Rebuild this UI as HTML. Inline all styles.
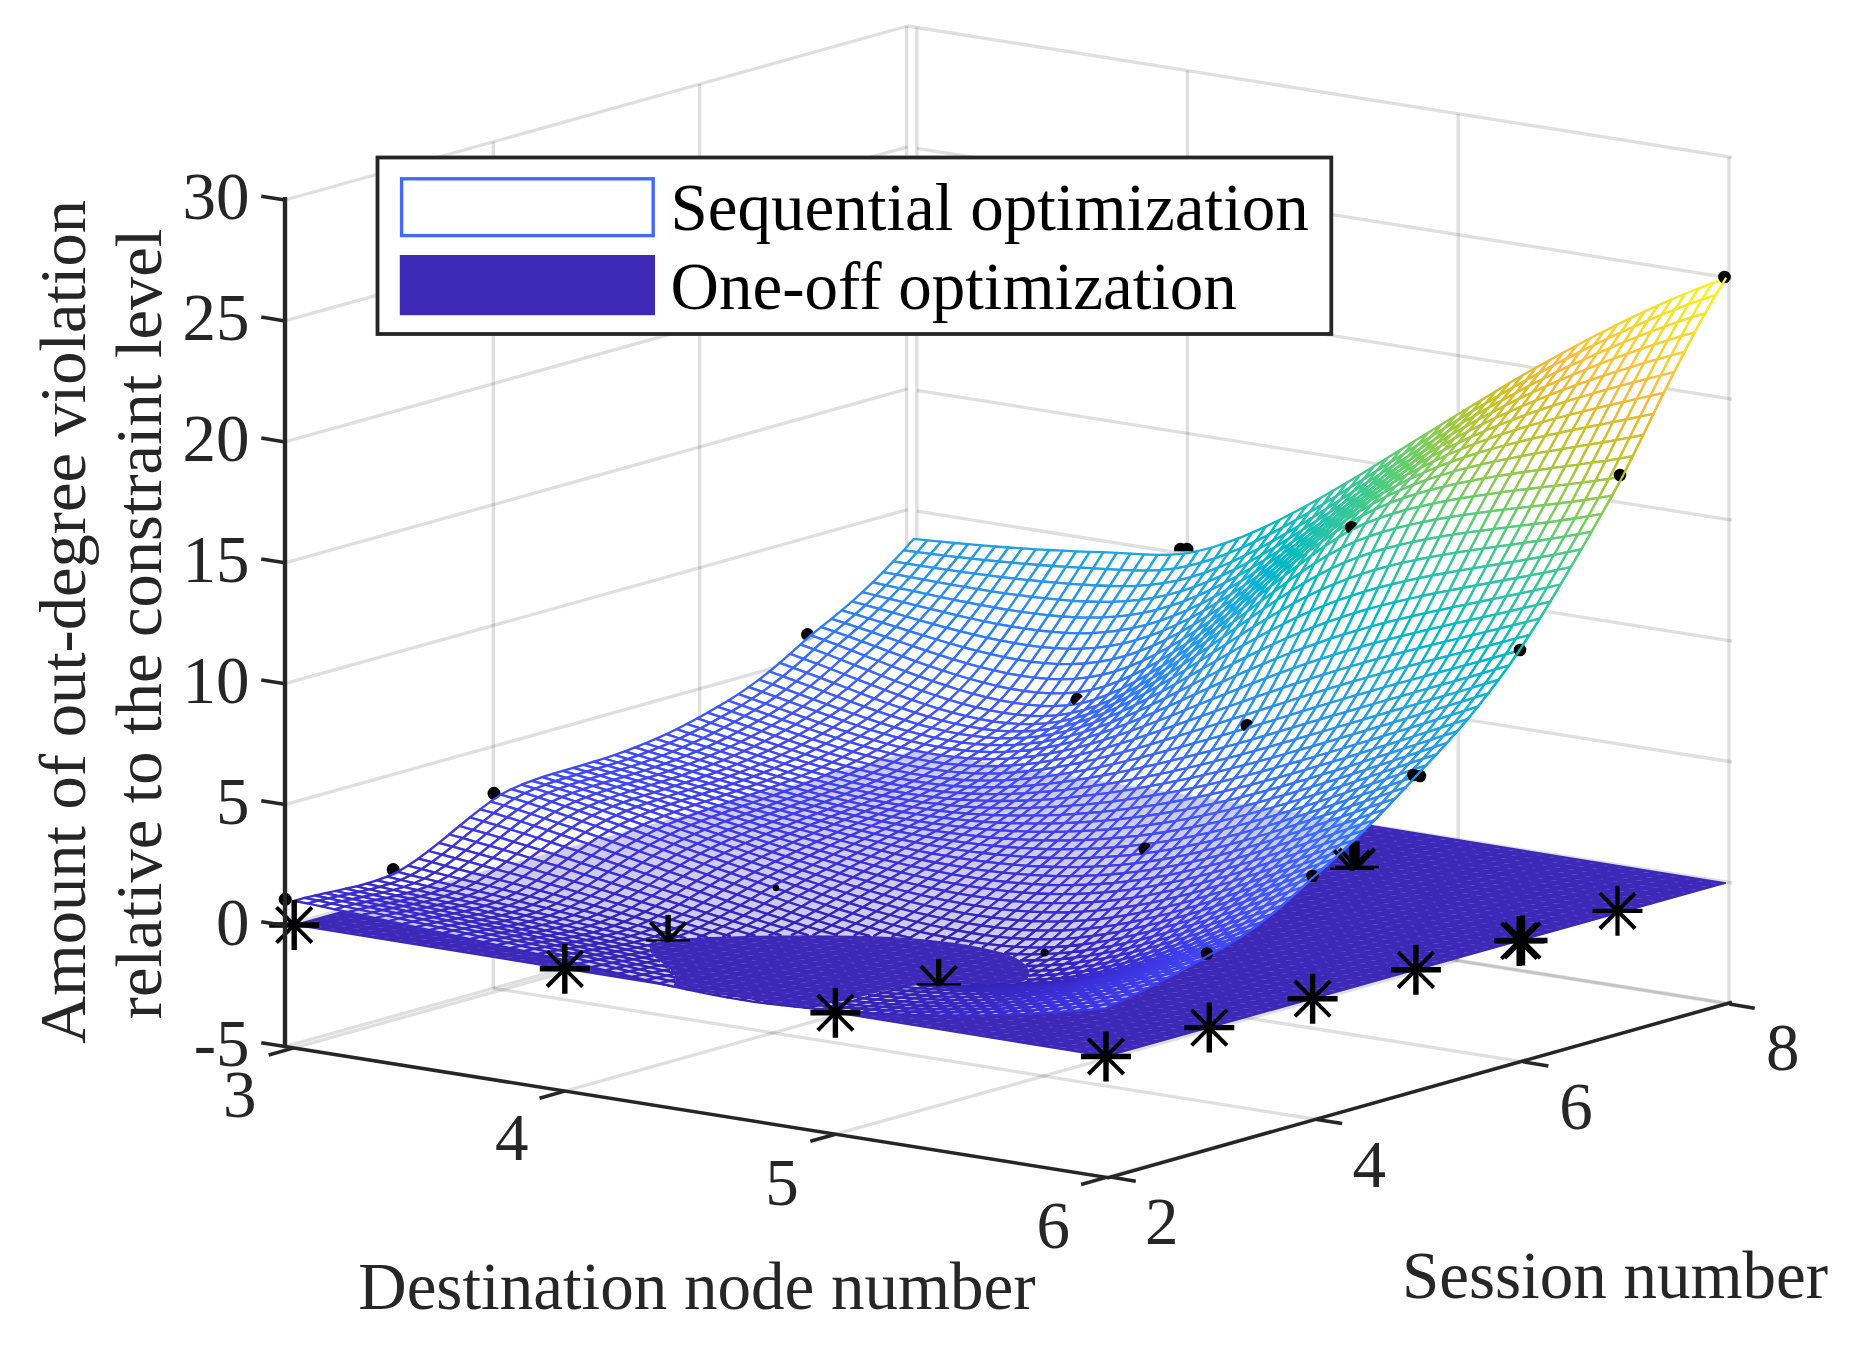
<!DOCTYPE html>
<html lang="en"><head><meta charset="utf-8"><title>Out-degree violation</title>
<style>html,body{margin:0;padding:0;background:#fff}svg{display:block}text{font-family:"Liberation Serif","Times New Roman",serif;font-size:67px;fill:#262626}</style></head><body>
<svg width="1861" height="1353" viewBox="0 0 1861 1353">
<rect width="1861" height="1353" fill="#fff"/>
<g stroke="#262626" stroke-opacity=".15" stroke-width="3.3" fill="none">
<path d="M493.3,988.3V141.8"/>
<path d="M699.6,930.6V84.1"/>
<path d="M906.6,872.8V26.3"/>
<path d="M285,1046.5L907.6,872.5"/>
<path d="M285,925.6L907.6,751.6"/>
<path d="M285,804.6L907.6,630.6"/>
<path d="M285,683.7L907.6,509.7"/>
<path d="M285,562.8L907.6,388.8"/>
<path d="M285,441.9L907.6,267.9"/>
<path d="M285,320.9L907.6,146.9"/>
<path d="M285,200L907.6,26"/>
<path d="M916.9,874V27.5"/>
<path d="M1187.4,917.1V70.6"/>
<path d="M1458.2,960.2V113.7"/>
<path d="M1729,1003.4V156.9"/>
<path d="M916.9,874L1732,1003.9"/>
<path d="M916.9,753.1L1732,883"/>
<path d="M916.9,632.1L1732,762"/>
<path d="M916.9,511.2L1732,641.1"/>
<path d="M916.9,390.3L1732,520.2"/>
<path d="M916.9,269.3L1732,399.2"/>
<path d="M916.9,148.4L1732,278.3"/>
<path d="M916.9,27.5L1732,157.4"/>
<path d="M907.6,26L916.9,27.5"/>
<path d="M293.9,1047.9l622.6,-174"/>
<path d="M564.7,1091.1l622.6,-174"/>
<path d="M835.5,1134.2l622.6,-174"/>
<path d="M1106.3,1177.4l622.6,-174"/>
<path d="M493.3,988.3l823.4,131.2"/>
<path d="M699.6,930.6l823.4,131.2"/>
<path d="M905.9,873l823.4,131.2"/>
</g>
<g fill="#000">
<circle cx="285.2" cy="899.3" r="6.5"/>
<circle cx="393.2" cy="869.6" r="6.5"/>
<circle cx="494" cy="793.3" r="6.5"/>
<circle cx="807.5" cy="634.5" r="6.5"/>
</g>
<g fill="#fff" fill-opacity=".75" stroke-width="2.3" stroke-linejoin="round">
<path d="M909.9,937.9l13.5,3.1l10.4,-6.2l-13.6,-3z" stroke="#3523b6"/>
<path d="M923.4,941l13.6,2.8l10.3,-6.3l-13.5,-2.7z" stroke="#3523b5"/>
<path d="M937,943.8l13.5,2.6l10.3,-6.4l-13.5,-2.5z" stroke="#3523b4"/>
<path d="M950.5,946.4l13.5,2.3l10.4,-6.5l-13.6,-2.2z" stroke="#3523b4"/>
<path d="M964,948.7l13.6,1.9l10.3,-6.5l-13.5,-1.9z" stroke="#3523b4"/>
<path d="M977.5,950.6l13.5,1.6l10.3,-6.6l-13.5,-1.5z" stroke="#3523b5"/>
<path d="M991.1,952.2l13.5,1.3l10.3,-6.7l-13.5,-1.2z" stroke="#3523b6"/>
<path d="M1004.6,953.5l13.5,0.7l10.4,-6.8l-13.6,-0.6z" stroke="#3524b7"/>
<path d="M859,933.1l13.5,3.7l10.3,-5.7l-13.5,-3.7z" stroke="#3524b6"/>
<path d="M872.5,936.8l13.5,3.5l10.4,-5.7l-13.6,-3.5z" stroke="#3523b5"/>
<path d="M886,940.3l13.6,3.3l10.3,-5.7l-13.5,-3.3z" stroke="#3523b3"/>
<path d="M899.6,943.6l13.5,3.1l10.3,-5.7l-13.5,-3.1z" stroke="#3422b2"/>
<path d="M913.1,946.7l13.5,2.8l10.4,-5.7l-13.6,-2.8z" stroke="#3422b1"/>
<path d="M926.6,949.5l13.6,2.6l10.3,-5.7l-13.5,-2.6z" stroke="#3422b0"/>
<path d="M940.2,952.1l13.5,2.3l10.3,-5.7l-13.5,-2.3z" stroke="#3422b0"/>
<path d="M953.7,954.4l13.5,2l10.4,-5.8l-13.6,-1.9z" stroke="#3422b0"/>
<path d="M967.2,956.4l13.5,1.6l10.4,-5.8l-13.5,-1.6z" stroke="#3422b1"/>
<path d="M980.7,958l13.6,1.3l10.3,-5.8l-13.5,-1.3z" stroke="#3422b2"/>
<path d="M994.3,959.3l13.5,0.8l10.3,-5.9l-13.5,-0.7z" stroke="#3522b3"/>
<path d="M1007.8,960.1l13.5,0.4l10.4,-6l-13.6,-0.3z" stroke="#3523b5"/>
<path d="M835.1,934.7l13.6,3.8l10.3,-5.4l-13.6,-3.8z" stroke="#3523b5"/>
<path d="M848.7,938.5l13.5,3.6l10.3,-5.3l-13.5,-3.7z" stroke="#3523b3"/>
<path d="M862.2,942.1l13.5,3.4l10.3,-5.2l-13.5,-3.5z" stroke="#3422b1"/>
<path d="M875.7,945.5l13.5,3.3l10.4,-5.2l-13.6,-3.3z" stroke="#3422b0"/>
<path d="M889.2,948.8l13.6,3l10.3,-5.1l-13.5,-3.1z" stroke="#3421af"/>
<path d="M902.8,951.8l13.5,2.8l10.3,-5.1l-13.5,-2.8z" stroke="#3421ae"/>
<path d="M916.3,954.6l13.5,2.5l10.4,-5l-13.6,-2.6z" stroke="#3421ad"/>
<path d="M929.8,957.1l13.6,2.3l10.3,-5l-13.5,-2.3z" stroke="#3421ad"/>
<path d="M943.4,959.4l13.5,2l10.3,-5l-13.5,-2z" stroke="#3421ad"/>
<path d="M956.9,961.4l13.5,1.7l10.3,-5.1l-13.5,-1.6z" stroke="#3421ae"/>
<path d="M970.4,963.1l13.6,1.3l10.3,-5.1l-13.6,-1.3z" stroke="#3421ae"/>
<path d="M984,964.4l13.5,0.9l10.3,-5.2l-13.5,-0.8z" stroke="#3422b0"/>
<path d="M997.5,965.3l13.5,0.6l10.3,-5.4l-13.5,-0.4z" stroke="#3422b2"/>
<path d="M1011,965.9l13.5,0.2l10.4,-5.6l-13.6,0z" stroke="#3523b4"/>
<path d="M1024.5,966.1l13.6,-0.3l10.3,-5.9l-13.5,0.6z" stroke="#3524b7"/>
<path d="M797.7,932.2l13.6,3.9l10.3,-5.3l-13.5,-4z" stroke="#3523b6"/>
<path d="M811.3,936.1l13.5,3.8l10.3,-5.2l-13.5,-3.9z" stroke="#3523b4"/>
<path d="M824.8,939.9l13.5,3.6l10.4,-5l-13.6,-3.8z" stroke="#3522b2"/>
<path d="M838.3,943.5l13.5,3.5l10.4,-4.9l-13.5,-3.6z" stroke="#3422b0"/>
<path d="M851.9,947l13.6,3.3l10.3,-4.8l-13.5,-3.4z" stroke="#3421af"/>
<path d="M865.4,950.3l13.5,3.1l10.3,-4.6l-13.5,-3.3z" stroke="#3421ad"/>
<path d="M878.9,953.4l13.5,2.9l10.4,-4.5l-13.6,-3z" stroke="#3321ac"/>
<path d="M892.4,956.3l13.6,2.8l10.3,-4.5l-13.5,-2.8z" stroke="#3320ac"/>
<path d="M906,959.1l13.5,2.4l10.3,-4.4l-13.5,-2.5z" stroke="#3320ab"/>
<path d="M919.5,961.5l13.5,2.3l10.4,-4.4l-13.6,-2.3z" stroke="#3320ab"/>
<path d="M933,963.8l13.6,1.9l10.3,-4.3l-13.5,-2z" stroke="#3320ab"/>
<path d="M946.6,965.7l13.5,1.7l10.3,-4.3l-13.5,-1.7z" stroke="#3320ab"/>
<path d="M960.1,967.4l13.5,1.5l10.4,-4.5l-13.6,-1.3z" stroke="#3321ac"/>
<path d="M973.6,968.9l13.6,1l10.3,-4.6l-13.5,-0.9z" stroke="#3421ad"/>
<path d="M987.2,969.9l13.5,0.8l10.3,-4.8l-13.5,-0.6z" stroke="#3421af"/>
<path d="M1000.7,970.7l13.5,0.4l10.3,-5l-13.5,-0.2z" stroke="#3422b1"/>
<path d="M1014.2,971.1l13.5,0l10.4,-5.3l-13.6,0.3z" stroke="#3523b4"/>
<path d="M1027.7,971.1l13.6,-0.4l10.3,-5.6l-13.5,0.7z" stroke="#3524b7"/>
<path d="M773.9,933.3l13.5,3.9l10.3,-5l-13.5,-4z" stroke="#3523b5"/>
<path d="M787.4,937.2l13.5,3.7l10.4,-4.8l-13.6,-3.9z" stroke="#3523b3"/>
<path d="M800.9,940.9l13.6,3.7l10.3,-4.7l-13.5,-3.8z" stroke="#3422b1"/>
<path d="M814.5,944.6l13.5,3.5l10.3,-4.6l-13.5,-3.6z" stroke="#3422b0"/>
<path d="M828,948.1l13.5,3.3l10.3,-4.4l-13.5,-3.5z" stroke="#3421ae"/>
<path d="M841.5,951.4l13.5,3.2l10.4,-4.3l-13.6,-3.3z" stroke="#3321ad"/>
<path d="M855,954.6l13.6,3l10.3,-4.2l-13.5,-3.1z" stroke="#3320ac"/>
<path d="M868.6,957.6l13.5,2.8l10.3,-4.1l-13.5,-2.9z" stroke="#3320ab"/>
<path d="M882.1,960.4l13.5,2.5l10.4,-3.8l-13.6,-2.8z" stroke="#3320aa"/>
<path d="M895.6,962.9l13.6,2.4l10.3,-3.8l-13.5,-2.4z" stroke="#3320a9"/>
<path d="M909.2,965.3l13.5,2.2l10.3,-3.7l-13.5,-2.3z" stroke="#3320a9"/>
<path d="M922.7,967.5l13.5,1.9l10.4,-3.7l-13.6,-1.9z" stroke="#3320a9"/>
<path d="M936.2,969.4l13.6,1.8l10.3,-3.8l-13.5,-1.7z" stroke="#3320aa"/>
<path d="M949.8,971.2l13.5,1.4l10.3,-3.7l-13.5,-1.5z" stroke="#3320ab"/>
<path d="M963.3,972.6l13.5,1.2l10.4,-3.9l-13.6,-1z" stroke="#3320ac"/>
<path d="M976.8,973.8l13.6,1l10.3,-4.1l-13.5,-0.8z" stroke="#3421ad"/>
<path d="M990.4,974.8l13.5,0.6l10.3,-4.3l-13.5,-0.4z" stroke="#3421af"/>
<path d="M1003.9,975.4l13.5,0.3l10.3,-4.6l-13.5,0z" stroke="#3422b1"/>
<path d="M1017.4,975.7l13.5,-0.1l10.4,-4.9l-13.6,0.4z" stroke="#3523b4"/>
<path d="M750,934.3l13.5,3.8l10.4,-4.8l-13.6,-3.9z" stroke="#3523b5"/>
<path d="M763.5,938.1l13.6,3.7l10.3,-4.6l-13.5,-3.9z" stroke="#3523b3"/>
<path d="M777.1,941.8l13.5,3.6l10.3,-4.5l-13.5,-3.7z" stroke="#3422b1"/>
<path d="M790.6,945.4l13.5,3.5l10.4,-4.3l-13.6,-3.7z" stroke="#3421af"/>
<path d="M804.1,948.9l13.6,3.3l10.3,-4.1l-13.5,-3.5z" stroke="#3421ae"/>
<path d="M817.7,952.2l13.5,3.2l10.3,-4l-13.5,-3.3z" stroke="#3321ac"/>
<path d="M831.2,955.4l13.5,3l10.3,-3.8l-13.5,-3.2z" stroke="#3320ab"/>
<path d="M844.7,958.4l13.5,2.8l10.4,-3.6l-13.6,-3z" stroke="#3320aa"/>
<path d="M858.2,961.2l13.6,2.6l10.3,-3.4l-13.5,-2.8z" stroke="#3320a9"/>
<path d="M871.8,963.8l13.5,2.4l10.3,-3.3l-13.5,-2.5z" stroke="#3320a9"/>
<path d="M885.3,966.2l13.5,2.3l10.4,-3.2l-13.6,-2.4z" stroke="#3320a9"/>
<path d="M898.8,968.5l13.6,2.1l10.3,-3.1l-13.5,-2.2z" stroke="#3320a9"/>
<path d="M912.4,970.6l13.5,1.9l10.3,-3.1l-13.5,-1.9z" stroke="#3320a9"/>
<path d="M925.9,972.5l13.5,1.7l10.4,-3l-13.6,-1.8z" stroke="#3320a9"/>
<path d="M939.4,974.2l13.6,1.5l10.3,-3.1l-13.5,-1.4z" stroke="#3320aa"/>
<path d="M953,975.7l13.5,1.3l10.3,-3.2l-13.5,-1.2z" stroke="#3320ab"/>
<path d="M966.5,977l13.5,1l10.4,-3.2l-13.6,-1z" stroke="#3321ac"/>
<path d="M980,978l13.6,0.9l10.3,-3.5l-13.5,-0.6z" stroke="#3421ae"/>
<path d="M993.6,978.9l13.5,0.6l10.3,-3.8l-13.5,-0.3z" stroke="#3422b0"/>
<path d="M1007.1,979.5l13.5,0.3l10.3,-4.2l-13.5,0.1z" stroke="#3522b2"/>
<path d="M1020.6,979.8l13.5,-0.1l10.4,-4.5l-13.6,0.4z" stroke="#3523b5"/>
<path d="M726.1,935.2l13.6,3.6l10.3,-4.5l-13.5,-3.8z" stroke="#3523b5"/>
<path d="M739.7,938.8l13.5,3.6l10.3,-4.3l-13.5,-3.8z" stroke="#3522b3"/>
<path d="M753.2,942.4l13.5,3.6l10.4,-4.2l-13.6,-3.7z" stroke="#3422b1"/>
<path d="M766.7,946l13.6,3.4l10.3,-4l-13.5,-3.6z" stroke="#3421af"/>
<path d="M780.3,949.4l13.5,3.2l10.3,-3.7l-13.5,-3.5z" stroke="#3421ae"/>
<path d="M793.8,952.6l13.5,3.2l10.4,-3.6l-13.6,-3.3z" stroke="#3321ac"/>
<path d="M807.3,955.8l13.6,3l10.3,-3.4l-13.5,-3.2z" stroke="#3320ab"/>
<path d="M820.9,958.8l13.5,2.8l10.3,-3.2l-13.5,-3z" stroke="#3320aa"/>
<path d="M834.4,961.6l13.5,2.7l10.3,-3.1l-13.5,-2.8z" stroke="#3320aa"/>
<path d="M847.9,964.3l13.5,2.4l10.4,-2.9l-13.6,-2.6z" stroke="#3320a9"/>
<path d="M861.4,966.7l13.6,2.3l10.3,-2.8l-13.5,-2.4z" stroke="#3320a9"/>
<path d="M875,969l13.5,2.1l10.3,-2.6l-13.5,-2.3z" stroke="#3320a9"/>
<path d="M888.5,971.1l13.5,1.9l10.4,-2.4l-13.6,-2.1z" stroke="#3320a9"/>
<path d="M902,973l13.6,1.8l10.3,-2.3l-13.5,-1.9z" stroke="#3320a9"/>
<path d="M915.6,974.8l13.5,1.6l10.3,-2.2l-13.5,-1.7z" stroke="#3320aa"/>
<path d="M929.1,976.4l13.5,1.5l10.4,-2.2l-13.6,-1.5z" stroke="#3320aa"/>
<path d="M942.6,977.9l13.6,1.3l10.3,-2.2l-13.5,-1.3z" stroke="#3320ab"/>
<path d="M956.2,979.2l13.5,1.2l10.3,-2.4l-13.5,-1z" stroke="#3321ad"/>
<path d="M969.7,980.4l13.5,1l10.4,-2.5l-13.6,-0.9z" stroke="#3421ae"/>
<path d="M983.2,981.4l13.6,0.8l10.3,-2.7l-13.5,-0.6z" stroke="#3422b0"/>
<path d="M996.8,982.2l13.5,0.6l10.3,-3l-13.5,-0.3z" stroke="#3422b2"/>
<path d="M1010.3,982.8l13.5,0.2l10.3,-3.3l-13.5,0.1z" stroke="#3523b4"/>
<path d="M702.3,935.8l13.5,3.6l10.3,-4.2l-13.5,-3.8z" stroke="#3523b5"/>
<path d="M715.8,939.4l13.6,3.5l10.3,-4.1l-13.6,-3.6z" stroke="#3522b3"/>
<path d="M729.4,942.9l13.5,3.4l10.3,-3.9l-13.5,-3.6z" stroke="#3422b1"/>
<path d="M742.9,946.3l13.5,3.3l10.3,-3.6l-13.5,-3.6z" stroke="#3422b0"/>
<path d="M756.4,949.6l13.5,3.3l10.4,-3.5l-13.6,-3.4z" stroke="#3421ae"/>
<path d="M769.9,952.9l13.6,3l10.3,-3.3l-13.5,-3.2z" stroke="#3421ad"/>
<path d="M783.5,955.9l13.5,3l10.3,-3.1l-13.5,-3.2z" stroke="#3320ac"/>
<path d="M797,958.9l13.5,2.8l10.4,-2.9l-13.6,-3z" stroke="#3320ab"/>
<path d="M810.5,961.7l13.6,2.7l10.3,-2.8l-13.5,-2.8z" stroke="#3320aa"/>
<path d="M824.1,964.4l13.5,2.4l10.3,-2.5l-13.5,-2.7z" stroke="#3320a9"/>
<path d="M837.6,966.8l13.5,2.3l10.3,-2.4l-13.5,-2.4z" stroke="#3320a9"/>
<path d="M851.1,969.1l13.5,2.1l10.4,-2.2l-13.6,-2.3z" stroke="#3320a9"/>
<path d="M864.7,971.2l13.6,1.9l10.3,-2l-13.5,-2.1z" stroke="#3320a9"/>
<path d="M878.2,973.1l13.5,1.8l10.3,-1.9l-13.5,-1.9z" stroke="#3320a9"/>
<path d="M891.7,974.9l13.5,1.6l10.4,-1.7l-13.6,-1.8z" stroke="#3320aa"/>
<path d="M905.2,976.5l13.6,1.5l10.3,-1.6l-13.5,-1.6z" stroke="#3320ab"/>
<path d="M918.8,978l13.5,1.4l10.3,-1.5l-13.5,-1.5z" stroke="#3320ac"/>
<path d="M932.3,979.4l13.5,1.3l10.4,-1.5l-13.6,-1.3z" stroke="#3321ad"/>
<path d="M945.8,980.7l13.6,1.2l10.3,-1.5l-13.5,-1.2z" stroke="#3421ae"/>
<path d="M959.4,981.9l13.5,1l10.3,-1.5l-13.5,-1z" stroke="#3421af"/>
<path d="M972.9,982.9l13.5,0.9l10.4,-1.6l-13.6,-0.8z" stroke="#3422b1"/>
<path d="M986.4,983.8l13.6,0.7l10.3,-1.7l-13.5,-0.6z" stroke="#3522b2"/>
<path d="M1000,984.5l13.5,0.4l10.3,-1.9l-13.5,-0.2z" stroke="#3523b5"/>
<path d="M678.4,936.3l13.6,3.5l10.3,-4l-13.5,-3.6z" stroke="#3523b5"/>
<path d="M692,939.8l13.5,3.4l10.3,-3.8l-13.5,-3.6z" stroke="#3523b3"/>
<path d="M705.5,943.2l13.5,3.3l10.4,-3.6l-13.6,-3.5z" stroke="#3422b2"/>
<path d="M719,946.5l13.6,3.3l10.3,-3.5l-13.5,-3.4z" stroke="#3422b0"/>
<path d="M732.6,949.8l13.5,3.1l10.3,-3.3l-13.5,-3.3z" stroke="#3421af"/>
<path d="M746.1,952.9l13.5,3l10.3,-3l-13.5,-3.3z" stroke="#3421ae"/>
<path d="M759.6,955.9l13.5,2.9l10.4,-2.9l-13.6,-3z" stroke="#3321ad"/>
<path d="M773.1,958.8l13.6,2.8l10.3,-2.7l-13.5,-3z" stroke="#3320ac"/>
<path d="M786.7,961.6l13.5,2.6l10.3,-2.5l-13.5,-2.8z" stroke="#3320ab"/>
<path d="M800.2,964.2l13.5,2.5l10.4,-2.3l-13.6,-2.7z" stroke="#3320aa"/>
<path d="M813.7,966.7l13.6,2.3l10.3,-2.2l-13.5,-2.4z" stroke="#3320aa"/>
<path d="M827.3,969l13.5,2.2l10.3,-2.1l-13.5,-2.3z" stroke="#3320aa"/>
<path d="M840.8,971.2l13.5,1.9l10.3,-1.9l-13.5,-2.1z" stroke="#3320aa"/>
<path d="M854.3,973.1l13.5,1.8l10.4,-1.8l-13.6,-1.9z" stroke="#3320aa"/>
<path d="M867.9,974.9l13.6,1.6l10.3,-1.6l-13.5,-1.8z" stroke="#3320ab"/>
<path d="M881.4,976.5l13.5,1.5l10.3,-1.5l-13.5,-1.6z" stroke="#3320ab"/>
<path d="M894.9,978l13.5,1.3l10.4,-1.3l-13.6,-1.5z" stroke="#3321ac"/>
<path d="M908.4,979.3l13.6,1.2l10.3,-1.1l-13.5,-1.4z" stroke="#3421ad"/>
<path d="M922,980.5l13.5,1.2l10.3,-1l-13.5,-1.3z" stroke="#3421af"/>
<path d="M935.5,981.7l13.5,1.1l10.4,-0.9l-13.6,-1.2z" stroke="#3422b0"/>
<path d="M949,982.8l13.6,1.1l10.3,-1l-13.5,-1z" stroke="#3422b1"/>
<path d="M962.6,983.9l13.5,0.9l10.3,-1l-13.5,-0.9z" stroke="#3522b3"/>
<path d="M976.1,984.8l13.5,0.8l10.4,-1.1l-13.6,-0.7z" stroke="#3523b4"/>
<path d="M668.1,939.9l13.5,3.4l10.4,-3.5l-13.6,-3.5z" stroke="#3523b4"/>
<path d="M681.6,943.3l13.6,3.2l10.3,-3.3l-13.5,-3.4z" stroke="#3522b2"/>
<path d="M695.2,946.5l13.5,3.2l10.3,-3.2l-13.5,-3.3z" stroke="#3422b1"/>
<path d="M708.7,949.7l13.5,3.1l10.4,-3l-13.6,-3.3z" stroke="#3422b0"/>
<path d="M722.2,952.8l13.6,3l10.3,-2.9l-13.5,-3.1z" stroke="#3421af"/>
<path d="M735.8,955.8l13.5,2.9l10.3,-2.8l-13.5,-3z" stroke="#3421ae"/>
<path d="M749.3,958.7l13.5,2.7l10.3,-2.6l-13.5,-2.9z" stroke="#3321ad"/>
<path d="M762.8,961.4l13.5,2.7l10.4,-2.5l-13.6,-2.8z" stroke="#3320ac"/>
<path d="M776.3,964.1l13.6,2.5l10.3,-2.4l-13.5,-2.6z" stroke="#3320ab"/>
<path d="M789.9,966.6l13.5,2.3l10.3,-2.2l-13.5,-2.5z" stroke="#3320ab"/>
<path d="M803.4,968.9l13.5,2.2l10.4,-2.1l-13.6,-2.3z" stroke="#3320ab"/>
<path d="M816.9,971.1l13.6,2l10.3,-1.9l-13.5,-2.2z" stroke="#3320ab"/>
<path d="M830.5,973.1l13.5,1.9l10.3,-1.9l-13.5,-1.9z" stroke="#3320ab"/>
<path d="M844,975l13.5,1.6l10.3,-1.7l-13.5,-1.8z" stroke="#3320ac"/>
<path d="M857.5,976.6l13.5,1.6l10.4,-1.7l-13.6,-1.6z" stroke="#3321ac"/>
<path d="M871,978.2l13.6,1.3l10.3,-1.5l-13.5,-1.5z" stroke="#3421ad"/>
<path d="M884.6,979.5l13.5,1.2l10.3,-1.4l-13.5,-1.3z" stroke="#3421ae"/>
<path d="M898.1,980.7l13.5,1.1l10.4,-1.3l-13.6,-1.2z" stroke="#3421af"/>
<path d="M911.6,981.8l13.6,1l10.3,-1.1l-13.5,-1.2z" stroke="#3422b1"/>
<path d="M925.2,982.8l13.5,1l10.3,-1l-13.5,-1.1z" stroke="#3522b2"/>
<path d="M938.7,983.8l13.5,1.1l10.4,-1l-13.6,-1.1z" stroke="#3523b4"/>
<path d="M952.2,984.9l13.6,1l10.3,-1.1l-13.5,-0.9z" stroke="#3523b5"/>
<path d="M644.2,939.6l13.6,3.3l10.3,-3l-13.5,-3.4z" stroke="#3523b5"/>
<path d="M657.8,942.9l13.5,3.3l10.3,-2.9l-13.5,-3.4z" stroke="#3523b3"/>
<path d="M671.3,946.2l13.5,3.2l10.4,-2.9l-13.6,-3.2z" stroke="#3422b2"/>
<path d="M684.8,949.4l13.6,3l10.3,-2.7l-13.5,-3.2z" stroke="#3422b1"/>
<path d="M698.4,952.4l13.5,3l10.3,-2.6l-13.5,-3.1z" stroke="#3422b0"/>
<path d="M711.9,955.4l13.5,2.9l10.4,-2.5l-13.6,-3z" stroke="#3421af"/>
<path d="M725.4,958.3l13.6,2.8l10.3,-2.4l-13.5,-2.9z" stroke="#3421ae"/>
<path d="M739,961.1l13.5,2.7l10.3,-2.4l-13.5,-2.7z" stroke="#3421ad"/>
<path d="M752.5,963.8l13.5,2.6l10.3,-2.3l-13.5,-2.7z" stroke="#3321ad"/>
<path d="M766,966.4l13.5,2.4l10.4,-2.2l-13.6,-2.5z" stroke="#3321ac"/>
<path d="M779.5,968.8l13.6,2.2l10.3,-2.1l-13.5,-2.3z" stroke="#3320ac"/>
<path d="M793.1,971l13.5,2.2l10.3,-2.1l-13.5,-2.2z" stroke="#3320ac"/>
<path d="M806.6,973.2l13.5,1.9l10.4,-2l-13.6,-2z" stroke="#3320ac"/>
<path d="M820.1,975.1l13.6,1.8l10.3,-1.9l-13.5,-1.9z" stroke="#3321ac"/>
<path d="M833.7,976.9l13.5,1.7l10.3,-2l-13.5,-1.6z" stroke="#3421ad"/>
<path d="M847.2,978.6l13.5,1.5l10.3,-1.9l-13.5,-1.6z" stroke="#3421ae"/>
<path d="M860.7,980.1l13.5,1.3l10.4,-1.9l-13.6,-1.3z" stroke="#3421af"/>
<path d="M874.2,981.4l13.6,1.2l10.3,-1.9l-13.5,-1.2z" stroke="#3422b0"/>
<path d="M887.8,982.6l13.5,1.1l10.3,-1.9l-13.5,-1.1z" stroke="#3422b1"/>
<path d="M901.3,983.7l13.5,1.1l10.4,-2l-13.6,-1z" stroke="#3522b2"/>
<path d="M914.8,984.8l13.6,1l10.3,-2l-13.5,-1z" stroke="#3523b4"/>
<path d="M633.9,942.3l13.5,3.2l10.4,-2.6l-13.6,-3.3z" stroke="#3523b5"/>
<path d="M647.4,945.5l13.6,3.2l10.3,-2.5l-13.5,-3.3z" stroke="#3523b3"/>
<path d="M661,948.7l13.5,3.1l10.3,-2.4l-13.5,-3.2z" stroke="#3522b2"/>
<path d="M674.5,951.8l13.5,3l10.4,-2.4l-13.6,-3z" stroke="#3422b1"/>
<path d="M688,954.8l13.6,3l10.3,-2.4l-13.5,-3z" stroke="#3422b0"/>
<path d="M701.6,957.8l13.5,2.8l10.3,-2.3l-13.5,-2.9z" stroke="#3421af"/>
<path d="M715.1,960.6l13.5,2.8l10.4,-2.3l-13.6,-2.8z" stroke="#3421ae"/>
<path d="M728.6,963.4l13.6,2.6l10.3,-2.2l-13.5,-2.7z" stroke="#3421ae"/>
<path d="M742.1,966l13.5,2.5l10.3,-2.1l-13.5,-2.6z" stroke="#3421ad"/>
<path d="M755.7,968.5l13.5,2.4l10.3,-2.1l-13.5,-2.4z" stroke="#3421ad"/>
<path d="M769.2,970.9l13.5,2.3l10.4,-2.2l-13.6,-2.2z" stroke="#3321ad"/>
<path d="M782.7,973.2l13.6,2.1l10.3,-2.1l-13.5,-2.2z" stroke="#3321ad"/>
<path d="M796.3,975.3l13.5,2l10.3,-2.2l-13.5,-1.9z" stroke="#3421ad"/>
<path d="M809.8,977.3l13.5,1.8l10.4,-2.2l-13.6,-1.8z" stroke="#3421ad"/>
<path d="M823.3,979.1l13.6,1.7l10.3,-2.2l-13.5,-1.7z" stroke="#3421ae"/>
<path d="M836.9,980.8l13.5,1.5l10.3,-2.2l-13.5,-1.5z" stroke="#3421af"/>
<path d="M850.4,982.3l13.5,1.4l10.3,-2.3l-13.5,-1.3z" stroke="#3422b0"/>
<path d="M863.9,983.7l13.5,1.3l10.4,-2.4l-13.6,-1.2z" stroke="#3422b1"/>
<path d="M877.4,985l13.6,1.1l10.3,-2.4l-13.5,-1.1z" stroke="#3422b2"/>
<path d="M891,986.1l13.5,1.1l10.3,-2.4l-13.5,-1.1z" stroke="#3523b3"/>
<path d="M904.5,987.2l13.5,1.1l10.4,-2.5l-13.6,-1z" stroke="#3523b5"/>
<path d="M637.1,947.7l13.5,3.2l10.4,-2.2l-13.6,-3.2z" stroke="#3523b4"/>
<path d="M650.6,950.9l13.6,3.1l10.3,-2.2l-13.5,-3.1z" stroke="#3522b3"/>
<path d="M664.2,954l13.5,3l10.3,-2.2l-13.5,-3z" stroke="#3422b2"/>
<path d="M677.7,957l13.5,2.9l10.4,-2.1l-13.6,-3z" stroke="#3422b1"/>
<path d="M691.2,959.9l13.6,2.8l10.3,-2.1l-13.5,-2.8z" stroke="#3422b0"/>
<path d="M704.8,962.7l13.5,2.8l10.3,-2.1l-13.5,-2.8z" stroke="#3421af"/>
<path d="M718.3,965.5l13.5,2.6l10.4,-2.1l-13.6,-2.6z" stroke="#3421af"/>
<path d="M731.8,968.1l13.6,2.6l10.3,-2.2l-13.5,-2.5z" stroke="#3421ae"/>
<path d="M745.4,970.7l13.5,2.4l10.3,-2.2l-13.5,-2.4z" stroke="#3421ae"/>
<path d="M758.9,973.1l13.5,2.3l10.3,-2.2l-13.5,-2.3z" stroke="#3421ae"/>
<path d="M772.4,975.4l13.5,2.1l10.4,-2.2l-13.6,-2.1z" stroke="#3421ae"/>
<path d="M785.9,977.5l13.6,2l10.3,-2.2l-13.5,-2z" stroke="#3421ae"/>
<path d="M799.5,979.5l13.5,1.9l10.3,-2.3l-13.5,-1.8z" stroke="#3421ae"/>
<path d="M813,981.4l13.5,1.7l10.4,-2.3l-13.6,-1.7z" stroke="#3421af"/>
<path d="M826.5,983.1l13.6,1.6l10.3,-2.4l-13.5,-1.5z" stroke="#3421af"/>
<path d="M840.1,984.7l13.5,1.5l10.3,-2.5l-13.5,-1.4z" stroke="#3422b0"/>
<path d="M853.6,986.2l13.5,1.4l10.3,-2.6l-13.5,-1.3z" stroke="#3422b1"/>
<path d="M867.1,987.6l13.6,1.2l10.3,-2.7l-13.6,-1.1z" stroke="#3522b2"/>
<path d="M880.7,988.8l13.5,1.2l10.3,-2.8l-13.5,-1.1z" stroke="#3523b4"/>
<path d="M626.8,949.7l13.5,3.1l10.3,-1.9l-13.5,-3.2z" stroke="#3523b5"/>
<path d="M640.3,952.8l13.5,3.1l10.4,-1.9l-13.6,-3.1z" stroke="#3523b4"/>
<path d="M653.8,955.9l13.6,3l10.3,-1.9l-13.5,-3z" stroke="#3522b3"/>
<path d="M667.4,958.9l13.5,3l10.3,-2l-13.5,-2.9z" stroke="#3422b2"/>
<path d="M680.9,961.9l13.5,2.8l10.4,-2l-13.6,-2.8z" stroke="#3422b1"/>
<path d="M694.4,964.7l13.6,2.8l10.3,-2l-13.5,-2.8z" stroke="#3422b0"/>
<path d="M708,967.5l13.5,2.7l10.3,-2.1l-13.5,-2.6z" stroke="#3422b0"/>
<path d="M721.5,970.2l13.5,2.6l10.4,-2.1l-13.6,-2.6z" stroke="#3421af"/>
<path d="M735,972.8l13.6,2.5l10.3,-2.2l-13.5,-2.4z" stroke="#3421af"/>
<path d="M748.6,975.3l13.5,2.3l10.3,-2.2l-13.5,-2.3z" stroke="#3421af"/>
<path d="M762.1,977.6l13.5,2.2l10.3,-2.3l-13.5,-2.1z" stroke="#3421ae"/>
<path d="M775.6,979.8l13.5,2.1l10.4,-2.4l-13.6,-2z" stroke="#3421af"/>
<path d="M789.1,981.9l13.6,1.9l10.3,-2.4l-13.5,-1.9z" stroke="#3421af"/>
<path d="M802.7,983.8l13.5,1.8l10.3,-2.5l-13.5,-1.7z" stroke="#3421af"/>
<path d="M816.2,985.6l13.5,1.7l10.4,-2.6l-13.6,-1.6z" stroke="#3422b0"/>
<path d="M829.7,987.3l13.6,1.5l10.3,-2.6l-13.5,-1.5z" stroke="#3422b1"/>
<path d="M843.3,988.8l13.5,1.5l10.3,-2.7l-13.5,-1.4z" stroke="#3422b2"/>
<path d="M856.8,990.3l13.5,1.3l10.4,-2.8l-13.6,-1.2z" stroke="#3522b3"/>
<path d="M870.3,991.6l13.6,1.2l10.3,-2.8l-13.5,-1.2z" stroke="#3523b4"/>
<path d="M630,954.6l13.5,3.1l10.3,-1.8l-13.5,-3.1z" stroke="#3523b5"/>
<path d="M643.5,957.7l13.5,3.1l10.4,-1.9l-13.6,-3z" stroke="#3523b4"/>
<path d="M657,960.8l13.6,3l10.3,-1.9l-13.5,-3z" stroke="#3523b3"/>
<path d="M670.6,963.8l13.5,2.9l10.3,-2l-13.5,-2.8z" stroke="#3522b2"/>
<path d="M684.1,966.7l13.5,2.8l10.4,-2l-13.6,-2.8z" stroke="#3422b1"/>
<path d="M697.6,969.5l13.6,2.8l10.3,-2.1l-13.5,-2.7z" stroke="#3422b1"/>
<path d="M711.2,972.3l13.5,2.6l10.3,-2.1l-13.5,-2.6z" stroke="#3422b0"/>
<path d="M724.7,974.9l13.5,2.6l10.4,-2.2l-13.6,-2.5z" stroke="#3422b0"/>
<path d="M738.2,977.5l13.6,2.4l10.3,-2.3l-13.5,-2.3z" stroke="#3421af"/>
<path d="M751.8,979.9l13.5,2.3l10.3,-2.4l-13.5,-2.2z" stroke="#3421af"/>
<path d="M765.3,982.2l13.5,2.1l10.3,-2.4l-13.5,-2.1z" stroke="#3421af"/>
<path d="M778.8,984.3l13.5,2l10.4,-2.5l-13.6,-1.9z" stroke="#3421af"/>
<path d="M792.3,986.3l13.6,1.9l10.3,-2.6l-13.5,-1.8z" stroke="#3422b0"/>
<path d="M805.9,988.2l13.5,1.8l10.3,-2.7l-13.5,-1.7z" stroke="#3422b0"/>
<path d="M819.4,990l13.5,1.6l10.4,-2.8l-13.6,-1.5z" stroke="#3422b1"/>
<path d="M832.9,991.6l13.6,1.4l10.3,-2.7l-13.5,-1.5z" stroke="#3422b2"/>
<path d="M846.5,993l13.5,1.4l10.3,-2.8l-13.5,-1.3z" stroke="#3522b3"/>
<path d="M860,994.4l13.5,1.2l10.4,-2.8l-13.6,-1.2z" stroke="#3523b4"/>
<path d="M646.7,962.5l13.5,3.1l10.4,-1.8l-13.6,-3z" stroke="#3523b4"/>
<path d="M660.2,965.6l13.6,3l10.3,-1.9l-13.5,-2.9z" stroke="#3523b3"/>
<path d="M673.8,968.6l13.5,2.9l10.3,-2l-13.5,-2.8z" stroke="#3522b3"/>
<path d="M687.3,971.5l13.5,2.9l10.4,-2.1l-13.6,-2.8z" stroke="#3422b2"/>
<path d="M700.8,974.4l13.6,2.7l10.3,-2.2l-13.5,-2.6z" stroke="#3422b1"/>
<path d="M714.4,977.1l13.5,2.6l10.3,-2.2l-13.5,-2.6z" stroke="#3422b1"/>
<path d="M727.9,979.7l13.5,2.5l10.4,-2.3l-13.6,-2.4z" stroke="#3422b0"/>
<path d="M741.4,982.2l13.6,2.4l10.3,-2.4l-13.5,-2.3z" stroke="#3422b0"/>
<path d="M755,984.6l13.5,2.3l10.3,-2.6l-13.5,-2.1z" stroke="#3422b0"/>
<path d="M768.5,986.9l13.5,2l10.3,-2.6l-13.5,-2z" stroke="#3422b0"/>
<path d="M782,988.9l13.5,2l10.4,-2.7l-13.6,-1.9z" stroke="#3422b0"/>
<path d="M795.5,990.9l13.6,1.8l10.3,-2.7l-13.5,-1.8z" stroke="#3422b1"/>
<path d="M809.1,992.7l13.5,1.6l10.3,-2.7l-13.5,-1.6z" stroke="#3422b1"/>
<path d="M822.6,994.3l13.5,1.5l10.4,-2.8l-13.6,-1.4z" stroke="#3422b2"/>
<path d="M836.1,995.8l13.6,1.4l10.3,-2.8l-13.5,-1.4z" stroke="#3522b3"/>
<path d="M849.7,997.2l13.5,1.3l10.3,-2.9l-13.5,-1.2z" stroke="#3523b4"/>
<path d="M649.9,967.4l13.5,3.1l10.4,-1.9l-13.6,-3z" stroke="#3523b5"/>
<path d="M663.4,970.5l13.6,3l10.3,-2l-13.5,-2.9z" stroke="#3523b4"/>
<path d="M677,973.5l13.5,3l10.3,-2.1l-13.5,-2.9z" stroke="#3522b3"/>
<path d="M690.5,976.5l13.5,2.8l10.4,-2.2l-13.6,-2.7z" stroke="#3422b2"/>
<path d="M704,979.3l13.6,2.8l10.3,-2.4l-13.5,-2.6z" stroke="#3422b1"/>
<path d="M717.6,982.1l13.5,2.6l10.3,-2.5l-13.5,-2.5z" stroke="#3422b1"/>
<path d="M731.1,984.7l13.5,2.4l10.4,-2.5l-13.6,-2.4z" stroke="#3422b0"/>
<path d="M744.6,987.1l13.5,2.4l10.4,-2.6l-13.5,-2.3z" stroke="#3422b0"/>
<path d="M758.1,989.5l13.6,2.1l10.3,-2.7l-13.5,-2z" stroke="#3422b0"/>
<path d="M771.7,991.6l13.5,2l10.3,-2.7l-13.5,-2z" stroke="#3422b0"/>
<path d="M785.2,993.6l13.5,1.8l10.4,-2.7l-13.6,-1.8z" stroke="#3422b1"/>
<path d="M798.7,995.4l13.6,1.7l10.3,-2.8l-13.5,-1.6z" stroke="#3422b1"/>
<path d="M812.3,997.1l13.5,1.5l10.3,-2.8l-13.5,-1.5z" stroke="#3522b2"/>
<path d="M825.8,998.6l13.5,1.4l10.4,-2.8l-13.6,-1.4z" stroke="#3522b3"/>
<path d="M839.3,1000l13.6,1.2l10.3,-2.7l-13.5,-1.3z" stroke="#3523b4"/>
<path d="M653.1,972.5l13.5,3.1l10.4,-2.1l-13.6,-3z" stroke="#3523b5"/>
<path d="M666.6,975.6l13.6,3.1l10.3,-2.2l-13.5,-3z" stroke="#3523b4"/>
<path d="M680.2,978.7l13.5,2.9l10.3,-2.3l-13.5,-2.8z" stroke="#3522b3"/>
<path d="M693.7,981.6l13.5,2.9l10.4,-2.4l-13.6,-2.8z" stroke="#3522b2"/>
<path d="M707.2,984.5l13.6,2.7l10.3,-2.5l-13.5,-2.6z" stroke="#3422b1"/>
<path d="M720.8,987.2l13.5,2.5l10.3,-2.6l-13.5,-2.4z" stroke="#3422b1"/>
<path d="M734.3,989.7l13.5,2.4l10.3,-2.6l-13.5,-2.4z" stroke="#3422b1"/>
<path d="M747.8,992.1l13.6,2.2l10.3,-2.7l-13.6,-2.1z" stroke="#3422b1"/>
<path d="M761.4,994.3l13.5,2l10.3,-2.7l-13.5,-2z" stroke="#3422b1"/>
<path d="M774.9,996.3l13.5,1.9l10.3,-2.8l-13.5,-1.8z" stroke="#3422b1"/>
<path d="M788.4,998.2l13.5,1.6l10.4,-2.7l-13.6,-1.7z" stroke="#3422b2"/>
<path d="M801.9,999.8l13.6,1.5l10.3,-2.7l-13.5,-1.5z" stroke="#3522b2"/>
<path d="M815.5,1001.3l13.5,1.4l10.3,-2.7l-13.5,-1.4z" stroke="#3523b3"/>
<path d="M829,1002.7l13.5,1.2l10.4,-2.7l-13.6,-1.2z" stroke="#3523b4"/>
<path d="M656.3,977.8l13.5,3.1l10.4,-2.2l-13.6,-3.1z" stroke="#3523b5"/>
<path d="M669.8,980.9l13.6,3.1l10.3,-2.4l-13.5,-2.9z" stroke="#3523b4"/>
<path d="M683.4,984l13.5,2.9l10.3,-2.4l-13.5,-2.9z" stroke="#3522b3"/>
<path d="M696.9,986.9l13.5,2.8l10.4,-2.5l-13.6,-2.7z" stroke="#3422b2"/>
<path d="M710.4,989.7l13.6,2.6l10.3,-2.6l-13.5,-2.5z" stroke="#3422b1"/>
<path d="M724,992.3l13.5,2.5l10.3,-2.7l-13.5,-2.4z" stroke="#3422b1"/>
<path d="M737.5,994.8l13.5,2.3l10.4,-2.8l-13.6,-2.2z" stroke="#3422b1"/>
<path d="M751,997.1l13.6,2l10.3,-2.8l-13.5,-2z" stroke="#3422b1"/>
<path d="M764.6,999.1l13.5,1.8l10.3,-2.7l-13.5,-1.9z" stroke="#3422b1"/>
<path d="M778.1,1000.9l13.5,1.6l10.3,-2.7l-13.5,-1.6z" stroke="#3422b2"/>
<path d="M791.6,1002.5l13.5,1.5l10.4,-2.7l-13.6,-1.5z" stroke="#3522b2"/>
<path d="M805.1,1004l13.6,1.3l10.3,-2.6l-13.5,-1.4z" stroke="#3523b3"/>
<path d="M818.7,1005.3l13.5,1.3l10.3,-2.7l-13.5,-1.2z" stroke="#3523b5"/>
<path d="M659.5,983.3l13.5,3.1l10.4,-2.4l-13.6,-3.1z" stroke="#3523b4"/>
<path d="M673,986.4l13.6,2.9l10.3,-2.4l-13.5,-2.9z" stroke="#3523b3"/>
<path d="M686.6,989.3l13.5,2.9l10.3,-2.5l-13.5,-2.8z" stroke="#3522b2"/>
<path d="M700.1,992.2l13.5,2.7l10.4,-2.6l-13.6,-2.6z" stroke="#3422b2"/>
<path d="M713.6,994.9l13.6,2.5l10.3,-2.6l-13.5,-2.5z" stroke="#3422b1"/>
<path d="M727.2,997.4l13.5,2.3l10.3,-2.6l-13.5,-2.3z" stroke="#3422b1"/>
<path d="M740.7,999.7l13.5,2.1l10.4,-2.7l-13.6,-2z" stroke="#3422b1"/>
<path d="M754.2,1001.8l13.6,1.7l10.3,-2.6l-13.5,-1.8z" stroke="#3422b1"/>
<path d="M767.8,1003.5l13.5,1.7l10.3,-2.7l-13.5,-1.6z" stroke="#3422b2"/>
<path d="M781.3,1005.2l13.5,1.4l10.3,-2.6l-13.5,-1.5z" stroke="#3522b3"/>
<path d="M794.8,1006.6l13.5,1.3l10.4,-2.6l-13.6,-1.3z" stroke="#3523b4"/>
</g>
<defs><pattern id="pd" width="1" height="1" patternUnits="userSpaceOnUse" patternTransform="matrix(13.530 2.192 10.330 -2.890 294.2 925.0)"><rect width="1" height="1" fill="#3e28b8"/><rect x=".35" y=".4" width=".3" height=".2" fill="#5a4ac8"/></pattern></defs>
<path d="M294.2,925L1106,1056.5L1725.8,883.1L914,751.6Z" fill="url(#pd)" stroke="#3e28b8" stroke-width="1.5"/>
<g fill="#fff" fill-opacity=".75" stroke-width="2.3" stroke-linejoin="round">
<path d="M903.7,550.3l13.5,1.9l10.3,-11.9l-13.5,-1.5z" stroke="#249de6"/>
<path d="M917.2,552.2l13.5,1.7l10.4,-12.2l-13.6,-1.4z" stroke="#249de6"/>
<path d="M930.7,553.9l13.6,1.7l10.3,-12.6l-13.5,-1.3z" stroke="#249ee6"/>
<path d="M944.3,555.6l13.5,1.6l10.3,-13l-13.5,-1.2z" stroke="#249ee6"/>
<path d="M957.8,557.2l13.5,1.5l10.3,-13.3l-13.5,-1.2z" stroke="#249ee6"/>
<path d="M971.3,558.7l13.5,1.4l10.4,-13.6l-13.6,-1.1z" stroke="#249fe5"/>
<path d="M984.8,560.1l13.6,1.4l10.3,-14l-13.5,-1z" stroke="#239fe5"/>
<path d="M998.4,561.5l13.5,1.2l10.3,-14.3l-13.5,-0.9z" stroke="#23a0e5"/>
<path d="M1011.9,562.7l13.5,1.2l10.4,-14.6l-13.6,-0.9z" stroke="#23a0e5"/>
<path d="M1025.4,563.9l13.6,1.1l10.3,-15l-13.5,-0.7z" stroke="#22a1e4"/>
<path d="M1039,565l13.5,1l10.3,-15.3l-13.5,-0.7z" stroke="#22a2e4"/>
<path d="M1052.5,566l13.5,0.9l10.4,-15.6l-13.6,-0.6z" stroke="#22a2e4"/>
<path d="M1066,566.9l13.6,0.8l10.3,-15.9l-13.5,-0.5z" stroke="#21a3e3"/>
<path d="M1079.6,567.7l13.5,0.7l10.3,-16.2l-13.5,-0.4z" stroke="#20a4e3"/>
<path d="M1093.1,568.4l13.5,0.7l10.3,-16.3l-13.5,-0.6z" stroke="#20a5e3"/>
<path d="M1106.6,569.1l13.6,0.8l10.3,-16.3l-13.6,-0.8z" stroke="#1fa5e2"/>
<path d="M1120.2,569.9l13.5,0.5l10.3,-16l-13.5,-0.8z" stroke="#1fa6e2"/>
<path d="M1133.7,570.4l13.5,0.2l10.3,-15.7l-13.5,-0.5z" stroke="#1ea7e1"/>
<path d="M1147.2,570.6l13.5,-0.5l10.4,-15.4l-13.6,0.2z" stroke="#1ea8e0"/>
<path d="M1160.7,570.1l13.6,-1.5l10.3,-15l-13.5,1.1z" stroke="#1ca9e0"/>
<path d="M1174.3,568.6l13.5,-2.4l10.3,-15.2l-13.5,2.6z" stroke="#1babde"/>
<path d="M1187.8,566.2l13.5,-3.5l10.4,-15.2l-13.6,3.5z" stroke="#19addc"/>
<path d="M1201.3,562.7l13.6,-4.3l10.3,-15.3l-13.5,4.4z" stroke="#15afd8"/>
<path d="M1214.9,558.4l13.5,-5.1l10.3,-15.1l-13.5,4.9z" stroke="#0fb2d5"/>
<path d="M1228.4,553.3l13.5,-5.6l10.3,-15.1l-13.5,5.6z" stroke="#07b5d0"/>
<path d="M1241.9,547.7l13.5,-6.3l10.4,-14.9l-13.6,6.1z" stroke="#02b7cb"/>
<path d="M1255.5,541.4l13.6,-6.7l10.3,-14.7l-13.5,6.5z" stroke="#02bac5"/>
<path d="M1269,534.7l13.5,-7.1l10.3,-14.5l-13.5,6.9z" stroke="#08bcbf"/>
<path d="M1282.5,527.6l13.5,-7.5l10.4,-14.3l-13.6,7.3z" stroke="#14beb8"/>
<path d="M1296,520.1l13.6,-7.8l10.3,-14l-13.5,7.5z" stroke="#20c1b1"/>
<path d="M1309.6,512.3l13.5,-8l10.3,-13.8l-13.5,7.8z" stroke="#29c3aa"/>
<path d="M1323.1,504.3l13.5,-8.3l10.4,-13.5l-13.6,8z" stroke="#30c5a2"/>
<path d="M1336.6,496l13.6,-8.4l10.3,-13.2l-13.5,8.1z" stroke="#36c799"/>
<path d="M1350.2,487.6l13.5,-8.4l10.3,-13l-13.5,8.2z" stroke="#3eca8f"/>
<path d="M1363.7,479.2l13.5,-8.6l10.4,-12.8l-13.6,8.4z" stroke="#49cb85"/>
<path d="M1377.2,470.6l13.6,-8.5l10.3,-12.6l-13.5,8.3z" stroke="#57cc7a"/>
<path d="M1390.8,462.1l13.5,-8.6l10.3,-12.4l-13.5,8.4z" stroke="#65cd6e"/>
<path d="M1404.3,453.5l13.5,-8.5l10.3,-12.3l-13.5,8.4z" stroke="#75cc61"/>
<path d="M1417.8,445l13.5,-8.5l10.4,-12.2l-13.6,8.4z" stroke="#85cb56"/>
<path d="M1431.3,436.5l13.6,-8.4l10.3,-12.1l-13.5,8.3z" stroke="#95ca49"/>
<path d="M1444.9,428.1l13.5,-8.3l10.3,-12.1l-13.5,8.3z" stroke="#a4c83e"/>
<path d="M1458.4,419.8l13.5,-8.3l10.4,-12.1l-13.6,8.3z" stroke="#b2c534"/>
<path d="M1471.9,411.5l13.6,-8l10.3,-12.3l-13.5,8.2z" stroke="#c0c32d"/>
<path d="M1485.5,403.5l13.5,-8l10.3,-12.4l-13.5,8.1z" stroke="#cdc028"/>
<path d="M1499,395.5l13.5,-7.7l10.3,-12.6l-13.5,7.9z" stroke="#d9be28"/>
<path d="M1512.5,387.8l13.6,-7.6l10.3,-12.7l-13.6,7.7z" stroke="#e3bb2c"/>
<path d="M1526.1,380.2l13.5,-7.4l10.3,-12.9l-13.5,7.6z" stroke="#edba33"/>
<path d="M1539.6,372.8l13.5,-7.2l10.3,-13.2l-13.5,7.5z" stroke="#f5ba3b"/>
<path d="M1553.1,365.6l13.5,-7l10.4,-13.4l-13.6,7.2z" stroke="#fcbc3d"/>
<path d="M1566.6,358.6l13.6,-6.8l10.3,-13.7l-13.5,7.1z" stroke="#fec13a"/>
<path d="M1580.2,351.8l13.5,-6.6l10.3,-14l-13.5,6.9z" stroke="#fec736"/>
<path d="M1593.7,345.2l13.5,-6.5l10.4,-14.3l-13.6,6.8z" stroke="#fdcc32"/>
<path d="M1607.2,338.7l13.6,-6.2l10.3,-14.6l-13.5,6.5z" stroke="#fbd22f"/>
<path d="M1620.8,332.5l13.5,-6l10.3,-15l-13.5,6.4z" stroke="#f9d72c"/>
<path d="M1634.3,326.5l13.5,-5.9l10.4,-15.2l-13.6,6.1z" stroke="#f7dd2a"/>
<path d="M1647.8,320.6l13.6,-5.6l10.3,-15.6l-13.5,6z" stroke="#f5e227"/>
<path d="M1661.4,315l13.5,-5.4l10.3,-15.9l-13.5,5.7z" stroke="#f5e725"/>
<path d="M1674.9,309.6l13.5,-5.2l10.3,-16.1l-13.5,5.4z" stroke="#f5ec22"/>
<path d="M1688.4,304.4l13.5,-4.8l10.4,-16.4l-13.6,5.1z" stroke="#f6f01f"/>
<path d="M1701.9,299.6l13.6,-4.4l10.3,-16.8l-13.5,4.8z" stroke="#f7f51b"/>
<path d="M893.3,561.4l13.6,2.2l10.3,-11.4l-13.5,-1.9z" stroke="#2699e9"/>
<path d="M906.9,563.6l13.5,2.2l10.3,-11.9l-13.5,-1.7z" stroke="#2699e9"/>
<path d="M920.4,565.8l13.5,2.1l10.4,-12.3l-13.6,-1.7z" stroke="#2699e9"/>
<path d="M933.9,567.9l13.6,1.9l10.3,-12.6l-13.5,-1.6z" stroke="#2699e9"/>
<path d="M947.5,569.8l13.5,2l10.3,-13.1l-13.5,-1.5z" stroke="#269ae9"/>
<path d="M961,571.8l13.5,1.8l10.3,-13.5l-13.5,-1.4z" stroke="#269ae9"/>
<path d="M974.5,573.6l13.6,1.8l10.3,-13.9l-13.6,-1.4z" stroke="#269ae8"/>
<path d="M988.1,575.4l13.5,1.7l10.3,-14.4l-13.5,-1.2z" stroke="#269ae8"/>
<path d="M1001.6,577.1l13.5,1.6l10.3,-14.8l-13.5,-1.2z" stroke="#259be8"/>
<path d="M1015.1,578.7l13.5,1.4l10.4,-15.1l-13.6,-1.1z" stroke="#259be8"/>
<path d="M1028.6,580.1l13.6,1.4l10.3,-15.5l-13.5,-1z" stroke="#259ce7"/>
<path d="M1042.2,581.5l13.5,1.2l10.3,-15.8l-13.5,-0.9z" stroke="#259ce7"/>
<path d="M1055.7,582.7l13.5,1.1l10.4,-16.1l-13.6,-0.8z" stroke="#259de7"/>
<path d="M1069.2,583.8l13.6,0.9l10.3,-16.3l-13.5,-0.7z" stroke="#249de6"/>
<path d="M1082.8,584.7l13.5,0.8l10.3,-16.4l-13.5,-0.7z" stroke="#249ee6"/>
<path d="M1096.3,585.5l13.5,0.5l10.4,-16.1l-13.6,-0.8z" stroke="#249fe5"/>
<path d="M1109.8,586l13.6,0.2l10.3,-15.8l-13.5,-0.5z" stroke="#23a0e5"/>
<path d="M1123.4,586.2l13.5,-0.3l10.3,-15.3l-13.5,-0.2z" stroke="#23a1e5"/>
<path d="M1136.9,585.9l13.5,-1l10.3,-14.8l-13.5,0.5z" stroke="#22a2e4"/>
<path d="M1150.4,584.9l13.5,-1.7l10.4,-14.6l-13.6,1.5z" stroke="#21a3e3"/>
<path d="M1163.9,583.2l13.6,-2.6l10.3,-14.4l-13.5,2.4z" stroke="#1fa5e2"/>
<path d="M1177.5,580.6l13.5,-3.5l10.3,-14.4l-13.5,3.5z" stroke="#1da8e0"/>
<path d="M1191,577.1l13.5,-4.3l10.4,-14.4l-13.6,4.3z" stroke="#1babde"/>
<path d="M1204.5,572.8l13.6,-5.1l10.3,-14.4l-13.5,5.1z" stroke="#18aedb"/>
<path d="M1218.1,567.7l13.5,-5.7l10.3,-14.3l-13.5,5.6z" stroke="#13b0d7"/>
<path d="M1231.6,562l13.5,-6.4l10.3,-14.2l-13.5,6.3z" stroke="#0bb3d2"/>
<path d="M1245.1,555.6l13.5,-6.9l10.4,-14l-13.6,6.7z" stroke="#04b6cd"/>
<path d="M1258.7,548.7l13.6,-7.3l10.3,-13.8l-13.5,7.1z" stroke="#01b9c7"/>
<path d="M1272.2,541.4l13.5,-7.7l10.3,-13.6l-13.5,7.5z" stroke="#06bcc0"/>
<path d="M1285.7,533.7l13.5,-8l10.4,-13.4l-13.6,7.8z" stroke="#12beb9"/>
<path d="M1299.2,525.7l13.6,-8.3l10.3,-13.1l-13.5,8z" stroke="#1fc0b2"/>
<path d="M1312.8,517.4l13.5,-8.5l10.3,-12.9l-13.5,8.3z" stroke="#29c3aa"/>
<path d="M1326.3,508.9l13.5,-8.6l10.4,-12.7l-13.6,8.4z" stroke="#30c5a2"/>
<path d="M1339.8,500.3l13.6,-8.8l10.3,-12.3l-13.5,8.4z" stroke="#36c899"/>
<path d="M1353.4,491.5l13.5,-8.7l10.3,-12.2l-13.5,8.6z" stroke="#3eca8f"/>
<path d="M1366.9,482.8l13.5,-8.8l10.4,-11.9l-13.6,8.5z" stroke="#4bcb84"/>
<path d="M1380.4,474l13.6,-8.7l10.3,-11.8l-13.5,8.6z" stroke="#59cc78"/>
<path d="M1394,465.3l13.5,-8.6l10.3,-11.7l-13.5,8.5z" stroke="#67cd6c"/>
<path d="M1407.5,456.7l13.5,-8.6l10.3,-11.6l-13.5,8.5z" stroke="#77cc60"/>
<path d="M1421,448.1l13.5,-8.4l10.4,-11.6l-13.6,8.4z" stroke="#87cb54"/>
<path d="M1434.5,439.7l13.6,-8.3l10.3,-11.6l-13.5,8.3z" stroke="#97ca48"/>
<path d="M1448.1,431.4l13.5,-8.1l10.3,-11.8l-13.5,8.3z" stroke="#a6c83d"/>
<path d="M1461.6,423.3l13.5,-7.9l10.4,-11.9l-13.6,8z" stroke="#b4c533"/>
<path d="M1475.1,415.4l13.6,-7.7l10.3,-12.2l-13.5,8z" stroke="#c2c32c"/>
<path d="M1488.7,407.7l13.5,-7.5l10.3,-12.4l-13.5,7.7z" stroke="#cec028"/>
<path d="M1502.2,400.2l13.5,-7.3l10.4,-12.7l-13.6,7.6z" stroke="#d9be28"/>
<path d="M1515.7,392.9l13.5,-7.1l10.4,-13l-13.5,7.4z" stroke="#e3bc2c"/>
<path d="M1529.2,385.8l13.6,-6.8l10.3,-13.4l-13.5,7.2z" stroke="#ecba33"/>
<path d="M1542.8,379l13.5,-6.7l10.3,-13.7l-13.5,7z" stroke="#f4ba3a"/>
<path d="M1556.3,372.3l13.5,-6.4l10.4,-14.1l-13.6,6.8z" stroke="#fbbc3d"/>
<path d="M1569.8,365.9l13.6,-6.2l10.3,-14.5l-13.5,6.6z" stroke="#fec03b"/>
<path d="M1583.4,359.7l13.5,-6l10.3,-15l-13.5,6.5z" stroke="#fec537"/>
<path d="M1596.9,353.7l13.5,-5.8l10.4,-15.4l-13.6,6.2z" stroke="#feca33"/>
<path d="M1610.4,347.9l13.6,-5.7l10.3,-15.7l-13.5,6z" stroke="#fccf30"/>
<path d="M1624,342.2l13.5,-5.4l10.3,-16.2l-13.5,5.9z" stroke="#fad42e"/>
<path d="M1637.5,336.8l13.5,-5.2l10.4,-16.6l-13.6,5.6z" stroke="#f8d92b"/>
<path d="M1651,331.6l13.6,-5l10.3,-17l-13.5,5.4z" stroke="#f6de29"/>
<path d="M1664.5,326.6l13.5,-4.7l10.3,-17.5l-13.5,5.2z" stroke="#f5e327"/>
<path d="M1678.1,321.9l13.5,-4.5l10.3,-17.8l-13.5,4.8z" stroke="#f5e825"/>
<path d="M1691.6,317.4l13.5,-4.1l10.4,-18.1l-13.6,4.4z" stroke="#f5ec22"/>
<path d="M883,572.1l13.5,2.6l10.4,-11.1l-13.6,-2.2z" stroke="#2995ec"/>
<path d="M896.5,574.7l13.6,2.5l10.3,-11.4l-13.5,-2.2z" stroke="#2995ec"/>
<path d="M910.1,577.2l13.5,2.5l10.3,-11.8l-13.5,-2.1z" stroke="#2995ec"/>
<path d="M923.6,579.7l13.5,2.5l10.4,-12.4l-13.6,-1.9z" stroke="#2995ec"/>
<path d="M937.1,582.2l13.6,2.4l10.3,-12.8l-13.5,-2z" stroke="#2995ec"/>
<path d="M950.7,584.6l13.5,2.3l10.3,-13.3l-13.5,-1.8z" stroke="#2995ec"/>
<path d="M964.2,586.9l13.5,2.2l10.4,-13.7l-13.6,-1.8z" stroke="#2995ec"/>
<path d="M977.7,589.1l13.5,2.2l10.4,-14.2l-13.5,-1.7z" stroke="#2995ec"/>
<path d="M991.2,591.3l13.6,2l10.3,-14.6l-13.5,-1.6z" stroke="#2895ec"/>
<path d="M1004.8,593.3l13.5,1.8l10.3,-15l-13.5,-1.4z" stroke="#2895ec"/>
<path d="M1018.3,595.1l13.5,1.8l10.4,-15.4l-13.6,-1.4z" stroke="#2896ec"/>
<path d="M1031.8,596.9l13.6,1.5l10.3,-15.7l-13.5,-1.2z" stroke="#2896eb"/>
<path d="M1045.4,598.4l13.5,1.3l10.3,-15.9l-13.5,-1.1z" stroke="#2796eb"/>
<path d="M1058.9,599.7l13.5,1.1l10.4,-16.1l-13.6,-0.9z" stroke="#2797eb"/>
<path d="M1072.4,600.8l13.6,0.7l10.3,-16l-13.5,-0.8z" stroke="#2798ea"/>
<path d="M1086,601.5l13.5,0.4l10.3,-15.9l-13.5,-0.5z" stroke="#2698ea"/>
<path d="M1099.5,601.9l13.5,-0.1l10.4,-15.6l-13.6,-0.2z" stroke="#2699e9"/>
<path d="M1113,601.8l13.6,-0.6l10.3,-15.3l-13.5,0.3z" stroke="#269be8"/>
<path d="M1126.5,601.2l13.5,-1.3l10.3,-15l-13.5,1z" stroke="#259ce7"/>
<path d="M1140.1,599.9l13.5,-2l10.3,-14.7l-13.5,1.7z" stroke="#249ee6"/>
<path d="M1153.6,597.9l13.5,-2.9l10.4,-14.4l-13.6,2.6z" stroke="#23a0e5"/>
<path d="M1167.1,595l13.6,-3.6l10.3,-14.3l-13.5,3.5z" stroke="#21a3e4"/>
<path d="M1180.7,591.4l13.5,-4.4l10.3,-14.2l-13.5,4.3z" stroke="#1fa5e2"/>
<path d="M1194.2,587l13.5,-5.2l10.4,-14.1l-13.6,5.1z" stroke="#1da9e0"/>
<path d="M1207.7,581.8l13.6,-5.9l10.3,-13.9l-13.5,5.7z" stroke="#1aacdd"/>
<path d="M1221.3,575.9l13.5,-6.5l10.3,-13.8l-13.5,6.4z" stroke="#15afd9"/>
<path d="M1234.8,569.4l13.5,-7l10.3,-13.7l-13.5,6.9z" stroke="#0db3d4"/>
<path d="M1248.3,562.4l13.6,-7.6l10.3,-13.4l-13.6,7.3z" stroke="#05b6ce"/>
<path d="M1261.9,554.8l13.5,-7.9l10.3,-13.2l-13.5,7.7z" stroke="#01b9c7"/>
<path d="M1275.4,546.9l13.5,-8.3l10.3,-12.9l-13.5,8z" stroke="#06bcc0"/>
<path d="M1288.9,538.6l13.5,-8.6l10.4,-12.6l-13.6,8.3z" stroke="#12beb9"/>
<path d="M1302.4,530l13.6,-8.7l10.3,-12.4l-13.5,8.5z" stroke="#20c1b1"/>
<path d="M1316,521.3l13.5,-8.9l10.3,-12.1l-13.5,8.6z" stroke="#2ac3a9"/>
<path d="M1329.5,512.4l13.5,-9l10.4,-11.9l-13.6,8.8z" stroke="#31c6a0"/>
<path d="M1343,503.4l13.6,-9l10.3,-11.6l-13.5,8.7z" stroke="#37c897"/>
<path d="M1356.6,494.4l13.5,-8.9l10.3,-11.5l-13.5,8.8z" stroke="#40ca8d"/>
<path d="M1370.1,485.5l13.5,-8.9l10.4,-11.3l-13.6,8.7z" stroke="#4dcc82"/>
<path d="M1383.6,476.6l13.6,-8.8l10.3,-11.1l-13.5,8.6z" stroke="#5ccc76"/>
<path d="M1397.2,467.8l13.5,-8.5l10.3,-11.2l-13.5,8.6z" stroke="#6bcd69"/>
<path d="M1410.7,459.3l13.5,-8.4l10.3,-11.2l-13.5,8.4z" stroke="#7acc5d"/>
<path d="M1424.2,450.9l13.5,-8.2l10.4,-11.3l-13.6,8.3z" stroke="#8acb51"/>
<path d="M1437.7,442.7l13.6,-8l10.3,-11.4l-13.5,8.1z" stroke="#99c946"/>
<path d="M1451.3,434.7l13.5,-7.6l10.3,-11.7l-13.5,7.9z" stroke="#a8c73b"/>
<path d="M1464.8,427.1l13.5,-7.5l10.4,-11.9l-13.6,7.7z" stroke="#b6c533"/>
<path d="M1478.3,419.6l13.6,-7.2l10.3,-12.2l-13.5,7.5z" stroke="#c2c22c"/>
<path d="M1491.9,412.4l13.5,-6.9l10.3,-12.6l-13.5,7.3z" stroke="#cec028"/>
<path d="M1505.4,405.5l13.5,-6.6l10.3,-13.1l-13.5,7.1z" stroke="#d9be28"/>
<path d="M1518.9,398.9l13.5,-6.4l10.4,-13.5l-13.6,6.8z" stroke="#e2bc2b"/>
<path d="M1532.5,392.5l13.6,-6.2l10.3,-14l-13.5,6.7z" stroke="#ebba31"/>
<path d="M1546,386.3l13.5,-5.9l10.3,-14.5l-13.5,6.4z" stroke="#f2ba38"/>
<path d="M1559.5,380.4l13.5,-5.7l10.4,-15l-13.6,6.2z" stroke="#f9bb3d"/>
<path d="M1573,374.7l13.6,-5.5l10.3,-15.5l-13.5,6z" stroke="#febe3c"/>
<path d="M1586.6,369.2l13.5,-5.3l10.3,-16l-13.5,5.8z" stroke="#fec239"/>
<path d="M1600.1,363.9l13.5,-5.2l10.4,-16.5l-13.6,5.7z" stroke="#fec735"/>
<path d="M1613.6,358.7l13.6,-4.9l10.3,-17l-13.5,5.4z" stroke="#fdcc32"/>
<path d="M1627.2,353.8l13.5,-4.7l10.3,-17.5l-13.5,5.2z" stroke="#fcd030"/>
<path d="M1640.7,349.1l13.5,-4.5l10.4,-18l-13.6,5z" stroke="#fad52e"/>
<path d="M1654.2,344.6l13.6,-4.3l10.3,-18.4l-13.5,4.7z" stroke="#f8d92b"/>
<path d="M1667.8,340.3l13.5,-4.1l10.3,-18.8l-13.5,4.5z" stroke="#f6de29"/>
<path d="M1681.3,336.2l13.5,-3.9l10.3,-19l-13.5,4.1z" stroke="#f5e228"/>
<path d="M872.7,582.4l13.5,2.9l10.3,-10.6l-13.5,-2.6z" stroke="#2b91ef"/>
<path d="M886.2,585.3l13.5,3l10.4,-11.1l-13.6,-2.5z" stroke="#2b90ef"/>
<path d="M899.7,588.3l13.6,2.9l10.3,-11.5l-13.5,-2.5z" stroke="#2c90f0"/>
<path d="M913.3,591.2l13.5,2.9l10.3,-11.9l-13.5,-2.5z" stroke="#2c90f0"/>
<path d="M926.8,594.1l13.5,2.9l10.4,-12.4l-13.6,-2.4z" stroke="#2c90f0"/>
<path d="M940.3,597l13.6,2.8l10.3,-12.9l-13.5,-2.3z" stroke="#2c8ff0"/>
<path d="M953.9,599.8l13.5,2.7l10.3,-13.4l-13.5,-2.2z" stroke="#2c8ff0"/>
<path d="M967.4,602.5l13.5,2.6l10.3,-13.8l-13.5,-2.2z" stroke="#2c8ff0"/>
<path d="M980.9,605.1l13.5,2.4l10.4,-14.2l-13.6,-2z" stroke="#2c8ff1"/>
<path d="M994.5,607.5l13.6,2.3l10.3,-14.7l-13.5,-1.8z" stroke="#2c8ff1"/>
<path d="M1008,609.8l13.5,2.1l10.3,-15l-13.5,-1.8z" stroke="#2c8ff0"/>
<path d="M1021.5,611.9l13.5,1.8l10.4,-15.3l-13.6,-1.5z" stroke="#2c8ff0"/>
<path d="M1035,613.7l13.6,1.6l10.3,-15.6l-13.5,-1.3z" stroke="#2c90f0"/>
<path d="M1048.6,615.3l13.5,1.2l10.3,-15.7l-13.5,-1.1z" stroke="#2b90f0"/>
<path d="M1062.1,616.5l13.5,0.8l10.4,-15.8l-13.6,-0.7z" stroke="#2b91ef"/>
<path d="M1075.6,617.3l13.6,0.3l10.3,-15.7l-13.5,-0.4z" stroke="#2b92ee"/>
<path d="M1089.2,617.6l13.5,-0.2l10.3,-15.6l-13.5,0.1z" stroke="#2a93ee"/>
<path d="M1102.7,617.4l13.5,-0.8l10.4,-15.4l-13.6,0.6z" stroke="#2994ed"/>
<path d="M1116.2,616.6l13.6,-1.5l10.3,-15.2l-13.5,1.3z" stroke="#2896eb"/>
<path d="M1129.8,615.1l13.5,-2.3l10.3,-14.9l-13.5,2z" stroke="#2798ea"/>
<path d="M1143.3,612.8l13.5,-3l10.3,-14.8l-13.5,2.9z" stroke="#269ae8"/>
<path d="M1156.8,609.8l13.5,-3.9l10.4,-14.5l-13.6,3.6z" stroke="#259de7"/>
<path d="M1170.3,605.9l13.6,-4.6l10.3,-14.3l-13.5,4.4z" stroke="#23a0e5"/>
<path d="M1183.9,601.3l13.5,-5.4l10.3,-14.1l-13.5,5.2z" stroke="#21a3e3"/>
<path d="M1197.4,595.9l13.5,-6.1l10.4,-13.9l-13.6,5.9z" stroke="#1ea7e1"/>
<path d="M1210.9,589.8l13.6,-6.7l10.3,-13.7l-13.5,6.5z" stroke="#1babde"/>
<path d="M1224.5,583.1l13.5,-7.3l10.3,-13.4l-13.5,7z" stroke="#16afda"/>
<path d="M1238,575.8l13.5,-7.8l10.4,-13.2l-13.6,7.6z" stroke="#0eb2d4"/>
<path d="M1251.5,568l13.6,-8.3l10.3,-12.8l-13.5,7.9z" stroke="#05b6ce"/>
<path d="M1265.1,559.7l13.5,-8.5l10.3,-12.6l-13.5,8.3z" stroke="#01b9c7"/>
<path d="M1278.6,551.2l13.5,-8.9l10.3,-12.3l-13.5,8.6z" stroke="#07bcc0"/>
<path d="M1292.1,542.3l13.5,-9.1l10.4,-11.9l-13.6,8.7z" stroke="#14beb8"/>
<path d="M1305.6,533.2l13.6,-9.1l10.3,-11.7l-13.5,8.9z" stroke="#22c1b0"/>
<path d="M1319.2,524.1l13.5,-9.3l10.3,-11.4l-13.5,9z" stroke="#2bc3a8"/>
<path d="M1332.7,514.8l13.5,-9.2l10.4,-11.2l-13.6,9z" stroke="#32c69e"/>
<path d="M1346.2,505.6l13.6,-9.1l10.3,-11l-13.5,8.9z" stroke="#39c995"/>
<path d="M1359.8,496.5l13.5,-9.1l10.3,-10.8l-13.5,8.9z" stroke="#44ca8a"/>
<path d="M1373.3,487.4l13.5,-8.8l10.4,-10.8l-13.6,8.8z" stroke="#51cc7f"/>
<path d="M1386.8,478.6l13.6,-8.6l10.3,-10.7l-13.5,8.5z" stroke="#5fcd73"/>
<path d="M1400.4,470l13.5,-8.3l10.3,-10.8l-13.5,8.4z" stroke="#6ecd66"/>
<path d="M1413.9,461.7l13.5,-8l10.3,-11l-13.5,8.2z" stroke="#7ecc5b"/>
<path d="M1427.4,453.7l13.5,-7.8l10.4,-11.2l-13.6,8z" stroke="#8dcb4f"/>
<path d="M1440.9,445.9l13.6,-7.4l10.3,-11.4l-13.5,7.6z" stroke="#9cc944"/>
<path d="M1454.5,438.5l13.5,-7.1l10.3,-11.8l-13.5,7.5z" stroke="#a9c73a"/>
<path d="M1468,431.4l13.5,-6.7l10.4,-12.3l-13.6,7.2z" stroke="#b6c532"/>
<path d="M1481.5,424.7l13.6,-6.5l10.3,-12.7l-13.5,6.9z" stroke="#c2c22c"/>
<path d="M1495.1,418.2l13.5,-6.1l10.3,-13.2l-13.5,6.6z" stroke="#cdc028"/>
<path d="M1508.6,412.1l13.5,-5.9l10.3,-13.7l-13.5,6.4z" stroke="#d7be28"/>
<path d="M1522.1,406.2l13.5,-5.6l10.4,-14.3l-13.6,6.2z" stroke="#e0bc2a"/>
<path d="M1535.7,400.6l13.6,-5.4l10.3,-14.8l-13.5,5.9z" stroke="#e8bb2f"/>
<path d="M1549.2,395.2l13.5,-5.1l10.3,-15.4l-13.5,5.7z" stroke="#efba35"/>
<path d="M1562.7,390.1l13.5,-4.9l10.4,-16l-13.6,5.5z" stroke="#f6ba3b"/>
<path d="M1576.2,385.2l13.6,-4.8l10.3,-16.5l-13.5,5.3z" stroke="#fbbc3d"/>
<path d="M1589.8,380.4l13.5,-4.5l10.3,-17.2l-13.5,5.2z" stroke="#febf3c"/>
<path d="M1603.3,375.9l13.5,-4.4l10.4,-17.7l-13.6,4.9z" stroke="#fec338"/>
<path d="M1616.8,371.5l13.6,-4.2l10.3,-18.2l-13.5,4.7z" stroke="#fec735"/>
<path d="M1630.4,367.3l13.5,-4.1l10.3,-18.6l-13.5,4.5z" stroke="#fdcb33"/>
<path d="M1643.9,363.2l13.5,-3.9l10.4,-19l-13.6,4.3z" stroke="#fccf30"/>
<path d="M1657.4,359.3l13.6,-3.8l10.3,-19.3l-13.5,4.1z" stroke="#fbd32e"/>
<path d="M1671,355.5l13.5,-3.6l10.3,-19.6l-13.5,3.9z" stroke="#f9d72c"/>
<path d="M862.3,592.2l13.5,3.3l10.3,-10.2l-13.5,-2.9z" stroke="#2d8df2"/>
<path d="M875.9,595.5l13.5,3.4l10.3,-10.6l-13.5,-3z" stroke="#2d8cf3"/>
<path d="M889.4,598.9l13.5,3.3l10.4,-11l-13.6,-2.9z" stroke="#2d8cf3"/>
<path d="M902.9,602.2l13.6,3.4l10.3,-11.5l-13.5,-2.9z" stroke="#2d8bf4"/>
<path d="M916.5,605.6l13.5,3.3l10.3,-11.9l-13.5,-2.9z" stroke="#2d8bf4"/>
<path d="M930,608.9l13.5,3.3l10.4,-12.4l-13.6,-2.8z" stroke="#2d8af4"/>
<path d="M943.5,612.2l13.6,3.2l10.3,-12.9l-13.5,-2.7z" stroke="#2d89f5"/>
<path d="M957.1,615.4l13.5,3.1l10.3,-13.4l-13.5,-2.6z" stroke="#2d89f5"/>
<path d="M970.6,618.5l13.5,2.9l10.3,-13.9l-13.5,-2.4z" stroke="#2d89f5"/>
<path d="M984.1,621.4l13.5,2.7l10.4,-14.3l-13.6,-2.3z" stroke="#2d88f5"/>
<path d="M997.6,624.1l13.6,2.4l10.3,-14.6l-13.5,-2.1z" stroke="#2d88f5"/>
<path d="M1011.2,626.5l13.5,2.2l10.3,-15l-13.5,-1.8z" stroke="#2d88f5"/>
<path d="M1024.7,628.7l13.5,1.8l10.4,-15.2l-13.6,-1.6z" stroke="#2d88f5"/>
<path d="M1038.2,630.5l13.6,1.4l10.3,-15.4l-13.5,-1.2z" stroke="#2d89f5"/>
<path d="M1051.8,631.9l13.5,1l10.3,-15.6l-13.5,-0.8z" stroke="#2d8af4"/>
<path d="M1065.3,632.9l13.5,0.4l10.4,-15.7l-13.6,-0.3z" stroke="#2d8bf4"/>
<path d="M1078.8,633.3l13.6,-0.2l10.3,-15.7l-13.5,0.2z" stroke="#2d8cf3"/>
<path d="M1092.4,633.1l13.5,-1l10.3,-15.5l-13.5,0.8z" stroke="#2d8ef2"/>
<path d="M1105.9,632.1l13.5,-1.6l10.4,-15.4l-13.6,1.5z" stroke="#2c8ff0"/>
<path d="M1119.4,630.5l13.5,-2.4l10.4,-15.3l-13.5,2.3z" stroke="#2b92ef"/>
<path d="M1132.9,628.1l13.6,-3.3l10.3,-15l-13.5,3z" stroke="#2994ed"/>
<path d="M1146.5,624.8l13.5,-4l10.3,-14.9l-13.5,3.9z" stroke="#2797eb"/>
<path d="M1160,620.8l13.5,-4.9l10.4,-14.6l-13.6,4.6z" stroke="#269ae8"/>
<path d="M1173.5,615.9l13.6,-5.7l10.3,-14.3l-13.5,5.4z" stroke="#249ee6"/>
<path d="M1187.1,610.2l13.5,-6.3l10.3,-14.1l-13.5,6.1z" stroke="#22a2e4"/>
<path d="M1200.6,603.9l13.5,-7l10.4,-13.8l-13.6,6.7z" stroke="#1fa6e2"/>
<path d="M1214.1,596.9l13.6,-7.7l10.3,-13.4l-13.5,7.3z" stroke="#1baadf"/>
<path d="M1227.7,589.2l13.5,-8.1l10.3,-13.1l-13.5,7.8z" stroke="#17aeda"/>
<path d="M1241.2,581.1l13.5,-8.6l10.4,-12.8l-13.6,8.3z" stroke="#0fb2d4"/>
<path d="M1254.7,572.5l13.5,-8.9l10.4,-12.4l-13.5,8.5z" stroke="#05b6ce"/>
<path d="M1268.2,563.6l13.6,-9.2l10.3,-12.1l-13.5,8.9z" stroke="#01b9c6"/>
<path d="M1281.8,554.4l13.5,-9.4l10.3,-11.8l-13.5,9.1z" stroke="#08bcbf"/>
<path d="M1295.3,545l13.5,-9.5l10.4,-11.4l-13.6,9.1z" stroke="#17bfb6"/>
<path d="M1308.8,535.5l13.6,-9.5l10.3,-11.2l-13.5,9.3z" stroke="#24c2ae"/>
<path d="M1322.4,526l13.5,-9.5l10.3,-10.9l-13.5,9.2z" stroke="#2dc4a5"/>
<path d="M1335.9,516.5l13.5,-9.4l10.4,-10.6l-13.6,9.1z" stroke="#34c79c"/>
<path d="M1349.4,507.1l13.6,-9.1l10.3,-10.6l-13.5,9.1z" stroke="#3cc992"/>
<path d="M1363,498l13.5,-8.9l10.3,-10.5l-13.5,8.8z" stroke="#47cb87"/>
<path d="M1376.5,489.1l13.5,-8.6l10.4,-10.5l-13.6,8.6z" stroke="#55cc7b"/>
<path d="M1390,480.5l13.6,-8.3l10.3,-10.5l-13.5,8.3z" stroke="#63cd6f"/>
<path d="M1403.6,472.2l13.5,-7.8l10.3,-10.7l-13.5,8z" stroke="#72cd63"/>
<path d="M1417.1,464.4l13.5,-7.5l10.3,-11l-13.5,7.8z" stroke="#81cc58"/>
<path d="M1430.6,456.9l13.5,-7l10.4,-11.4l-13.6,7.4z" stroke="#90ca4d"/>
<path d="M1444.1,449.9l13.6,-6.7l10.3,-11.8l-13.5,7.1z" stroke="#9dc943"/>
<path d="M1457.7,443.2l13.5,-6.3l10.3,-12.2l-13.5,6.7z" stroke="#aac73a"/>
<path d="M1471.2,436.9l13.5,-5.9l10.4,-12.8l-13.6,6.5z" stroke="#b5c533"/>
<path d="M1484.7,431l13.6,-5.6l10.3,-13.3l-13.5,6.1z" stroke="#c0c32d"/>
<path d="M1498.3,425.4l13.5,-5.2l10.3,-14l-13.5,5.9z" stroke="#cac129"/>
<path d="M1511.8,420.2l13.5,-5l10.3,-14.6l-13.5,5.6z" stroke="#d3bf27"/>
<path d="M1525.3,415.2l13.5,-4.8l10.4,-15.2l-13.6,5.4z" stroke="#dcbd29"/>
<path d="M1538.8,410.4l13.6,-4.5l10.3,-15.8l-13.5,5.1z" stroke="#e3bc2c"/>
<path d="M1552.4,405.9l13.5,-4.3l10.3,-16.4l-13.5,4.9z" stroke="#eaba31"/>
<path d="M1565.9,401.6l13.5,-4.1l10.4,-17.1l-13.6,4.8z" stroke="#f0ba36"/>
<path d="M1579.4,397.5l13.6,-4l10.3,-17.6l-13.5,4.5z" stroke="#f6ba3b"/>
<path d="M1593,393.5l13.5,-3.8l10.3,-18.2l-13.5,4.4z" stroke="#fabc3d"/>
<path d="M1606.5,389.7l13.5,-3.7l10.4,-18.7l-13.6,4.2z" stroke="#febe3c"/>
<path d="M1620,386l13.6,-3.6l10.3,-19.2l-13.5,4.1z" stroke="#fec13a"/>
<path d="M1633.6,382.4l13.5,-3.5l10.3,-19.6l-13.5,3.9z" stroke="#fec537"/>
<path d="M1647.1,378.9l13.5,-3.4l10.4,-20l-13.6,3.8z" stroke="#fec934"/>
<path d="M1660.6,375.5l13.6,-3.4l10.3,-20.2l-13.5,3.6z" stroke="#fdcc32"/>
<path d="M852,601.5l13.6,3.7l10.3,-9.7l-13.5,-3.3z" stroke="#2d88f5"/>
<path d="M865.5,605.2l13.5,3.7l10.3,-10l-13.5,-3.4z" stroke="#2d88f6"/>
<path d="M879.1,608.9l13.5,3.8l10.3,-10.5l-13.5,-3.3z" stroke="#2d87f6"/>
<path d="M892.6,612.7l13.5,3.8l10.4,-10.9l-13.6,-3.4z" stroke="#2d86f7"/>
<path d="M906.1,616.5l13.6,3.8l10.3,-11.4l-13.5,-3.3z" stroke="#2d85f7"/>
<path d="M919.7,620.3l13.5,3.8l10.3,-11.9l-13.5,-3.3z" stroke="#2d84f8"/>
<path d="M933.2,624.1l13.5,3.7l10.4,-12.4l-13.6,-3.2z" stroke="#2d83f8"/>
<path d="M946.7,627.8l13.6,3.5l10.3,-12.8l-13.5,-3.1z" stroke="#2e82f8"/>
<path d="M960.3,631.3l13.5,3.4l10.3,-13.3l-13.5,-2.9z" stroke="#2e81f9"/>
<path d="M973.8,634.7l13.5,3.1l10.3,-13.7l-13.5,-2.7z" stroke="#2e81f9"/>
<path d="M987.3,637.8l13.5,2.9l10.4,-14.2l-13.6,-2.4z" stroke="#2e80f9"/>
<path d="M1000.9,640.7l13.6,2.5l10.3,-14.5l-13.5,-2.2z" stroke="#2e80f9"/>
<path d="M1014.4,643.2l13.5,2.2l10.3,-14.9l-13.5,-1.8z" stroke="#2e80f9"/>
<path d="M1027.9,645.4l13.5,1.7l10.4,-15.2l-13.6,-1.4z" stroke="#2e80f9"/>
<path d="M1041.4,647.1l13.6,1.1l10.3,-15.3l-13.5,-1z" stroke="#2e81f9"/>
<path d="M1055,648.2l13.5,0.6l10.3,-15.5l-13.5,-0.4z" stroke="#2e82f9"/>
<path d="M1068.5,648.8l13.5,-0.1l10.4,-15.6l-13.6,0.2z" stroke="#2d83f8"/>
<path d="M1082,648.7l13.6,-0.9l10.3,-15.7l-13.5,1z" stroke="#2d85f7"/>
<path d="M1095.6,647.8l13.5,-1.7l10.3,-15.6l-13.5,1.6z" stroke="#2d88f6"/>
<path d="M1109.1,646.1l13.5,-2.5l10.3,-15.5l-13.5,2.4z" stroke="#2d8bf4"/>
<path d="M1122.6,643.6l13.6,-3.4l10.3,-15.4l-13.6,3.3z" stroke="#2c8ef2"/>
<path d="M1136.2,640.2l13.5,-4.3l10.3,-15.1l-13.5,4z" stroke="#2b91ef"/>
<path d="M1149.7,635.9l13.5,-5.1l10.3,-14.9l-13.5,4.9z" stroke="#2994ed"/>
<path d="M1163.2,630.8l13.5,-6l10.4,-14.6l-13.6,5.7z" stroke="#2798ea"/>
<path d="M1176.7,624.8l13.6,-6.6l10.3,-14.3l-13.5,6.3z" stroke="#259ce7"/>
<path d="M1190.3,618.2l13.5,-7.4l10.3,-13.9l-13.5,7z" stroke="#23a1e5"/>
<path d="M1203.8,610.8l13.5,-8l10.4,-13.6l-13.6,7.7z" stroke="#1fa5e2"/>
<path d="M1217.3,602.8l13.6,-8.5l10.3,-13.2l-13.5,8.1z" stroke="#1caadf"/>
<path d="M1230.9,594.3l13.5,-8.9l10.3,-12.9l-13.5,8.6z" stroke="#16aeda"/>
<path d="M1244.4,585.4l13.5,-9.3l10.3,-12.5l-13.5,8.9z" stroke="#0db3d4"/>
<path d="M1257.9,576.1l13.5,-9.6l10.4,-12.1l-13.6,9.2z" stroke="#04b6cc"/>
<path d="M1271.5,566.5l13.6,-9.8l10.3,-11.7l-13.5,9.4z" stroke="#02bac5"/>
<path d="M1285,556.7l13.5,-9.8l10.3,-11.4l-13.5,9.5z" stroke="#0bbdbd"/>
<path d="M1298.5,546.9l13.5,-9.8l10.4,-11.1l-13.6,9.5z" stroke="#1bc0b4"/>
<path d="M1312,537.1l13.6,-9.8l10.3,-10.8l-13.5,9.5z" stroke="#27c2ab"/>
<path d="M1325.6,527.3l13.5,-9.6l10.3,-10.6l-13.5,9.4z" stroke="#2fc5a2"/>
<path d="M1339.1,517.7l13.5,-9.3l10.4,-10.4l-13.6,9.1z" stroke="#36c899"/>
<path d="M1352.6,508.4l13.6,-9l10.3,-10.3l-13.5,8.9z" stroke="#3fca8e"/>
<path d="M1366.2,499.4l13.5,-8.6l10.3,-10.3l-13.5,8.6z" stroke="#4bcb83"/>
<path d="M1379.7,490.8l13.5,-8.2l10.4,-10.4l-13.6,8.3z" stroke="#59cc78"/>
<path d="M1393.2,482.6l13.6,-7.6l10.3,-10.6l-13.5,7.8z" stroke="#67cd6c"/>
<path d="M1406.8,475l13.5,-7.1l10.3,-11l-13.5,7.5z" stroke="#75cc61"/>
<path d="M1420.3,467.9l13.5,-6.7l10.3,-11.3l-13.5,7z" stroke="#83cc57"/>
<path d="M1433.8,461.2l13.5,-6.2l10.4,-11.8l-13.6,6.7z" stroke="#90ca4d"/>
<path d="M1447.3,455l13.6,-5.7l10.3,-12.4l-13.5,6.3z" stroke="#9dc943"/>
<path d="M1460.9,449.3l13.5,-5.3l10.3,-13l-13.5,5.9z" stroke="#a8c73b"/>
<path d="M1474.4,444l13.5,-4.9l10.4,-13.7l-13.6,5.6z" stroke="#b3c534"/>
<path d="M1487.9,439.1l13.6,-4.7l10.3,-14.2l-13.5,5.2z" stroke="#bcc42f"/>
<path d="M1501.5,434.4l13.5,-4.3l10.3,-14.9l-13.5,5z" stroke="#c5c22a"/>
<path d="M1515,430.1l13.5,-4.1l10.3,-15.6l-13.5,4.8z" stroke="#cec028"/>
<path d="M1528.5,426l13.6,-3.8l10.3,-16.3l-13.6,4.5z" stroke="#d5be28"/>
<path d="M1542.1,422.2l13.5,-3.7l10.3,-16.9l-13.5,4.3z" stroke="#dcbd29"/>
<path d="M1555.6,418.5l13.5,-3.5l10.3,-17.5l-13.5,4.1z" stroke="#e3bc2c"/>
<path d="M1569.1,415l13.5,-3.3l10.4,-18.2l-13.6,4z" stroke="#e9bb2f"/>
<path d="M1582.6,411.7l13.6,-3.3l10.3,-18.7l-13.5,3.8z" stroke="#eeba34"/>
<path d="M1596.2,408.4l13.5,-3.2l10.3,-19.2l-13.5,3.7z" stroke="#f3ba39"/>
<path d="M1609.7,405.2l13.5,-3.1l10.4,-19.7l-13.6,3.6z" stroke="#f8ba3d"/>
<path d="M1623.2,402.1l13.6,-3.1l10.3,-20.1l-13.5,3.5z" stroke="#fbbc3d"/>
<path d="M1636.8,399l13.5,-3.1l10.3,-20.4l-13.5,3.4z" stroke="#febe3c"/>
<path d="M1650.3,395.9l13.5,-3.1l10.4,-20.7l-13.6,3.4z" stroke="#fec139"/>
<path d="M841.7,610.4l13.5,4l10.4,-9.2l-13.6,-3.7z" stroke="#2d84f8"/>
<path d="M855.2,614.4l13.6,4.1l10.3,-9.6l-13.5,-3.7z" stroke="#2d83f8"/>
<path d="M868.8,618.5l13.5,4.2l10.3,-10l-13.5,-3.8z" stroke="#2e82f9"/>
<path d="M882.3,622.7l13.5,4.2l10.3,-10.4l-13.5,-3.8z" stroke="#2e80f9"/>
<path d="M895.8,626.9l13.5,4.3l10.4,-10.9l-13.6,-3.8z" stroke="#2e7ffa"/>
<path d="M909.3,631.2l13.6,4.2l10.3,-11.3l-13.5,-3.8z" stroke="#2e7efa"/>
<path d="M922.9,635.4l13.5,4.1l10.3,-11.7l-13.5,-3.7z" stroke="#2f7dfb"/>
<path d="M936.4,639.5l13.5,4l10.4,-12.2l-13.6,-3.5z" stroke="#2f7cfb"/>
<path d="M949.9,643.5l13.6,3.8l10.3,-12.6l-13.5,-3.4z" stroke="#307afb"/>
<path d="M963.5,647.3l13.5,3.6l10.3,-13.1l-13.5,-3.1z" stroke="#307afc"/>
<path d="M977,650.9l13.5,3.3l10.3,-13.5l-13.5,-2.9z" stroke="#3079fc"/>
<path d="M990.5,654.2l13.5,3l10.4,-14l-13.6,-2.5z" stroke="#3178fc"/>
<path d="M1004.1,657.2l13.6,2.5l10.3,-14.3l-13.5,-2.2z" stroke="#3178fc"/>
<path d="M1017.6,659.7l13.5,2.1l10.3,-14.7l-13.5,-1.7z" stroke="#3178fc"/>
<path d="M1031.1,661.8l13.5,1.4l10.4,-15l-13.6,-1.1z" stroke="#3179fc"/>
<path d="M1044.6,663.2l13.6,0.9l10.3,-15.3l-13.5,-0.6z" stroke="#3079fc"/>
<path d="M1058.2,664.1l13.5,0.1l10.3,-15.5l-13.5,0.1z" stroke="#307bfb"/>
<path d="M1071.7,664.2l13.5,-0.7l10.4,-15.7l-13.6,0.9z" stroke="#2f7dfb"/>
<path d="M1085.2,663.5l13.6,-1.7l10.3,-15.7l-13.5,1.7z" stroke="#2e7ffa"/>
<path d="M1098.8,661.8l13.5,-2.5l10.3,-15.7l-13.5,2.5z" stroke="#2e82f9"/>
<path d="M1112.3,659.3l13.5,-3.5l10.4,-15.6l-13.6,3.4z" stroke="#2d85f7"/>
<path d="M1125.8,655.8l13.6,-4.5l10.3,-15.4l-13.5,4.3z" stroke="#2d8af4"/>
<path d="M1139.3,651.3l13.5,-5.4l10.3,-15.1l-13.5,5.1z" stroke="#2c8ef2"/>
<path d="M1152.9,645.9l13.5,-6.3l10.3,-14.8l-13.5,6z" stroke="#2b92ee"/>
<path d="M1166.4,639.6l13.5,-7l10.4,-14.4l-13.6,6.6z" stroke="#2797eb"/>
<path d="M1179.9,632.6l13.6,-7.8l10.3,-14l-13.5,7.4z" stroke="#259be8"/>
<path d="M1193.5,624.8l13.5,-8.3l10.3,-13.7l-13.5,8z" stroke="#23a0e5"/>
<path d="M1207,616.5l13.5,-8.9l10.4,-13.3l-13.6,8.5z" stroke="#20a5e2"/>
<path d="M1220.5,607.6l13.6,-9.3l10.3,-12.9l-13.5,8.9z" stroke="#1baadf"/>
<path d="M1234.1,598.3l13.5,-9.6l10.3,-12.6l-13.5,9.3z" stroke="#16afd9"/>
<path d="M1247.6,588.7l13.5,-10l10.3,-12.2l-13.5,9.6z" stroke="#0bb3d2"/>
<path d="M1261.1,578.7l13.5,-10.1l10.4,-11.9l-13.6,9.8z" stroke="#02b7cb"/>
<path d="M1274.6,568.6l13.6,-10.2l10.3,-11.5l-13.5,9.8z" stroke="#03bbc3"/>
<path d="M1288.2,558.4l13.5,-10.1l10.3,-11.2l-13.5,9.8z" stroke="#10beba"/>
<path d="M1301.7,548.3l13.5,-10.1l10.4,-10.9l-13.6,9.8z" stroke="#1fc1b1"/>
<path d="M1315.2,538.2l13.6,-9.8l10.3,-10.7l-13.5,9.6z" stroke="#2ac3a8"/>
<path d="M1328.8,528.4l13.5,-9.6l10.3,-10.4l-13.5,9.3z" stroke="#32c69f"/>
<path d="M1342.3,518.8l13.5,-9.1l10.4,-10.3l-13.6,9z" stroke="#39c895"/>
<path d="M1355.8,509.7l13.6,-8.6l10.3,-10.3l-13.5,8.6z" stroke="#43ca8b"/>
<path d="M1369.4,501.1l13.5,-8l10.3,-10.5l-13.5,8.2z" stroke="#4fcc80"/>
<path d="M1382.9,493.1l13.5,-7.4l10.4,-10.7l-13.6,7.6z" stroke="#5dcc75"/>
<path d="M1396.4,485.7l13.6,-6.8l10.3,-11l-13.5,7.1z" stroke="#69cd6a"/>
<path d="M1410,478.9l13.5,-6.1l10.3,-11.6l-13.5,6.7z" stroke="#76cc60"/>
<path d="M1423.5,472.8l13.5,-5.6l10.3,-12.2l-13.5,6.2z" stroke="#83cc57"/>
<path d="M1437,467.2l13.5,-5.1l10.4,-12.8l-13.6,5.7z" stroke="#8fcb4e"/>
<path d="M1450.5,462.1l13.6,-4.7l10.3,-13.4l-13.5,5.3z" stroke="#9ac945"/>
<path d="M1464.1,457.4l13.5,-4.3l10.3,-14l-13.5,4.9z" stroke="#a4c83e"/>
<path d="M1477.6,453.1l13.5,-3.9l10.4,-14.8l-13.6,4.7z" stroke="#adc638"/>
<path d="M1491.1,449.2l13.6,-3.7l10.3,-15.4l-13.5,4.3z" stroke="#b6c532"/>
<path d="M1504.7,445.5l13.5,-3.4l10.3,-16.1l-13.5,4.1z" stroke="#bec32e"/>
<path d="M1518.2,442.1l13.5,-3.2l10.4,-16.7l-13.6,3.8z" stroke="#c5c22a"/>
<path d="M1531.7,438.9l13.5,-3l10.4,-17.4l-13.5,3.7z" stroke="#ccc028"/>
<path d="M1545.2,435.9l13.6,-2.9l10.3,-18l-13.5,3.5z" stroke="#d3bf27"/>
<path d="M1558.8,433l13.5,-2.8l10.3,-18.5l-13.5,3.3z" stroke="#d9be28"/>
<path d="M1572.3,430.2l13.5,-2.7l10.4,-19.1l-13.6,3.3z" stroke="#debc2a"/>
<path d="M1585.8,427.5l13.6,-2.7l10.3,-19.6l-13.5,3.2z" stroke="#e4bb2c"/>
<path d="M1599.4,424.8l13.5,-2.6l10.3,-20.1l-13.5,3.1z" stroke="#e9bb30"/>
<path d="M1612.9,422.2l13.5,-2.7l10.4,-20.5l-13.6,3.1z" stroke="#eeba34"/>
<path d="M1626.4,419.5l13.6,-2.8l10.3,-20.8l-13.5,3.1z" stroke="#f2ba38"/>
<path d="M1640,416.7l13.5,-2.9l10.3,-21l-13.5,3.1z" stroke="#f7ba3c"/>
<path d="M831.4,618.9l13.5,4.2l10.3,-8.7l-13.5,-4z" stroke="#2e80f9"/>
<path d="M844.9,623.1l13.5,4.5l10.4,-9.1l-13.6,-4.1z" stroke="#2e7ffa"/>
<path d="M858.4,627.6l13.6,4.6l10.3,-9.5l-13.5,-4.2z" stroke="#2f7dfb"/>
<path d="M871.9,632.2l13.5,4.6l10.3,-9.9l-13.5,-4.2z" stroke="#2f7cfb"/>
<path d="M885.5,636.8l13.5,4.7l10.3,-10.3l-13.5,-4.3z" stroke="#307afc"/>
<path d="M899,641.5l13.5,4.6l10.4,-10.7l-13.6,-4.2z" stroke="#3178fc"/>
<path d="M912.5,646.1l13.6,4.6l10.3,-11.2l-13.5,-4.1z" stroke="#3277fd"/>
<path d="M926.1,650.7l13.5,4.4l10.3,-11.6l-13.5,-4z" stroke="#3375fd"/>
<path d="M939.6,655.1l13.5,4.3l10.4,-12.1l-13.6,-3.8z" stroke="#3474fe"/>
<path d="M953.1,659.4l13.6,4l10.3,-12.5l-13.5,-3.6z" stroke="#3573fe"/>
<path d="M966.7,663.4l13.5,3.7l10.3,-12.9l-13.5,-3.3z" stroke="#3671fe"/>
<path d="M980.2,667.1l13.5,3.3l10.3,-13.2l-13.5,-3z" stroke="#3671fe"/>
<path d="M993.7,670.4l13.5,2.9l10.4,-13.6l-13.6,-2.5z" stroke="#3770fe"/>
<path d="M1007.2,673.3l13.6,2.5l10.3,-14l-13.5,-2.1z" stroke="#3770fe"/>
<path d="M1020.8,675.8l13.5,1.8l10.3,-14.4l-13.5,-1.4z" stroke="#3770fe"/>
<path d="M1034.3,677.6l13.5,1.2l10.4,-14.7l-13.6,-0.9z" stroke="#3671fe"/>
<path d="M1047.8,678.8l13.6,0.5l10.3,-15.1l-13.5,-0.1z" stroke="#3672fe"/>
<path d="M1061.4,679.3l13.5,-0.5l10.3,-15.3l-13.5,0.7z" stroke="#3474fe"/>
<path d="M1074.9,678.8l13.5,-1.4l10.4,-15.6l-13.6,1.7z" stroke="#3276fd"/>
<path d="M1088.4,677.4l13.6,-2.5l10.3,-15.6l-13.5,2.5z" stroke="#3079fc"/>
<path d="M1102,674.9l13.5,-3.6l10.3,-15.5l-13.5,3.5z" stroke="#2f7dfb"/>
<path d="M1115.5,671.3l13.5,-4.7l10.4,-15.3l-13.6,4.5z" stroke="#2e81f9"/>
<path d="M1129,666.6l13.6,-5.7l10.3,-15l-13.5,5.4z" stroke="#2d86f7"/>
<path d="M1142.6,660.9l13.5,-6.6l10.3,-14.7l-13.5,6.3z" stroke="#2d8cf3"/>
<path d="M1156.1,654.3l13.5,-7.3l10.3,-14.4l-13.5,7z" stroke="#2b90ef"/>
<path d="M1169.6,647l13.5,-8.1l10.4,-14.1l-13.6,7.8z" stroke="#2896ec"/>
<path d="M1183.1,638.9l13.6,-8.7l10.3,-13.7l-13.5,8.3z" stroke="#259be8"/>
<path d="M1196.7,630.2l13.5,-9.2l10.3,-13.4l-13.5,8.9z" stroke="#23a0e5"/>
<path d="M1210.2,621l13.5,-9.6l10.4,-13.1l-13.6,9.3z" stroke="#1fa5e2"/>
<path d="M1223.7,611.4l13.6,-9.9l10.3,-12.8l-13.5,9.6z" stroke="#1babde"/>
<path d="M1237.3,601.5l13.5,-10.2l10.3,-12.6l-13.5,10z" stroke="#14b0d8"/>
<path d="M1250.8,591.3l13.5,-10.4l10.3,-12.3l-13.5,10.1z" stroke="#09b4d1"/>
<path d="M1264.3,580.9l13.5,-10.5l10.4,-12l-13.6,10.2z" stroke="#01b8c9"/>
<path d="M1277.8,570.4l13.6,-10.5l10.3,-11.6l-13.5,10.1z" stroke="#06bcc0"/>
<path d="M1291.4,559.9l13.5,-10.3l10.3,-11.4l-13.5,10.1z" stroke="#15bfb7"/>
<path d="M1304.9,549.6l13.5,-10.1l10.4,-11.1l-13.6,9.8z" stroke="#24c1af"/>
<path d="M1318.4,539.5l13.6,-9.8l10.3,-10.9l-13.5,9.6z" stroke="#2dc4a5"/>
<path d="M1332,529.7l13.5,-9.3l10.3,-10.7l-13.5,9.1z" stroke="#34c79c"/>
<path d="M1345.5,520.4l13.5,-8.6l10.4,-10.7l-13.6,8.6z" stroke="#3bc992"/>
<path d="M1359,511.8l13.6,-7.9l10.3,-10.8l-13.5,8z" stroke="#46cb88"/>
<path d="M1372.6,503.9l13.5,-7.1l10.3,-11.1l-13.5,7.4z" stroke="#52cc7e"/>
<path d="M1386.1,496.8l13.5,-6.3l10.4,-11.6l-13.6,6.8z" stroke="#5ecd74"/>
<path d="M1399.6,490.5l13.6,-5.6l10.3,-12.1l-13.5,6.1z" stroke="#6acd6a"/>
<path d="M1413.2,484.9l13.5,-5l10.3,-12.7l-13.5,5.6z" stroke="#75cc61"/>
<path d="M1426.7,479.9l13.5,-4.4l10.3,-13.4l-13.5,5.1z" stroke="#80cc59"/>
<path d="M1440.2,475.5l13.5,-4l10.4,-14.1l-13.6,4.7z" stroke="#8acb51"/>
<path d="M1453.7,471.5l13.6,-3.6l10.3,-14.8l-13.5,4.3z" stroke="#94ca4a"/>
<path d="M1467.3,467.9l13.5,-3.3l10.3,-15.4l-13.5,3.9z" stroke="#9cc943"/>
<path d="M1480.8,464.6l13.5,-3l10.4,-16.1l-13.6,3.7z" stroke="#a4c83e"/>
<path d="M1494.3,461.6l13.6,-2.8l10.3,-16.7l-13.5,3.4z" stroke="#acc738"/>
<path d="M1507.9,458.8l13.5,-2.6l10.3,-17.3l-13.5,3.2z" stroke="#b3c534"/>
<path d="M1521.4,456.2l13.5,-2.5l10.3,-17.8l-13.5,3z" stroke="#bac430"/>
<path d="M1534.9,453.7l13.6,-2.3l10.3,-18.4l-13.6,2.9z" stroke="#c0c32d"/>
<path d="M1548.5,451.4l13.5,-2.3l10.3,-18.9l-13.5,2.8z" stroke="#c6c22a"/>
<path d="M1562,449.1l13.5,-2.2l10.3,-19.4l-13.5,2.7z" stroke="#ccc028"/>
<path d="M1575.5,446.9l13.5,-2.2l10.4,-19.9l-13.6,2.7z" stroke="#d2bf27"/>
<path d="M1589,444.7l13.6,-2.2l10.3,-20.3l-13.5,2.6z" stroke="#d7be28"/>
<path d="M1602.6,442.5l13.5,-2.4l10.3,-20.6l-13.5,2.7z" stroke="#dcbd29"/>
<path d="M1616.1,440.1l13.5,-2.4l10.4,-21l-13.6,2.8z" stroke="#e1bc2b"/>
<path d="M1629.6,437.7l13.6,-2.7l10.3,-21.2l-13.5,2.9z" stroke="#e6bb2d"/>
<path d="M821,627.1l13.6,4.5l10.3,-8.5l-13.5,-4.2z" stroke="#2f7cfb"/>
<path d="M834.6,631.6l13.5,4.8l10.3,-8.8l-13.5,-4.5z" stroke="#307afb"/>
<path d="M848.1,636.4l13.5,4.9l10.4,-9.1l-13.6,-4.6z" stroke="#3079fc"/>
<path d="M861.6,641.3l13.6,5.1l10.3,-9.6l-13.5,-4.6z" stroke="#3277fd"/>
<path d="M875.2,646.4l13.5,5l10.3,-9.9l-13.5,-4.7z" stroke="#3375fd"/>
<path d="M888.7,651.4l13.5,5l10.3,-10.3l-13.5,-4.6z" stroke="#3573fe"/>
<path d="M902.2,656.4l13.5,4.9l10.4,-10.6l-13.6,-4.6z" stroke="#3671fe"/>
<path d="M915.7,661.3l13.6,4.8l10.3,-11l-13.5,-4.4z" stroke="#376ffe"/>
<path d="M929.3,666.1l13.5,4.6l10.3,-11.3l-13.5,-4.3z" stroke="#396efe"/>
<path d="M942.8,670.7l13.5,4.3l10.4,-11.6l-13.6,-4z" stroke="#3a6cff"/>
<path d="M956.3,675l13.6,4l10.3,-11.9l-13.5,-3.7z" stroke="#3b6bff"/>
<path d="M969.9,679l13.5,3.7l10.3,-12.3l-13.5,-3.3z" stroke="#3b6aff"/>
<path d="M983.4,682.7l13.5,3.3l10.3,-12.7l-13.5,-2.9z" stroke="#3c69ff"/>
<path d="M996.9,686l13.5,2.8l10.4,-13l-13.6,-2.5z" stroke="#3c68fe"/>
<path d="M1010.5,688.8l13.6,2.2l10.3,-13.4l-13.5,-1.8z" stroke="#3c68fe"/>
<path d="M1024,691l13.5,1.6l10.3,-13.8l-13.5,-1.2z" stroke="#3c69ff"/>
<path d="M1037.5,692.6l13.5,0.8l10.4,-14.1l-13.6,-0.5z" stroke="#3c69ff"/>
<path d="M1051,693.4l13.6,0l10.3,-14.6l-13.5,0.5z" stroke="#3b6bff"/>
<path d="M1064.6,693.4l13.5,-1.1l10.3,-14.9l-13.5,1.4z" stroke="#396dff"/>
<path d="M1078.1,692.3l13.5,-2.3l10.4,-15.1l-13.6,2.5z" stroke="#3770fe"/>
<path d="M1091.6,690l13.6,-3.7l10.3,-15l-13.5,3.6z" stroke="#3474fe"/>
<path d="M1105.2,686.3l13.5,-4.9l10.3,-14.8l-13.5,4.7z" stroke="#3178fc"/>
<path d="M1118.7,681.4l13.5,-6l10.4,-14.5l-13.6,5.7z" stroke="#2e7efa"/>
<path d="M1132.2,675.4l13.6,-6.9l10.3,-14.2l-13.5,6.6z" stroke="#2d84f8"/>
<path d="M1145.8,668.5l13.5,-7.6l10.3,-13.9l-13.5,7.3z" stroke="#2d8af4"/>
<path d="M1159.3,660.9l13.5,-8.3l10.3,-13.7l-13.5,8.1z" stroke="#2c90f0"/>
<path d="M1172.8,652.6l13.5,-8.8l10.4,-13.6l-13.6,8.7z" stroke="#2895ec"/>
<path d="M1186.3,643.8l13.6,-9.4l10.3,-13.4l-13.5,9.2z" stroke="#259be8"/>
<path d="M1199.9,634.4l13.5,-9.7l10.3,-13.3l-13.5,9.6z" stroke="#23a1e5"/>
<path d="M1213.4,624.7l13.5,-10.1l10.4,-13.1l-13.6,9.9z" stroke="#1fa6e1"/>
<path d="M1226.9,614.6l13.6,-10.4l10.3,-12.9l-13.5,10.2z" stroke="#1aacdd"/>
<path d="M1240.5,604.2l13.5,-10.5l10.3,-12.8l-13.5,10.4z" stroke="#12b1d7"/>
<path d="M1254,593.7l13.5,-10.6l10.3,-12.7l-13.5,10.5z" stroke="#06b5cf"/>
<path d="M1267.5,583.1l13.6,-10.6l10.3,-12.6l-13.6,10.5z" stroke="#01b9c7"/>
<path d="M1281.1,572.5l13.5,-10.5l10.3,-12.4l-13.5,10.3z" stroke="#09bcbe"/>
<path d="M1294.6,562l13.5,-10.3l10.3,-12.2l-13.5,10.1z" stroke="#1abfb5"/>
<path d="M1308.1,551.7l13.5,-10l10.4,-12l-13.6,9.8z" stroke="#27c2ac"/>
<path d="M1321.6,541.7l13.6,-9.5l10.3,-11.8l-13.5,9.3z" stroke="#2fc5a3"/>
<path d="M1335.2,532.2l13.5,-8.8l10.3,-11.6l-13.5,8.6z" stroke="#35c79a"/>
<path d="M1348.7,523.4l13.5,-7.8l10.4,-11.7l-13.6,7.9z" stroke="#3dc990"/>
<path d="M1362.2,515.6l13.6,-6.7l10.3,-12.1l-13.5,7.1z" stroke="#47cb87"/>
<path d="M1375.8,508.9l13.5,-5.7l10.3,-12.7l-13.5,6.3z" stroke="#52cc7e"/>
<path d="M1389.3,503.2l13.5,-4.9l10.4,-13.4l-13.6,5.6z" stroke="#5dcc75"/>
<path d="M1402.8,498.3l13.6,-4.4l10.3,-14l-13.5,5z" stroke="#66cd6d"/>
<path d="M1416.3,493.9l13.5,-3.8l10.3,-14.6l-13.5,4.4z" stroke="#70cd65"/>
<path d="M1429.9,490.1l13.5,-3.3l10.3,-15.3l-13.5,4z" stroke="#79cc5e"/>
<path d="M1443.4,486.8l13.5,-3.1l10.4,-15.8l-13.6,3.6z" stroke="#82cc58"/>
<path d="M1456.9,483.7l13.6,-2.7l10.3,-16.4l-13.5,3.3z" stroke="#8acb52"/>
<path d="M1470.5,481l13.5,-2.6l10.3,-16.8l-13.5,3z" stroke="#91ca4c"/>
<path d="M1484,478.4l13.5,-2.3l10.4,-17.3l-13.6,2.8z" stroke="#98c947"/>
<path d="M1497.5,476.1l13.6,-2.1l10.3,-17.8l-13.5,2.6z" stroke="#9fc941"/>
<path d="M1511.1,474l13.5,-2l10.3,-18.3l-13.5,2.5z" stroke="#a5c83d"/>
<path d="M1524.6,472l13.5,-1.9l10.4,-18.7l-13.6,2.3z" stroke="#acc739"/>
<path d="M1538.1,470.1l13.5,-1.9l10.4,-19.1l-13.5,2.3z" stroke="#b2c635"/>
<path d="M1551.7,468.2l13.6,-1.8l10.3,-19.5l-13.5,2.2z" stroke="#b7c532"/>
<path d="M1565.2,466.4l13.5,-1.8l10.3,-19.9l-13.5,2.2z" stroke="#bdc32e"/>
<path d="M1578.7,464.6l13.5,-1.9l10.4,-20.2l-13.6,2.2z" stroke="#c2c22c"/>
<path d="M1592.2,462.7l13.6,-1.9l10.3,-20.7l-13.5,2.4z" stroke="#c8c129"/>
<path d="M1605.8,460.8l13.5,-2.2l10.3,-20.9l-13.5,2.4z" stroke="#cdc028"/>
<path d="M1619.3,458.6l13.5,-2.5l10.4,-21.1l-13.6,2.7z" stroke="#d3bf27"/>
<path d="M810.7,635.4l13.5,4.8l10.4,-8.6l-13.6,-4.5z" stroke="#3178fc"/>
<path d="M824.2,640.2l13.6,5l10.3,-8.8l-13.5,-4.8z" stroke="#3276fd"/>
<path d="M837.8,645.2l13.5,5.2l10.3,-9.1l-13.5,-4.9z" stroke="#3474fd"/>
<path d="M851.3,650.4l13.5,5.3l10.4,-9.3l-13.6,-5.1z" stroke="#3572fe"/>
<path d="M864.8,655.7l13.6,5.3l10.3,-9.6l-13.5,-5z" stroke="#3770fe"/>
<path d="M878.4,661l13.5,5.2l10.3,-9.8l-13.5,-5z" stroke="#396efe"/>
<path d="M891.9,666.2l13.5,5.2l10.3,-10.1l-13.5,-4.9z" stroke="#3a6cff"/>
<path d="M905.4,671.4l13.5,5l10.4,-10.3l-13.6,-4.8z" stroke="#3b6aff"/>
<path d="M918.9,676.4l13.6,4.8l10.3,-10.5l-13.5,-4.6z" stroke="#3c68fe"/>
<path d="M932.5,681.2l13.5,4.5l10.3,-10.7l-13.5,-4.3z" stroke="#3d66fe"/>
<path d="M946,685.7l13.5,4.3l10.4,-11l-13.6,-4z" stroke="#3e65fe"/>
<path d="M959.5,690l13.6,3.9l10.3,-11.2l-13.5,-3.7z" stroke="#3e64fe"/>
<path d="M973.1,693.9l13.5,3.4l10.3,-11.3l-13.5,-3.3z" stroke="#3f63fe"/>
<path d="M986.6,697.3l13.5,3.1l10.3,-11.6l-13.5,-2.8z" stroke="#3f62fe"/>
<path d="M1000.1,700.4l13.5,2.4l10.4,-11.8l-13.6,-2.2z" stroke="#3f62fe"/>
<path d="M1013.6,702.8l13.6,1.9l10.3,-12.1l-13.5,-1.6z" stroke="#3f62fe"/>
<path d="M1027.2,704.7l13.5,1.1l10.3,-12.4l-13.5,-0.8z" stroke="#3f62fe"/>
<path d="M1040.7,705.8l13.5,0.3l10.4,-12.7l-13.6,0z" stroke="#3e64fe"/>
<path d="M1054.2,706.1l13.6,-0.7l10.3,-13.1l-13.5,1.1z" stroke="#3e65fe"/>
<path d="M1067.8,705.4l13.5,-2l10.3,-13.4l-13.5,2.3z" stroke="#3c68fe"/>
<path d="M1081.3,703.4l13.5,-3.8l10.4,-13.3l-13.6,3.7z" stroke="#3a6bff"/>
<path d="M1094.8,699.6l13.6,-5l10.3,-13.2l-13.5,4.9z" stroke="#3770fe"/>
<path d="M1108.4,694.6l13.5,-6.1l10.3,-13.1l-13.5,6z" stroke="#3276fd"/>
<path d="M1121.9,688.5l13.5,-6.9l10.4,-13.1l-13.6,6.9z" stroke="#2f7cfb"/>
<path d="M1135.4,681.6l13.6,-7.6l10.3,-13.1l-13.5,7.6z" stroke="#2e83f8"/>
<path d="M1149,674l13.5,-8.3l10.3,-13.1l-13.5,8.3z" stroke="#2d8af5"/>
<path d="M1162.5,665.7l13.5,-8.8l10.3,-13.1l-13.5,8.8z" stroke="#2c90f0"/>
<path d="M1176,656.9l13.5,-9.3l10.4,-13.2l-13.6,9.4z" stroke="#2896ec"/>
<path d="M1189.5,647.6l13.6,-9.6l10.3,-13.3l-13.5,9.7z" stroke="#259be7"/>
<path d="M1203.1,638l13.5,-10l10.3,-13.4l-13.5,10.1z" stroke="#22a1e4"/>
<path d="M1216.6,628l13.5,-10.2l10.4,-13.6l-13.6,10.4z" stroke="#1ea7e1"/>
<path d="M1230.1,617.8l13.6,-10.5l10.3,-13.6l-13.5,10.5z" stroke="#19addc"/>
<path d="M1243.7,607.3l13.5,-10.5l10.3,-13.7l-13.5,10.6z" stroke="#10b2d5"/>
<path d="M1257.2,596.8l13.5,-10.5l10.4,-13.8l-13.6,10.6z" stroke="#05b6cd"/>
<path d="M1270.7,586.3l13.5,-10.4l10.4,-13.9l-13.5,10.5z" stroke="#02bac5"/>
<path d="M1284.2,575.9l13.6,-10.2l10.3,-14l-13.5,10.3z" stroke="#0bbdbc"/>
<path d="M1297.8,565.7l13.5,-10l10.3,-14l-13.5,10z" stroke="#1cc0b3"/>
<path d="M1311.3,555.7l13.5,-9.5l10.4,-14l-13.6,9.5z" stroke="#28c3ab"/>
<path d="M1324.8,546.2l13.6,-8.8l10.3,-14l-13.5,8.8z" stroke="#30c5a2"/>
<path d="M1338.4,537.4l13.5,-7.8l10.3,-14l-13.5,7.8z" stroke="#36c799"/>
<path d="M1351.9,529.6l13.5,-6.2l10.4,-14.5l-13.6,6.7z" stroke="#3dc991"/>
<path d="M1365.4,523.4l13.6,-5.2l10.3,-15l-13.5,5.7z" stroke="#45cb89"/>
<path d="M1379,518.2l13.5,-4.4l10.3,-15.5l-13.5,4.9z" stroke="#4ecc81"/>
<path d="M1392.5,513.8l13.5,-3.9l10.4,-16l-13.6,4.4z" stroke="#56cc7a"/>
<path d="M1406,509.9l13.6,-3.3l10.3,-16.5l-13.5,3.8z" stroke="#5ecd74"/>
<path d="M1419.5,506.6l13.5,-3l10.3,-16.8l-13.5,3.3z" stroke="#66cd6d"/>
<path d="M1433.1,503.6l13.5,-2.7l10.3,-17.2l-13.5,3.1z" stroke="#6dcd67"/>
<path d="M1446.6,500.9l13.5,-2.4l10.4,-17.5l-13.6,2.7z" stroke="#75cc61"/>
<path d="M1460.1,498.5l13.6,-2.2l10.3,-17.9l-13.5,2.6z" stroke="#7ccc5c"/>
<path d="M1473.7,496.3l13.5,-2l10.3,-18.2l-13.5,2.3z" stroke="#83cc57"/>
<path d="M1487.2,494.3l13.5,-1.9l10.4,-18.4l-13.6,2.1z" stroke="#89cb52"/>
<path d="M1500.7,492.4l13.6,-1.7l10.3,-18.7l-13.5,2z" stroke="#8fcb4e"/>
<path d="M1514.3,490.7l13.5,-1.7l10.3,-18.9l-13.5,1.9z" stroke="#95ca49"/>
<path d="M1527.8,489l13.5,-1.6l10.3,-19.2l-13.5,1.9z" stroke="#9bc945"/>
<path d="M1541.3,487.4l13.6,-1.5l10.3,-19.5l-13.6,1.8z" stroke="#a0c841"/>
<path d="M1554.9,485.9l13.5,-1.6l10.3,-19.7l-13.5,1.8z" stroke="#a6c83d"/>
<path d="M1568.4,484.3l13.5,-1.7l10.3,-19.9l-13.5,1.9z" stroke="#acc739"/>
<path d="M1581.9,482.6l13.5,-1.7l10.4,-20.1l-13.6,1.9z" stroke="#b1c635"/>
<path d="M1595.4,480.9l13.6,-2l10.3,-20.3l-13.5,2.2z" stroke="#b7c532"/>
<path d="M1609,478.9l13.5,-2.3l10.3,-20.5l-13.5,2.5z" stroke="#bcc42f"/>
<path d="M800.4,644.6l13.5,4.8l10.3,-9.2l-13.5,-4.8z" stroke="#3474fd"/>
<path d="M813.9,649.4l13.5,5.1l10.4,-9.3l-13.6,-5z" stroke="#3672fe"/>
<path d="M827.4,654.5l13.6,5.2l10.3,-9.3l-13.5,-5.2z" stroke="#3770fe"/>
<path d="M841,659.7l13.5,5.4l10.3,-9.4l-13.5,-5.3z" stroke="#396dff"/>
<path d="M854.5,665.1l13.5,5.3l10.4,-9.4l-13.6,-5.3z" stroke="#3a6bff"/>
<path d="M868,670.4l13.6,5.4l10.3,-9.6l-13.5,-5.2z" stroke="#3c69ff"/>
<path d="M881.5,675.8l13.5,5.2l10.3,-9.6l-13.5,-5.2z" stroke="#3d67fe"/>
<path d="M895.1,681l13.5,5l10.3,-9.6l-13.5,-5z" stroke="#3e65fe"/>
<path d="M908.6,686l13.5,4.9l10.4,-9.7l-13.6,-4.8z" stroke="#3f63fe"/>
<path d="M922.1,690.9l13.6,4.6l10.3,-9.8l-13.5,-4.5z" stroke="#3f61fd"/>
<path d="M935.7,695.5l13.5,4.4l10.3,-9.9l-13.5,-4.3z" stroke="#4060fd"/>
<path d="M949.2,699.9l13.5,3.9l10.4,-9.9l-13.6,-3.9z" stroke="#405ffd"/>
<path d="M962.7,703.8l13.6,3.6l10.3,-10.1l-13.5,-3.4z" stroke="#405efd"/>
<path d="M976.3,707.4l13.5,3l10.3,-10l-13.5,-3.1z" stroke="#405dfd"/>
<path d="M989.8,710.4l13.5,2.5l10.3,-10.1l-13.5,-2.4z" stroke="#405cfd"/>
<path d="M1003.3,712.9l13.5,1.8l10.4,-10l-13.6,-1.9z" stroke="#405cfd"/>
<path d="M1016.8,714.7l13.6,1.1l10.3,-10l-13.5,-1.1z" stroke="#405dfd"/>
<path d="M1030.4,715.8l13.5,0.3l10.3,-10l-13.5,-0.3z" stroke="#405efd"/>
<path d="M1043.9,716.1l13.5,-0.8l10.4,-9.9l-13.6,0.7z" stroke="#4060fd"/>
<path d="M1057.4,715.3l13.6,-2.1l10.3,-9.8l-13.5,2z" stroke="#3f62fe"/>
<path d="M1071,713.2l13.5,-3.3l10.3,-10.3l-13.5,3.8z" stroke="#3e65fe"/>
<path d="M1084.5,709.9l13.5,-4.6l10.4,-10.7l-13.6,5z" stroke="#3b6aff"/>
<path d="M1098,705.3l13.6,-5.7l10.3,-11.1l-13.5,6.1z" stroke="#376ffe"/>
<path d="M1111.6,699.6l13.5,-6.5l10.3,-11.5l-13.5,6.9z" stroke="#3375fd"/>
<path d="M1125.1,693.1l13.5,-7.2l10.4,-11.9l-13.6,7.6z" stroke="#2f7cfb"/>
<path d="M1138.6,685.9l13.6,-7.9l10.3,-12.3l-13.5,8.3z" stroke="#2d83f8"/>
<path d="M1152.2,678l13.5,-8.5l10.3,-12.6l-13.5,8.8z" stroke="#2d8af4"/>
<path d="M1165.7,669.5l13.5,-8.9l10.3,-13l-13.5,9.3z" stroke="#2b90ef"/>
<path d="M1179.2,660.6l13.5,-9.3l10.4,-13.3l-13.6,9.6z" stroke="#2796eb"/>
<path d="M1192.7,651.3l13.6,-9.6l10.3,-13.7l-13.5,10z" stroke="#259ce7"/>
<path d="M1206.3,641.7l13.5,-9.8l10.3,-14.1l-13.5,10.2z" stroke="#22a2e4"/>
<path d="M1219.8,631.9l13.5,-10l10.4,-14.6l-13.6,10.5z" stroke="#1da8e0"/>
<path d="M1233.3,621.9l13.6,-10.1l10.3,-15l-13.5,10.5z" stroke="#18addb"/>
<path d="M1246.9,611.8l13.5,-10.1l10.3,-15.4l-13.5,10.5z" stroke="#0fb2d5"/>
<path d="M1260.4,601.7l13.5,-10l10.3,-15.8l-13.5,10.4z" stroke="#04b6cd"/>
<path d="M1273.9,591.7l13.5,-9.8l10.4,-16.2l-13.6,10.2z" stroke="#02bac5"/>
<path d="M1287.5,581.9l13.6,-9.5l10.3,-16.7l-13.5,10z" stroke="#0bbdbc"/>
<path d="M1301,572.4l13.5,-8.9l10.3,-17.3l-13.5,9.5z" stroke="#1bc0b4"/>
<path d="M1314.5,563.5l13.5,-8.2l10.4,-17.9l-13.6,8.8z" stroke="#27c2ac"/>
<path d="M1328,555.3l13.6,-7.3l10.3,-18.4l-13.5,7.8z" stroke="#2ec5a4"/>
<path d="M1341.6,548l13.5,-6.2l10.3,-18.4l-13.5,6.2z" stroke="#33c79d"/>
<path d="M1355.1,541.8l13.5,-5.2l10.4,-18.4l-13.6,5.2z" stroke="#38c896"/>
<path d="M1368.6,536.6l13.6,-4.5l10.3,-18.3l-13.5,4.4z" stroke="#3eca8f"/>
<path d="M1382.2,532.1l13.5,-3.8l10.3,-18.4l-13.5,3.9z" stroke="#45cb89"/>
<path d="M1395.7,528.3l13.5,-3.3l10.4,-18.4l-13.6,3.3z" stroke="#4bcb83"/>
<path d="M1409.2,525l13.6,-2.9l10.3,-18.5l-13.5,3z" stroke="#52cc7e"/>
<path d="M1422.8,522.1l13.5,-2.6l10.3,-18.6l-13.5,2.7z" stroke="#59cc78"/>
<path d="M1436.3,519.5l13.5,-2.3l10.3,-18.7l-13.5,2.4z" stroke="#5fcd73"/>
<path d="M1449.8,517.2l13.5,-2.1l10.4,-18.8l-13.6,2.2z" stroke="#65cd6e"/>
<path d="M1463.3,515.1l13.6,-1.9l10.3,-18.9l-13.5,2z" stroke="#6bcd69"/>
<path d="M1476.9,513.2l13.5,-1.8l10.3,-19l-13.5,1.9z" stroke="#71cd64"/>
<path d="M1490.4,511.4l13.5,-1.7l10.4,-19l-13.6,1.7z" stroke="#77cc60"/>
<path d="M1503.9,509.7l13.6,-1.6l10.3,-19.1l-13.5,1.7z" stroke="#7dcc5b"/>
<path d="M1517.5,508.1l13.5,-1.5l10.3,-19.2l-13.5,1.6z" stroke="#83cc57"/>
<path d="M1531,506.6l13.5,-1.5l10.4,-19.2l-13.6,1.5z" stroke="#88cb53"/>
<path d="M1544.5,505.1l13.6,-1.6l10.3,-19.2l-13.5,1.6z" stroke="#8ecb4f"/>
<path d="M1558.1,503.5l13.5,-1.7l10.3,-19.2l-13.5,1.7z" stroke="#94ca4a"/>
<path d="M1571.6,501.8l13.5,-1.8l10.3,-19.1l-13.5,1.7z" stroke="#99c946"/>
<path d="M1585.1,500l13.5,-2.1l10.4,-19l-13.6,2z" stroke="#9fc941"/>
<path d="M1598.6,497.9l13.6,-2.3l10.3,-19l-13.5,2.3z" stroke="#a5c83d"/>
<path d="M790,653.9l13.6,4.9l10.3,-9.4l-13.5,-4.8z" stroke="#376ffe"/>
<path d="M803.6,658.8l13.5,5l10.3,-9.3l-13.5,-5.1z" stroke="#396dff"/>
<path d="M817.1,663.8l13.5,5.2l10.4,-9.3l-13.6,-5.2z" stroke="#3b6bff"/>
<path d="M830.6,669l13.6,5.3l10.3,-9.2l-13.5,-5.4z" stroke="#3c69ff"/>
<path d="M844.2,674.3l13.5,5.3l10.3,-9.2l-13.5,-5.3z" stroke="#3d67fe"/>
<path d="M857.7,679.6l13.5,5.3l10.4,-9.1l-13.6,-5.4z" stroke="#3e65fe"/>
<path d="M871.2,684.9l13.6,5.1l10.3,-9l-13.5,-5.2z" stroke="#3f62fe"/>
<path d="M884.8,690l13.5,5.1l10.3,-9.1l-13.5,-5z" stroke="#3f61fd"/>
<path d="M898.3,695.1l13.5,4.8l10.3,-9l-13.5,-4.9z" stroke="#405ffd"/>
<path d="M911.8,699.9l13.5,4.6l10.4,-9l-13.6,-4.6z" stroke="#405dfd"/>
<path d="M925.3,704.5l13.6,4.3l10.3,-8.9l-13.5,-4.4z" stroke="#405cfc"/>
<path d="M938.9,708.8l13.5,3.9l10.3,-8.9l-13.5,-3.9z" stroke="#415afc"/>
<path d="M952.4,712.7l13.5,3.4l10.4,-8.7l-13.6,-3.6z" stroke="#4159fc"/>
<path d="M965.9,716.1l13.6,3l10.3,-8.7l-13.5,-3z" stroke="#4159fb"/>
<path d="M979.5,719.1l13.5,2.4l10.3,-8.6l-13.5,-2.5z" stroke="#4158fb"/>
<path d="M993,721.5l13.5,1.7l10.3,-8.5l-13.5,-1.8z" stroke="#4158fb"/>
<path d="M1006.5,723.2l13.5,0.9l10.4,-8.3l-13.6,-1.1z" stroke="#4159fb"/>
<path d="M1020.1,724.1l13.6,0.1l10.3,-8.1l-13.5,-0.3z" stroke="#415afc"/>
<path d="M1033.6,724.2l13.5,-0.9l10.3,-8l-13.5,0.8z" stroke="#405cfc"/>
<path d="M1047.1,723.3l13.5,-1.9l10.4,-8.2l-13.6,2.1z" stroke="#405efd"/>
<path d="M1060.6,721.4l13.6,-3l10.3,-8.5l-13.5,3.3z" stroke="#3f61fd"/>
<path d="M1074.2,718.4l13.5,-4.1l10.3,-9l-13.5,4.6z" stroke="#3e65fe"/>
<path d="M1087.7,714.3l13.5,-5l10.4,-9.7l-13.6,5.7z" stroke="#3b6aff"/>
<path d="M1101.2,709.3l13.6,-5.9l10.3,-10.3l-13.5,6.5z" stroke="#3770fe"/>
<path d="M1114.8,703.4l13.5,-6.6l10.3,-10.9l-13.5,7.2z" stroke="#3276fd"/>
<path d="M1128.3,696.8l13.5,-7.3l10.4,-11.5l-13.6,7.9z" stroke="#2f7dfb"/>
<path d="M1141.8,689.5l13.6,-7.8l10.3,-12.2l-13.5,8.5z" stroke="#2d84f8"/>
<path d="M1155.3,681.7l13.5,-8.3l10.3,-12.8l-13.5,8.9z" stroke="#2d8bf4"/>
<path d="M1168.9,673.4l13.5,-8.7l10.3,-13.4l-13.5,9.3z" stroke="#2b91ef"/>
<path d="M1182.4,664.7l13.5,-9l10.4,-14l-13.6,9.6z" stroke="#2797eb"/>
<path d="M1195.9,655.7l13.6,-9.2l10.3,-14.6l-13.5,9.8z" stroke="#259de7"/>
<path d="M1209.5,646.5l13.5,-9.4l10.3,-15.2l-13.5,10z" stroke="#22a2e4"/>
<path d="M1223,637.1l13.5,-9.4l10.4,-15.9l-13.6,10.1z" stroke="#1da8e0"/>
<path d="M1236.5,627.7l13.6,-9.5l10.3,-16.5l-13.5,10.1z" stroke="#19addb"/>
<path d="M1250.1,618.2l13.5,-9.3l10.3,-17.2l-13.5,10z" stroke="#10b2d5"/>
<path d="M1263.6,608.9l13.5,-9l10.3,-18l-13.5,9.8z" stroke="#05b6ce"/>
<path d="M1277.1,599.9l13.5,-8.7l10.4,-18.8l-13.6,9.5z" stroke="#01b9c6"/>
<path d="M1290.7,591.2l13.6,-8.2l10.3,-19.5l-13.5,8.9z" stroke="#08bcbf"/>
<path d="M1304.2,583l13.5,-7.6l10.3,-20.1l-13.5,8.2z" stroke="#15bfb7"/>
<path d="M1317.7,575.4l13.5,-6.9l10.4,-20.5l-13.6,7.3z" stroke="#21c1b0"/>
<path d="M1331.2,568.5l13.6,-6.1l10.3,-20.6l-13.5,6.2z" stroke="#29c3aa"/>
<path d="M1344.8,562.4l13.5,-5.2l10.3,-20.6l-13.5,5.2z" stroke="#2ec5a4"/>
<path d="M1358.3,557.2l13.5,-4.6l10.4,-20.5l-13.6,4.5z" stroke="#32c69e"/>
<path d="M1371.8,552.6l13.6,-4l10.3,-20.3l-13.5,3.8z" stroke="#36c898"/>
<path d="M1385.4,548.6l13.5,-3.5l10.3,-20.1l-13.5,3.3z" stroke="#3ac993"/>
<path d="M1398.9,545.1l13.5,-3.1l10.4,-19.9l-13.6,2.9z" stroke="#3fca8e"/>
<path d="M1412.4,542l13.5,-2.7l10.4,-19.8l-13.5,2.6z" stroke="#44cb89"/>
<path d="M1425.9,539.3l13.6,-2.4l10.3,-19.7l-13.5,2.3z" stroke="#4acb85"/>
<path d="M1439.5,536.9l13.5,-2.2l10.3,-19.6l-13.5,2.1z" stroke="#50cc80"/>
<path d="M1453,534.7l13.5,-2l10.4,-19.5l-13.6,1.9z" stroke="#55cc7b"/>
<path d="M1466.5,532.7l13.6,-1.9l10.3,-19.4l-13.5,1.8z" stroke="#5bcc77"/>
<path d="M1480.1,530.8l13.5,-1.7l10.3,-19.4l-13.5,1.7z" stroke="#60cd72"/>
<path d="M1493.6,529.1l13.5,-1.7l10.4,-19.3l-13.6,1.6z" stroke="#65cd6e"/>
<path d="M1507.1,527.4l13.6,-1.7l10.3,-19.1l-13.5,1.5z" stroke="#6acd6a"/>
<path d="M1520.7,525.7l13.5,-1.7l10.3,-18.9l-13.5,1.5z" stroke="#70cd65"/>
<path d="M1534.2,524l13.5,-1.7l10.4,-18.8l-13.6,1.6z" stroke="#76cc61"/>
<path d="M1547.7,522.3l13.5,-1.8l10.4,-18.7l-13.5,1.7z" stroke="#7ccc5c"/>
<path d="M1561.2,520.5l13.6,-2l10.3,-18.5l-13.5,1.8z" stroke="#82cc58"/>
<path d="M1574.8,518.5l13.5,-2.2l10.3,-18.4l-13.5,2.1z" stroke="#88cb53"/>
<path d="M1588.3,516.3l13.5,-2.5l10.4,-18.2l-13.6,2.3z" stroke="#8fcb4e"/>
<path d="M779.7,662.9l13.5,4.9l10.4,-9l-13.6,-4.9z" stroke="#3b6bff"/>
<path d="M793.2,667.8l13.6,5l10.3,-9l-13.5,-5z" stroke="#3c69ff"/>
<path d="M806.8,672.8l13.5,5.1l10.3,-8.9l-13.5,-5.2z" stroke="#3d67fe"/>
<path d="M820.3,677.9l13.5,5.2l10.4,-8.8l-13.6,-5.3z" stroke="#3e65fe"/>
<path d="M833.8,683.1l13.6,5.2l10.3,-8.7l-13.5,-5.3z" stroke="#3f63fe"/>
<path d="M847.4,688.3l13.5,5.2l10.3,-8.6l-13.5,-5.3z" stroke="#3f61fd"/>
<path d="M860.9,693.5l13.5,5.1l10.4,-8.6l-13.6,-5.1z" stroke="#405ffd"/>
<path d="M874.4,698.6l13.6,4.9l10.3,-8.4l-13.5,-5.1z" stroke="#405dfd"/>
<path d="M887.9,703.5l13.5,4.7l10.3,-8.3l-13.5,-4.8z" stroke="#415bfc"/>
<path d="M901.5,708.2l13.5,4.5l10.3,-8.2l-13.5,-4.6z" stroke="#4159fc"/>
<path d="M915,712.7l13.5,4.1l10.4,-8l-13.6,-4.3z" stroke="#4158fb"/>
<path d="M928.5,716.8l13.6,3.8l10.3,-7.9l-13.5,-3.9z" stroke="#4157fb"/>
<path d="M942.1,720.6l13.5,3.3l10.3,-7.8l-13.5,-3.4z" stroke="#4156fa"/>
<path d="M955.6,723.9l13.5,2.8l10.4,-7.6l-13.6,-3z" stroke="#4155fa"/>
<path d="M969.1,726.7l13.6,2.3l10.3,-7.5l-13.5,-2.4z" stroke="#4155fa"/>
<path d="M982.7,729l13.5,1.6l10.3,-7.4l-13.5,-1.7z" stroke="#4155fa"/>
<path d="M996.2,730.6l13.5,0.8l10.3,-7.3l-13.5,-0.9z" stroke="#4156fa"/>
<path d="M1009.7,731.4l13.5,0.1l10.4,-7.3l-13.6,-0.1z" stroke="#4157fb"/>
<path d="M1023.2,731.5l13.6,-0.9l10.3,-7.3l-13.5,0.9z" stroke="#4158fb"/>
<path d="M1036.8,730.6l13.5,-1.7l10.3,-7.5l-13.5,1.9z" stroke="#415bfc"/>
<path d="M1050.3,728.9l13.5,-2.6l10.4,-7.9l-13.6,3z" stroke="#405efd"/>
<path d="M1063.8,726.3l13.6,-3.6l10.3,-8.4l-13.5,4.1z" stroke="#3f61fd"/>
<path d="M1077.4,722.7l13.5,-4.4l10.3,-9l-13.5,5z" stroke="#3d66fe"/>
<path d="M1090.9,718.3l13.5,-5.2l10.4,-9.7l-13.6,5.9z" stroke="#3b6bff"/>
<path d="M1104.4,713.1l13.6,-5.9l10.3,-10.4l-13.5,6.6z" stroke="#3671fe"/>
<path d="M1118,707.2l13.5,-6.5l10.3,-11.2l-13.5,7.3z" stroke="#3277fd"/>
<path d="M1131.5,700.7l13.5,-7.1l10.4,-11.9l-13.6,7.8z" stroke="#2e7efa"/>
<path d="M1145,693.6l13.6,-7.5l10.3,-12.7l-13.5,8.3z" stroke="#2d85f7"/>
<path d="M1158.6,686.1l13.5,-8l10.3,-13.4l-13.5,8.7z" stroke="#2d8cf3"/>
<path d="M1172.1,678.1l13.5,-8.2l10.3,-14.2l-13.5,9z" stroke="#2b91ef"/>
<path d="M1185.6,669.9l13.5,-8.5l10.4,-14.9l-13.6,9.2z" stroke="#2797eb"/>
<path d="M1199.1,661.4l13.6,-8.6l10.3,-15.7l-13.5,9.4z" stroke="#259ce7"/>
<path d="M1212.7,652.8l13.5,-8.6l10.3,-16.5l-13.5,9.4z" stroke="#22a2e4"/>
<path d="M1226.2,644.2l13.5,-8.6l10.4,-17.4l-13.6,9.5z" stroke="#1ea7e1"/>
<path d="M1239.7,635.6l13.6,-8.5l10.3,-18.2l-13.5,9.3z" stroke="#1aacdd"/>
<path d="M1253.3,627.1l13.5,-8.3l10.3,-18.9l-13.5,9z" stroke="#13b0d7"/>
<path d="M1266.8,618.8l13.5,-7.9l10.3,-19.7l-13.5,8.7z" stroke="#09b4d1"/>
<path d="M1280.3,610.9l13.6,-7.6l10.3,-20.3l-13.6,8.2z" stroke="#01b8ca"/>
<path d="M1293.9,603.3l13.5,-7l10.3,-20.9l-13.5,7.6z" stroke="#02bac4"/>
<path d="M1307.4,596.3l13.5,-6.5l10.3,-21.3l-13.5,6.9z" stroke="#0abdbd"/>
<path d="M1320.9,589.8l13.5,-5.8l10.4,-21.6l-13.6,6.1z" stroke="#16bfb7"/>
<path d="M1334.4,584l13.6,-5.3l10.3,-21.5l-13.5,5.2z" stroke="#1fc0b1"/>
<path d="M1348,578.7l13.5,-4.7l10.3,-21.4l-13.5,4.6z" stroke="#26c2ac"/>
<path d="M1361.5,574l13.5,-4.1l10.4,-21.3l-13.6,4z" stroke="#2cc4a7"/>
<path d="M1375,569.9l13.6,-3.7l10.3,-21.1l-13.5,3.5z" stroke="#2fc5a3"/>
<path d="M1388.6,566.2l13.5,-3.3l10.3,-20.9l-13.5,3.1z" stroke="#32c69e"/>
<path d="M1402.1,562.9l13.5,-2.9l10.3,-20.7l-13.5,2.7z" stroke="#35c79a"/>
<path d="M1415.6,560l13.6,-2.6l10.3,-20.5l-13.6,2.4z" stroke="#39c895"/>
<path d="M1429.2,557.4l13.5,-2.5l10.3,-20.2l-13.5,2.2z" stroke="#3cc991"/>
<path d="M1442.7,554.9l13.5,-2.2l10.3,-20l-13.5,2z" stroke="#40ca8d"/>
<path d="M1456.2,552.7l13.5,-2.1l10.4,-19.8l-13.6,1.9z" stroke="#45cb89"/>
<path d="M1469.7,550.6l13.6,-1.9l10.3,-19.6l-13.5,1.7z" stroke="#4acb84"/>
<path d="M1483.3,548.7l13.5,-2l10.3,-19.3l-13.5,1.7z" stroke="#4fcc80"/>
<path d="M1496.8,546.7l13.5,-1.8l10.4,-19.2l-13.6,1.7z" stroke="#54cc7c"/>
<path d="M1510.3,544.9l13.6,-2l10.3,-18.9l-13.5,1.7z" stroke="#5acc78"/>
<path d="M1523.9,542.9l13.5,-1.9l10.3,-18.7l-13.5,1.7z" stroke="#5fcd73"/>
<path d="M1537.4,541l13.5,-2.1l10.3,-18.4l-13.5,1.8z" stroke="#64cd6f"/>
<path d="M1550.9,538.9l13.5,-2.2l10.4,-18.2l-13.6,2z" stroke="#6acd6a"/>
<path d="M1564.5,536.7l13.6,-2.4l10.3,-18l-13.5,2.2z" stroke="#71cd65"/>
<path d="M1578,534.3l13.5,-2.6l10.3,-17.9l-13.5,2.5z" stroke="#78cc5f"/>
<path d="M769.4,671.5l13.5,4.9l10.3,-8.6l-13.5,-4.9z" stroke="#3d67fe"/>
<path d="M782.9,676.4l13.5,5l10.4,-8.6l-13.6,-5z" stroke="#3e65fe"/>
<path d="M796.4,681.4l13.6,5l10.3,-8.5l-13.5,-5.1z" stroke="#3f63fe"/>
<path d="M810,686.4l13.5,5.1l10.3,-8.4l-13.5,-5.2z" stroke="#3f61fd"/>
<path d="M823.5,691.5l13.5,5.1l10.4,-8.3l-13.6,-5.2z" stroke="#405ffd"/>
<path d="M837,696.6l13.6,5l10.3,-8.1l-13.5,-5.2z" stroke="#405dfd"/>
<path d="M850.6,701.6l13.5,5l10.3,-8l-13.5,-5.1z" stroke="#415bfc"/>
<path d="M864.1,706.6l13.5,4.7l10.4,-7.8l-13.6,-4.9z" stroke="#4159fc"/>
<path d="M877.6,711.3l13.6,4.6l10.3,-7.7l-13.5,-4.7z" stroke="#4158fb"/>
<path d="M891.2,715.9l13.5,4.3l10.3,-7.5l-13.5,-4.5z" stroke="#4156fa"/>
<path d="M904.7,720.2l13.5,4.1l10.3,-7.5l-13.5,-4.1z" stroke="#4155fa"/>
<path d="M918.2,724.3l13.5,3.6l10.4,-7.3l-13.6,-3.8z" stroke="#4154f9"/>
<path d="M931.7,727.9l13.6,3.2l10.3,-7.2l-13.5,-3.3z" stroke="#4153f9"/>
<path d="M945.3,731.1l13.5,2.7l10.3,-7.1l-13.5,-2.8z" stroke="#4152f9"/>
<path d="M958.8,733.8l13.5,2.1l10.4,-6.9l-13.6,-2.3z" stroke="#4152f9"/>
<path d="M972.3,735.9l13.6,1.5l10.3,-6.8l-13.5,-1.6z" stroke="#4152f9"/>
<path d="M985.9,737.4l13.5,0.9l10.3,-6.9l-13.5,-0.8z" stroke="#4153f9"/>
<path d="M999.4,738.3l13.5,0.1l10.3,-6.9l-13.5,-0.1z" stroke="#4154fa"/>
<path d="M1012.9,738.4l13.5,-0.7l10.4,-7.1l-13.6,0.9z" stroke="#4156fa"/>
<path d="M1026.5,737.7l13.6,-1.4l10.3,-7.4l-13.5,1.7z" stroke="#4158fb"/>
<path d="M1040,736.3l13.5,-2.3l10.3,-7.7l-13.5,2.6z" stroke="#415bfc"/>
<path d="M1053.5,734l13.5,-3l10.4,-8.3l-13.6,3.6z" stroke="#405efd"/>
<path d="M1067,731l13.6,-3.9l10.3,-8.8l-13.5,4.4z" stroke="#3f62fe"/>
<path d="M1080.6,727.1l13.5,-4.5l10.3,-9.5l-13.5,5.2z" stroke="#3d66fe"/>
<path d="M1094.1,722.6l13.5,-5.2l10.4,-10.2l-13.6,5.9z" stroke="#3a6cff"/>
<path d="M1107.6,717.4l13.6,-5.7l10.3,-11l-13.5,6.5z" stroke="#3671fe"/>
<path d="M1121.2,711.7l13.5,-6.3l10.3,-11.8l-13.5,7.1z" stroke="#3178fc"/>
<path d="M1134.7,705.4l13.5,-6.8l10.4,-12.5l-13.6,7.5z" stroke="#2e7efa"/>
<path d="M1148.2,698.6l13.6,-7.1l10.3,-13.4l-13.5,8z" stroke="#2d85f7"/>
<path d="M1161.8,691.5l13.5,-7.3l10.3,-14.3l-13.5,8.2z" stroke="#2d8bf3"/>
<path d="M1175.3,684.2l13.5,-7.7l10.3,-15.1l-13.5,8.5z" stroke="#2b91ef"/>
<path d="M1188.8,676.5l13.5,-7.7l10.4,-16l-13.6,8.6z" stroke="#2796eb"/>
<path d="M1202.3,668.8l13.6,-7.8l10.3,-16.8l-13.5,8.6z" stroke="#259be7"/>
<path d="M1215.9,661l13.5,-7.8l10.3,-17.6l-13.5,8.6z" stroke="#23a0e5"/>
<path d="M1229.4,653.2l13.5,-7.7l10.4,-18.4l-13.6,8.5z" stroke="#1fa5e2"/>
<path d="M1242.9,645.5l13.6,-7.5l10.3,-19.2l-13.5,8.3z" stroke="#1caadf"/>
<path d="M1256.5,638l13.5,-7.2l10.3,-19.9l-13.5,7.9z" stroke="#17aeda"/>
<path d="M1270,630.8l13.5,-6.9l10.4,-20.6l-13.6,7.6z" stroke="#10b2d5"/>
<path d="M1283.5,623.9l13.6,-6.5l10.3,-21.1l-13.5,7z" stroke="#07b5cf"/>
<path d="M1297.1,617.4l13.5,-6.1l10.3,-21.5l-13.5,6.5z" stroke="#01b8ca"/>
<path d="M1310.6,611.3l13.5,-5.6l10.3,-21.7l-13.5,5.8z" stroke="#02bac4"/>
<path d="M1324.1,605.7l13.5,-5.2l10.4,-21.8l-13.6,5.3z" stroke="#08bcbf"/>
<path d="M1337.6,600.5l13.6,-4.7l10.3,-21.8l-13.5,4.7z" stroke="#10beba"/>
<path d="M1351.2,595.8l13.5,-4.2l10.3,-21.7l-13.5,4.1z" stroke="#19bfb5"/>
<path d="M1364.7,591.6l13.5,-3.9l10.4,-21.5l-13.6,3.7z" stroke="#20c1b1"/>
<path d="M1378.2,587.7l13.6,-3.4l10.3,-21.4l-13.5,3.3z" stroke="#26c2ac"/>
<path d="M1391.8,584.3l13.5,-3.2l10.3,-21.1l-13.5,2.9z" stroke="#2bc3a8"/>
<path d="M1405.3,581.1l13.5,-2.9l10.4,-20.8l-13.6,2.6z" stroke="#2ec4a4"/>
<path d="M1418.8,578.2l13.6,-2.7l10.3,-20.6l-13.5,2.5z" stroke="#31c6a0"/>
<path d="M1432.4,575.5l13.5,-2.5l10.3,-20.3l-13.5,2.2z" stroke="#33c79d"/>
<path d="M1445.9,573l13.5,-2.4l10.3,-20l-13.5,2.1z" stroke="#36c899"/>
<path d="M1459.4,570.6l13.5,-2.2l10.4,-19.7l-13.6,1.9z" stroke="#39c895"/>
<path d="M1472.9,568.4l13.6,-2.2l10.3,-19.5l-13.5,2z" stroke="#3dc991"/>
<path d="M1486.5,566.2l13.5,-2.2l10.3,-19.1l-13.5,1.8z" stroke="#40ca8d"/>
<path d="M1500,564l13.5,-2.2l10.4,-18.9l-13.6,2z" stroke="#45cb89"/>
<path d="M1513.5,561.8l13.6,-2.3l10.3,-18.5l-13.5,1.9z" stroke="#4acb84"/>
<path d="M1527.1,559.5l13.5,-2.3l10.3,-18.3l-13.5,2.1z" stroke="#50cc80"/>
<path d="M1540.6,557.2l13.5,-2.4l10.3,-18.1l-13.5,2.2z" stroke="#56cc7b"/>
<path d="M1554.1,554.8l13.5,-2.6l10.4,-17.9l-13.6,2.4z" stroke="#5ccc76"/>
<path d="M1567.7,552.2l13.6,-2.7l10.3,-17.8l-13.5,2.6z" stroke="#62cd71"/>
<path d="M759,679.6l13.6,4.8l10.3,-8l-13.5,-4.9z" stroke="#3f63fe"/>
<path d="M772.6,684.4l13.5,4.9l10.3,-7.9l-13.5,-5z" stroke="#3f61fd"/>
<path d="M786.1,689.3l13.5,5l10.4,-7.9l-13.6,-5z" stroke="#405ffd"/>
<path d="M799.6,694.3l13.6,5l10.3,-7.8l-13.5,-5.1z" stroke="#405dfd"/>
<path d="M813.2,699.3l13.5,5l10.3,-7.7l-13.5,-5.1z" stroke="#405bfc"/>
<path d="M826.7,704.3l13.5,4.9l10.4,-7.6l-13.6,-5z" stroke="#415afc"/>
<path d="M840.2,709.2l13.6,4.8l10.3,-7.4l-13.5,-5z" stroke="#4158fb"/>
<path d="M853.8,714l13.5,4.6l10.3,-7.3l-13.5,-4.7z" stroke="#4156fb"/>
<path d="M867.3,718.6l13.5,4.5l10.4,-7.2l-13.6,-4.6z" stroke="#4155fa"/>
<path d="M880.8,723.1l13.6,4.2l10.3,-7.1l-13.5,-4.3z" stroke="#4153f9"/>
<path d="M894.3,727.3l13.5,3.9l10.3,-6.9l-13.5,-4.1z" stroke="#4152f9"/>
<path d="M907.9,731.2l13.5,3.5l10.3,-6.8l-13.5,-3.6z" stroke="#4151f8"/>
<path d="M921.4,734.7l13.5,3.1l10.4,-6.7l-13.6,-3.2z" stroke="#4150f8"/>
<path d="M934.9,737.8l13.6,2.6l10.3,-6.6l-13.5,-2.7z" stroke="#4150f8"/>
<path d="M948.5,740.4l13.5,2.2l10.3,-6.7l-13.5,-2.1z" stroke="#4150f7"/>
<path d="M962,742.6l13.5,1.5l10.4,-6.7l-13.6,-1.5z" stroke="#4150f8"/>
<path d="M975.5,744.1l13.6,0.9l10.3,-6.7l-13.5,-0.9z" stroke="#4151f8"/>
<path d="M989.1,745l13.5,0.2l10.3,-6.8l-13.5,-0.1z" stroke="#4152f8"/>
<path d="M1002.6,745.2l13.5,-0.4l10.3,-7.1l-13.5,0.7z" stroke="#4153f9"/>
<path d="M1016.1,744.8l13.5,-1.2l10.4,-7.3l-13.6,1.4z" stroke="#4155fa"/>
<path d="M1029.6,743.6l13.6,-1.8l10.3,-7.8l-13.5,2.3z" stroke="#4158fb"/>
<path d="M1043.2,741.8l13.5,-2.6l10.3,-8.2l-13.5,3z" stroke="#415bfc"/>
<path d="M1056.7,739.2l13.5,-3.2l10.4,-8.9l-13.6,3.9z" stroke="#405efd"/>
<path d="M1070.2,736l13.6,-3.9l10.3,-9.5l-13.5,4.5z" stroke="#3f62fe"/>
<path d="M1083.8,732.1l13.5,-4.5l10.3,-10.2l-13.5,5.2z" stroke="#3d67fe"/>
<path d="M1097.3,727.6l13.5,-5l10.4,-10.9l-13.6,5.7z" stroke="#3a6cff"/>
<path d="M1110.8,722.6l13.6,-5.5l10.3,-11.7l-13.5,6.3z" stroke="#3671fe"/>
<path d="M1124.4,717.1l13.5,-5.9l10.3,-12.6l-13.5,6.8z" stroke="#3178fc"/>
<path d="M1137.9,711.2l13.5,-6.3l10.4,-13.4l-13.6,7.1z" stroke="#2e7efa"/>
<path d="M1151.4,704.9l13.6,-6.5l10.3,-14.2l-13.5,7.3z" stroke="#2d84f8"/>
<path d="M1165,698.4l13.5,-6.8l10.3,-15.1l-13.5,7.7z" stroke="#2d8af4"/>
<path d="M1178.5,691.6l13.5,-6.9l10.3,-15.9l-13.5,7.7z" stroke="#2c90f0"/>
<path d="M1192,684.7l13.5,-6.9l10.4,-16.8l-13.6,7.8z" stroke="#2995ec"/>
<path d="M1205.5,677.8l13.6,-7l10.3,-17.6l-13.5,7.8z" stroke="#2699e9"/>
<path d="M1219.1,670.8l13.5,-6.9l10.3,-18.4l-13.5,7.7z" stroke="#249ee6"/>
<path d="M1232.6,663.9l13.5,-6.8l10.4,-19.1l-13.6,7.5z" stroke="#21a3e4"/>
<path d="M1246.1,657.1l13.6,-6.5l10.3,-19.8l-13.5,7.2z" stroke="#1ea7e1"/>
<path d="M1259.7,650.6l13.5,-6.4l10.3,-20.3l-13.5,6.9z" stroke="#1babde"/>
<path d="M1273.2,644.2l13.5,-6l10.4,-20.8l-13.6,6.5z" stroke="#16afda"/>
<path d="M1286.7,638.2l13.5,-5.7l10.4,-21.2l-13.5,6.1z" stroke="#10b2d5"/>
<path d="M1300.2,632.5l13.6,-5.4l10.3,-21.4l-13.5,5.6z" stroke="#08b4d0"/>
<path d="M1313.8,627.1l13.5,-5l10.3,-21.6l-13.5,5.2z" stroke="#03b7cc"/>
<path d="M1327.3,622.1l13.5,-4.6l10.4,-21.7l-13.6,4.7z" stroke="#01b9c7"/>
<path d="M1340.8,617.5l13.6,-4.3l10.3,-21.6l-13.5,4.2z" stroke="#03bbc2"/>
<path d="M1354.4,613.2l13.5,-4l10.3,-21.5l-13.5,3.9z" stroke="#09bcbe"/>
<path d="M1367.9,609.2l13.5,-3.7l10.4,-21.2l-13.6,3.4z" stroke="#10beba"/>
<path d="M1381.4,605.5l13.6,-3.4l10.3,-21l-13.5,3.2z" stroke="#18bfb6"/>
<path d="M1395,602.1l13.5,-3.1l10.3,-20.8l-13.5,2.9z" stroke="#1ec0b2"/>
<path d="M1408.5,599l13.5,-3l10.4,-20.5l-13.6,2.7z" stroke="#24c1ae"/>
<path d="M1422,596l13.6,-2.8l10.3,-20.2l-13.5,2.5z" stroke="#28c3aa"/>
<path d="M1435.5,593.2l13.5,-2.6l10.3,-20l-13.5,2.4z" stroke="#2cc4a7"/>
<path d="M1449.1,590.6l13.5,-2.6l10.3,-19.6l-13.5,2.2z" stroke="#2fc5a3"/>
<path d="M1462.6,588l13.5,-2.5l10.4,-19.3l-13.6,2.2z" stroke="#31c6a0"/>
<path d="M1476.1,585.5l13.6,-2.5l10.3,-19l-13.5,2.2z" stroke="#34c79c"/>
<path d="M1489.7,583l13.5,-2.5l10.3,-18.7l-13.5,2.2z" stroke="#37c898"/>
<path d="M1503.2,580.5l13.5,-2.5l10.4,-18.5l-13.6,2.3z" stroke="#3ac994"/>
<path d="M1516.7,578l13.6,-2.6l10.3,-18.2l-13.5,2.3z" stroke="#3eca8f"/>
<path d="M1530.3,575.4l13.5,-2.6l10.3,-18l-13.5,2.4z" stroke="#43ca8b"/>
<path d="M1543.8,572.8l13.5,-2.8l10.3,-17.8l-13.5,2.6z" stroke="#48cb86"/>
<path d="M1557.3,570l13.5,-2.9l10.4,-17.6l-13.6,2.7z" stroke="#4ecc81"/>
<path d="M748.7,687.1l13.5,4.8l10.4,-7.5l-13.6,-4.8z" stroke="#4060fd"/>
<path d="M762.2,691.9l13.6,4.9l10.3,-7.5l-13.5,-4.9z" stroke="#405efd"/>
<path d="M775.8,696.8l13.5,4.9l10.3,-7.4l-13.5,-5z" stroke="#405cfc"/>
<path d="M789.3,701.7l13.5,4.9l10.4,-7.3l-13.6,-5z" stroke="#415afc"/>
<path d="M802.8,706.6l13.6,4.8l10.3,-7.1l-13.5,-5z" stroke="#4158fb"/>
<path d="M816.4,711.4l13.5,4.8l10.3,-7l-13.5,-4.9z" stroke="#4157fb"/>
<path d="M829.9,716.2l13.5,4.7l10.4,-6.9l-13.6,-4.8z" stroke="#4155fa"/>
<path d="M843.4,720.9l13.6,4.6l10.3,-6.9l-13.5,-4.6z" stroke="#4154f9"/>
<path d="M857,725.5l13.5,4.3l10.3,-6.7l-13.5,-4.5z" stroke="#4152f9"/>
<path d="M870.5,729.8l13.5,4.1l10.4,-6.6l-13.6,-4.2z" stroke="#4151f8"/>
<path d="M884,733.9l13.6,3.8l10.3,-6.5l-13.5,-3.9z" stroke="#4150f7"/>
<path d="M897.5,737.7l13.5,3.5l10.3,-6.5l-13.5,-3.5z" stroke="#414ff7"/>
<path d="M911.1,741.2l13.5,3.1l10.3,-6.5l-13.5,-3.1z" stroke="#414ef6"/>
<path d="M924.6,744.3l13.5,2.6l10.4,-6.5l-13.6,-2.6z" stroke="#414ef6"/>
<path d="M938.1,746.9l13.6,2.1l10.3,-6.4l-13.5,-2.2z" stroke="#414ef6"/>
<path d="M951.7,749l13.5,1.6l10.3,-6.5l-13.5,-1.5z" stroke="#414ef6"/>
<path d="M965.2,750.6l13.5,1.1l10.4,-6.7l-13.6,-0.9z" stroke="#414ef7"/>
<path d="M978.7,751.7l13.6,0.4l10.3,-6.9l-13.5,-0.2z" stroke="#414ff7"/>
<path d="M992.3,752.1l13.5,-0.2l10.3,-7.1l-13.5,0.4z" stroke="#4151f8"/>
<path d="M1005.8,751.9l13.5,-0.8l10.3,-7.5l-13.5,1.2z" stroke="#4152f9"/>
<path d="M1019.3,751.1l13.5,-1.5l10.4,-7.8l-13.6,1.8z" stroke="#4155fa"/>
<path d="M1032.8,749.6l13.6,-2.1l10.3,-8.3l-13.5,2.6z" stroke="#4157fb"/>
<path d="M1046.4,747.5l13.5,-2.7l10.3,-8.8l-13.5,3.2z" stroke="#415afc"/>
<path d="M1059.9,744.8l13.5,-3.2l10.4,-9.5l-13.6,3.9z" stroke="#405efd"/>
<path d="M1073.4,741.6l13.6,-3.9l10.3,-10.1l-13.5,4.5z" stroke="#3f62fe"/>
<path d="M1087,737.7l13.5,-4.3l10.3,-10.8l-13.5,5z" stroke="#3d66fe"/>
<path d="M1100.5,733.4l13.5,-4.7l10.4,-11.6l-13.6,5.5z" stroke="#3a6bff"/>
<path d="M1114,728.7l13.6,-5.1l10.3,-12.4l-13.5,5.9z" stroke="#3671fe"/>
<path d="M1127.6,723.6l13.5,-5.5l10.3,-13.2l-13.5,6.3z" stroke="#3277fd"/>
<path d="M1141.1,718.1l13.5,-5.7l10.4,-14l-13.6,6.5z" stroke="#2f7cfb"/>
<path d="M1154.6,712.4l13.6,-5.9l10.3,-14.9l-13.5,6.8z" stroke="#2e82f8"/>
<path d="M1168.2,706.5l13.5,-6.1l10.3,-15.7l-13.5,6.9z" stroke="#2d88f5"/>
<path d="M1181.7,700.4l13.5,-6.2l10.3,-16.4l-13.5,6.9z" stroke="#2c8ef2"/>
<path d="M1195.2,694.2l13.5,-6.1l10.4,-17.3l-13.6,7z" stroke="#2a92ee"/>
<path d="M1208.7,688.1l13.6,-6.2l10.3,-18l-13.5,6.9z" stroke="#2797eb"/>
<path d="M1222.3,681.9l13.5,-6.1l10.3,-18.7l-13.5,6.8z" stroke="#259be8"/>
<path d="M1235.8,675.8l13.5,-5.9l10.4,-19.3l-13.6,6.5z" stroke="#249fe5"/>
<path d="M1249.3,669.9l13.6,-5.8l10.3,-19.9l-13.5,6.4z" stroke="#21a3e3"/>
<path d="M1262.9,664.1l13.5,-5.6l10.3,-20.3l-13.5,6z" stroke="#1ea7e1"/>
<path d="M1276.4,658.5l13.5,-5.3l10.3,-20.7l-13.5,5.7z" stroke="#1babde"/>
<path d="M1289.9,653.2l13.6,-5.1l10.3,-21l-13.6,5.4z" stroke="#18aedb"/>
<path d="M1303.5,648.1l13.5,-4.8l10.3,-21.2l-13.5,5z" stroke="#13b1d7"/>
<path d="M1317,643.3l13.5,-4.6l10.3,-21.2l-13.5,4.6z" stroke="#0cb3d3"/>
<path d="M1330.5,638.7l13.5,-4.3l10.4,-21.2l-13.6,4.3z" stroke="#06b5cf"/>
<path d="M1344,634.4l13.6,-4.1l10.3,-21.1l-13.5,4z" stroke="#02b7cb"/>
<path d="M1357.6,630.3l13.5,-3.8l10.3,-21l-13.5,3.7z" stroke="#01b9c7"/>
<path d="M1371.1,626.5l13.5,-3.6l10.4,-20.8l-13.6,3.4z" stroke="#03bbc3"/>
<path d="M1384.6,622.9l13.6,-3.4l10.3,-20.5l-13.5,3.1z" stroke="#08bcbf"/>
<path d="M1398.2,619.5l13.5,-3.2l10.3,-20.3l-13.5,3z" stroke="#0ebebb"/>
<path d="M1411.7,616.3l13.5,-3.1l10.4,-20l-13.6,2.8z" stroke="#15bfb7"/>
<path d="M1425.2,613.2l13.6,-2.9l10.3,-19.7l-13.5,2.6z" stroke="#1cc0b4"/>
<path d="M1438.8,610.3l13.5,-2.9l10.3,-19.4l-13.5,2.6z" stroke="#22c1b0"/>
<path d="M1452.3,607.4l13.5,-2.8l10.3,-19.1l-13.5,2.5z" stroke="#26c2ac"/>
<path d="M1465.8,604.6l13.5,-2.7l10.4,-18.9l-13.6,2.5z" stroke="#2ac3a9"/>
<path d="M1479.3,601.9l13.6,-2.8l10.3,-18.6l-13.5,2.5z" stroke="#2dc4a5"/>
<path d="M1492.9,599.1l13.5,-2.8l10.3,-18.3l-13.5,2.5z" stroke="#30c5a1"/>
<path d="M1506.4,596.3l13.5,-2.8l10.4,-18.1l-13.6,2.6z" stroke="#33c69d"/>
<path d="M1519.9,593.5l13.6,-2.9l10.3,-17.8l-13.5,2.6z" stroke="#36c899"/>
<path d="M1533.5,590.6l13.5,-3l10.3,-17.6l-13.5,2.8z" stroke="#39c994"/>
<path d="M1547,587.6l13.5,-3.1l10.3,-17.4l-13.5,2.9z" stroke="#3eca90"/>
<path d="M738.4,694.1l13.5,4.8l10.3,-7l-13.5,-4.8z" stroke="#405dfd"/>
<path d="M751.9,698.9l13.5,4.8l10.4,-6.9l-13.6,-4.9z" stroke="#415bfc"/>
<path d="M765.5,703.7l13.6,4.8l10.3,-6.8l-13.5,-4.9z" stroke="#4159fc"/>
<path d="M779,708.5l13.5,4.8l10.3,-6.7l-13.5,-4.9z" stroke="#4158fb"/>
<path d="M792.5,713.3l13.5,4.8l10.4,-6.7l-13.6,-4.8z" stroke="#4156fa"/>
<path d="M806,718.1l13.6,4.7l10.3,-6.6l-13.5,-4.8z" stroke="#4154fa"/>
<path d="M819.6,722.8l13.5,4.7l10.3,-6.6l-13.5,-4.7z" stroke="#4153f9"/>
<path d="M833.1,727.5l13.5,4.4l10.4,-6.4l-13.6,-4.6z" stroke="#4151f8"/>
<path d="M846.6,731.9l13.6,4.3l10.3,-6.4l-13.5,-4.3z" stroke="#4150f7"/>
<path d="M860.2,736.2l13.5,4l10.3,-6.3l-13.5,-4.1z" stroke="#414ff7"/>
<path d="M873.7,740.2l13.5,3.8l10.4,-6.3l-13.6,-3.8z" stroke="#414ef6"/>
<path d="M887.2,744l13.6,3.4l10.3,-6.2l-13.5,-3.5z" stroke="#414df6"/>
<path d="M900.8,747.4l13.5,3.1l10.3,-6.2l-13.5,-3.1z" stroke="#414cf5"/>
<path d="M914.3,750.5l13.5,2.6l10.3,-6.2l-13.5,-2.6z" stroke="#414cf5"/>
<path d="M927.8,753.1l13.5,2.3l10.4,-6.4l-13.6,-2.1z" stroke="#414cf5"/>
<path d="M941.3,755.4l13.6,1.7l10.3,-6.5l-13.5,-1.6z" stroke="#414cf5"/>
<path d="M954.9,757.1l13.5,1.2l10.3,-6.6l-13.5,-1.1z" stroke="#414cf5"/>
<path d="M968.4,758.3l13.5,0.7l10.4,-6.9l-13.6,-0.4z" stroke="#414df6"/>
<path d="M981.9,759l13.6,0.1l10.3,-7.2l-13.5,0.2z" stroke="#414ef6"/>
<path d="M995.5,759.1l13.5,-0.5l10.3,-7.5l-13.5,0.8z" stroke="#4150f7"/>
<path d="M1009,758.6l13.5,-1l10.3,-8l-13.5,1.5z" stroke="#4152f8"/>
<path d="M1022.5,757.6l13.5,-1.7l10.4,-8.4l-13.6,2.1z" stroke="#4154f9"/>
<path d="M1036,755.9l13.6,-2.2l10.3,-8.9l-13.5,2.7z" stroke="#4157fb"/>
<path d="M1049.6,753.7l13.5,-2.7l10.3,-9.4l-13.5,3.2z" stroke="#415afc"/>
<path d="M1063.1,751l13.5,-3.2l10.4,-10.1l-13.6,3.9z" stroke="#405dfd"/>
<path d="M1076.6,747.8l13.6,-3.6l10.3,-10.8l-13.5,4.3z" stroke="#3f61fd"/>
<path d="M1090.2,744.2l13.5,-4.1l10.3,-11.4l-13.5,4.7z" stroke="#3d66fe"/>
<path d="M1103.7,740.1l13.5,-4.4l10.4,-12.1l-13.6,5.1z" stroke="#3b6aff"/>
<path d="M1117.2,735.7l13.6,-4.7l10.3,-12.9l-13.5,5.5z" stroke="#376ffe"/>
<path d="M1130.8,731l13.5,-4.9l10.3,-13.7l-13.5,5.7z" stroke="#3375fd"/>
<path d="M1144.3,726.1l13.5,-5.1l10.4,-14.5l-13.6,5.9z" stroke="#307afb"/>
<path d="M1157.8,721l13.6,-5.3l10.3,-15.3l-13.5,6.1z" stroke="#2e80f9"/>
<path d="M1171.3,715.7l13.5,-5.4l10.3,-16.1l-13.5,6.2z" stroke="#2d85f7"/>
<path d="M1184.9,710.3l13.5,-5.5l10.3,-16.7l-13.5,6.1z" stroke="#2d8bf4"/>
<path d="M1198.4,704.8l13.5,-5.4l10.4,-17.5l-13.6,6.2z" stroke="#2c8ff0"/>
<path d="M1211.9,699.4l13.6,-5.4l10.3,-18.2l-13.5,6.1z" stroke="#2a93ed"/>
<path d="M1225.5,694l13.5,-5.4l10.3,-18.7l-13.5,5.9z" stroke="#2797ea"/>
<path d="M1239,688.6l13.5,-5.3l10.4,-19.2l-13.6,5.8z" stroke="#259be8"/>
<path d="M1252.5,683.3l13.6,-5.1l10.3,-19.7l-13.5,5.6z" stroke="#249fe5"/>
<path d="M1266.1,678.2l13.5,-5l10.3,-20l-13.5,5.3z" stroke="#21a3e4"/>
<path d="M1279.6,673.2l13.5,-4.8l10.4,-20.3l-13.6,5.1z" stroke="#1fa6e2"/>
<path d="M1293.1,668.4l13.5,-4.7l10.4,-20.4l-13.5,4.8z" stroke="#1ca9df"/>
<path d="M1306.7,663.7l13.6,-4.5l10.3,-20.5l-13.5,4.6z" stroke="#19acdc"/>
<path d="M1320.2,659.2l13.5,-4.3l10.3,-20.5l-13.5,4.3z" stroke="#16afd9"/>
<path d="M1333.7,654.9l13.5,-4.1l10.4,-20.5l-13.6,4.1z" stroke="#11b1d6"/>
<path d="M1347.2,650.8l13.6,-3.9l10.3,-20.4l-13.5,3.8z" stroke="#0bb3d2"/>
<path d="M1360.8,646.9l13.5,-3.7l10.3,-20.3l-13.5,3.6z" stroke="#06b5ce"/>
<path d="M1374.3,643.2l13.5,-3.6l10.4,-20.1l-13.6,3.4z" stroke="#02b7cb"/>
<path d="M1387.8,639.6l13.6,-3.5l10.3,-19.8l-13.5,3.2z" stroke="#01b9c7"/>
<path d="M1401.4,636.1l13.5,-3.3l10.3,-19.6l-13.5,3.1z" stroke="#02bac3"/>
<path d="M1414.9,632.8l13.5,-3.2l10.4,-19.3l-13.6,2.9z" stroke="#07bcc0"/>
<path d="M1428.4,629.6l13.6,-3.1l10.3,-19.1l-13.5,2.9z" stroke="#0cbdbc"/>
<path d="M1442,626.5l13.5,-3.1l10.3,-18.8l-13.5,2.8z" stroke="#14beb8"/>
<path d="M1455.5,623.4l13.5,-3l10.3,-18.5l-13.5,2.7z" stroke="#1ac0b4"/>
<path d="M1469,620.4l13.5,-3l10.4,-18.3l-13.6,2.8z" stroke="#20c1b1"/>
<path d="M1482.5,617.4l13.6,-3l10.3,-18.1l-13.5,2.8z" stroke="#25c2ad"/>
<path d="M1496.1,614.4l13.5,-3.1l10.3,-17.8l-13.5,2.8z" stroke="#2ac3a9"/>
<path d="M1509.6,611.3l13.5,-3.1l10.4,-17.6l-13.6,2.9z" stroke="#2dc4a5"/>
<path d="M1523.1,608.2l13.6,-3.2l10.3,-17.4l-13.5,3z" stroke="#30c5a1"/>
<path d="M1536.7,605l13.5,-3.3l10.3,-17.2l-13.5,3.1z" stroke="#33c79d"/>
<path d="M728.1,700.7l13.5,4.7l10.3,-6.5l-13.5,-4.8z" stroke="#415afc"/>
<path d="M741.6,705.4l13.5,4.7l10.3,-6.4l-13.5,-4.8z" stroke="#4158fb"/>
<path d="M755.1,710.1l13.5,4.8l10.4,-6.4l-13.6,-4.8z" stroke="#4157fb"/>
<path d="M768.6,714.9l13.6,4.7l10.3,-6.3l-13.5,-4.8z" stroke="#4155fa"/>
<path d="M782.2,719.6l13.5,4.8l10.3,-6.3l-13.5,-4.8z" stroke="#4154f9"/>
<path d="M795.7,724.4l13.5,4.6l10.4,-6.2l-13.6,-4.7z" stroke="#4152f9"/>
<path d="M809.2,729l13.6,4.6l10.3,-6.1l-13.5,-4.7z" stroke="#4151f8"/>
<path d="M822.8,733.6l13.5,4.4l10.3,-6.1l-13.5,-4.4z" stroke="#414ff7"/>
<path d="M836.3,738l13.5,4.2l10.4,-6l-13.6,-4.3z" stroke="#414ef6"/>
<path d="M849.8,742.2l13.6,4l10.3,-6l-13.5,-4z" stroke="#414df6"/>
<path d="M863.4,746.2l13.5,3.7l10.3,-5.9l-13.5,-3.8z" stroke="#414cf5"/>
<path d="M876.9,749.9l13.5,3.5l10.4,-6l-13.6,-3.4z" stroke="#414bf4"/>
<path d="M890.4,753.4l13.6,3.1l10.3,-6l-13.5,-3.1z" stroke="#414af4"/>
<path d="M904,756.5l13.5,2.7l10.3,-6.1l-13.5,-2.6z" stroke="#414af4"/>
<path d="M917.5,759.2l13.5,2.4l10.3,-6.2l-13.5,-2.3z" stroke="#414af4"/>
<path d="M931,761.6l13.5,1.9l10.4,-6.4l-13.6,-1.7z" stroke="#414af4"/>
<path d="M944.5,763.5l13.6,1.4l10.3,-6.6l-13.5,-1.2z" stroke="#414af4"/>
<path d="M958.1,764.9l13.5,1l10.3,-6.9l-13.5,-0.7z" stroke="#414bf4"/>
<path d="M971.6,765.9l13.5,0.4l10.4,-7.2l-13.6,-0.1z" stroke="#414cf5"/>
<path d="M985.1,766.3l13.6,-0.1l10.3,-7.6l-13.5,0.5z" stroke="#414df6"/>
<path d="M998.7,766.2l13.5,-0.7l10.3,-7.9l-13.5,1z" stroke="#414ff7"/>
<path d="M1012.2,765.5l13.5,-1.2l10.3,-8.4l-13.5,1.7z" stroke="#4151f8"/>
<path d="M1025.7,764.3l13.5,-1.7l10.4,-8.9l-13.6,2.2z" stroke="#4153f9"/>
<path d="M1039.2,762.6l13.6,-2.2l10.3,-9.4l-13.5,2.7z" stroke="#4156fa"/>
<path d="M1052.8,760.4l13.5,-2.6l10.3,-10l-13.5,3.2z" stroke="#4159fb"/>
<path d="M1066.3,757.8l13.5,-3.1l10.4,-10.5l-13.6,3.6z" stroke="#405cfc"/>
<path d="M1079.8,754.7l13.6,-3.4l10.3,-11.2l-13.5,4.1z" stroke="#3f60fd"/>
<path d="M1093.4,751.3l13.5,-3.7l10.3,-11.9l-13.5,4.4z" stroke="#3e64fe"/>
<path d="M1106.9,747.6l13.5,-4l10.4,-12.6l-13.6,4.7z" stroke="#3c69ff"/>
<path d="M1120.4,743.6l13.6,-4.2l10.3,-13.3l-13.5,4.9z" stroke="#396dff"/>
<path d="M1134,739.4l13.5,-4.5l10.3,-13.9l-13.5,5.1z" stroke="#3572fe"/>
<path d="M1147.5,734.9l13.5,-4.5l10.4,-14.7l-13.6,5.3z" stroke="#3178fc"/>
<path d="M1161,730.4l13.6,-4.7l10.3,-15.4l-13.5,5.4z" stroke="#2f7dfb"/>
<path d="M1174.6,725.7l13.5,-4.8l10.3,-16.1l-13.5,5.5z" stroke="#2e82f9"/>
<path d="M1188.1,720.9l13.5,-4.8l10.3,-16.7l-13.5,5.4z" stroke="#2d87f6"/>
<path d="M1201.6,716.1l13.5,-4.8l10.4,-17.3l-13.6,5.4z" stroke="#2d8cf3"/>
<path d="M1215.1,711.3l13.6,-4.8l10.3,-17.9l-13.5,5.4z" stroke="#2c90f0"/>
<path d="M1228.7,706.5l13.5,-4.7l10.3,-18.5l-13.5,5.3z" stroke="#2a93ed"/>
<path d="M1242.2,701.8l13.5,-4.7l10.4,-18.9l-13.6,5.1z" stroke="#2797eb"/>
<path d="M1255.7,697.1l13.6,-4.7l10.3,-19.2l-13.5,5z" stroke="#269be8"/>
<path d="M1269.3,692.4l13.5,-4.6l10.3,-19.4l-13.5,4.8z" stroke="#249ee6"/>
<path d="M1282.8,687.8l13.5,-4.5l10.3,-19.6l-13.5,4.7z" stroke="#22a1e4"/>
<path d="M1296.3,683.3l13.6,-4.4l10.3,-19.7l-13.6,4.5z" stroke="#20a4e3"/>
<path d="M1309.9,678.9l13.5,-4.2l10.3,-19.8l-13.5,4.3z" stroke="#1ea7e1"/>
<path d="M1323.4,674.7l13.5,-4.2l10.3,-19.7l-13.5,4.1z" stroke="#1baade"/>
<path d="M1336.9,670.5l13.5,-4l10.4,-19.6l-13.6,3.9z" stroke="#19addc"/>
<path d="M1350.4,666.5l13.6,-3.8l10.3,-19.5l-13.5,3.7z" stroke="#15afd8"/>
<path d="M1364,662.7l13.5,-3.8l10.3,-19.3l-13.5,3.6z" stroke="#10b2d5"/>
<path d="M1377.5,658.9l13.5,-3.6l10.4,-19.2l-13.6,3.5z" stroke="#0ab4d2"/>
<path d="M1391,655.3l13.6,-3.5l10.3,-19l-13.5,3.3z" stroke="#05b6ce"/>
<path d="M1404.6,651.8l13.5,-3.4l10.3,-18.8l-13.5,3.2z" stroke="#02b7cb"/>
<path d="M1418.1,648.4l13.5,-3.4l10.4,-18.5l-13.6,3.1z" stroke="#01b9c7"/>
<path d="M1431.6,645l13.6,-3.3l10.3,-18.3l-13.5,3.1z" stroke="#02bac3"/>
<path d="M1445.2,641.7l13.5,-3.2l10.3,-18.1l-13.5,3z" stroke="#07bcc0"/>
<path d="M1458.7,638.5l13.5,-3.3l10.3,-17.8l-13.5,3z" stroke="#0cbdbc"/>
<path d="M1472.2,635.2l13.5,-3.2l10.4,-17.6l-13.6,3z" stroke="#14beb8"/>
<path d="M1485.7,632l13.6,-3.3l10.3,-17.4l-13.5,3.1z" stroke="#1bc0b4"/>
<path d="M1499.3,628.7l13.5,-3.3l10.3,-17.2l-13.5,3.1z" stroke="#21c1b0"/>
<path d="M1512.8,625.4l13.5,-3.4l10.4,-17l-13.6,3.2z" stroke="#26c2ac"/>
<path d="M1526.3,622l13.6,-3.5l10.3,-16.8l-13.5,3.3z" stroke="#2bc3a8"/>
<path d="M717.7,706.8l13.6,4.6l10.3,-6l-13.5,-4.7z" stroke="#4158fb"/>
<path d="M731.3,711.4l13.5,4.7l10.3,-6l-13.5,-4.7z" stroke="#4156fb"/>
<path d="M744.8,716.1l13.5,4.8l10.3,-6l-13.5,-4.8z" stroke="#4155fa"/>
<path d="M758.3,720.9l13.6,4.7l10.3,-6l-13.6,-4.7z" stroke="#4153f9"/>
<path d="M771.9,725.6l13.5,4.6l10.3,-5.8l-13.5,-4.8z" stroke="#4152f8"/>
<path d="M785.4,730.2l13.5,4.6l10.3,-5.8l-13.5,-4.6z" stroke="#4150f8"/>
<path d="M798.9,734.8l13.5,4.5l10.4,-5.7l-13.6,-4.6z" stroke="#414ff7"/>
<path d="M812.4,739.3l13.6,4.4l10.3,-5.7l-13.5,-4.4z" stroke="#414df6"/>
<path d="M826,743.7l13.5,4.2l10.3,-5.7l-13.5,-4.2z" stroke="#414cf5"/>
<path d="M839.5,747.9l13.5,3.9l10.4,-5.6l-13.6,-4z" stroke="#414bf4"/>
<path d="M853,751.8l13.6,3.8l10.3,-5.7l-13.5,-3.7z" stroke="#414af4"/>
<path d="M866.6,755.6l13.5,3.5l10.3,-5.7l-13.5,-3.5z" stroke="#4149f3"/>
<path d="M880.1,759.1l13.5,3.1l10.4,-5.7l-13.6,-3.1z" stroke="#4148f3"/>
<path d="M893.6,762.2l13.6,2.9l10.3,-5.9l-13.5,-2.7z" stroke="#4148f2"/>
<path d="M907.2,765.1l13.5,2.5l10.3,-6l-13.5,-2.4z" stroke="#4148f2"/>
<path d="M920.7,767.6l13.5,2.1l10.3,-6.2l-13.5,-1.9z" stroke="#4148f2"/>
<path d="M934.2,769.7l13.5,1.7l10.4,-6.5l-13.6,-1.4z" stroke="#4148f2"/>
<path d="M947.7,771.4l13.6,1.2l10.3,-6.7l-13.5,-1z" stroke="#4148f3"/>
<path d="M961.3,772.6l13.5,0.8l10.3,-7.1l-13.5,-0.4z" stroke="#4149f3"/>
<path d="M974.8,773.4l13.5,0.2l10.4,-7.4l-13.6,0.1z" stroke="#414af4"/>
<path d="M988.3,773.6l13.6,-0.3l10.3,-7.8l-13.5,0.7z" stroke="#414cf5"/>
<path d="M1001.9,773.3l13.5,-0.8l10.3,-8.2l-13.5,1.2z" stroke="#414ef6"/>
<path d="M1015.4,772.5l13.5,-1.3l10.3,-8.6l-13.5,1.7z" stroke="#4150f7"/>
<path d="M1028.9,771.2l13.5,-1.7l10.4,-9.1l-13.6,2.2z" stroke="#4152f9"/>
<path d="M1042.5,769.5l13.6,-2.1l10.3,-9.6l-13.5,2.6z" stroke="#4155fa"/>
<path d="M1056,767.4l13.5,-2.5l10.3,-10.2l-13.5,3.1z" stroke="#4158fb"/>
<path d="M1069.5,764.9l13.5,-2.8l10.4,-10.8l-13.6,3.4z" stroke="#415bfc"/>
<path d="M1083,762.1l13.6,-3.1l10.3,-11.4l-13.5,3.7z" stroke="#405ffd"/>
<path d="M1096.6,759l13.5,-3.3l10.3,-12.1l-13.5,4z" stroke="#3f62fe"/>
<path d="M1110.1,755.7l13.5,-3.6l10.4,-12.7l-13.6,4.2z" stroke="#3d66fe"/>
<path d="M1123.6,752.1l13.6,-3.8l10.3,-13.4l-13.5,4.5z" stroke="#3b6bff"/>
<path d="M1137.2,748.3l13.5,-3.9l10.3,-14l-13.5,4.5z" stroke="#376ffe"/>
<path d="M1150.7,744.4l13.5,-4l10.4,-14.7l-13.6,4.7z" stroke="#3474fd"/>
<path d="M1164.2,740.4l13.6,-4.2l10.3,-15.3l-13.5,4.8z" stroke="#3079fc"/>
<path d="M1177.8,736.2l13.5,-4.2l10.3,-15.9l-13.5,4.8z" stroke="#2e7efa"/>
<path d="M1191.3,732l13.5,-4.2l10.3,-16.5l-13.5,4.8z" stroke="#2e82f8"/>
<path d="M1204.8,727.8l13.5,-4.3l10.4,-17l-13.6,4.8z" stroke="#2d87f6"/>
<path d="M1218.3,723.5l13.6,-4.3l10.3,-17.4l-13.5,4.7z" stroke="#2d8bf3"/>
<path d="M1231.9,719.2l13.5,-4.2l10.3,-17.9l-13.5,4.7z" stroke="#2c8ff0"/>
<path d="M1245.4,715l13.5,-4.4l10.4,-18.2l-13.6,4.7z" stroke="#2a93ee"/>
<path d="M1258.9,710.6l13.6,-4.3l10.3,-18.5l-13.5,4.6z" stroke="#2896eb"/>
<path d="M1272.5,706.3l13.5,-4.3l10.3,-18.7l-13.5,4.5z" stroke="#2699e9"/>
<path d="M1286,702l13.5,-4.3l10.4,-18.8l-13.6,4.4z" stroke="#259de7"/>
<path d="M1299.5,697.7l13.5,-4.2l10.4,-18.8l-13.5,4.2z" stroke="#23a0e5"/>
<path d="M1313,693.5l13.6,-4.2l10.3,-18.8l-13.5,4.2z" stroke="#21a3e3"/>
<path d="M1326.6,689.3l13.5,-4l10.3,-18.8l-13.5,4z" stroke="#1fa6e2"/>
<path d="M1340.1,685.3l13.5,-4l10.4,-18.6l-13.6,3.8z" stroke="#1da9e0"/>
<path d="M1353.6,681.3l13.6,-3.8l10.3,-18.6l-13.5,3.8z" stroke="#1aabdd"/>
<path d="M1367.2,677.5l13.5,-3.8l10.3,-18.4l-13.5,3.6z" stroke="#18aedb"/>
<path d="M1380.7,673.7l13.5,-3.6l10.4,-18.3l-13.6,3.5z" stroke="#14b0d8"/>
<path d="M1394.2,670.1l13.6,-3.7l10.3,-18l-13.5,3.4z" stroke="#0fb2d4"/>
<path d="M1407.8,666.4l13.5,-3.5l10.3,-17.9l-13.5,3.4z" stroke="#09b4d1"/>
<path d="M1421.3,662.9l13.5,-3.5l10.4,-17.7l-13.6,3.3z" stroke="#05b6cd"/>
<path d="M1434.8,659.4l13.6,-3.5l10.3,-17.4l-13.5,3.2z" stroke="#01b8ca"/>
<path d="M1448.4,655.9l13.5,-3.4l10.3,-17.3l-13.5,3.3z" stroke="#01b9c6"/>
<path d="M1461.9,652.5l13.5,-3.5l10.3,-17l-13.5,3.2z" stroke="#03bbc2"/>
<path d="M1475.4,649l13.5,-3.4l10.4,-16.9l-13.6,3.3z" stroke="#08bcbe"/>
<path d="M1488.9,645.6l13.6,-3.5l10.3,-16.7l-13.5,3.3z" stroke="#0fbeba"/>
<path d="M1502.5,642.1l13.5,-3.6l10.3,-16.5l-13.5,3.4z" stroke="#17bfb6"/>
<path d="M1516,638.5l13.5,-3.6l10.4,-16.4l-13.6,3.5z" stroke="#1ec0b2"/>
<path d="M707.4,712.7l13.5,4.5l10.4,-5.8l-13.6,-4.6z" stroke="#4156fa"/>
<path d="M720.9,717.2l13.6,4.7l10.3,-5.8l-13.5,-4.7z" stroke="#4154fa"/>
<path d="M734.5,721.9l13.5,4.7l10.3,-5.7l-13.5,-4.8z" stroke="#4153f9"/>
<path d="M748,726.6l13.5,4.6l10.4,-5.6l-13.6,-4.7z" stroke="#4151f8"/>
<path d="M761.5,731.2l13.5,4.6l10.4,-5.6l-13.5,-4.6z" stroke="#4150f7"/>
<path d="M775,735.8l13.6,4.6l10.3,-5.6l-13.5,-4.6z" stroke="#414ef7"/>
<path d="M788.6,740.4l13.5,4.4l10.3,-5.5l-13.5,-4.5z" stroke="#414df6"/>
<path d="M802.1,744.8l13.5,4.3l10.4,-5.4l-13.6,-4.4z" stroke="#414cf5"/>
<path d="M815.6,749.1l13.6,4.2l10.3,-5.4l-13.5,-4.2z" stroke="#414af4"/>
<path d="M829.2,753.3l13.5,3.9l10.3,-5.4l-13.5,-3.9z" stroke="#4149f3"/>
<path d="M842.7,757.2l13.5,3.8l10.4,-5.4l-13.6,-3.8z" stroke="#4148f3"/>
<path d="M856.2,761l13.6,3.5l10.3,-5.4l-13.5,-3.5z" stroke="#4147f2"/>
<path d="M869.8,764.5l13.5,3.2l10.3,-5.5l-13.5,-3.1z" stroke="#4147f2"/>
<path d="M883.3,767.7l13.5,3l10.4,-5.6l-13.6,-2.9z" stroke="#4046f1"/>
<path d="M896.8,770.7l13.6,2.6l10.3,-5.7l-13.5,-2.5z" stroke="#4046f1"/>
<path d="M910.3,773.3l13.5,2.3l10.3,-5.9l-13.5,-2.1z" stroke="#4046f1"/>
<path d="M923.9,775.6l13.5,1.9l10.3,-6.1l-13.5,-1.7z" stroke="#4046f1"/>
<path d="M937.4,777.5l13.5,1.5l10.4,-6.4l-13.6,-1.2z" stroke="#4046f1"/>
<path d="M950.9,779l13.6,1.1l10.3,-6.7l-13.5,-0.8z" stroke="#4147f2"/>
<path d="M964.5,780.1l13.5,0.6l10.3,-7.1l-13.5,-0.2z" stroke="#4148f2"/>
<path d="M978,780.7l13.5,0l10.4,-7.4l-13.6,0.3z" stroke="#4149f3"/>
<path d="M991.5,780.7l13.6,-0.4l10.3,-7.8l-13.5,0.8z" stroke="#414bf4"/>
<path d="M1005.1,780.3l13.5,-0.9l10.3,-8.2l-13.5,1.3z" stroke="#414cf5"/>
<path d="M1018.6,779.4l13.5,-1.2l10.3,-8.7l-13.5,1.7z" stroke="#414ff7"/>
<path d="M1032.1,778.2l13.5,-1.6l10.4,-9.2l-13.6,2.1z" stroke="#4151f8"/>
<path d="M1045.7,776.6l13.6,-2l10.3,-9.7l-13.5,2.5z" stroke="#4153f9"/>
<path d="M1059.2,774.6l13.5,-2.2l10.3,-10.3l-13.5,2.8z" stroke="#4156fb"/>
<path d="M1072.7,772.4l13.5,-2.5l10.4,-10.9l-13.6,3.1z" stroke="#4159fc"/>
<path d="M1086.2,769.9l13.6,-2.8l10.3,-11.4l-13.5,3.3z" stroke="#405dfd"/>
<path d="M1099.8,767.1l13.5,-3l10.3,-12l-13.5,3.6z" stroke="#3f60fd"/>
<path d="M1113.3,764.1l13.5,-3.1l10.4,-12.7l-13.6,3.8z" stroke="#3e64fe"/>
<path d="M1126.8,761l13.6,-3.3l10.3,-13.3l-13.5,3.9z" stroke="#3c68fe"/>
<path d="M1140.4,757.7l13.5,-3.5l10.3,-13.8l-13.5,4z" stroke="#3a6cff"/>
<path d="M1153.9,754.2l13.5,-3.6l10.4,-14.4l-13.6,4.2z" stroke="#3770fe"/>
<path d="M1167.4,750.6l13.6,-3.6l10.3,-15l-13.5,4.2z" stroke="#3375fd"/>
<path d="M1181,747l13.5,-3.8l10.3,-15.4l-13.5,4.2z" stroke="#3079fc"/>
<path d="M1194.5,743.2l13.5,-3.7l10.3,-16l-13.5,4.3z" stroke="#2e7efa"/>
<path d="M1208,739.5l13.5,-3.9l10.4,-16.4l-13.6,4.3z" stroke="#2e82f9"/>
<path d="M1221.5,735.6l13.6,-3.9l10.3,-16.7l-13.5,4.2z" stroke="#2d86f6"/>
<path d="M1235.1,731.7l13.5,-3.9l10.3,-17.2l-13.5,4.4z" stroke="#2d8bf4"/>
<path d="M1248.6,727.8l13.5,-4.2l10.4,-17.3l-13.6,4.3z" stroke="#2c8ef1"/>
<path d="M1262.1,723.6l13.6,-4.1l10.3,-17.5l-13.5,4.3z" stroke="#2b92ee"/>
<path d="M1275.7,719.5l13.5,-4.2l10.3,-17.6l-13.5,4.3z" stroke="#2895ec"/>
<path d="M1289.2,715.3l13.5,-4.1l10.3,-17.7l-13.5,4.2z" stroke="#2798ea"/>
<path d="M1302.7,711.2l13.5,-4.1l10.4,-17.8l-13.6,4.2z" stroke="#259be7"/>
<path d="M1316.2,707.1l13.6,-4.1l10.3,-17.7l-13.5,4z" stroke="#249ee6"/>
<path d="M1329.8,703l13.5,-4l10.3,-17.7l-13.5,4z" stroke="#22a1e4"/>
<path d="M1343.3,699l13.5,-3.9l10.4,-17.6l-13.6,3.8z" stroke="#20a4e3"/>
<path d="M1356.8,695.1l13.6,-3.8l10.3,-17.6l-13.5,3.8z" stroke="#1ea7e1"/>
<path d="M1370.4,691.3l13.5,-3.8l10.3,-17.4l-13.5,3.6z" stroke="#1caadf"/>
<path d="M1383.9,687.5l13.5,-3.8l10.4,-17.3l-13.6,3.7z" stroke="#19acdc"/>
<path d="M1397.4,683.7l13.6,-3.7l10.3,-17.1l-13.5,3.5z" stroke="#16afd9"/>
<path d="M1411,680l13.5,-3.7l10.3,-16.9l-13.5,3.5z" stroke="#12b1d6"/>
<path d="M1424.5,676.3l13.5,-3.6l10.4,-16.8l-13.6,3.5z" stroke="#0cb3d3"/>
<path d="M1438,672.7l13.6,-3.6l10.3,-16.6l-13.5,3.4z" stroke="#07b5cf"/>
<path d="M1451.6,669.1l13.5,-3.7l10.3,-16.4l-13.5,3.5z" stroke="#03b7cc"/>
<path d="M1465.1,665.4l13.5,-3.6l10.3,-16.2l-13.5,3.4z" stroke="#01b9c8"/>
<path d="M1478.6,661.8l13.5,-3.7l10.4,-16l-13.6,3.5z" stroke="#02bac4"/>
<path d="M1492.1,658.1l13.6,-3.7l10.3,-15.9l-13.5,3.6z" stroke="#06bcc0"/>
<path d="M1505.7,654.4l13.5,-3.7l10.3,-15.8l-13.5,3.6z" stroke="#0cbdbc"/>
<path d="M697.1,718.4l13.5,4.5l10.3,-5.7l-13.5,-4.5z" stroke="#4154fa"/>
<path d="M710.6,722.9l13.5,4.6l10.4,-5.6l-13.6,-4.7z" stroke="#4153f9"/>
<path d="M724.1,727.5l13.6,4.6l10.3,-5.5l-13.5,-4.7z" stroke="#4151f8"/>
<path d="M737.7,732.1l13.5,4.5l10.3,-5.4l-13.5,-4.6z" stroke="#4150f7"/>
<path d="M751.2,736.6l13.5,4.6l10.3,-5.4l-13.5,-4.6z" stroke="#414ef7"/>
<path d="M764.7,741.2l13.5,4.4l10.4,-5.2l-13.6,-4.6z" stroke="#414df6"/>
<path d="M778.2,745.6l13.6,4.4l10.3,-5.2l-13.5,-4.4z" stroke="#414cf5"/>
<path d="M791.8,750l13.5,4.3l10.3,-5.2l-13.5,-4.3z" stroke="#414af4"/>
<path d="M805.3,754.3l13.5,4.1l10.4,-5.1l-13.6,-4.2z" stroke="#4149f3"/>
<path d="M818.8,758.4l13.6,3.9l10.3,-5.1l-13.5,-3.9z" stroke="#4148f2"/>
<path d="M832.4,762.3l13.5,3.8l10.3,-5.1l-13.5,-3.8z" stroke="#4147f2"/>
<path d="M845.9,766.1l13.5,3.5l10.4,-5.1l-13.6,-3.5z" stroke="#4046f1"/>
<path d="M859.4,769.6l13.6,3.3l10.3,-5.2l-13.5,-3.2z" stroke="#4045f1"/>
<path d="M873,772.9l13.5,3l10.3,-5.2l-13.5,-3z" stroke="#4045f0"/>
<path d="M886.5,775.9l13.5,2.7l10.4,-5.3l-13.6,-2.6z" stroke="#4044f0"/>
<path d="M900,778.6l13.6,2.4l10.3,-5.4l-13.5,-2.3z" stroke="#4044f0"/>
<path d="M913.5,781l13.5,2.1l10.3,-5.6l-13.5,-1.9z" stroke="#4044f0"/>
<path d="M927.1,783.1l13.5,1.7l10.3,-5.8l-13.5,-1.5z" stroke="#4044f0"/>
<path d="M940.6,784.8l13.5,1.3l10.4,-6l-13.6,-1.1z" stroke="#4045f0"/>
<path d="M954.1,786.1l13.6,0.9l10.3,-6.3l-13.5,-0.6z" stroke="#4046f1"/>
<path d="M967.7,787l13.5,0.4l10.3,-6.7l-13.5,0z" stroke="#4047f1"/>
<path d="M981.2,787.4l13.5,0l10.4,-7.1l-13.6,0.4z" stroke="#4148f2"/>
<path d="M994.7,787.4l13.6,-0.4l10.3,-7.6l-13.5,0.9z" stroke="#414af4"/>
<path d="M1008.3,787l13.5,-0.7l10.3,-8.1l-13.5,1.2z" stroke="#414bf5"/>
<path d="M1021.8,786.3l13.5,-1.1l10.3,-8.6l-13.5,1.6z" stroke="#414df6"/>
<path d="M1035.3,785.2l13.5,-1.4l10.4,-9.2l-13.6,2z" stroke="#4150f7"/>
<path d="M1048.8,783.8l13.6,-1.7l10.3,-9.7l-13.5,2.2z" stroke="#4152f9"/>
<path d="M1062.4,782.1l13.5,-2l10.3,-10.2l-13.5,2.5z" stroke="#4155fa"/>
<path d="M1075.9,780.1l13.5,-2.2l10.4,-10.8l-13.6,2.8z" stroke="#4158fb"/>
<path d="M1089.4,777.9l13.6,-2.4l10.3,-11.4l-13.5,3z" stroke="#415bfc"/>
<path d="M1103,775.5l13.5,-2.6l10.3,-11.9l-13.5,3.1z" stroke="#405efd"/>
<path d="M1116.5,772.9l13.5,-2.8l10.4,-12.4l-13.6,3.3z" stroke="#3f61fd"/>
<path d="M1130,770.1l13.6,-2.9l10.3,-13l-13.5,3.5z" stroke="#3e65fe"/>
<path d="M1143.6,767.2l13.5,-3.1l10.3,-13.5l-13.5,3.6z" stroke="#3c69ff"/>
<path d="M1157.1,764.1l13.5,-3.2l10.4,-13.9l-13.6,3.6z" stroke="#396dff"/>
<path d="M1170.6,760.9l13.6,-3.3l10.3,-14.4l-13.5,3.8z" stroke="#3671fe"/>
<path d="M1184.2,757.6l13.5,-3.4l10.3,-14.7l-13.5,3.7z" stroke="#3375fd"/>
<path d="M1197.7,754.2l13.5,-3.4l10.3,-15.2l-13.5,3.9z" stroke="#3079fc"/>
<path d="M1211.2,750.8l13.5,-3.6l10.4,-15.5l-13.6,3.9z" stroke="#2f7dfa"/>
<path d="M1224.7,747.2l13.6,-3.7l10.3,-15.7l-13.5,3.9z" stroke="#2e82f9"/>
<path d="M1238.3,743.5l13.5,-3.9l10.3,-16l-13.5,4.2z" stroke="#2d86f7"/>
<path d="M1251.8,739.6l13.5,-3.9l10.4,-16.2l-13.6,4.1z" stroke="#2d8af4"/>
<path d="M1265.3,735.7l13.6,-4l10.3,-16.4l-13.5,4.2z" stroke="#2c8ef2"/>
<path d="M1278.9,731.7l13.5,-4l10.3,-16.5l-13.5,4.1z" stroke="#2b91ef"/>
<path d="M1292.4,727.7l13.5,-4l10.3,-16.6l-13.5,4.1z" stroke="#2994ed"/>
<path d="M1305.9,723.7l13.6,-4l10.3,-16.7l-13.6,4.1z" stroke="#2797ea"/>
<path d="M1319.5,719.7l13.5,-4l10.3,-16.7l-13.5,4z" stroke="#269be8"/>
<path d="M1333,715.7l13.5,-3.9l10.3,-16.7l-13.5,3.9z" stroke="#249ee6"/>
<path d="M1346.5,711.8l13.5,-3.9l10.4,-16.6l-13.6,3.8z" stroke="#23a0e5"/>
<path d="M1360,707.9l13.6,-3.9l10.3,-16.5l-13.5,3.8z" stroke="#21a3e3"/>
<path d="M1373.6,704l13.5,-3.9l10.3,-16.4l-13.5,3.8z" stroke="#1fa6e2"/>
<path d="M1387.1,700.1l13.5,-3.8l10.4,-16.3l-13.6,3.7z" stroke="#1da9e0"/>
<path d="M1400.6,696.3l13.6,-3.8l10.3,-16.2l-13.5,3.7z" stroke="#1aabdd"/>
<path d="M1414.2,692.5l13.5,-3.8l10.3,-16l-13.5,3.6z" stroke="#17aeda"/>
<path d="M1427.7,688.7l13.5,-3.8l10.4,-15.8l-13.6,3.6z" stroke="#13b0d7"/>
<path d="M1441.2,684.9l13.6,-3.8l10.3,-15.7l-13.5,3.7z" stroke="#0eb2d4"/>
<path d="M1454.8,681.1l13.5,-3.8l10.3,-15.5l-13.5,3.6z" stroke="#08b5d0"/>
<path d="M1468.3,677.3l13.5,-3.9l10.3,-15.3l-13.5,3.7z" stroke="#04b6cc"/>
<path d="M1481.8,673.4l13.5,-3.9l10.4,-15.1l-13.6,3.7z" stroke="#01b8c9"/>
<path d="M1495.3,669.5l13.6,-3.9l10.3,-14.9l-13.5,3.7z" stroke="#02bac5"/>
<path d="M686.7,724l13.6,4.4l10.3,-5.5l-13.5,-4.5z" stroke="#4153f9"/>
<path d="M700.3,728.4l13.5,4.5l10.3,-5.4l-13.5,-4.6z" stroke="#4151f8"/>
<path d="M713.8,732.9l13.5,4.5l10.4,-5.3l-13.6,-4.6z" stroke="#4150f7"/>
<path d="M727.3,737.4l13.6,4.4l10.3,-5.2l-13.5,-4.5z" stroke="#414ef6"/>
<path d="M740.9,741.8l13.5,4.5l10.3,-5.1l-13.5,-4.6z" stroke="#414df6"/>
<path d="M754.4,746.3l13.5,4.4l10.3,-5.1l-13.5,-4.4z" stroke="#414bf5"/>
<path d="M767.9,750.7l13.5,4.3l10.4,-5l-13.6,-4.4z" stroke="#414af4"/>
<path d="M781.5,755l13.6,4.1l10.3,-4.8l-13.5,-4.3z" stroke="#4149f3"/>
<path d="M795,759.1l13.5,4.1l10.3,-4.8l-13.5,-4.1z" stroke="#4148f2"/>
<path d="M808.5,763.2l13.5,3.9l10.4,-4.8l-13.6,-3.9z" stroke="#4047f1"/>
<path d="M822,767.1l13.6,3.8l10.3,-4.8l-13.5,-3.8z" stroke="#4046f1"/>
<path d="M835.6,770.9l13.5,3.5l10.3,-4.8l-13.5,-3.5z" stroke="#4045f0"/>
<path d="M849.1,774.4l13.5,3.3l10.4,-4.8l-13.6,-3.3z" stroke="#4044f0"/>
<path d="M862.6,777.7l13.6,3.1l10.3,-4.9l-13.5,-3z" stroke="#4043ef"/>
<path d="M876.2,780.8l13.5,2.8l10.3,-5l-13.5,-2.7z" stroke="#4043ef"/>
<path d="M889.7,783.6l13.5,2.5l10.4,-5.1l-13.6,-2.4z" stroke="#4043ee"/>
<path d="M903.2,786.1l13.6,2.3l10.3,-5.3l-13.5,-2.1z" stroke="#4043ee"/>
<path d="M916.8,788.4l13.5,1.8l10.3,-5.4l-13.5,-1.7z" stroke="#4043ee"/>
<path d="M930.3,790.2l13.5,1.6l10.3,-5.7l-13.5,-1.3z" stroke="#4043ef"/>
<path d="M943.8,791.8l13.5,1.1l10.4,-5.9l-13.6,-0.9z" stroke="#4044ef"/>
<path d="M957.3,792.9l13.6,0.8l10.3,-6.3l-13.5,-0.4z" stroke="#4045f0"/>
<path d="M970.9,793.7l13.5,0.4l10.3,-6.7l-13.5,0z" stroke="#4046f1"/>
<path d="M984.4,794.1l13.5,0.1l10.4,-7.2l-13.6,0.4z" stroke="#4147f2"/>
<path d="M997.9,794.2l13.6,-0.3l10.3,-7.6l-13.5,0.7z" stroke="#4149f3"/>
<path d="M1011.5,793.9l13.5,-0.6l10.3,-8.1l-13.5,1.1z" stroke="#414af4"/>
<path d="M1025,793.3l13.5,-0.9l10.3,-8.6l-13.5,1.4z" stroke="#414cf5"/>
<path d="M1038.5,792.4l13.6,-1.2l10.3,-9.1l-13.6,1.7z" stroke="#414ef6"/>
<path d="M1052.1,791.2l13.5,-1.4l10.3,-9.7l-13.5,2z" stroke="#4151f8"/>
<path d="M1065.6,789.8l13.5,-1.7l10.3,-10.2l-13.5,2.2z" stroke="#4153f9"/>
<path d="M1079.1,788.1l13.5,-1.9l10.4,-10.7l-13.6,2.4z" stroke="#4156fa"/>
<path d="M1092.6,786.2l13.6,-2.1l10.3,-11.2l-13.5,2.6z" stroke="#4158fb"/>
<path d="M1106.2,784.1l13.5,-2.3l10.3,-11.7l-13.5,2.8z" stroke="#405bfc"/>
<path d="M1119.7,781.8l13.5,-2.5l10.4,-12.1l-13.6,2.9z" stroke="#405ffd"/>
<path d="M1133.2,779.3l13.6,-2.6l10.3,-12.6l-13.5,3.1z" stroke="#3f62fe"/>
<path d="M1146.8,776.7l13.5,-2.7l10.3,-13.1l-13.5,3.2z" stroke="#3e65fe"/>
<path d="M1160.3,774l13.5,-2.9l10.4,-13.5l-13.6,3.3z" stroke="#3c69ff"/>
<path d="M1173.8,771.1l13.6,-3.1l10.3,-13.8l-13.5,3.4z" stroke="#396dff"/>
<path d="M1187.3,768l13.5,-3.2l10.3,-14l-13.5,3.4z" stroke="#3671fe"/>
<path d="M1200.9,764.8l13.5,-3.3l10.3,-14.3l-13.5,3.6z" stroke="#3375fd"/>
<path d="M1214.4,761.5l13.5,-3.4l10.4,-14.6l-13.6,3.7z" stroke="#3079fc"/>
<path d="M1227.9,758.1l13.6,-3.6l10.3,-14.9l-13.5,3.9z" stroke="#2f7dfb"/>
<path d="M1241.5,754.5l13.5,-3.7l10.3,-15.1l-13.5,3.9z" stroke="#2e81f9"/>
<path d="M1255,750.8l13.5,-3.7l10.4,-15.4l-13.6,4z" stroke="#2d85f7"/>
<path d="M1268.5,747.1l13.6,-3.9l10.3,-15.5l-13.5,4z" stroke="#2d8af5"/>
<path d="M1282.1,743.2l13.5,-3.9l10.3,-15.6l-13.5,4z" stroke="#2d8df2"/>
<path d="M1295.6,739.3l13.5,-3.9l10.4,-15.7l-13.6,4z" stroke="#2b91ef"/>
<path d="M1309.1,735.4l13.5,-3.9l10.4,-15.8l-13.5,4z" stroke="#2994ed"/>
<path d="M1322.7,731.5l13.6,-4l10.3,-15.7l-13.5,3.9z" stroke="#2797eb"/>
<path d="M1336.2,727.5l13.5,-3.9l10.3,-15.7l-13.5,3.9z" stroke="#269ae8"/>
<path d="M1349.7,723.6l13.5,-4l10.4,-15.6l-13.6,3.9z" stroke="#259de7"/>
<path d="M1363.2,719.6l13.6,-3.9l10.3,-15.6l-13.5,3.9z" stroke="#23a0e5"/>
<path d="M1376.8,715.7l13.5,-4l10.3,-15.4l-13.5,3.8z" stroke="#21a3e3"/>
<path d="M1390.3,711.7l13.5,-3.9l10.4,-15.3l-13.6,3.8z" stroke="#1fa6e2"/>
<path d="M1403.8,707.8l13.6,-4l10.3,-15.1l-13.5,3.8z" stroke="#1da9e0"/>
<path d="M1417.4,703.8l13.5,-3.9l10.3,-15l-13.5,3.8z" stroke="#1aabdd"/>
<path d="M1430.9,699.9l13.5,-4l10.4,-14.8l-13.6,3.8z" stroke="#18aedb"/>
<path d="M1444.4,695.9l13.5,-3.9l10.4,-14.7l-13.5,3.8z" stroke="#13b0d8"/>
<path d="M1457.9,692l13.6,-4l10.3,-14.6l-13.5,3.9z" stroke="#0eb2d4"/>
<path d="M1471.5,688l13.5,-4.1l10.3,-14.4l-13.5,3.9z" stroke="#08b4d0"/>
<path d="M1485,683.9l13.5,-4l10.4,-14.3l-13.6,3.9z" stroke="#04b6cc"/>
<path d="M676.4,729.2l13.5,4.4l10.4,-5.2l-13.6,-4.4z" stroke="#4151f8"/>
<path d="M689.9,733.6l13.6,4.4l10.3,-5.1l-13.5,-4.5z" stroke="#4150f7"/>
<path d="M703.5,738l13.5,4.4l10.3,-5l-13.5,-4.5z" stroke="#414ef6"/>
<path d="M717,742.4l13.5,4.4l10.4,-5l-13.6,-4.4z" stroke="#414df6"/>
<path d="M730.5,746.8l13.6,4.3l10.3,-4.8l-13.5,-4.5z" stroke="#414cf5"/>
<path d="M744.1,751.1l13.5,4.3l10.3,-4.7l-13.5,-4.4z" stroke="#414af4"/>
<path d="M757.6,755.4l13.5,4.3l10.3,-4.7l-13.5,-4.3z" stroke="#4149f3"/>
<path d="M771.1,759.7l13.5,4.1l10.4,-4.7l-13.6,-4.1z" stroke="#4148f2"/>
<path d="M784.6,763.8l13.6,4l10.3,-4.6l-13.5,-4.1z" stroke="#4047f1"/>
<path d="M798.2,767.8l13.5,3.9l10.3,-4.6l-13.5,-3.9z" stroke="#4046f1"/>
<path d="M811.7,771.7l13.5,3.7l10.4,-4.5l-13.6,-3.8z" stroke="#4045f0"/>
<path d="M825.2,775.4l13.6,3.6l10.3,-4.6l-13.5,-3.5z" stroke="#4044ef"/>
<path d="M838.8,779l13.5,3.3l10.3,-4.6l-13.5,-3.3z" stroke="#4043ef"/>
<path d="M852.3,782.3l13.5,3.1l10.4,-4.6l-13.6,-3.1z" stroke="#4042ee"/>
<path d="M865.8,785.4l13.6,2.9l10.3,-4.7l-13.5,-2.8z" stroke="#4042ee"/>
<path d="M879.4,788.3l13.5,2.7l10.3,-4.9l-13.5,-2.5z" stroke="#4042ed"/>
<path d="M892.9,791l13.5,2.3l10.4,-4.9l-13.6,-2.3z" stroke="#4041ed"/>
<path d="M906.4,793.3l13.6,2.1l10.3,-5.2l-13.5,-1.8z" stroke="#4041ed"/>
<path d="M920,795.4l13.5,1.7l10.3,-5.3l-13.5,-1.6z" stroke="#4042ee"/>
<path d="M933.5,797.1l13.5,1.5l10.3,-5.7l-13.5,-1.1z" stroke="#4042ee"/>
<path d="M947,798.6l13.5,1.1l10.4,-6l-13.6,-0.8z" stroke="#4043ee"/>
<path d="M960.5,799.7l13.6,0.7l10.3,-6.3l-13.5,-0.4z" stroke="#4044ef"/>
<path d="M974.1,800.4l13.5,0.5l10.3,-6.7l-13.5,-0.1z" stroke="#4045f0"/>
<path d="M987.6,800.9l13.5,0.1l10.4,-7.1l-13.6,0.3z" stroke="#4046f1"/>
<path d="M1001.1,801l13.6,-0.1l10.3,-7.6l-13.5,0.6z" stroke="#4147f2"/>
<path d="M1014.7,800.9l13.5,-0.4l10.3,-8.1l-13.5,0.9z" stroke="#4149f3"/>
<path d="M1028.2,800.5l13.5,-0.7l10.4,-8.6l-13.6,1.2z" stroke="#414bf4"/>
<path d="M1041.7,799.8l13.6,-1l10.3,-9l-13.5,1.4z" stroke="#414df6"/>
<path d="M1055.3,798.8l13.5,-1.2l10.3,-9.5l-13.5,1.7z" stroke="#414ff7"/>
<path d="M1068.8,797.6l13.5,-1.4l10.3,-10l-13.5,1.9z" stroke="#4151f8"/>
<path d="M1082.3,796.2l13.5,-1.6l10.4,-10.5l-13.6,2.1z" stroke="#4154f9"/>
<path d="M1095.8,794.6l13.6,-1.8l10.3,-11l-13.5,2.3z" stroke="#4156fb"/>
<path d="M1109.4,792.8l13.5,-2l10.3,-11.5l-13.5,2.5z" stroke="#4159fb"/>
<path d="M1122.9,790.8l13.5,-2.2l10.4,-11.9l-13.6,2.6z" stroke="#405cfc"/>
<path d="M1136.4,788.6l13.6,-2.4l10.3,-12.2l-13.5,2.7z" stroke="#405ffd"/>
<path d="M1150,786.2l13.5,-2.6l10.3,-12.5l-13.5,2.9z" stroke="#3f62fe"/>
<path d="M1163.5,783.6l13.5,-2.7l10.4,-12.9l-13.6,3.1z" stroke="#3d66fe"/>
<path d="M1177,780.9l13.6,-2.8l10.3,-13.3l-13.5,3.2z" stroke="#3c69ff"/>
<path d="M1190.6,778.1l13.5,-3.1l10.3,-13.5l-13.5,3.3z" stroke="#396dff"/>
<path d="M1204.1,775l13.5,-3.2l10.3,-13.7l-13.5,3.4z" stroke="#3671fe"/>
<path d="M1217.6,771.8l13.5,-3.3l10.4,-14l-13.6,3.6z" stroke="#3375fd"/>
<path d="M1231.1,768.5l13.6,-3.4l10.3,-14.3l-13.5,3.7z" stroke="#3079fc"/>
<path d="M1244.7,765.1l13.5,-3.6l10.3,-14.4l-13.5,3.7z" stroke="#2f7dfa"/>
<path d="M1258.2,761.5l13.5,-3.7l10.4,-14.6l-13.6,3.9z" stroke="#2e81f9"/>
<path d="M1271.7,757.8l13.6,-3.8l10.3,-14.7l-13.5,3.9z" stroke="#2d85f7"/>
<path d="M1285.3,754l13.5,-3.8l10.3,-14.8l-13.5,3.9z" stroke="#2d8af5"/>
<path d="M1298.8,750.2l13.5,-3.9l10.3,-14.8l-13.5,3.9z" stroke="#2d8df2"/>
<path d="M1312.3,746.3l13.6,-3.9l10.3,-14.9l-13.6,4z" stroke="#2b91ef"/>
<path d="M1325.9,742.4l13.5,-4l10.3,-14.8l-13.5,3.9z" stroke="#2994ed"/>
<path d="M1339.4,738.4l13.5,-4l10.3,-14.8l-13.5,4z" stroke="#2797eb"/>
<path d="M1352.9,734.4l13.5,-4l10.4,-14.7l-13.6,3.9z" stroke="#269ae9"/>
<path d="M1366.4,730.4l13.6,-4l10.3,-14.7l-13.5,4z" stroke="#259de7"/>
<path d="M1380,726.4l13.5,-4.1l10.3,-14.5l-13.5,3.9z" stroke="#23a0e5"/>
<path d="M1393.5,722.3l13.5,-4l10.4,-14.5l-13.6,4z" stroke="#21a3e3"/>
<path d="M1407,718.3l13.6,-4.1l10.3,-14.3l-13.5,3.9z" stroke="#1fa6e2"/>
<path d="M1420.6,714.2l13.5,-4.1l10.3,-14.2l-13.5,4z" stroke="#1da9e0"/>
<path d="M1434.1,710.1l13.5,-4.1l10.3,-14l-13.5,3.9z" stroke="#1aabdd"/>
<path d="M1447.6,706l13.6,-4.1l10.3,-13.9l-13.6,4z" stroke="#17aeda"/>
<path d="M1461.2,701.9l13.5,-4.2l10.3,-13.8l-13.5,4.1z" stroke="#13b0d7"/>
<path d="M1474.7,697.7l13.5,-4.2l10.3,-13.6l-13.5,4z" stroke="#0db3d3"/>
<path d="M666.1,734.2l13.5,4.3l10.3,-4.9l-13.5,-4.4z" stroke="#4150f7"/>
<path d="M679.6,738.5l13.5,4.3l10.4,-4.8l-13.6,-4.4z" stroke="#414ef7"/>
<path d="M693.1,742.8l13.6,4.3l10.3,-4.7l-13.5,-4.4z" stroke="#414df6"/>
<path d="M706.7,747.1l13.5,4.3l10.3,-4.6l-13.5,-4.4z" stroke="#414cf5"/>
<path d="M720.2,751.4l13.5,4.3l10.4,-4.6l-13.6,-4.3z" stroke="#414af4"/>
<path d="M733.7,755.7l13.6,4.3l10.3,-4.6l-13.5,-4.3z" stroke="#4149f3"/>
<path d="M747.3,760l13.5,4.1l10.3,-4.4l-13.5,-4.3z" stroke="#4148f2"/>
<path d="M760.8,764.1l13.5,4.1l10.3,-4.4l-13.5,-4.1z" stroke="#4147f2"/>
<path d="M774.3,768.2l13.5,4l10.4,-4.4l-13.6,-4z" stroke="#4046f1"/>
<path d="M787.8,772.2l13.6,3.8l10.3,-4.3l-13.5,-3.9z" stroke="#4045f0"/>
<path d="M801.4,776l13.5,3.7l10.3,-4.3l-13.5,-3.7z" stroke="#4044ef"/>
<path d="M814.9,779.7l13.5,3.6l10.4,-4.3l-13.6,-3.6z" stroke="#4043ee"/>
<path d="M828.4,783.3l13.6,3.4l10.3,-4.4l-13.5,-3.3z" stroke="#4042ee"/>
<path d="M842,786.7l13.5,3.2l10.3,-4.5l-13.5,-3.1z" stroke="#4041ed"/>
<path d="M855.5,789.9l13.5,2.9l10.4,-4.5l-13.6,-2.9z" stroke="#4041ed"/>
<path d="M869,792.8l13.6,2.8l10.3,-4.6l-13.5,-2.7z" stroke="#4041ed"/>
<path d="M882.6,795.6l13.5,2.5l10.3,-4.8l-13.5,-2.3z" stroke="#4040ec"/>
<path d="M896.1,798.1l13.5,2.2l10.4,-4.9l-13.6,-2.1z" stroke="#4040ec"/>
<path d="M909.6,800.3l13.5,2l10.4,-5.2l-13.5,-1.7z" stroke="#4040ec"/>
<path d="M923.1,802.3l13.6,1.6l10.3,-5.3l-13.5,-1.5z" stroke="#4041ed"/>
<path d="M936.7,803.9l13.5,1.5l10.3,-5.7l-13.5,-1.1z" stroke="#4041ed"/>
<path d="M950.2,805.4l13.5,1.1l10.4,-6.1l-13.6,-0.7z" stroke="#4042ee"/>
<path d="M963.7,806.5l13.6,0.8l10.3,-6.4l-13.5,-0.5z" stroke="#4043ee"/>
<path d="M977.3,807.3l13.5,0.6l10.3,-6.9l-13.5,-0.1z" stroke="#4044ef"/>
<path d="M990.8,807.9l13.5,0.2l10.4,-7.2l-13.6,0.1z" stroke="#4045f0"/>
<path d="M1004.3,808.1l13.6,0.1l10.3,-7.7l-13.5,0.4z" stroke="#4046f1"/>
<path d="M1017.9,808.2l13.5,-0.3l10.3,-8.1l-13.5,0.7z" stroke="#4148f2"/>
<path d="M1031.4,807.9l13.5,-0.5l10.4,-8.6l-13.6,1z" stroke="#4149f3"/>
<path d="M1044.9,807.4l13.5,-0.7l10.4,-9.1l-13.5,1.2z" stroke="#414bf5"/>
<path d="M1058.5,806.7l13.6,-1l10.3,-9.5l-13.5,1.4z" stroke="#414df6"/>
<path d="M1072,805.7l13.5,-1.1l10.3,-10l-13.5,1.6z" stroke="#414ff7"/>
<path d="M1085.5,804.6l13.5,-1.4l10.4,-10.4l-13.6,1.8z" stroke="#4152f8"/>
<path d="M1099,803.2l13.6,-1.6l10.3,-10.8l-13.5,2z" stroke="#4154f9"/>
<path d="M1112.6,801.6l13.5,-1.9l10.3,-11.1l-13.5,2.2z" stroke="#4156fb"/>
<path d="M1126.1,799.7l13.5,-2l10.4,-11.5l-13.6,2.4z" stroke="#4159fc"/>
<path d="M1139.6,797.7l13.6,-2.2l10.3,-11.9l-13.5,2.6z" stroke="#405cfc"/>
<path d="M1153.2,795.5l13.5,-2.4l10.3,-12.2l-13.5,2.7z" stroke="#405ffd"/>
<path d="M1166.7,793.1l13.5,-2.5l10.4,-12.5l-13.6,2.8z" stroke="#3f62fe"/>
<path d="M1180.2,790.6l13.6,-2.8l10.3,-12.8l-13.5,3.1z" stroke="#3d66fe"/>
<path d="M1193.8,787.8l13.5,-2.9l10.3,-13.1l-13.5,3.2z" stroke="#3c69ff"/>
<path d="M1207.3,784.9l13.5,-3.1l10.3,-13.3l-13.5,3.3z" stroke="#396dff"/>
<path d="M1220.8,781.8l13.5,-3.3l10.4,-13.4l-13.6,3.4z" stroke="#3671fe"/>
<path d="M1234.3,778.5l13.6,-3.4l10.3,-13.6l-13.5,3.6z" stroke="#3375fd"/>
<path d="M1247.9,775.1l13.5,-3.5l10.3,-13.8l-13.5,3.7z" stroke="#3079fc"/>
<path d="M1261.4,771.6l13.5,-3.6l10.4,-14l-13.6,3.8z" stroke="#2f7efa"/>
<path d="M1274.9,768l13.6,-3.8l10.3,-14l-13.5,3.8z" stroke="#2e82f9"/>
<path d="M1288.5,764.2l13.5,-3.8l10.3,-14.1l-13.5,3.9z" stroke="#2d86f7"/>
<path d="M1302,760.4l13.5,-3.9l10.4,-14.1l-13.6,3.9z" stroke="#2d8af4"/>
<path d="M1315.5,756.5l13.5,-4l10.4,-14.1l-13.5,4z" stroke="#2c8ef2"/>
<path d="M1329,752.5l13.6,-4l10.3,-14.1l-13.5,4z" stroke="#2b91ef"/>
<path d="M1342.6,748.5l13.5,-4.1l10.3,-14l-13.5,4z" stroke="#2994ed"/>
<path d="M1356.1,744.4l13.5,-4.1l10.4,-13.9l-13.6,4z" stroke="#2797ea"/>
<path d="M1369.6,740.3l13.6,-4.1l10.3,-13.9l-13.5,4.1z" stroke="#269ae8"/>
<path d="M1383.2,736.2l13.5,-4.2l10.3,-13.7l-13.5,4z" stroke="#249ee6"/>
<path d="M1396.7,732l13.5,-4.2l10.4,-13.6l-13.6,4.1z" stroke="#23a1e5"/>
<path d="M1410.2,727.8l13.6,-4.2l10.3,-13.5l-13.5,4.1z" stroke="#21a4e3"/>
<path d="M1423.8,723.6l13.5,-4.2l10.3,-13.4l-13.5,4.1z" stroke="#1ea7e1"/>
<path d="M1437.3,719.4l13.5,-4.2l10.4,-13.3l-13.6,4.1z" stroke="#1ca9df"/>
<path d="M1450.8,715.2l13.6,-4.3l10.3,-13.2l-13.5,4.2z" stroke="#19acdc"/>
<path d="M1464.3,710.9l13.5,-4.3l10.3,-13.1l-13.5,4.2z" stroke="#16afd9"/>
<path d="M655.8,738.9l13.5,4.2l10.3,-4.6l-13.5,-4.3z" stroke="#414ef7"/>
<path d="M669.3,743.1l13.5,4.3l10.3,-4.6l-13.5,-4.3z" stroke="#414df6"/>
<path d="M682.8,747.4l13.5,4.2l10.4,-4.5l-13.6,-4.3z" stroke="#414cf5"/>
<path d="M696.3,751.6l13.6,4.3l10.3,-4.5l-13.5,-4.3z" stroke="#414bf4"/>
<path d="M709.9,755.9l13.5,4.2l10.3,-4.4l-13.5,-4.3z" stroke="#4149f3"/>
<path d="M723.4,760.1l13.5,4.1l10.4,-4.2l-13.6,-4.3z" stroke="#4148f3"/>
<path d="M736.9,764.2l13.6,4.1l10.3,-4.2l-13.5,-4.1z" stroke="#4147f2"/>
<path d="M750.5,768.3l13.5,4.1l10.3,-4.2l-13.5,-4.1z" stroke="#4046f1"/>
<path d="M764,772.4l13.5,3.9l10.3,-4.1l-13.5,-4z" stroke="#4045f0"/>
<path d="M777.5,776.3l13.5,3.8l10.4,-4.1l-13.6,-3.8z" stroke="#4044ef"/>
<path d="M791,780.1l13.6,3.8l10.3,-4.2l-13.5,-3.7z" stroke="#4043ef"/>
<path d="M804.6,783.9l13.5,3.5l10.3,-4.1l-13.5,-3.6z" stroke="#4042ee"/>
<path d="M818.1,787.4l13.5,3.4l10.4,-4.1l-13.6,-3.4z" stroke="#4041ed"/>
<path d="M831.6,790.8l13.6,3.3l10.3,-4.2l-13.5,-3.2z" stroke="#4041ed"/>
<path d="M845.2,794.1l13.5,3l10.3,-4.3l-13.5,-2.9z" stroke="#4040ec"/>
<path d="M858.7,797.1l13.5,2.9l10.4,-4.4l-13.6,-2.8z" stroke="#3f40ec"/>
<path d="M872.2,800l13.6,2.6l10.3,-4.5l-13.5,-2.5z" stroke="#3f3fec"/>
<path d="M885.8,802.6l13.5,2.4l10.3,-4.7l-13.5,-2.2z" stroke="#3f3feb"/>
<path d="M899.3,805l13.5,2.2l10.3,-4.9l-13.5,-2z" stroke="#3f3feb"/>
<path d="M912.8,807.2l13.6,2l10.3,-5.3l-13.6,-1.6z" stroke="#3f3feb"/>
<path d="M926.3,809.2l13.5,1.6l10.3,-5.4l-13.5,-1.5z" stroke="#3f40ec"/>
<path d="M939.9,810.8l13.5,1.5l10.3,-5.8l-13.5,-1.1z" stroke="#4040ec"/>
<path d="M953.4,812.3l13.5,1.2l10.4,-6.2l-13.6,-0.8z" stroke="#4041ed"/>
<path d="M966.9,813.5l13.6,0.9l10.3,-6.5l-13.5,-0.6z" stroke="#4041ed"/>
<path d="M980.5,814.4l13.5,0.7l10.3,-7l-13.5,-0.2z" stroke="#4042ee"/>
<path d="M994,815.1l13.5,0.4l10.4,-7.3l-13.6,-0.1z" stroke="#4044ef"/>
<path d="M1007.5,815.5l13.6,0.2l10.3,-7.8l-13.5,0.3z" stroke="#4045f0"/>
<path d="M1021.1,815.7l13.5,-0.1l10.3,-8.2l-13.5,0.5z" stroke="#4046f1"/>
<path d="M1034.6,815.6l13.5,-0.3l10.3,-8.6l-13.5,0.7z" stroke="#4148f2"/>
<path d="M1048.1,815.3l13.5,-0.5l10.4,-9.1l-13.6,1z" stroke="#4149f3"/>
<path d="M1061.7,814.8l13.6,-0.8l10.3,-9.4l-13.5,1.1z" stroke="#414bf5"/>
<path d="M1075.2,814l13.5,-1l10.3,-9.8l-13.5,1.4z" stroke="#414df6"/>
<path d="M1088.7,813l13.5,-1.2l10.4,-10.2l-13.6,1.6z" stroke="#414ff7"/>
<path d="M1102.2,811.8l13.6,-1.4l10.3,-10.7l-13.5,1.9z" stroke="#4152f8"/>
<path d="M1115.8,810.4l13.5,-1.7l10.3,-11l-13.5,2z" stroke="#4154f9"/>
<path d="M1129.3,808.7l13.5,-1.8l10.4,-11.4l-13.6,2.2z" stroke="#4157fb"/>
<path d="M1142.8,806.9l13.6,-2.1l10.3,-11.7l-13.5,2.4z" stroke="#4159fc"/>
<path d="M1156.4,804.8l13.5,-2.3l10.3,-11.9l-13.5,2.5z" stroke="#405cfc"/>
<path d="M1169.9,802.5l13.5,-2.5l10.4,-12.2l-13.6,2.8z" stroke="#405ffd"/>
<path d="M1183.4,800l13.6,-2.7l10.3,-12.4l-13.5,2.9z" stroke="#3f63fe"/>
<path d="M1197,797.3l13.5,-2.9l10.3,-12.6l-13.5,3.1z" stroke="#3d66fe"/>
<path d="M1210.5,794.4l13.5,-3l10.3,-12.9l-13.5,3.3z" stroke="#3b6aff"/>
<path d="M1224,791.4l13.5,-3.3l10.4,-13l-13.6,3.4z" stroke="#396efe"/>
<path d="M1237.5,788.1l13.6,-3.3l10.3,-13.2l-13.5,3.5z" stroke="#3672fe"/>
<path d="M1251.1,784.8l13.5,-3.6l10.3,-13.2l-13.5,3.6z" stroke="#3276fd"/>
<path d="M1264.6,781.2l13.5,-3.6l10.4,-13.4l-13.6,3.8z" stroke="#307afc"/>
<path d="M1278.1,777.6l13.6,-3.8l10.3,-13.4l-13.5,3.8z" stroke="#2e7efa"/>
<path d="M1291.7,773.8l13.5,-3.9l10.3,-13.4l-13.5,3.9z" stroke="#2e83f8"/>
<path d="M1305.2,769.9l13.5,-4l10.3,-13.4l-13.5,4z" stroke="#2d87f6"/>
<path d="M1318.7,765.9l13.5,-4l10.4,-13.4l-13.6,4z" stroke="#2d8bf4"/>
<path d="M1332.2,761.9l13.6,-4.1l10.3,-13.4l-13.5,4.1z" stroke="#2c8ef1"/>
<path d="M1345.8,757.8l13.5,-4.2l10.3,-13.3l-13.5,4.1z" stroke="#2b92ee"/>
<path d="M1359.3,753.6l13.5,-4.2l10.4,-13.2l-13.6,4.1z" stroke="#2895ec"/>
<path d="M1372.8,749.4l13.6,-4.3l10.3,-13.1l-13.5,4.2z" stroke="#2698ea"/>
<path d="M1386.4,745.1l13.5,-4.3l10.3,-13l-13.5,4.2z" stroke="#259ce7"/>
<path d="M1399.9,740.8l13.5,-4.3l10.4,-12.9l-13.6,4.2z" stroke="#249fe6"/>
<path d="M1413.4,736.5l13.6,-4.3l10.3,-12.8l-13.5,4.2z" stroke="#22a2e4"/>
<path d="M1427,732.2l13.5,-4.3l10.3,-12.7l-13.5,4.2z" stroke="#20a5e2"/>
<path d="M1440.5,727.9l13.5,-4.4l10.4,-12.6l-13.6,4.3z" stroke="#1da8e0"/>
<path d="M1454,723.5l13.6,-4.3l10.3,-12.6l-13.5,4.3z" stroke="#1babde"/>
<path d="M645.4,743.3l13.6,4.2l10.3,-4.4l-13.5,-4.2z" stroke="#414ef6"/>
<path d="M659,747.5l13.5,4.2l10.3,-4.3l-13.5,-4.3z" stroke="#414cf5"/>
<path d="M672.5,751.7l13.5,4.1l10.3,-4.2l-13.5,-4.2z" stroke="#414bf5"/>
<path d="M686,755.8l13.5,4.2l10.4,-4.1l-13.6,-4.3z" stroke="#414af4"/>
<path d="M699.5,760l13.6,4.2l10.3,-4.1l-13.5,-4.2z" stroke="#4149f3"/>
<path d="M713.1,764.2l13.5,4.1l10.3,-4.1l-13.5,-4.1z" stroke="#4147f2"/>
<path d="M726.6,768.3l13.5,4l10.4,-4l-13.6,-4.1z" stroke="#4046f1"/>
<path d="M740.1,772.3l13.6,4l10.3,-3.9l-13.5,-4.1z" stroke="#4045f0"/>
<path d="M753.7,776.3l13.5,4l10.3,-4l-13.5,-3.9z" stroke="#4044f0"/>
<path d="M767.2,780.3l13.5,3.8l10.3,-4l-13.5,-3.8z" stroke="#4043ef"/>
<path d="M780.7,784.1l13.5,3.7l10.4,-3.9l-13.6,-3.8z" stroke="#4042ee"/>
<path d="M794.2,787.8l13.6,3.6l10.3,-4l-13.5,-3.5z" stroke="#4041ed"/>
<path d="M807.8,791.4l13.5,3.5l10.3,-4.1l-13.5,-3.4z" stroke="#4041ed"/>
<path d="M821.3,794.9l13.5,3.3l10.4,-4.1l-13.6,-3.3z" stroke="#4040ec"/>
<path d="M834.8,798.2l13.6,3.1l10.3,-4.2l-13.5,-3z" stroke="#3f3feb"/>
<path d="M848.4,801.3l13.5,3l10.3,-4.3l-13.5,-2.9z" stroke="#3f3feb"/>
<path d="M861.9,804.3l13.5,2.8l10.4,-4.5l-13.6,-2.6z" stroke="#3f3eeb"/>
<path d="M875.4,807.1l13.6,2.6l10.3,-4.7l-13.5,-2.4z" stroke="#3f3eea"/>
<path d="M889,809.7l13.5,2.3l10.3,-4.8l-13.5,-2.2z" stroke="#3f3eea"/>
<path d="M902.5,812l13.5,2.2l10.4,-5l-13.6,-2z" stroke="#3f3eea"/>
<path d="M916,814.2l13.6,2l10.3,-5.4l-13.5,-1.6z" stroke="#3f3eea"/>
<path d="M929.5,816.2l13.5,1.7l10.3,-5.6l-13.5,-1.5z" stroke="#3f3feb"/>
<path d="M943.1,817.9l13.5,1.5l10.3,-5.9l-13.5,-1.2z" stroke="#3f3feb"/>
<path d="M956.6,819.4l13.5,1.3l10.4,-6.3l-13.6,-0.9z" stroke="#3f3fec"/>
<path d="M970.1,820.7l13.6,1.1l10.3,-6.7l-13.5,-0.7z" stroke="#4040ec"/>
<path d="M983.7,821.8l13.5,0.8l10.3,-7.1l-13.5,-0.4z" stroke="#4041ed"/>
<path d="M997.2,822.6l13.5,0.6l10.4,-7.5l-13.6,-0.2z" stroke="#4042ee"/>
<path d="M1010.7,823.2l13.6,0.3l10.3,-7.9l-13.5,0.1z" stroke="#4043ef"/>
<path d="M1024.3,823.5l13.5,0.1l10.3,-8.3l-13.5,0.3z" stroke="#4045f0"/>
<path d="M1037.8,823.6l13.5,-0.1l10.3,-8.7l-13.5,0.5z" stroke="#4046f1"/>
<path d="M1051.3,823.5l13.5,-0.4l10.4,-9.1l-13.6,0.8z" stroke="#4148f2"/>
<path d="M1064.8,823.1l13.6,-0.6l10.3,-9.5l-13.5,1z" stroke="#4149f3"/>
<path d="M1078.4,822.5l13.5,-0.8l10.3,-9.9l-13.5,1.2z" stroke="#414bf5"/>
<path d="M1091.9,821.7l13.5,-1.1l10.4,-10.2l-13.6,1.4z" stroke="#414df6"/>
<path d="M1105.4,820.6l13.6,-1.3l10.3,-10.6l-13.5,1.7z" stroke="#414ff7"/>
<path d="M1119,819.3l13.5,-1.6l10.3,-10.8l-13.5,1.8z" stroke="#4152f8"/>
<path d="M1132.5,817.7l13.5,-1.7l10.4,-11.2l-13.6,2.1z" stroke="#4154fa"/>
<path d="M1146,816l13.6,-2l10.3,-11.5l-13.5,2.3z" stroke="#4157fb"/>
<path d="M1159.6,814l13.5,-2.3l10.3,-11.7l-13.5,2.5z" stroke="#415afc"/>
<path d="M1173.1,811.7l13.5,-2.4l10.4,-12l-13.6,2.7z" stroke="#405dfd"/>
<path d="M1186.6,809.3l13.6,-2.7l10.3,-12.2l-13.5,2.9z" stroke="#4060fd"/>
<path d="M1200.2,806.6l13.5,-2.9l10.3,-12.3l-13.5,3z" stroke="#3f63fe"/>
<path d="M1213.7,803.7l13.5,-3.1l10.3,-12.5l-13.5,3.3z" stroke="#3d67fe"/>
<path d="M1227.2,800.6l13.5,-3.2l10.4,-12.6l-13.6,3.3z" stroke="#3b6bff"/>
<path d="M1240.7,797.4l13.6,-3.5l10.3,-12.7l-13.5,3.6z" stroke="#386ffe"/>
<path d="M1254.3,793.9l13.5,-3.6l10.3,-12.7l-13.5,3.6z" stroke="#3573fe"/>
<path d="M1267.8,790.3l13.5,-3.7l10.4,-12.8l-13.6,3.8z" stroke="#3177fd"/>
<path d="M1281.3,786.6l13.6,-3.9l10.3,-12.8l-13.5,3.9z" stroke="#2f7bfb"/>
<path d="M1294.9,782.7l13.5,-3.9l10.3,-12.9l-13.5,4z" stroke="#2e80fa"/>
<path d="M1308.4,778.8l13.5,-4.1l10.3,-12.8l-13.5,4z" stroke="#2d84f8"/>
<path d="M1321.9,774.7l13.6,-4.1l10.3,-12.8l-13.6,4.1z" stroke="#2d88f5"/>
<path d="M1335.5,770.6l13.5,-4.3l10.3,-12.7l-13.5,4.2z" stroke="#2d8cf3"/>
<path d="M1349,766.3l13.5,-4.3l10.3,-12.6l-13.5,4.2z" stroke="#2c90f0"/>
<path d="M1362.5,762l13.5,-4.3l10.4,-12.6l-13.6,4.3z" stroke="#2a93ed"/>
<path d="M1376,757.7l13.6,-4.4l10.3,-12.5l-13.5,4.3z" stroke="#2797eb"/>
<path d="M1389.6,753.3l13.5,-4.4l10.3,-12.4l-13.5,4.3z" stroke="#269ae9"/>
<path d="M1403.1,748.9l13.5,-4.4l10.4,-12.3l-13.6,4.3z" stroke="#249de7"/>
<path d="M1416.6,744.5l13.6,-4.4l10.3,-12.2l-13.5,4.3z" stroke="#23a0e5"/>
<path d="M1430.2,740.1l13.5,-4.4l10.3,-12.2l-13.5,4.4z" stroke="#21a3e3"/>
<path d="M1443.7,735.7l13.5,-4.4l10.4,-12.1l-13.6,4.3z" stroke="#1ea6e1"/>
<path d="M635.1,747.4l13.5,4.2l10.4,-4.1l-13.6,-4.2z" stroke="#414df6"/>
<path d="M648.6,751.6l13.6,4.1l10.3,-4l-13.5,-4.2z" stroke="#414cf5"/>
<path d="M662.2,755.7l13.5,4.1l10.3,-4l-13.5,-4.1z" stroke="#414af4"/>
<path d="M675.7,759.8l13.5,4.2l10.3,-4l-13.5,-4.2z" stroke="#4149f3"/>
<path d="M689.2,764l13.5,4.1l10.4,-3.9l-13.6,-4.2z" stroke="#4148f2"/>
<path d="M702.7,768.1l13.6,4l10.3,-3.8l-13.5,-4.1z" stroke="#4147f2"/>
<path d="M716.3,772.1l13.5,4.1l10.3,-3.9l-13.5,-4z" stroke="#4046f1"/>
<path d="M729.8,776.2l13.5,3.9l10.4,-3.8l-13.6,-4z" stroke="#4045f0"/>
<path d="M743.3,780.1l13.6,4l10.3,-3.8l-13.5,-4z" stroke="#4044ef"/>
<path d="M756.9,784.1l13.5,3.8l10.3,-3.8l-13.5,-3.8z" stroke="#4043ee"/>
<path d="M770.4,787.9l13.5,3.7l10.3,-3.8l-13.5,-3.7z" stroke="#4042ed"/>
<path d="M783.9,791.6l13.5,3.7l10.4,-3.9l-13.6,-3.6z" stroke="#4041ed"/>
<path d="M797.5,795.3l13.6,3.5l10.3,-3.9l-13.5,-3.5z" stroke="#4040ec"/>
<path d="M811,798.8l13.5,3.3l10.3,-3.9l-13.5,-3.3z" stroke="#3f3feb"/>
<path d="M824.5,802.1l13.5,3.3l10.4,-4.1l-13.6,-3.1z" stroke="#3f3feb"/>
<path d="M838,805.4l13.6,3.1l10.3,-4.2l-13.5,-3z" stroke="#3f3eea"/>
<path d="M851.6,808.5l13.5,2.9l10.3,-4.3l-13.5,-2.8z" stroke="#3f3eea"/>
<path d="M865.1,811.4l13.5,2.8l10.4,-4.5l-13.6,-2.6z" stroke="#3f3de9"/>
<path d="M878.6,814.2l13.6,2.6l10.3,-4.8l-13.5,-2.3z" stroke="#3f3de9"/>
<path d="M892.2,816.8l13.5,2.4l10.3,-5l-13.5,-2.2z" stroke="#3f3de9"/>
<path d="M905.7,819.2l13.5,2.2l10.4,-5.2l-13.6,-2z" stroke="#3f3de9"/>
<path d="M919.2,821.4l13.6,2l10.3,-5.5l-13.5,-1.7z" stroke="#3f3de9"/>
<path d="M932.8,823.4l13.5,1.8l10.3,-5.8l-13.5,-1.5z" stroke="#3f3de9"/>
<path d="M946.3,825.2l13.5,1.7l10.3,-6.2l-13.5,-1.3z" stroke="#3f3eea"/>
<path d="M959.8,826.9l13.5,1.4l10.4,-6.5l-13.6,-1.1z" stroke="#3f3eea"/>
<path d="M973.3,828.3l13.6,1.1l10.3,-6.8l-13.5,-0.8z" stroke="#3f3feb"/>
<path d="M986.9,829.4l13.5,1l10.3,-7.2l-13.5,-0.6z" stroke="#3f40ec"/>
<path d="M1000.4,830.4l13.5,0.7l10.4,-7.6l-13.6,-0.3z" stroke="#4040ec"/>
<path d="M1013.9,831.1l13.6,0.5l10.3,-8l-13.5,-0.1z" stroke="#4042ed"/>
<path d="M1027.5,831.6l13.5,0.3l10.3,-8.4l-13.5,0.1z" stroke="#4043ee"/>
<path d="M1041,831.9l13.5,0l10.3,-8.8l-13.5,0.4z" stroke="#4044f0"/>
<path d="M1054.5,831.9l13.5,-0.3l10.4,-9.1l-13.6,0.6z" stroke="#4046f1"/>
<path d="M1068,831.6l13.6,-0.5l10.3,-9.4l-13.5,0.8z" stroke="#4147f2"/>
<path d="M1081.6,831.1l13.5,-0.7l10.3,-9.8l-13.5,1.1z" stroke="#4149f3"/>
<path d="M1095.1,830.4l13.5,-0.9l10.4,-10.2l-13.6,1.3z" stroke="#414bf4"/>
<path d="M1108.6,829.5l13.6,-1.3l10.3,-10.5l-13.5,1.6z" stroke="#414df6"/>
<path d="M1122.2,828.2l13.5,-1.4l10.3,-10.8l-13.5,1.7z" stroke="#414ff7"/>
<path d="M1135.7,826.8l13.5,-1.8l10.4,-11l-13.6,2z" stroke="#4152f8"/>
<path d="M1149.2,825l13.6,-2l10.3,-11.3l-13.5,2.3z" stroke="#4154fa"/>
<path d="M1162.8,823l13.5,-2.2l10.3,-11.5l-13.5,2.4z" stroke="#4157fb"/>
<path d="M1176.3,820.8l13.5,-2.5l10.4,-11.7l-13.6,2.7z" stroke="#415afc"/>
<path d="M1189.8,818.3l13.6,-2.7l10.3,-11.9l-13.5,2.9z" stroke="#405dfd"/>
<path d="M1203.4,815.6l13.5,-2.9l10.3,-12.1l-13.5,3.1z" stroke="#3f60fd"/>
<path d="M1216.9,812.7l13.5,-3.2l10.3,-12.1l-13.5,3.2z" stroke="#3e64fe"/>
<path d="M1230.4,809.5l13.5,-3.3l10.4,-12.3l-13.6,3.5z" stroke="#3c68fe"/>
<path d="M1243.9,806.2l13.6,-3.6l10.3,-12.3l-13.5,3.6z" stroke="#3a6cff"/>
<path d="M1257.5,802.6l13.5,-3.7l10.3,-12.3l-13.5,3.7z" stroke="#3770fe"/>
<path d="M1271,798.9l13.5,-3.8l10.4,-12.4l-13.6,3.9z" stroke="#3474fd"/>
<path d="M1284.5,795.1l13.6,-4l10.3,-12.3l-13.5,3.9z" stroke="#3079fc"/>
<path d="M1298.1,791.1l13.5,-4.1l10.3,-12.3l-13.5,4.1z" stroke="#2f7dfa"/>
<path d="M1311.6,787l13.5,-4.1l10.4,-12.3l-13.6,4.1z" stroke="#2e82f9"/>
<path d="M1325.1,782.9l13.5,-4.3l10.4,-12.3l-13.5,4.3z" stroke="#2d86f7"/>
<path d="M1338.7,778.6l13.6,-4.4l10.3,-12.2l-13.5,4.3z" stroke="#2d8af4"/>
<path d="M1352.2,774.2l13.5,-4.4l10.3,-12.1l-13.5,4.3z" stroke="#2c8ef1"/>
<path d="M1365.7,769.8l13.5,-4.4l10.4,-12.1l-13.6,4.4z" stroke="#2b92ee"/>
<path d="M1379.2,765.4l13.6,-4.5l10.3,-12l-13.5,4.4z" stroke="#2895ec"/>
<path d="M1392.8,760.9l13.5,-4.5l10.3,-11.9l-13.5,4.4z" stroke="#2699ea"/>
<path d="M1406.3,756.4l13.5,-4.5l10.4,-11.8l-13.6,4.4z" stroke="#259ce7"/>
<path d="M1419.8,751.9l13.6,-4.5l10.3,-11.7l-13.5,4.4z" stroke="#249fe5"/>
<path d="M1433.4,747.4l13.5,-4.4l10.3,-11.7l-13.5,4.4z" stroke="#22a2e4"/>
<path d="M624.8,751.3l13.5,4.1l10.3,-3.8l-13.5,-4.2z" stroke="#414cf5"/>
<path d="M638.3,755.4l13.5,4.1l10.4,-3.8l-13.6,-4.1z" stroke="#414bf4"/>
<path d="M651.8,759.5l13.5,4.1l10.4,-3.8l-13.5,-4.1z" stroke="#414af4"/>
<path d="M665.3,763.6l13.6,4.1l10.3,-3.7l-13.5,-4.2z" stroke="#4149f3"/>
<path d="M678.9,767.7l13.5,4l10.3,-3.6l-13.5,-4.1z" stroke="#4147f2"/>
<path d="M692.4,771.7l13.5,4.1l10.4,-3.7l-13.6,-4z" stroke="#4046f1"/>
<path d="M705.9,775.8l13.6,4l10.3,-3.6l-13.5,-4.1z" stroke="#4045f0"/>
<path d="M719.5,779.8l13.5,4l10.3,-3.7l-13.5,-3.9z" stroke="#4044f0"/>
<path d="M733,783.8l13.5,3.9l10.4,-3.6l-13.6,-4z" stroke="#4043ef"/>
<path d="M746.5,787.7l13.6,3.9l10.3,-3.7l-13.5,-3.8z" stroke="#4042ee"/>
<path d="M760.1,791.6l13.5,3.7l10.3,-3.7l-13.5,-3.7z" stroke="#4041ed"/>
<path d="M773.6,795.3l13.5,3.7l10.3,-3.7l-13.5,-3.7z" stroke="#4040ec"/>
<path d="M787.1,799l13.5,3.6l10.4,-3.8l-13.6,-3.5z" stroke="#3f3fec"/>
<path d="M800.6,802.6l13.6,3.4l10.3,-3.9l-13.5,-3.3z" stroke="#3f3feb"/>
<path d="M814.2,806l13.5,3.4l10.3,-4l-13.5,-3.3z" stroke="#3f3eea"/>
<path d="M827.7,809.4l13.5,3.2l10.4,-4.1l-13.6,-3.1z" stroke="#3f3dea"/>
<path d="M841.2,812.6l13.6,3.1l10.3,-4.3l-13.5,-2.9z" stroke="#3f3de9"/>
<path d="M854.8,815.7l13.5,2.9l10.3,-4.4l-13.5,-2.8z" stroke="#3f3ce9"/>
<path d="M868.3,818.6l13.5,2.8l10.4,-4.6l-13.6,-2.6z" stroke="#3f3ce8"/>
<path d="M881.8,821.4l13.6,2.6l10.3,-4.8l-13.5,-2.4z" stroke="#3f3ce8"/>
<path d="M895.4,824l13.5,2.5l10.3,-5.1l-13.5,-2.2z" stroke="#3f3ce8"/>
<path d="M908.9,826.5l13.5,2.3l10.4,-5.4l-13.6,-2z" stroke="#3f3ce8"/>
<path d="M922.4,828.8l13.6,2.2l10.3,-5.8l-13.5,-1.8z" stroke="#3f3ce8"/>
<path d="M936,831l13.5,1.9l10.3,-6l-13.5,-1.7z" stroke="#3f3ce8"/>
<path d="M949.5,832.9l13.5,1.7l10.3,-6.3l-13.5,-1.4z" stroke="#3f3ce8"/>
<path d="M963,834.6l13.5,1.6l10.4,-6.8l-13.6,-1.1z" stroke="#3f3de9"/>
<path d="M976.5,836.2l13.6,1.3l10.3,-7.1l-13.5,-1z" stroke="#3f3de9"/>
<path d="M990.1,837.5l13.5,1l10.3,-7.4l-13.5,-0.7z" stroke="#3f3eea"/>
<path d="M1003.6,838.5l13.5,0.9l10.4,-7.8l-13.6,-0.5z" stroke="#3f3feb"/>
<path d="M1017.1,839.4l13.6,0.6l10.3,-8.1l-13.5,-0.3z" stroke="#3f40ec"/>
<path d="M1030.7,840l13.5,0.4l10.3,-8.5l-13.5,0z" stroke="#4041ed"/>
<path d="M1044.2,840.4l13.5,0.1l10.3,-8.9l-13.5,0.3z" stroke="#4042ee"/>
<path d="M1057.7,840.5l13.5,-0.2l10.4,-9.2l-13.6,0.5z" stroke="#4043ef"/>
<path d="M1071.2,840.3l13.6,-0.3l10.3,-9.6l-13.5,0.7z" stroke="#4045f0"/>
<path d="M1084.8,840l13.5,-0.7l10.3,-9.8l-13.5,0.9z" stroke="#4047f2"/>
<path d="M1098.3,839.3l13.5,-0.9l10.4,-10.2l-13.6,1.3z" stroke="#4149f3"/>
<path d="M1111.8,838.4l13.6,-1.2l10.3,-10.4l-13.5,1.4z" stroke="#414bf4"/>
<path d="M1125.4,837.2l13.5,-1.4l10.3,-10.8l-13.5,1.8z" stroke="#414df6"/>
<path d="M1138.9,835.8l13.5,-1.8l10.4,-11l-13.6,2z" stroke="#414ff7"/>
<path d="M1152.4,834l13.6,-2l10.3,-11.2l-13.5,2.2z" stroke="#4152f8"/>
<path d="M1166,832l13.5,-2.3l10.3,-11.4l-13.5,2.5z" stroke="#4155fa"/>
<path d="M1179.5,829.7l13.5,-2.6l10.4,-11.5l-13.6,2.7z" stroke="#4157fb"/>
<path d="M1193,827.1l13.6,-2.8l10.3,-11.6l-13.5,2.9z" stroke="#415bfc"/>
<path d="M1206.6,824.3l13.5,-3l10.3,-11.8l-13.5,3.2z" stroke="#405efd"/>
<path d="M1220.1,821.3l13.5,-3.3l10.3,-11.8l-13.5,3.3z" stroke="#3f62fd"/>
<path d="M1233.6,818l13.5,-3.5l10.4,-11.9l-13.6,3.6z" stroke="#3e65fe"/>
<path d="M1247.1,814.5l13.6,-3.6l10.3,-12l-13.5,3.7z" stroke="#3c69ff"/>
<path d="M1260.7,810.9l13.5,-3.9l10.3,-11.9l-13.5,3.8z" stroke="#396efe"/>
<path d="M1274.2,807l13.5,-3.9l10.4,-12l-13.6,4z" stroke="#3572fe"/>
<path d="M1287.7,803.1l13.6,-4.1l10.3,-12l-13.5,4.1z" stroke="#3277fd"/>
<path d="M1301.3,799l13.5,-4.2l10.3,-11.9l-13.5,4.1z" stroke="#2f7bfb"/>
<path d="M1314.8,794.8l13.5,-4.4l10.3,-11.8l-13.5,4.3z" stroke="#2e80fa"/>
<path d="M1328.3,790.4l13.6,-4.4l10.3,-11.8l-13.6,4.4z" stroke="#2d84f8"/>
<path d="M1341.9,786l13.5,-4.4l10.3,-11.8l-13.5,4.4z" stroke="#2d89f5"/>
<path d="M1355.4,781.6l13.5,-4.6l10.3,-11.6l-13.5,4.4z" stroke="#2d8df2"/>
<path d="M1368.9,777l13.5,-4.5l10.4,-11.6l-13.6,4.5z" stroke="#2b90ef"/>
<path d="M1382.4,772.5l13.6,-4.6l10.3,-11.5l-13.5,4.5z" stroke="#2994ed"/>
<path d="M1396,767.9l13.5,-4.6l10.3,-11.4l-13.5,4.5z" stroke="#2797ea"/>
<path d="M1409.5,763.3l13.5,-4.5l10.4,-11.4l-13.6,4.5z" stroke="#259be8"/>
<path d="M1423,758.8l13.6,-4.5l10.3,-11.3l-13.5,4.4z" stroke="#249ee6"/>
<path d="M614.4,755l13.6,4.1l10.3,-3.7l-13.5,-4.1z" stroke="#414bf5"/>
<path d="M628,759.1l13.5,4l10.3,-3.6l-13.5,-4.1z" stroke="#414af4"/>
<path d="M641.5,763.1l13.5,4.1l10.3,-3.6l-13.5,-4.1z" stroke="#4149f3"/>
<path d="M655,767.2l13.6,4l10.3,-3.5l-13.6,-4.1z" stroke="#4148f3"/>
<path d="M668.5,771.2l13.5,4.1l10.3,-3.6l-13.5,-4z" stroke="#4147f2"/>
<path d="M682.1,775.3l13.5,4l10.3,-3.5l-13.5,-4.1z" stroke="#4046f1"/>
<path d="M695.6,779.3l13.5,4l10.4,-3.5l-13.6,-4z" stroke="#4045f0"/>
<path d="M709.1,783.3l13.6,4l10.3,-3.5l-13.5,-4z" stroke="#4044ef"/>
<path d="M722.7,787.3l13.5,3.9l10.3,-3.5l-13.5,-3.9z" stroke="#4043ee"/>
<path d="M736.2,791.2l13.5,3.9l10.4,-3.5l-13.6,-3.9z" stroke="#4042ed"/>
<path d="M749.7,795.1l13.6,3.9l10.3,-3.7l-13.5,-3.7z" stroke="#4041ed"/>
<path d="M763.3,799l13.5,3.7l10.3,-3.7l-13.5,-3.7z" stroke="#4040ec"/>
<path d="M776.8,802.7l13.5,3.7l10.3,-3.8l-13.5,-3.6z" stroke="#3f3feb"/>
<path d="M790.3,806.4l13.5,3.5l10.4,-3.9l-13.6,-3.4z" stroke="#3f3eea"/>
<path d="M803.9,809.9l13.6,3.5l10.3,-4l-13.5,-3.4z" stroke="#3f3de9"/>
<path d="M817.4,813.4l13.5,3.3l10.3,-4.1l-13.5,-3.2z" stroke="#3f3de9"/>
<path d="M830.9,816.7l13.5,3.2l10.4,-4.2l-13.6,-3.1z" stroke="#3f3ce8"/>
<path d="M844.4,819.9l13.6,3.1l10.3,-4.4l-13.5,-2.9z" stroke="#3f3ce8"/>
<path d="M858,823l13.5,3l10.3,-4.6l-13.5,-2.8z" stroke="#3f3be7"/>
<path d="M871.5,826l13.5,2.9l10.4,-4.9l-13.6,-2.6z" stroke="#3f3be7"/>
<path d="M885,828.9l13.6,2.7l10.3,-5.1l-13.5,-2.5z" stroke="#3e3ae7"/>
<path d="M898.6,831.6l13.5,2.6l10.3,-5.4l-13.5,-2.3z" stroke="#3e3ae6"/>
<path d="M912.1,834.2l13.5,2.4l10.4,-5.6l-13.6,-2.2z" stroke="#3e3ae6"/>
<path d="M925.6,836.6l13.6,2.3l10.3,-6l-13.5,-1.9z" stroke="#3e3ae6"/>
<path d="M939.2,838.9l13.5,2l10.3,-6.3l-13.5,-1.7z" stroke="#3e3ae6"/>
<path d="M952.7,840.9l13.5,1.9l10.3,-6.6l-13.5,-1.6z" stroke="#3f3be7"/>
<path d="M966.2,842.8l13.5,1.6l10.4,-6.9l-13.6,-1.3z" stroke="#3f3be7"/>
<path d="M979.7,844.4l13.6,1.4l10.3,-7.3l-13.5,-1z" stroke="#3f3be7"/>
<path d="M993.3,845.8l13.5,1.2l10.3,-7.6l-13.5,-0.9z" stroke="#3f3ce8"/>
<path d="M1006.8,847l13.5,0.9l10.4,-7.9l-13.6,-0.6z" stroke="#3f3de9"/>
<path d="M1020.3,847.9l13.6,0.7l10.3,-8.2l-13.5,-0.4z" stroke="#3f3eea"/>
<path d="M1033.9,848.6l13.5,0.5l10.3,-8.6l-13.5,-0.1z" stroke="#3f3feb"/>
<path d="M1047.4,849.1l13.5,0.2l10.3,-9l-13.5,0.2z" stroke="#4040ec"/>
<path d="M1060.9,849.3l13.5,-0.1l10.4,-9.2l-13.6,0.3z" stroke="#4041ed"/>
<path d="M1074.5,849.2l13.6,-0.3l10.3,-9.6l-13.5,0.7z" stroke="#4043ee"/>
<path d="M1088,848.9l13.5,-0.6l10.3,-9.9l-13.5,0.9z" stroke="#4044f0"/>
<path d="M1101.5,848.3l13.5,-0.9l10.4,-10.2l-13.6,1.2z" stroke="#4046f1"/>
<path d="M1115,847.4l13.6,-1.2l10.3,-10.4l-13.5,1.4z" stroke="#4148f3"/>
<path d="M1128.6,846.2l13.5,-1.5l10.3,-10.7l-13.5,1.8z" stroke="#414af4"/>
<path d="M1142.1,844.7l13.5,-1.8l10.4,-10.9l-13.6,2z" stroke="#414df6"/>
<path d="M1155.6,842.9l13.6,-2.1l10.3,-11.1l-13.5,2.3z" stroke="#414ff7"/>
<path d="M1169.2,840.8l13.5,-2.5l10.3,-11.2l-13.5,2.6z" stroke="#4152f9"/>
<path d="M1182.7,838.3l13.5,-2.7l10.4,-11.3l-13.6,2.8z" stroke="#4155fa"/>
<path d="M1196.2,835.6l13.6,-3l10.3,-11.3l-13.5,3z" stroke="#4158fb"/>
<path d="M1209.8,832.6l13.5,-3.2l10.3,-11.4l-13.5,3.3z" stroke="#405cfc"/>
<path d="M1223.3,829.4l13.5,-3.4l10.3,-11.5l-13.5,3.5z" stroke="#405ffd"/>
<path d="M1236.8,826l13.5,-3.6l10.4,-11.5l-13.6,3.6z" stroke="#3f63fe"/>
<path d="M1250.3,822.4l13.6,-3.8l10.3,-11.6l-13.5,3.9z" stroke="#3d67fe"/>
<path d="M1263.9,818.6l13.5,-3.9l10.3,-11.6l-13.5,3.9z" stroke="#3a6cff"/>
<path d="M1277.4,814.7l13.5,-4.1l10.4,-11.6l-13.6,4.1z" stroke="#3770fe"/>
<path d="M1290.9,810.6l13.6,-4.3l10.3,-11.5l-13.5,4.2z" stroke="#3375fd"/>
<path d="M1304.5,806.3l13.5,-4.3l10.3,-11.6l-13.5,4.4z" stroke="#307afc"/>
<path d="M1318,802l13.5,-4.5l10.4,-11.5l-13.6,4.4z" stroke="#2e7efa"/>
<path d="M1331.5,797.5l13.6,-4.5l10.3,-11.4l-13.5,4.4z" stroke="#2d83f8"/>
<path d="M1345.1,793l13.5,-4.6l10.3,-11.4l-13.5,4.6z" stroke="#2d87f6"/>
<path d="M1358.6,788.4l13.5,-4.6l10.3,-11.3l-13.5,4.5z" stroke="#2d8cf3"/>
<path d="M1372.1,783.8l13.5,-4.7l10.4,-11.2l-13.6,4.6z" stroke="#2c90f0"/>
<path d="M1385.6,779.1l13.6,-4.6l10.3,-11.2l-13.5,4.6z" stroke="#2a93ed"/>
<path d="M1399.2,774.5l13.5,-4.6l10.3,-11.1l-13.5,4.5z" stroke="#2797eb"/>
<path d="M1412.7,769.9l13.5,-4.6l10.4,-11l-13.6,4.5z" stroke="#269ae9"/>
<path d="M604.1,758.5l13.5,4l10.4,-3.4l-13.6,-4.1z" stroke="#414bf5"/>
<path d="M617.6,762.5l13.6,4l10.3,-3.4l-13.5,-4z" stroke="#414af4"/>
<path d="M631.2,766.5l13.5,4l10.3,-3.3l-13.5,-4.1z" stroke="#4149f3"/>
<path d="M644.7,770.5l13.5,4.1l10.4,-3.4l-13.6,-4z" stroke="#4148f2"/>
<path d="M658.2,774.6l13.6,4l10.3,-3.3l-13.5,-4.1z" stroke="#4047f1"/>
<path d="M671.8,778.6l13.5,4.1l10.3,-3.4l-13.5,-4z" stroke="#4046f1"/>
<path d="M685.3,782.7l13.5,4l10.3,-3.4l-13.5,-4z" stroke="#4044f0"/>
<path d="M698.8,786.7l13.5,4l10.4,-3.4l-13.6,-4z" stroke="#4043ef"/>
<path d="M712.3,790.7l13.6,4l10.3,-3.5l-13.5,-3.9z" stroke="#4042ee"/>
<path d="M725.9,794.7l13.5,3.9l10.3,-3.5l-13.5,-3.9z" stroke="#4041ed"/>
<path d="M739.4,798.6l13.5,3.9l10.4,-3.5l-13.6,-3.9z" stroke="#4040ec"/>
<path d="M752.9,802.5l13.6,3.9l10.3,-3.7l-13.5,-3.7z" stroke="#3f3feb"/>
<path d="M766.5,806.4l13.5,3.7l10.3,-3.7l-13.5,-3.7z" stroke="#3f3eeb"/>
<path d="M780,810.1l13.5,3.7l10.3,-3.9l-13.5,-3.5z" stroke="#3f3dea"/>
<path d="M793.5,813.8l13.5,3.6l10.4,-4l-13.6,-3.5z" stroke="#3f3de9"/>
<path d="M807,817.4l13.6,3.5l10.3,-4.2l-13.5,-3.3z" stroke="#3f3ce8"/>
<path d="M820.6,820.9l13.5,3.4l10.3,-4.4l-13.5,-3.2z" stroke="#3f3be7"/>
<path d="M834.1,824.3l13.5,3.2l10.4,-4.5l-13.6,-3.1z" stroke="#3f3be7"/>
<path d="M847.6,827.5l13.6,3.2l10.3,-4.7l-13.5,-3z" stroke="#3e3ae6"/>
<path d="M861.2,830.7l13.5,3.1l10.3,-4.9l-13.5,-2.9z" stroke="#3e3ae6"/>
<path d="M874.7,833.8l13.5,2.9l10.4,-5.1l-13.6,-2.7z" stroke="#3e39e5"/>
<path d="M888.2,836.7l13.6,2.9l10.3,-5.4l-13.5,-2.6z" stroke="#3e39e5"/>
<path d="M901.8,839.6l13.5,2.7l10.3,-5.7l-13.5,-2.4z" stroke="#3e39e5"/>
<path d="M915.3,842.3l13.5,2.5l10.4,-5.9l-13.6,-2.3z" stroke="#3e38e4"/>
<path d="M928.8,844.8l13.6,2.4l10.3,-6.3l-13.5,-2z" stroke="#3e38e4"/>
<path d="M942.4,847.2l13.5,2.1l10.3,-6.5l-13.5,-1.9z" stroke="#3e38e4"/>
<path d="M955.9,849.3l13.5,2l10.3,-6.9l-13.5,-1.6z" stroke="#3e39e4"/>
<path d="M969.4,851.3l13.5,1.7l10.4,-7.2l-13.6,-1.4z" stroke="#3e39e5"/>
<path d="M982.9,853l13.6,1.5l10.3,-7.5l-13.5,-1.2z" stroke="#3e39e5"/>
<path d="M996.5,854.5l13.5,1.2l10.3,-7.8l-13.5,-0.9z" stroke="#3e3ae6"/>
<path d="M1010,855.7l13.5,1.1l10.4,-8.2l-13.6,-0.7z" stroke="#3f3be7"/>
<path d="M1023.5,856.8l13.6,0.7l10.3,-8.4l-13.5,-0.5z" stroke="#3f3be8"/>
<path d="M1037.1,857.5l13.5,0.5l10.3,-8.7l-13.5,-0.2z" stroke="#3f3ce9"/>
<path d="M1050.6,858l13.5,0.2l10.3,-9l-13.5,0.1z" stroke="#3f3eea"/>
<path d="M1064.1,858.2l13.5,0l10.4,-9.3l-13.6,0.3z" stroke="#3f3feb"/>
<path d="M1077.7,858.2l13.6,-0.4l10.3,-9.5l-13.5,0.6z" stroke="#4040ec"/>
<path d="M1091.2,857.8l13.5,-0.6l10.3,-9.8l-13.5,0.9z" stroke="#4042ee"/>
<path d="M1104.7,857.2l13.5,-1l10.4,-10l-13.6,1.2z" stroke="#4044ef"/>
<path d="M1118.2,856.2l13.6,-1.2l10.3,-10.3l-13.5,1.5z" stroke="#4046f1"/>
<path d="M1131.8,855l13.5,-1.6l10.3,-10.5l-13.5,1.8z" stroke="#4148f3"/>
<path d="M1145.3,853.4l13.5,-2l10.4,-10.6l-13.6,2.1z" stroke="#414bf4"/>
<path d="M1158.8,851.4l13.6,-2.3l10.3,-10.8l-13.5,2.5z" stroke="#414df6"/>
<path d="M1172.4,849.1l13.5,-2.6l10.3,-10.9l-13.5,2.7z" stroke="#4150f8"/>
<path d="M1185.9,846.5l13.5,-2.8l10.4,-11.1l-13.6,3z" stroke="#4153f9"/>
<path d="M1199.4,843.7l13.5,-3.1l10.4,-11.2l-13.5,3.2z" stroke="#4156fb"/>
<path d="M1212.9,840.6l13.6,-3.4l10.3,-11.2l-13.5,3.4z" stroke="#415afc"/>
<path d="M1226.5,837.2l13.5,-3.5l10.3,-11.3l-13.5,3.6z" stroke="#405efd"/>
<path d="M1240,833.7l13.5,-3.8l10.4,-11.3l-13.6,3.8z" stroke="#3f62fd"/>
<path d="M1253.5,829.9l13.6,-3.9l10.3,-11.3l-13.5,3.9z" stroke="#3d66fe"/>
<path d="M1267.1,826l13.5,-4.1l10.3,-11.3l-13.5,4.1z" stroke="#3b6aff"/>
<path d="M1280.6,821.9l13.5,-4.3l10.4,-11.3l-13.6,4.3z" stroke="#386ffe"/>
<path d="M1294.1,817.6l13.6,-4.3l10.3,-11.3l-13.5,4.3z" stroke="#3473fe"/>
<path d="M1307.7,813.3l13.5,-4.5l10.3,-11.3l-13.5,4.5z" stroke="#3178fc"/>
<path d="M1321.2,808.8l13.5,-4.5l10.4,-11.3l-13.6,4.5z" stroke="#2f7dfb"/>
<path d="M1334.7,804.3l13.5,-4.7l10.4,-11.2l-13.5,4.6z" stroke="#2e82f9"/>
<path d="M1348.2,799.6l13.6,-4.6l10.3,-11.2l-13.5,4.6z" stroke="#2d86f7"/>
<path d="M1361.8,795l13.5,-4.7l10.3,-11.2l-13.5,4.7z" stroke="#2d8bf4"/>
<path d="M1375.3,790.3l13.5,-4.7l10.4,-11.1l-13.6,4.6z" stroke="#2c8ff1"/>
<path d="M1388.8,785.6l13.6,-4.7l10.3,-11l-13.5,4.6z" stroke="#2a92ee"/>
<path d="M1402.4,780.9l13.5,-4.6l10.3,-11l-13.5,4.6z" stroke="#2896eb"/>
<path d="M593.8,761.7l13.5,4l10.3,-3.2l-13.5,-4z" stroke="#414bf4"/>
<path d="M607.3,765.7l13.5,4l10.4,-3.2l-13.6,-4z" stroke="#414af4"/>
<path d="M620.8,769.7l13.6,4l10.3,-3.2l-13.5,-4z" stroke="#4149f3"/>
<path d="M634.4,773.7l13.5,4.1l10.3,-3.2l-13.5,-4.1z" stroke="#4148f2"/>
<path d="M647.9,777.8l13.5,4l10.4,-3.2l-13.6,-4z" stroke="#4046f1"/>
<path d="M661.4,781.8l13.6,4.1l10.3,-3.2l-13.5,-4.1z" stroke="#4045f0"/>
<path d="M675,785.9l13.5,4.1l10.3,-3.3l-13.5,-4z" stroke="#4044f0"/>
<path d="M688.5,790l13.5,4.1l10.3,-3.4l-13.5,-4z" stroke="#4043ef"/>
<path d="M702,794.1l13.5,4l10.4,-3.4l-13.6,-4z" stroke="#4042ee"/>
<path d="M715.5,798.1l13.6,4l10.3,-3.5l-13.5,-3.9z" stroke="#4041ed"/>
<path d="M729.1,802.1l13.5,4l10.3,-3.6l-13.5,-3.9z" stroke="#4040ec"/>
<path d="M742.6,806.1l13.5,4l10.4,-3.7l-13.6,-3.9z" stroke="#3f3feb"/>
<path d="M756.1,810.1l13.6,3.8l10.3,-3.8l-13.5,-3.7z" stroke="#3f3eea"/>
<path d="M769.7,813.9l13.5,3.9l10.3,-4l-13.5,-3.7z" stroke="#3f3de9"/>
<path d="M783.2,817.8l13.5,3.7l10.3,-4.1l-13.5,-3.6z" stroke="#3f3ce8"/>
<path d="M796.7,821.5l13.5,3.6l10.4,-4.2l-13.6,-3.5z" stroke="#3f3be7"/>
<path d="M810.2,825.1l13.6,3.6l10.3,-4.4l-13.5,-3.4z" stroke="#3e3ae7"/>
<path d="M823.8,828.7l13.5,3.5l10.3,-4.7l-13.5,-3.2z" stroke="#3e3ae6"/>
<path d="M837.3,832.2l13.5,3.4l10.4,-4.9l-13.6,-3.2z" stroke="#3e39e5"/>
<path d="M850.8,835.6l13.6,3.3l10.3,-5.1l-13.5,-3.1z" stroke="#3e39e4"/>
<path d="M864.4,838.9l13.5,3.1l10.3,-5.3l-13.5,-2.9z" stroke="#3e38e4"/>
<path d="M877.9,842l13.5,3.1l10.4,-5.5l-13.6,-2.9z" stroke="#3e38e3"/>
<path d="M891.4,845.1l13.6,3l10.3,-5.8l-13.5,-2.7z" stroke="#3e37e3"/>
<path d="M905,848.1l13.5,2.8l10.3,-6.1l-13.5,-2.5z" stroke="#3e37e2"/>
<path d="M918.5,850.9l13.5,2.6l10.4,-6.3l-13.6,-2.4z" stroke="#3e37e2"/>
<path d="M932,853.5l13.6,2.4l10.3,-6.6l-13.5,-2.1z" stroke="#3e37e2"/>
<path d="M945.6,855.9l13.5,2.2l10.3,-6.8l-13.5,-2z" stroke="#3e37e2"/>
<path d="M959.1,858.1l13.5,2l10.3,-7.1l-13.5,-1.7z" stroke="#3e37e2"/>
<path d="M972.6,860.1l13.5,1.8l10.4,-7.4l-13.6,-1.5z" stroke="#3e37e2"/>
<path d="M986.1,861.9l13.6,1.5l10.3,-7.7l-13.5,-1.2z" stroke="#3e37e3"/>
<path d="M999.7,863.4l13.5,1.3l10.3,-7.9l-13.5,-1.1z" stroke="#3e38e3"/>
<path d="M1013.2,864.7l13.5,1.1l10.4,-8.3l-13.6,-0.7z" stroke="#3e38e4"/>
<path d="M1026.7,865.8l13.6,0.7l10.3,-8.5l-13.5,-0.5z" stroke="#3e39e5"/>
<path d="M1040.3,866.5l13.5,0.5l10.3,-8.8l-13.5,-0.2z" stroke="#3e3ae6"/>
<path d="M1053.8,867l13.5,0.2l10.3,-9l-13.5,0z" stroke="#3f3be7"/>
<path d="M1067.3,867.2l13.5,-0.1l10.4,-9.3l-13.6,0.4z" stroke="#3f3de9"/>
<path d="M1080.8,867.1l13.6,-0.4l10.3,-9.5l-13.5,0.6z" stroke="#3f3eea"/>
<path d="M1094.4,866.7l13.5,-0.8l10.3,-9.7l-13.5,1z" stroke="#4040ec"/>
<path d="M1107.9,865.9l13.5,-1l10.4,-9.9l-13.6,1.2z" stroke="#4042ee"/>
<path d="M1121.4,864.9l13.6,-1.5l10.3,-10l-13.5,1.6z" stroke="#4044ef"/>
<path d="M1135,863.4l13.5,-1.7l10.3,-10.3l-13.5,2z" stroke="#4046f1"/>
<path d="M1148.5,861.7l13.5,-2.2l10.4,-10.4l-13.6,2.3z" stroke="#4149f3"/>
<path d="M1162,859.5l13.6,-2.4l10.3,-10.6l-13.5,2.6z" stroke="#414bf5"/>
<path d="M1175.6,857.1l13.5,-2.7l10.3,-10.7l-13.5,2.8z" stroke="#414ef7"/>
<path d="M1189.1,854.4l13.5,-3l10.3,-10.8l-13.5,3.1z" stroke="#4152f8"/>
<path d="M1202.6,851.4l13.6,-3.3l10.3,-10.9l-13.6,3.4z" stroke="#4155fa"/>
<path d="M1216.2,848.1l13.5,-3.5l10.3,-10.9l-13.5,3.5z" stroke="#4158fb"/>
<path d="M1229.7,844.6l13.5,-3.7l10.3,-11l-13.5,3.8z" stroke="#405cfc"/>
<path d="M1243.2,840.9l13.5,-3.9l10.4,-11l-13.6,3.9z" stroke="#3f60fd"/>
<path d="M1256.7,837l13.6,-4l10.3,-11.1l-13.5,4.1z" stroke="#3e64fe"/>
<path d="M1270.3,833l13.5,-4.3l10.3,-11.1l-13.5,4.3z" stroke="#3c69ff"/>
<path d="M1283.8,828.7l13.5,-4.3l10.4,-11.1l-13.6,4.3z" stroke="#396dff"/>
<path d="M1297.3,824.4l13.6,-4.5l10.3,-11.1l-13.5,4.5z" stroke="#3572fe"/>
<path d="M1310.9,819.9l13.5,-4.5l10.3,-11.1l-13.5,4.5z" stroke="#3277fd"/>
<path d="M1324.4,815.4l13.5,-4.6l10.3,-11.2l-13.5,4.7z" stroke="#2f7cfb"/>
<path d="M1337.9,810.8l13.6,-4.7l10.3,-11.1l-13.6,4.6z" stroke="#2e81f9"/>
<path d="M1351.5,806.1l13.5,-4.7l10.3,-11.1l-13.5,4.7z" stroke="#2d85f7"/>
<path d="M1365,801.4l13.5,-4.7l10.3,-11.1l-13.5,4.7z" stroke="#2d8af4"/>
<path d="M1378.5,796.7l13.5,-4.7l10.4,-11.1l-13.6,4.7z" stroke="#2c8ef1"/>
<path d="M1392,792l13.6,-4.6l10.3,-11.1l-13.5,4.6z" stroke="#2b92ee"/>
<path d="M583.4,764.8l13.6,3.9l10.3,-3l-13.5,-4z" stroke="#414bf4"/>
<path d="M597,768.7l13.5,4l10.3,-3l-13.5,-4z" stroke="#414af4"/>
<path d="M610.5,772.7l13.5,4.1l10.4,-3.1l-13.6,-4z" stroke="#4149f3"/>
<path d="M624,776.8l13.6,4.1l10.3,-3.1l-13.5,-4.1z" stroke="#4147f2"/>
<path d="M637.6,780.9l13.5,4.1l10.3,-3.2l-13.5,-4z" stroke="#4046f1"/>
<path d="M651.1,785l13.5,4.1l10.4,-3.2l-13.6,-4.1z" stroke="#4045f0"/>
<path d="M664.6,789.1l13.6,4.1l10.3,-3.2l-13.5,-4.1z" stroke="#4044ef"/>
<path d="M678.2,793.2l13.5,4.2l10.3,-3.3l-13.5,-4.1z" stroke="#4043ee"/>
<path d="M691.7,797.4l13.5,4.1l10.3,-3.4l-13.5,-4z" stroke="#4042ee"/>
<path d="M705.2,801.5l13.5,4.1l10.4,-3.5l-13.6,-4z" stroke="#4041ed"/>
<path d="M718.7,805.6l13.6,4.1l10.3,-3.6l-13.5,-4z" stroke="#3f3fec"/>
<path d="M732.3,809.7l13.5,4.1l10.3,-3.7l-13.5,-4z" stroke="#3f3eeb"/>
<path d="M745.8,813.8l13.5,4l10.4,-3.9l-13.6,-3.8z" stroke="#3f3dea"/>
<path d="M759.3,817.8l13.6,4l10.3,-4l-13.5,-3.9z" stroke="#3f3ce9"/>
<path d="M772.9,821.8l13.5,3.9l10.3,-4.2l-13.5,-3.7z" stroke="#3f3be8"/>
<path d="M786.4,825.7l13.5,3.8l10.3,-4.4l-13.5,-3.6z" stroke="#3e3ae7"/>
<path d="M799.9,829.5l13.5,3.7l10.4,-4.5l-13.6,-3.6z" stroke="#3e3ae6"/>
<path d="M813.5,833.2l13.6,3.7l10.3,-4.7l-13.5,-3.5z" stroke="#3e39e5"/>
<path d="M827,836.9l13.5,3.6l10.3,-4.9l-13.5,-3.4z" stroke="#3e38e4"/>
<path d="M840.5,840.5l13.5,3.5l10.4,-5.1l-13.6,-3.3z" stroke="#3e37e3"/>
<path d="M854,844l13.6,3.4l10.3,-5.4l-13.5,-3.1z" stroke="#3e37e2"/>
<path d="M867.6,847.4l13.5,3.3l10.3,-5.6l-13.5,-3.1z" stroke="#3d36e1"/>
<path d="M881.1,850.7l13.5,3.2l10.4,-5.8l-13.6,-3z" stroke="#3d36e0"/>
<path d="M894.6,853.9l13.6,3l10.3,-6l-13.5,-2.8z" stroke="#3d35e0"/>
<path d="M908.2,856.9l13.5,2.9l10.3,-6.3l-13.5,-2.6z" stroke="#3d35df"/>
<path d="M921.7,859.8l13.5,2.7l10.4,-6.6l-13.6,-2.4z" stroke="#3d35df"/>
<path d="M935.2,862.5l13.6,2.4l10.3,-6.8l-13.5,-2.2z" stroke="#3d34df"/>
<path d="M948.8,864.9l13.5,2.3l10.3,-7.1l-13.5,-2z" stroke="#3d34df"/>
<path d="M962.3,867.2l13.5,2.1l10.3,-7.4l-13.5,-1.8z" stroke="#3d34df"/>
<path d="M975.8,869.3l13.5,1.8l10.4,-7.7l-13.6,-1.5z" stroke="#3d35df"/>
<path d="M989.3,871.1l13.6,1.5l10.3,-7.9l-13.5,-1.3z" stroke="#3d35e0"/>
<path d="M1002.9,872.6l13.5,1.3l10.3,-8.1l-13.5,-1.1z" stroke="#3d36e0"/>
<path d="M1016.4,873.9l13.5,1l10.4,-8.4l-13.6,-0.7z" stroke="#3d36e1"/>
<path d="M1029.9,874.9l13.6,0.7l10.3,-8.6l-13.5,-0.5z" stroke="#3e37e2"/>
<path d="M1043.5,875.6l13.5,0.5l10.3,-8.9l-13.5,-0.2z" stroke="#3e38e4"/>
<path d="M1057,876.1l13.5,0.1l10.3,-9.1l-13.5,0.1z" stroke="#3e39e5"/>
<path d="M1070.5,876.2l13.5,-0.3l10.4,-9.2l-13.6,0.4z" stroke="#3e3ae7"/>
<path d="M1084,875.9l13.6,-0.5l10.3,-9.5l-13.5,0.8z" stroke="#3f3ce8"/>
<path d="M1097.6,875.4l13.5,-0.9l10.3,-9.6l-13.5,1z" stroke="#3f3eea"/>
<path d="M1111.1,874.5l13.5,-1.3l10.4,-9.8l-13.6,1.5z" stroke="#4040ec"/>
<path d="M1124.6,873.2l13.6,-1.6l10.3,-9.9l-13.5,1.7z" stroke="#4042ee"/>
<path d="M1138.2,871.6l13.5,-1.9l10.3,-10.2l-13.5,2.2z" stroke="#4044f0"/>
<path d="M1151.7,869.7l13.5,-2.3l10.4,-10.3l-13.6,2.4z" stroke="#4147f2"/>
<path d="M1165.2,867.4l13.6,-2.6l10.3,-10.4l-13.5,2.7z" stroke="#414af4"/>
<path d="M1178.8,864.8l13.5,-2.9l10.3,-10.5l-13.5,3z" stroke="#414df6"/>
<path d="M1192.3,861.9l13.5,-3.1l10.4,-10.7l-13.6,3.3z" stroke="#4150f8"/>
<path d="M1205.8,858.8l13.6,-3.5l10.3,-10.7l-13.5,3.5z" stroke="#4153f9"/>
<path d="M1219.3,855.3l13.5,-3.6l10.3,-10.8l-13.5,3.7z" stroke="#4157fb"/>
<path d="M1232.9,851.7l13.5,-3.8l10.3,-10.9l-13.5,3.9z" stroke="#415bfc"/>
<path d="M1246.4,847.9l13.5,-4l10.4,-10.9l-13.6,4z" stroke="#405ffd"/>
<path d="M1259.9,843.9l13.6,-4.2l10.3,-11l-13.5,4.3z" stroke="#3f63fe"/>
<path d="M1273.5,839.7l13.5,-4.4l10.3,-10.9l-13.5,4.3z" stroke="#3d67fe"/>
<path d="M1287,835.3l13.5,-4.4l10.4,-11l-13.6,4.5z" stroke="#3a6cff"/>
<path d="M1300.5,830.9l13.6,-4.5l10.3,-11l-13.5,4.5z" stroke="#3671fe"/>
<path d="M1314.1,826.4l13.5,-4.7l10.3,-10.9l-13.5,4.6z" stroke="#3276fd"/>
<path d="M1327.6,821.7l13.5,-4.6l10.4,-11l-13.6,4.7z" stroke="#307bfb"/>
<path d="M1341.1,817.1l13.5,-4.7l10.4,-11l-13.5,4.7z" stroke="#2e80fa"/>
<path d="M1354.6,812.4l13.6,-4.7l10.3,-11l-13.5,4.7z" stroke="#2d84f7"/>
<path d="M1368.2,807.7l13.5,-4.6l10.3,-11.1l-13.5,4.7z" stroke="#2d89f5"/>
<path d="M1381.7,803.1l13.5,-4.6l10.4,-11.1l-13.6,4.6z" stroke="#2d8df2"/>
<path d="M573.1,767.8l13.5,3.9l10.4,-3l-13.6,-3.9z" stroke="#414bf4"/>
<path d="M586.6,771.7l13.6,4l10.3,-3l-13.5,-4z" stroke="#414af4"/>
<path d="M600.2,775.7l13.5,4.1l10.3,-3l-13.5,-4.1z" stroke="#4148f3"/>
<path d="M613.7,779.8l13.5,4.1l10.4,-3l-13.6,-4.1z" stroke="#4147f2"/>
<path d="M627.2,783.9l13.6,4.2l10.3,-3.1l-13.5,-4.1z" stroke="#4046f1"/>
<path d="M640.8,788.1l13.5,4.2l10.3,-3.2l-13.5,-4.1z" stroke="#4045f0"/>
<path d="M654.3,792.3l13.5,4.2l10.4,-3.3l-13.6,-4.1z" stroke="#4044ef"/>
<path d="M667.8,796.5l13.5,4.2l10.4,-3.3l-13.5,-4.2z" stroke="#4043ee"/>
<path d="M681.3,800.7l13.6,4.2l10.3,-3.4l-13.5,-4.1z" stroke="#4041ed"/>
<path d="M694.9,804.9l13.5,4.3l10.3,-3.6l-13.5,-4.1z" stroke="#4040ec"/>
<path d="M708.4,809.2l13.5,4.2l10.4,-3.7l-13.6,-4.1z" stroke="#3f3feb"/>
<path d="M721.9,813.4l13.6,4.2l10.3,-3.8l-13.5,-4.1z" stroke="#3f3eea"/>
<path d="M735.5,817.6l13.5,4.1l10.3,-3.9l-13.5,-4z" stroke="#3f3de9"/>
<path d="M749,821.7l13.5,4.1l10.4,-4l-13.6,-4z" stroke="#3f3ce8"/>
<path d="M762.5,825.8l13.6,4.1l10.3,-4.2l-13.5,-3.9z" stroke="#3f3be7"/>
<path d="M776.1,829.9l13.5,4l10.3,-4.4l-13.5,-3.8z" stroke="#3e3ae6"/>
<path d="M789.6,833.9l13.5,4l10.3,-4.7l-13.5,-3.7z" stroke="#3e39e5"/>
<path d="M803.1,837.9l13.6,3.8l10.3,-4.8l-13.6,-3.7z" stroke="#3e38e3"/>
<path d="M816.7,841.7l13.5,3.8l10.3,-5l-13.5,-3.6z" stroke="#3e37e2"/>
<path d="M830.2,845.5l13.5,3.7l10.3,-5.2l-13.5,-3.5z" stroke="#3d36e1"/>
<path d="M843.7,849.2l13.5,3.7l10.4,-5.5l-13.6,-3.4z" stroke="#3d35e0"/>
<path d="M857.2,852.9l13.6,3.5l10.3,-5.7l-13.5,-3.3z" stroke="#3d35df"/>
<path d="M870.8,856.4l13.5,3.4l10.3,-5.9l-13.5,-3.2z" stroke="#3d34de"/>
<path d="M884.3,859.8l13.5,3.2l10.4,-6.1l-13.6,-3z" stroke="#3d33de"/>
<path d="M897.8,863l13.6,3.1l10.3,-6.3l-13.5,-2.9z" stroke="#3d33dd"/>
<path d="M911.4,866.1l13.5,2.9l10.3,-6.5l-13.5,-2.7z" stroke="#3c33dc"/>
<path d="M924.9,869l13.5,2.7l10.4,-6.8l-13.6,-2.4z" stroke="#3c32dc"/>
<path d="M938.4,871.7l13.6,2.6l10.3,-7.1l-13.5,-2.3z" stroke="#3c32db"/>
<path d="M952,874.3l13.5,2.3l10.3,-7.3l-13.5,-2.1z" stroke="#3c32db"/>
<path d="M965.5,876.6l13.5,2l10.3,-7.5l-13.5,-1.8z" stroke="#3c32db"/>
<path d="M979,878.6l13.5,1.8l10.4,-7.8l-13.6,-1.5z" stroke="#3c33dc"/>
<path d="M992.5,880.4l13.6,1.6l10.3,-8.1l-13.5,-1.3z" stroke="#3d33dc"/>
<path d="M1006.1,882l13.5,1.2l10.3,-8.3l-13.5,-1z" stroke="#3d33dd"/>
<path d="M1019.6,883.2l13.5,1l10.4,-8.6l-13.6,-0.7z" stroke="#3d34de"/>
<path d="M1033.1,884.2l13.6,0.6l10.3,-8.7l-13.5,-0.5z" stroke="#3d35df"/>
<path d="M1046.7,884.8l13.5,0.3l10.3,-8.9l-13.5,-0.1z" stroke="#3d36e1"/>
<path d="M1060.2,885.1l13.5,0l10.3,-9.2l-13.5,0.3z" stroke="#3e37e2"/>
<path d="M1073.7,885.1l13.6,-0.4l10.3,-9.3l-13.6,0.5z" stroke="#3e38e4"/>
<path d="M1087.3,884.7l13.5,-0.7l10.3,-9.5l-13.5,0.9z" stroke="#3e3ae6"/>
<path d="M1100.8,884l13.5,-1.1l10.3,-9.7l-13.5,1.3z" stroke="#3f3ce8"/>
<path d="M1114.3,882.9l13.5,-1.4l10.4,-9.9l-13.6,1.6z" stroke="#3f3eea"/>
<path d="M1127.8,881.5l13.6,-1.8l10.3,-10l-13.5,1.9z" stroke="#4040ec"/>
<path d="M1141.4,879.7l13.5,-2.2l10.3,-10.1l-13.5,2.3z" stroke="#4043ee"/>
<path d="M1154.9,877.5l13.5,-2.4l10.4,-10.3l-13.6,2.6z" stroke="#4045f1"/>
<path d="M1168.4,875.1l13.6,-2.8l10.3,-10.4l-13.5,2.9z" stroke="#4148f3"/>
<path d="M1182,872.3l13.5,-3.1l10.3,-10.4l-13.5,3.1z" stroke="#414bf5"/>
<path d="M1195.5,869.2l13.5,-3.3l10.4,-10.6l-13.6,3.5z" stroke="#414ff7"/>
<path d="M1209,865.9l13.6,-3.6l10.3,-10.6l-13.5,3.6z" stroke="#4152f9"/>
<path d="M1222.6,862.3l13.5,-3.7l10.3,-10.7l-13.5,3.8z" stroke="#4156fa"/>
<path d="M1236.1,858.6l13.5,-4l10.3,-10.7l-13.5,4z" stroke="#415afc"/>
<path d="M1249.6,854.6l13.5,-4.2l10.4,-10.7l-13.6,4.2z" stroke="#405efd"/>
<path d="M1263.1,850.4l13.6,-4.3l10.3,-10.8l-13.5,4.4z" stroke="#3f62fe"/>
<path d="M1276.7,846.1l13.5,-4.4l10.3,-10.8l-13.5,4.4z" stroke="#3d67fe"/>
<path d="M1290.2,841.7l13.5,-4.5l10.4,-10.8l-13.6,4.5z" stroke="#3a6bff"/>
<path d="M1303.7,837.2l13.6,-4.6l10.3,-10.9l-13.5,4.7z" stroke="#3770fe"/>
<path d="M1317.3,832.6l13.5,-4.7l10.3,-10.8l-13.5,4.6z" stroke="#3375fd"/>
<path d="M1330.8,827.9l13.5,-4.6l10.3,-10.9l-13.5,4.7z" stroke="#307afc"/>
<path d="M1344.3,823.3l13.6,-4.7l10.3,-10.9l-13.6,4.7z" stroke="#2e7ffa"/>
<path d="M1357.9,818.6l13.5,-4.6l10.3,-10.9l-13.5,4.6z" stroke="#2d84f8"/>
<path d="M1371.4,814l13.5,-4.6l10.3,-10.9l-13.5,4.6z" stroke="#2d88f5"/>
<path d="M562.8,770.8l13.5,4l10.3,-3.1l-13.5,-3.9z" stroke="#414bf4"/>
<path d="M576.3,774.8l13.5,4l10.4,-3.1l-13.6,-4z" stroke="#4149f3"/>
<path d="M589.8,778.8l13.6,4.1l10.3,-3.1l-13.5,-4.1z" stroke="#4148f3"/>
<path d="M603.4,782.9l13.5,4.1l10.3,-3.1l-13.5,-4.1z" stroke="#4147f2"/>
<path d="M616.9,787l13.5,4.2l10.4,-3.1l-13.6,-4.2z" stroke="#4046f1"/>
<path d="M630.4,791.2l13.6,4.3l10.3,-3.2l-13.5,-4.2z" stroke="#4045f0"/>
<path d="M644,795.5l13.5,4.3l10.3,-3.3l-13.5,-4.2z" stroke="#4044ef"/>
<path d="M657.5,799.8l13.5,4.3l10.3,-3.4l-13.5,-4.2z" stroke="#4042ee"/>
<path d="M671,804.1l13.6,4.4l10.3,-3.6l-13.6,-4.2z" stroke="#4041ed"/>
<path d="M684.5,808.5l13.5,4.3l10.3,-3.6l-13.5,-4.3z" stroke="#4040ec"/>
<path d="M698.1,812.8l13.5,4.3l10.3,-3.7l-13.5,-4.2z" stroke="#3f3feb"/>
<path d="M711.6,817.1l13.5,4.3l10.4,-3.8l-13.6,-4.2z" stroke="#3f3dea"/>
<path d="M725.1,821.4l13.6,4.3l10.3,-4l-13.5,-4.1z" stroke="#3f3ce8"/>
<path d="M738.7,825.7l13.5,4.3l10.3,-4.2l-13.5,-4.1z" stroke="#3f3be7"/>
<path d="M752.2,830l13.5,4.2l10.4,-4.3l-13.6,-4.1z" stroke="#3e3ae6"/>
<path d="M765.7,834.2l13.6,4.2l10.3,-4.5l-13.5,-4z" stroke="#3e39e5"/>
<path d="M779.3,838.4l13.5,4.1l10.3,-4.6l-13.5,-4z" stroke="#3e38e3"/>
<path d="M792.8,842.5l13.5,4.1l10.4,-4.9l-13.6,-3.8z" stroke="#3e37e2"/>
<path d="M806.3,846.6l13.5,4l10.4,-5.1l-13.5,-3.8z" stroke="#3d36e1"/>
<path d="M819.8,850.6l13.6,3.9l10.3,-5.3l-13.5,-3.7z" stroke="#3d35e0"/>
<path d="M833.4,854.5l13.5,3.8l10.3,-5.4l-13.5,-3.7z" stroke="#3d34de"/>
<path d="M846.9,858.3l13.5,3.7l10.4,-5.6l-13.6,-3.5z" stroke="#3d33dd"/>
<path d="M860.4,862l13.6,3.6l10.3,-5.8l-13.5,-3.4z" stroke="#3c33dc"/>
<path d="M874,865.6l13.5,3.5l10.3,-6.1l-13.5,-3.2z" stroke="#3c32db"/>
<path d="M887.5,869.1l13.5,3.3l10.4,-6.3l-13.6,-3.1z" stroke="#3c31da"/>
<path d="M901,872.4l13.6,3.1l10.3,-6.5l-13.5,-2.9z" stroke="#3c31d9"/>
<path d="M914.6,875.5l13.5,3l10.3,-6.8l-13.5,-2.7z" stroke="#3c31d8"/>
<path d="M928.1,878.5l13.5,2.8l10.4,-7l-13.6,-2.6z" stroke="#3c30d8"/>
<path d="M941.6,881.3l13.6,2.5l10.3,-7.2l-13.5,-2.3z" stroke="#3c30d7"/>
<path d="M955.2,883.8l13.5,2.3l10.3,-7.5l-13.5,-2z" stroke="#3c30d7"/>
<path d="M968.7,886.1l13.5,2.1l10.3,-7.8l-13.5,-1.8z" stroke="#3c30d7"/>
<path d="M982.2,888.2l13.5,1.7l10.4,-7.9l-13.6,-1.6z" stroke="#3c30d8"/>
<path d="M995.7,889.9l13.6,1.5l10.3,-8.2l-13.5,-1.2z" stroke="#3c31d8"/>
<path d="M1009.3,891.4l13.5,1.2l10.3,-8.4l-13.5,-1z" stroke="#3c31d9"/>
<path d="M1022.8,892.6l13.5,0.9l10.4,-8.7l-13.6,-0.6z" stroke="#3c32da"/>
<path d="M1036.3,893.5l13.6,0.5l10.3,-8.9l-13.5,-0.3z" stroke="#3c33dc"/>
<path d="M1049.9,894l13.5,0.2l10.3,-9.1l-13.5,0z" stroke="#3d34de"/>
<path d="M1063.4,894.2l13.5,-0.2l10.4,-9.3l-13.6,0.4z" stroke="#3d35df"/>
<path d="M1076.9,894l13.5,-0.6l10.4,-9.4l-13.5,0.7z" stroke="#3d36e1"/>
<path d="M1090.5,893.4l13.6,-0.9l10.3,-9.6l-13.5,1.1z" stroke="#3e38e4"/>
<path d="M1104,892.5l13.5,-1.3l10.3,-9.7l-13.5,1.4z" stroke="#3e3ae6"/>
<path d="M1117.5,891.2l13.5,-1.6l10.4,-9.9l-13.6,1.8z" stroke="#3f3ce8"/>
<path d="M1131,889.6l13.6,-2l10.3,-10.1l-13.5,2.2z" stroke="#3f3eeb"/>
<path d="M1144.6,887.6l13.5,-2.4l10.3,-10.1l-13.5,2.4z" stroke="#4041ed"/>
<path d="M1158.1,885.2l13.5,-2.7l10.4,-10.2l-13.6,2.8z" stroke="#4044ef"/>
<path d="M1171.6,882.5l13.6,-2.9l10.3,-10.4l-13.5,3.1z" stroke="#4147f2"/>
<path d="M1185.2,879.6l13.5,-3.3l10.3,-10.4l-13.5,3.3z" stroke="#414af4"/>
<path d="M1198.7,876.3l13.5,-3.5l10.4,-10.5l-13.6,3.6z" stroke="#414df6"/>
<path d="M1212.2,872.8l13.6,-3.7l10.3,-10.5l-13.5,3.7z" stroke="#4151f8"/>
<path d="M1225.8,869.1l13.5,-4l10.3,-10.5l-13.5,4z" stroke="#4155fa"/>
<path d="M1239.3,865.1l13.5,-4.1l10.3,-10.6l-13.5,4.2z" stroke="#4159fb"/>
<path d="M1252.8,861l13.5,-4.3l10.4,-10.6l-13.6,4.3z" stroke="#405dfd"/>
<path d="M1266.3,856.7l13.6,-4.4l10.3,-10.6l-13.5,4.4z" stroke="#3f61fd"/>
<path d="M1279.9,852.3l13.5,-4.5l10.3,-10.6l-13.5,4.5z" stroke="#3d66fe"/>
<path d="M1293.4,847.8l13.5,-4.6l10.4,-10.6l-13.6,4.6z" stroke="#3b6aff"/>
<path d="M1306.9,843.2l13.6,-4.7l10.3,-10.6l-13.5,4.7z" stroke="#376ffe"/>
<path d="M1320.5,838.5l13.5,-4.6l10.3,-10.6l-13.5,4.6z" stroke="#3474fd"/>
<path d="M1334,833.9l13.5,-4.7l10.4,-10.6l-13.6,4.7z" stroke="#3079fc"/>
<path d="M1347.5,829.2l13.5,-4.6l10.4,-10.6l-13.5,4.6z" stroke="#2e7efa"/>
<path d="M1361,824.6l13.6,-4.6l10.3,-10.6l-13.5,4.6z" stroke="#2d83f8"/>
<path d="M552.5,773.9l13.6,4l10.3,-3.1l-13.5,-4z" stroke="#414af4"/>
<path d="M566,777.9l13.5,4l10.3,-3.1l-13.5,-4z" stroke="#4149f3"/>
<path d="M579.5,781.9l13.5,4.1l10.4,-3.1l-13.6,-4.1z" stroke="#4148f3"/>
<path d="M593,786l13.6,4.2l10.3,-3.2l-13.5,-4.1z" stroke="#4147f2"/>
<path d="M606.6,790.2l13.5,4.3l10.3,-3.3l-13.5,-4.2z" stroke="#4046f1"/>
<path d="M620.1,794.5l13.5,4.4l10.4,-3.4l-13.6,-4.3z" stroke="#4045f0"/>
<path d="M633.6,798.9l13.6,4.3l10.3,-3.4l-13.5,-4.3z" stroke="#4043ef"/>
<path d="M647.2,803.2l13.5,4.5l10.3,-3.6l-13.5,-4.3z" stroke="#4042ee"/>
<path d="M660.7,807.7l13.5,4.4l10.4,-3.6l-13.6,-4.4z" stroke="#4041ed"/>
<path d="M674.2,812.1l13.6,4.5l10.3,-3.8l-13.5,-4.3z" stroke="#3f3fec"/>
<path d="M687.8,816.6l13.5,4.4l10.3,-3.9l-13.5,-4.3z" stroke="#3f3eea"/>
<path d="M701.3,821l13.5,4.5l10.3,-4.1l-13.5,-4.3z" stroke="#3f3de9"/>
<path d="M714.8,825.5l13.5,4.4l10.4,-4.2l-13.6,-4.3z" stroke="#3f3ce8"/>
<path d="M728.3,829.9l13.6,4.4l10.3,-4.3l-13.5,-4.3z" stroke="#3e3ae6"/>
<path d="M741.9,834.3l13.5,4.4l10.3,-4.5l-13.5,-4.2z" stroke="#3e39e5"/>
<path d="M755.4,838.7l13.5,4.3l10.4,-4.6l-13.6,-4.2z" stroke="#3e38e4"/>
<path d="M768.9,843l13.6,4.3l10.3,-4.8l-13.5,-4.1z" stroke="#3e37e2"/>
<path d="M782.5,847.3l13.5,4.2l10.3,-4.9l-13.5,-4.1z" stroke="#3d36e1"/>
<path d="M796,851.5l13.5,4.1l10.3,-5l-13.5,-4z" stroke="#3d35df"/>
<path d="M809.5,855.6l13.5,4.1l10.4,-5.2l-13.6,-3.9z" stroke="#3d34de"/>
<path d="M823,859.7l13.6,4l10.3,-5.4l-13.5,-3.8z" stroke="#3d33dc"/>
<path d="M836.6,863.7l13.5,3.9l10.3,-5.6l-13.5,-3.7z" stroke="#3c32db"/>
<path d="M850.1,867.6l13.5,3.8l10.4,-5.8l-13.6,-3.6z" stroke="#3c31d9"/>
<path d="M863.6,871.4l13.6,3.7l10.3,-6l-13.5,-3.5z" stroke="#3c30d8"/>
<path d="M877.2,875.1l13.5,3.5l10.3,-6.2l-13.5,-3.3z" stroke="#3b30d7"/>
<path d="M890.7,878.6l13.5,3.4l10.4,-6.5l-13.6,-3.1z" stroke="#3b2fd6"/>
<path d="M904.2,882l13.6,3.2l10.3,-6.7l-13.5,-3z" stroke="#3b2fd5"/>
<path d="M917.8,885.2l13.5,3l10.3,-6.9l-13.5,-2.8z" stroke="#3b2ed4"/>
<path d="M931.3,888.2l13.5,2.8l10.4,-7.2l-13.6,-2.5z" stroke="#3b2ed3"/>
<path d="M944.8,891l13.6,2.6l10.3,-7.5l-13.5,-2.3z" stroke="#3b2ed3"/>
<path d="M958.4,893.6l13.5,2.2l10.3,-7.6l-13.5,-2.1z" stroke="#3b2ed3"/>
<path d="M971.9,895.8l13.5,2.1l10.3,-8l-13.5,-1.7z" stroke="#3b2ed3"/>
<path d="M985.4,897.9l13.5,1.7l10.4,-8.2l-13.6,-1.5z" stroke="#3b2ed3"/>
<path d="M998.9,899.6l13.6,1.4l10.3,-8.4l-13.5,-1.2z" stroke="#3b2fd4"/>
<path d="M1012.5,901l13.5,1.1l10.3,-8.6l-13.5,-0.9z" stroke="#3b2fd5"/>
<path d="M1026,902.1l13.5,0.8l10.4,-8.9l-13.6,-0.5z" stroke="#3b30d7"/>
<path d="M1039.5,902.9l13.6,0.3l10.3,-9l-13.5,-0.2z" stroke="#3c31d8"/>
<path d="M1053.1,903.2l13.5,0l10.3,-9.2l-13.5,0.2z" stroke="#3c32da"/>
<path d="M1066.6,903.2l13.5,-0.3l10.3,-9.5l-13.5,0.6z" stroke="#3d33dc"/>
<path d="M1080.1,902.9l13.5,-0.8l10.4,-9.6l-13.6,0.9z" stroke="#3d34df"/>
<path d="M1093.7,902.1l13.6,-1.1l10.3,-9.8l-13.5,1.3z" stroke="#3d36e1"/>
<path d="M1107.2,901l13.5,-1.5l10.3,-9.9l-13.5,1.6z" stroke="#3e38e4"/>
<path d="M1120.7,899.5l13.5,-1.9l10.4,-10l-13.6,2z" stroke="#3e3ae6"/>
<path d="M1134.2,897.6l13.6,-2.3l10.3,-10.1l-13.5,2.4z" stroke="#3f3de9"/>
<path d="M1147.8,895.3l13.5,-2.6l10.3,-10.2l-13.5,2.7z" stroke="#3f40ec"/>
<path d="M1161.3,892.7l13.5,-2.9l10.4,-10.2l-13.6,2.9z" stroke="#4042ee"/>
<path d="M1174.8,889.8l13.6,-3.2l10.3,-10.3l-13.5,3.3z" stroke="#4046f1"/>
<path d="M1188.4,886.6l13.5,-3.5l10.3,-10.3l-13.5,3.5z" stroke="#4149f3"/>
<path d="M1201.9,883.1l13.5,-3.7l10.4,-10.3l-13.6,3.7z" stroke="#414cf5"/>
<path d="M1215.4,879.4l13.6,-3.9l10.3,-10.4l-13.5,4z" stroke="#4150f8"/>
<path d="M1229,875.5l13.5,-4.1l10.3,-10.4l-13.5,4.1z" stroke="#4154f9"/>
<path d="M1242.5,871.4l13.5,-4.3l10.3,-10.4l-13.5,4.3z" stroke="#4158fb"/>
<path d="M1256,867.1l13.5,-4.5l10.4,-10.3l-13.6,4.4z" stroke="#405cfc"/>
<path d="M1269.5,862.6l13.6,-4.5l10.3,-10.3l-13.5,4.5z" stroke="#3f61fd"/>
<path d="M1283.1,858.1l13.5,-4.6l10.3,-10.3l-13.5,4.6z" stroke="#3e65fe"/>
<path d="M1296.6,853.5l13.5,-4.6l10.4,-10.4l-13.6,4.7z" stroke="#3b6aff"/>
<path d="M1310.1,848.9l13.6,-4.7l10.3,-10.3l-13.5,4.6z" stroke="#386ffe"/>
<path d="M1323.7,844.2l13.5,-4.7l10.3,-10.3l-13.5,4.7z" stroke="#3474fd"/>
<path d="M1337.2,839.5l13.5,-4.6l10.3,-10.3l-13.5,4.6z" stroke="#3079fc"/>
<path d="M1350.7,834.9l13.5,-4.6l10.4,-10.3l-13.6,4.6z" stroke="#2e7efa"/>
<path d="M542.1,777.2l13.5,4l10.4,-3.3l-13.6,-4z" stroke="#414af4"/>
<path d="M555.6,781.2l13.6,4l10.3,-3.3l-13.5,-4z" stroke="#4149f3"/>
<path d="M569.2,785.2l13.5,4.2l10.3,-3.4l-13.5,-4.1z" stroke="#4148f2"/>
<path d="M582.7,789.4l13.5,4.2l10.4,-3.4l-13.6,-4.2z" stroke="#4147f2"/>
<path d="M596.2,793.6l13.6,4.4l10.3,-3.5l-13.5,-4.3z" stroke="#4046f1"/>
<path d="M609.8,798l13.5,4.4l10.3,-3.5l-13.5,-4.4z" stroke="#4044f0"/>
<path d="M623.3,802.4l13.5,4.5l10.4,-3.7l-13.6,-4.3z" stroke="#4043ef"/>
<path d="M636.8,806.9l13.6,4.5l10.3,-3.7l-13.5,-4.5z" stroke="#4042ed"/>
<path d="M650.4,811.4l13.5,4.6l10.3,-3.9l-13.5,-4.4z" stroke="#4040ec"/>
<path d="M663.9,816l13.5,4.6l10.4,-4l-13.6,-4.5z" stroke="#3f3feb"/>
<path d="M677.4,820.6l13.6,4.5l10.3,-4.1l-13.5,-4.4z" stroke="#3f3eea"/>
<path d="M691,825.1l13.5,4.6l10.3,-4.2l-13.5,-4.5z" stroke="#3f3ce8"/>
<path d="M704.5,829.7l13.5,4.5l10.3,-4.3l-13.5,-4.4z" stroke="#3f3be7"/>
<path d="M718,834.2l13.5,4.5l10.4,-4.4l-13.6,-4.4z" stroke="#3e3ae6"/>
<path d="M731.5,838.7l13.6,4.5l10.3,-4.5l-13.5,-4.4z" stroke="#3e38e4"/>
<path d="M745.1,843.2l13.5,4.5l10.3,-4.7l-13.5,-4.3z" stroke="#3e37e2"/>
<path d="M758.6,847.7l13.5,4.4l10.4,-4.8l-13.6,-4.3z" stroke="#3d36e1"/>
<path d="M772.1,852.1l13.6,4.3l10.3,-4.9l-13.5,-4.2z" stroke="#3d35df"/>
<path d="M785.7,856.4l13.5,4.4l10.3,-5.2l-13.5,-4.1z" stroke="#3d34de"/>
<path d="M799.2,860.8l13.5,4.2l10.3,-5.3l-13.5,-4.1z" stroke="#3c32dc"/>
<path d="M812.7,865l13.5,4.2l10.4,-5.5l-13.6,-4z" stroke="#3c32da"/>
<path d="M826.2,869.2l13.6,4.1l10.3,-5.7l-13.5,-3.9z" stroke="#3c31d8"/>
<path d="M839.8,873.3l13.5,4l10.3,-5.9l-13.5,-3.8z" stroke="#3b30d7"/>
<path d="M853.3,877.3l13.5,3.8l10.4,-6l-13.6,-3.7z" stroke="#3b2fd5"/>
<path d="M866.8,881.1l13.6,3.8l10.3,-6.3l-13.5,-3.5z" stroke="#3b2ed4"/>
<path d="M880.4,884.9l13.5,3.6l10.3,-6.5l-13.5,-3.4z" stroke="#3b2ed2"/>
<path d="M893.9,888.5l13.5,3.4l10.4,-6.7l-13.6,-3.2z" stroke="#3a2dd1"/>
<path d="M907.4,891.9l13.6,3.2l10.3,-6.9l-13.5,-3z" stroke="#3a2dd0"/>
<path d="M921,895.1l13.5,3l10.3,-7.1l-13.5,-2.8z" stroke="#3a2ccf"/>
<path d="M934.5,898.1l13.5,2.8l10.4,-7.3l-13.6,-2.6z" stroke="#3a2cce"/>
<path d="M948,900.9l13.6,2.5l10.3,-7.6l-13.5,-2.2z" stroke="#3a2cce"/>
<path d="M961.5,903.4l13.5,2.3l10.3,-7.8l-13.5,-2.1z" stroke="#3a2cce"/>
<path d="M975.1,905.7l13.5,2l10.3,-8.1l-13.5,-1.7z" stroke="#3a2cce"/>
<path d="M988.6,907.7l13.5,1.6l10.4,-8.3l-13.6,-1.4z" stroke="#3a2cce"/>
<path d="M1002.1,909.3l13.6,1.4l10.3,-8.6l-13.5,-1.1z" stroke="#3a2dcf"/>
<path d="M1015.7,910.7l13.5,0.9l10.3,-8.7l-13.5,-0.8z" stroke="#3a2dd1"/>
<path d="M1029.2,911.6l13.5,0.6l10.4,-9l-13.6,-0.3z" stroke="#3b2ed2"/>
<path d="M1042.7,912.2l13.6,0.3l10.3,-9.3l-13.5,0z" stroke="#3b2fd4"/>
<path d="M1056.3,912.5l13.5,-0.2l10.3,-9.4l-13.5,0.3z" stroke="#3b30d6"/>
<path d="M1069.8,912.3l13.5,-0.6l10.3,-9.6l-13.5,0.8z" stroke="#3c31d9"/>
<path d="M1083.3,911.7l13.6,-1l10.3,-9.7l-13.6,1.1z" stroke="#3c32dc"/>
<path d="M1096.9,910.7l13.5,-1.4l10.3,-9.8l-13.5,1.5z" stroke="#3d34df"/>
<path d="M1110.4,909.3l13.5,-1.8l10.3,-9.9l-13.5,1.9z" stroke="#3e36e1"/>
<path d="M1123.9,907.5l13.5,-2.2l10.4,-10l-13.6,2.3z" stroke="#3e39e5"/>
<path d="M1137.4,905.3l13.6,-2.5l10.3,-10.1l-13.5,2.6z" stroke="#3f3be7"/>
<path d="M1151,902.8l13.5,-2.9l10.3,-10.1l-13.5,2.9z" stroke="#3f3eea"/>
<path d="M1164.5,899.9l13.5,-3.2l10.4,-10.1l-13.6,3.2z" stroke="#4041ed"/>
<path d="M1178,896.7l13.6,-3.4l10.3,-10.2l-13.5,3.5z" stroke="#4045f0"/>
<path d="M1191.6,893.3l13.5,-3.7l10.3,-10.2l-13.5,3.7z" stroke="#4148f2"/>
<path d="M1205.1,889.6l13.5,-3.9l10.4,-10.2l-13.6,3.9z" stroke="#414cf5"/>
<path d="M1218.6,885.7l13.6,-4.2l10.3,-10.1l-13.5,4.1z" stroke="#414ff7"/>
<path d="M1232.2,881.5l13.5,-4.3l10.3,-10.1l-13.5,4.3z" stroke="#4153f9"/>
<path d="M1245.7,877.2l13.5,-4.4l10.3,-10.2l-13.5,4.5z" stroke="#4157fb"/>
<path d="M1259.2,872.8l13.5,-4.6l10.4,-10.1l-13.6,4.5z" stroke="#405cfc"/>
<path d="M1272.7,868.2l13.6,-4.6l10.3,-10.1l-13.5,4.6z" stroke="#3f60fd"/>
<path d="M1286.3,863.6l13.5,-4.7l10.3,-10l-13.5,4.6z" stroke="#3e65fe"/>
<path d="M1299.8,858.9l13.5,-4.7l10.4,-10l-13.6,4.7z" stroke="#3c6aff"/>
<path d="M1313.3,854.2l13.6,-4.7l10.3,-10l-13.5,4.7z" stroke="#386ffe"/>
<path d="M1326.9,849.5l13.5,-4.6l10.3,-10l-13.5,4.6z" stroke="#3474fe"/>
<path d="M1340.4,844.9l13.5,-4.6l10.3,-10l-13.5,4.6z" stroke="#3179fc"/>
<path d="M531.8,780.8l13.5,3.9l10.3,-3.5l-13.5,-4z" stroke="#414af4"/>
<path d="M545.3,784.7l13.5,4.1l10.4,-3.6l-13.6,-4z" stroke="#4149f3"/>
<path d="M558.9,788.8l13.6,4.2l10.3,-3.6l-13.5,-4.2z" stroke="#4148f2"/>
<path d="M572.4,793l13.5,4.4l10.3,-3.8l-13.5,-4.2z" stroke="#4046f1"/>
<path d="M585.9,797.4l13.5,4.4l10.4,-3.8l-13.6,-4.4z" stroke="#4045f0"/>
<path d="M599.4,801.8l13.6,4.5l10.3,-3.9l-13.5,-4.4z" stroke="#4044ef"/>
<path d="M613,806.3l13.5,4.6l10.3,-4l-13.5,-4.5z" stroke="#4042ee"/>
<path d="M626.5,810.9l13.5,4.6l10.4,-4.1l-13.6,-4.5z" stroke="#4041ed"/>
<path d="M640,815.5l13.6,4.7l10.3,-4.2l-13.5,-4.6z" stroke="#3f40ec"/>
<path d="M653.6,820.2l13.5,4.6l10.3,-4.2l-13.5,-4.6z" stroke="#3f3eea"/>
<path d="M667.1,824.8l13.5,4.7l10.4,-4.4l-13.6,-4.5z" stroke="#3f3de9"/>
<path d="M680.6,829.5l13.6,4.7l10.3,-4.5l-13.5,-4.6z" stroke="#3f3be7"/>
<path d="M694.2,834.2l13.5,4.6l10.3,-4.6l-13.5,-4.5z" stroke="#3e3ae6"/>
<path d="M707.7,838.8l13.5,4.6l10.3,-4.7l-13.5,-4.5z" stroke="#3e39e4"/>
<path d="M721.2,843.4l13.5,4.6l10.4,-4.8l-13.6,-4.5z" stroke="#3e37e3"/>
<path d="M734.7,848l13.6,4.5l10.3,-4.8l-13.5,-4.5z" stroke="#3d36e1"/>
<path d="M748.3,852.5l13.5,4.5l10.3,-4.9l-13.5,-4.4z" stroke="#3d35df"/>
<path d="M761.8,857l13.5,4.5l10.4,-5.1l-13.6,-4.3z" stroke="#3d34de"/>
<path d="M775.3,861.5l13.6,4.4l10.3,-5.1l-13.5,-4.4z" stroke="#3c32dc"/>
<path d="M788.9,865.9l13.5,4.4l10.3,-5.3l-13.5,-4.2z" stroke="#3c31da"/>
<path d="M802.4,870.3l13.5,4.3l10.3,-5.4l-13.5,-4.2z" stroke="#3c30d8"/>
<path d="M815.9,874.6l13.5,4.3l10.4,-5.6l-13.6,-4.1z" stroke="#3b2fd6"/>
<path d="M829.4,878.9l13.6,4.1l10.3,-5.7l-13.5,-4z" stroke="#3b2ed4"/>
<path d="M843,883l13.5,4.1l10.3,-6l-13.5,-3.8z" stroke="#3b2ed2"/>
<path d="M856.5,887.1l13.5,3.9l10.4,-6.1l-13.6,-3.8z" stroke="#3a2dd0"/>
<path d="M870,891l13.6,3.8l10.3,-6.3l-13.5,-3.6z" stroke="#3a2cce"/>
<path d="M883.6,894.8l13.5,3.7l10.3,-6.6l-13.5,-3.4z" stroke="#3a2ccd"/>
<path d="M897.1,898.5l13.5,3.4l10.4,-6.8l-13.6,-3.2z" stroke="#392bcc"/>
<path d="M910.6,901.9l13.6,3.2l10.3,-7l-13.5,-3z" stroke="#392bca"/>
<path d="M924.2,905.1l13.5,3l10.3,-7.2l-13.5,-2.8z" stroke="#392ac9"/>
<path d="M937.7,908.1l13.5,2.8l10.4,-7.5l-13.6,-2.5z" stroke="#392ac9"/>
<path d="M951.2,910.9l13.5,2.5l10.4,-7.7l-13.5,-2.3z" stroke="#392ac8"/>
<path d="M964.7,913.4l13.6,2.2l10.3,-7.9l-13.5,-2z" stroke="#392ac8"/>
<path d="M978.3,915.6l13.5,1.9l10.3,-8.2l-13.5,-1.6z" stroke="#392ac9"/>
<path d="M991.8,917.5l13.5,1.6l10.4,-8.4l-13.6,-1.4z" stroke="#392ac9"/>
<path d="M1005.3,919.1l13.6,1.2l10.3,-8.7l-13.5,-0.9z" stroke="#392bca"/>
<path d="M1018.9,920.3l13.5,0.8l10.3,-8.9l-13.5,-0.6z" stroke="#392bcc"/>
<path d="M1032.4,921.1l13.5,0.5l10.4,-9.1l-13.6,-0.3z" stroke="#3a2cce"/>
<path d="M1045.9,921.6l13.6,0l10.3,-9.3l-13.5,0.2z" stroke="#3a2dd0"/>
<path d="M1059.5,921.6l13.5,-0.4l10.3,-9.5l-13.5,0.6z" stroke="#3b2ed3"/>
<path d="M1073,921.2l13.5,-0.9l10.4,-9.6l-13.6,1z" stroke="#3b2fd6"/>
<path d="M1086.5,920.3l13.6,-1.3l10.3,-9.7l-13.5,1.4z" stroke="#3c31d9"/>
<path d="M1100.1,919l13.5,-1.7l10.3,-9.8l-13.5,1.8z" stroke="#3c33dc"/>
<path d="M1113.6,917.3l13.5,-2.1l10.3,-9.9l-13.5,2.2z" stroke="#3d35df"/>
<path d="M1127.1,915.2l13.5,-2.5l10.4,-9.9l-13.6,2.5z" stroke="#3e37e3"/>
<path d="M1140.6,912.7l13.6,-2.8l10.3,-10l-13.5,2.9z" stroke="#3e3ae6"/>
<path d="M1154.2,909.9l13.5,-3.2l10.3,-10l-13.5,3.2z" stroke="#3f3de9"/>
<path d="M1167.7,906.7l13.5,-3.4l10.4,-10l-13.6,3.4z" stroke="#4040ec"/>
<path d="M1181.2,903.3l13.6,-3.7l10.3,-10l-13.5,3.7z" stroke="#4044ef"/>
<path d="M1194.8,899.6l13.5,-4l10.3,-9.9l-13.5,3.9z" stroke="#4147f2"/>
<path d="M1208.3,895.6l13.5,-4.1l10.4,-10l-13.6,4.2z" stroke="#414bf5"/>
<path d="M1221.8,891.5l13.6,-4.3l10.3,-10l-13.5,4.3z" stroke="#414ff7"/>
<path d="M1235.4,887.2l13.5,-4.5l10.3,-9.9l-13.5,4.4z" stroke="#4153f9"/>
<path d="M1248.9,882.7l13.5,-4.6l10.3,-9.9l-13.5,4.6z" stroke="#4157fb"/>
<path d="M1262.4,878.1l13.5,-4.7l10.4,-9.8l-13.6,4.6z" stroke="#405cfc"/>
<path d="M1275.9,873.4l13.6,-4.7l10.3,-9.8l-13.5,4.7z" stroke="#3f60fd"/>
<path d="M1289.5,868.7l13.5,-4.7l10.3,-9.8l-13.5,4.7z" stroke="#3e65fe"/>
<path d="M1303,864l13.5,-4.7l10.4,-9.8l-13.6,4.7z" stroke="#3c69ff"/>
<path d="M1316.5,859.3l13.6,-4.7l10.3,-9.7l-13.5,4.6z" stroke="#386efe"/>
<path d="M1330.1,854.6l13.5,-4.7l10.3,-9.6l-13.5,4.6z" stroke="#3473fe"/>
<path d="M521.5,784.7l13.5,4l10.3,-4l-13.5,-3.9z" stroke="#4149f3"/>
<path d="M535,788.7l13.5,4.1l10.3,-4l-13.5,-4.1z" stroke="#4148f3"/>
<path d="M548.5,792.8l13.5,4.3l10.4,-4.1l-13.6,-4.2z" stroke="#4147f2"/>
<path d="M562,797.1l13.6,4.4l10.3,-4.1l-13.5,-4.4z" stroke="#4046f1"/>
<path d="M575.6,801.5l13.5,4.6l10.3,-4.3l-13.5,-4.4z" stroke="#4044f0"/>
<path d="M589.1,806.1l13.5,4.6l10.4,-4.4l-13.6,-4.5z" stroke="#4043ef"/>
<path d="M602.6,810.7l13.6,4.7l10.3,-4.5l-13.5,-4.6z" stroke="#4042ed"/>
<path d="M616.2,815.4l13.5,4.7l10.3,-4.6l-13.5,-4.6z" stroke="#4040ec"/>
<path d="M629.7,820.1l13.5,4.7l10.4,-4.6l-13.6,-4.7z" stroke="#3f3feb"/>
<path d="M643.2,824.8l13.6,4.7l10.3,-4.7l-13.5,-4.6z" stroke="#3f3de9"/>
<path d="M656.8,829.5l13.5,4.8l10.3,-4.8l-13.5,-4.7z" stroke="#3f3ce8"/>
<path d="M670.3,834.3l13.5,4.7l10.4,-4.8l-13.6,-4.7z" stroke="#3e3ae6"/>
<path d="M683.8,839l13.6,4.7l10.3,-4.9l-13.5,-4.6z" stroke="#3e39e5"/>
<path d="M697.4,843.7l13.5,4.6l10.3,-4.9l-13.5,-4.6z" stroke="#3e38e3"/>
<path d="M710.9,848.3l13.5,4.7l10.3,-5l-13.5,-4.6z" stroke="#3d36e1"/>
<path d="M724.4,853l13.5,4.6l10.4,-5.1l-13.6,-4.5z" stroke="#3d35df"/>
<path d="M737.9,857.6l13.6,4.6l10.3,-5.2l-13.5,-4.5z" stroke="#3d34de"/>
<path d="M751.5,862.2l13.5,4.5l10.3,-5.2l-13.5,-4.5z" stroke="#3c32dc"/>
<path d="M765,866.7l13.5,4.5l10.4,-5.3l-13.6,-4.4z" stroke="#3c31d9"/>
<path d="M778.5,871.2l13.6,4.5l10.3,-5.4l-13.5,-4.4z" stroke="#3c30d7"/>
<path d="M792.1,875.7l13.5,4.4l10.3,-5.5l-13.5,-4.3z" stroke="#3b2fd5"/>
<path d="M805.6,880.1l13.5,4.4l10.3,-5.6l-13.5,-4.3z" stroke="#3b2ed3"/>
<path d="M819.1,884.5l13.5,4.3l10.4,-5.8l-13.6,-4.1z" stroke="#3a2dd1"/>
<path d="M832.7,888.8l13.6,4.2l10.3,-5.9l-13.5,-4.1z" stroke="#3a2ccf"/>
<path d="M846.2,893l13.5,4.1l10.3,-6.1l-13.5,-3.9z" stroke="#3a2ccd"/>
<path d="M859.7,897.1l13.5,4l10.4,-6.3l-13.6,-3.8z" stroke="#392bcb"/>
<path d="M873.2,901.1l13.6,3.8l10.3,-6.4l-13.5,-3.7z" stroke="#392ac9"/>
<path d="M886.8,904.9l13.5,3.7l10.3,-6.7l-13.5,-3.4z" stroke="#392ac7"/>
<path d="M900.3,908.6l13.5,3.4l10.4,-6.9l-13.6,-3.2z" stroke="#3829c6"/>
<path d="M913.8,912l13.6,3.2l10.3,-7.1l-13.5,-3z" stroke="#3829c5"/>
<path d="M927.4,915.2l13.5,3l10.3,-7.3l-13.5,-2.8z" stroke="#3828c4"/>
<path d="M940.9,918.2l13.5,2.7l10.3,-7.5l-13.5,-2.5z" stroke="#3828c3"/>
<path d="M954.4,920.9l13.6,2.4l10.3,-7.7l-13.6,-2.2z" stroke="#3828c3"/>
<path d="M968,923.3l13.5,2.2l10.3,-8l-13.5,-1.9z" stroke="#3828c3"/>
<path d="M981.5,925.5l13.5,1.8l10.3,-8.2l-13.5,-1.6z" stroke="#3828c3"/>
<path d="M995,927.3l13.5,1.4l10.4,-8.4l-13.6,-1.2z" stroke="#3828c4"/>
<path d="M1008.5,928.7l13.6,1.1l10.3,-8.7l-13.5,-0.8z" stroke="#3829c5"/>
<path d="M1022.1,929.8l13.5,0.7l10.3,-8.9l-13.5,-0.5z" stroke="#3929c7"/>
<path d="M1035.6,930.5l13.5,0.2l10.4,-9.1l-13.6,0z" stroke="#392ac9"/>
<path d="M1049.1,930.7l13.6,-0.2l10.3,-9.3l-13.5,0.4z" stroke="#392bcc"/>
<path d="M1062.7,930.5l13.5,-0.8l10.3,-9.4l-13.5,0.9z" stroke="#3a2ccf"/>
<path d="M1076.2,929.7l13.5,-1.2l10.4,-9.5l-13.6,1.3z" stroke="#3b2ed2"/>
<path d="M1089.7,928.5l13.6,-1.6l10.3,-9.6l-13.5,1.7z" stroke="#3b2fd6"/>
<path d="M1103.3,926.9l13.5,-2.1l10.3,-9.6l-13.5,2.1z" stroke="#3c31da"/>
<path d="M1116.8,924.8l13.5,-2.5l10.3,-9.6l-13.5,2.5z" stroke="#3d34de"/>
<path d="M1130.3,922.3l13.5,-2.8l10.4,-9.6l-13.6,2.8z" stroke="#3d36e1"/>
<path d="M1143.8,919.5l13.6,-3.1l10.3,-9.7l-13.5,3.2z" stroke="#3e39e5"/>
<path d="M1157.4,916.4l13.5,-3.4l10.3,-9.7l-13.5,3.4z" stroke="#3f3ce8"/>
<path d="M1170.9,913l13.5,-3.7l10.4,-9.7l-13.6,3.7z" stroke="#3f40ec"/>
<path d="M1184.4,909.3l13.6,-4l10.3,-9.7l-13.5,4z" stroke="#4043ef"/>
<path d="M1198,905.3l13.5,-4.1l10.3,-9.7l-13.5,4.1z" stroke="#4147f2"/>
<path d="M1211.5,901.2l13.5,-4.4l10.4,-9.6l-13.6,4.3z" stroke="#414bf4"/>
<path d="M1225,896.8l13.6,-4.4l10.3,-9.7l-13.5,4.5z" stroke="#414ff7"/>
<path d="M1238.6,892.4l13.5,-4.7l10.3,-9.6l-13.5,4.6z" stroke="#4153f9"/>
<path d="M1252.1,887.7l13.5,-4.7l10.3,-9.6l-13.5,4.7z" stroke="#4157fb"/>
<path d="M1265.6,883l13.5,-4.7l10.4,-9.6l-13.6,4.7z" stroke="#405cfc"/>
<path d="M1279.1,878.3l13.6,-4.8l10.3,-9.5l-13.5,4.7z" stroke="#3f60fd"/>
<path d="M1292.7,873.5l13.5,-4.8l10.3,-9.4l-13.5,4.7z" stroke="#3e65fe"/>
<path d="M1306.2,868.7l13.5,-4.7l10.4,-9.4l-13.6,4.7z" stroke="#3b6aff"/>
<path d="M1319.7,864l13.6,-4.6l10.3,-9.5l-13.5,4.7z" stroke="#386ffe"/>
<path d="M511.1,789.2l13.6,4l10.3,-4.5l-13.5,-4z" stroke="#4149f3"/>
<path d="M524.7,793.2l13.5,4.2l10.3,-4.6l-13.5,-4.1z" stroke="#4147f2"/>
<path d="M538.2,797.4l13.5,4.4l10.3,-4.7l-13.5,-4.3z" stroke="#4046f1"/>
<path d="M551.7,801.8l13.5,4.5l10.4,-4.8l-13.6,-4.4z" stroke="#4045f0"/>
<path d="M565.2,806.3l13.6,4.6l10.3,-4.8l-13.5,-4.6z" stroke="#4043ef"/>
<path d="M578.8,810.9l13.5,4.7l10.3,-4.9l-13.5,-4.6z" stroke="#4042ee"/>
<path d="M592.3,815.6l13.5,4.8l10.4,-5l-13.6,-4.7z" stroke="#4041ed"/>
<path d="M605.8,820.4l13.6,4.7l10.3,-5l-13.5,-4.7z" stroke="#3f3feb"/>
<path d="M619.4,825.1l13.5,4.8l10.3,-5.1l-13.5,-4.7z" stroke="#3f3eea"/>
<path d="M632.9,829.9l13.5,4.8l10.4,-5.2l-13.6,-4.7z" stroke="#3f3ce8"/>
<path d="M646.4,834.7l13.6,4.8l10.3,-5.2l-13.5,-4.8z" stroke="#3f3be7"/>
<path d="M660,839.5l13.5,4.7l10.3,-5.2l-13.5,-4.7z" stroke="#3e39e5"/>
<path d="M673.5,844.2l13.5,4.7l10.4,-5.2l-13.6,-4.7z" stroke="#3e38e3"/>
<path d="M687,848.9l13.6,4.7l10.3,-5.3l-13.5,-4.6z" stroke="#3e36e1"/>
<path d="M700.5,853.6l13.5,4.7l10.3,-5.3l-13.5,-4.7z" stroke="#3d35e0"/>
<path d="M714.1,858.3l13.5,4.6l10.3,-5.3l-13.5,-4.6z" stroke="#3d34de"/>
<path d="M727.6,862.9l13.5,4.6l10.4,-5.3l-13.6,-4.6z" stroke="#3c32dc"/>
<path d="M741.1,867.5l13.6,4.6l10.3,-5.4l-13.5,-4.5z" stroke="#3c31d9"/>
<path d="M754.7,872.1l13.5,4.5l10.3,-5.4l-13.5,-4.5z" stroke="#3c30d7"/>
<path d="M768.2,876.6l13.5,4.6l10.4,-5.5l-13.6,-4.5z" stroke="#3b2fd5"/>
<path d="M781.7,881.2l13.6,4.5l10.3,-5.6l-13.5,-4.4z" stroke="#3b2ed3"/>
<path d="M795.3,885.7l13.5,4.5l10.3,-5.7l-13.5,-4.4z" stroke="#3a2dd0"/>
<path d="M808.8,890.2l13.5,4.4l10.3,-5.8l-13.5,-4.3z" stroke="#3a2cce"/>
<path d="M822.3,894.6l13.5,4.4l10.4,-6l-13.6,-4.2z" stroke="#392bcc"/>
<path d="M835.9,899l13.6,4.2l10.3,-6.1l-13.5,-4.1z" stroke="#392ac9"/>
<path d="M849.4,903.2l13.5,4.1l10.3,-6.2l-13.5,-4z" stroke="#3929c7"/>
<path d="M862.9,907.3l13.5,4l10.4,-6.4l-13.6,-3.8z" stroke="#3829c5"/>
<path d="M876.4,911.3l13.6,3.7l10.3,-6.4l-13.5,-3.7z" stroke="#3828c3"/>
<path d="M890,915l13.5,3.6l10.3,-6.6l-13.5,-3.4z" stroke="#3828c2"/>
<path d="M903.5,918.6l13.5,3.4l10.4,-6.8l-13.6,-3.2z" stroke="#3727c0"/>
<path d="M917,922l13.6,3.1l10.3,-6.9l-13.5,-3z" stroke="#3727bf"/>
<path d="M930.6,925.1l13.5,2.9l10.3,-7.1l-13.5,-2.7z" stroke="#3726be"/>
<path d="M944.1,928l13.5,2.7l10.4,-7.4l-13.6,-2.4z" stroke="#3726be"/>
<path d="M957.6,930.7l13.6,2.3l10.3,-7.5l-13.5,-2.2z" stroke="#3726bd"/>
<path d="M971.1,933l13.5,2.1l10.3,-7.8l-13.5,-1.8z" stroke="#3726be"/>
<path d="M984.7,935.1l13.5,1.7l10.3,-8.1l-13.5,-1.4z" stroke="#3726be"/>
<path d="M998.2,936.8l13.5,1.3l10.4,-8.3l-13.6,-1.1z" stroke="#3727bf"/>
<path d="M1011.7,938.1l13.6,0.9l10.3,-8.5l-13.5,-0.7z" stroke="#3727c0"/>
<path d="M1025.3,939l13.5,0.4l10.3,-8.7l-13.5,-0.2z" stroke="#3828c2"/>
<path d="M1038.8,939.4l13.5,0l10.4,-8.9l-13.6,0.2z" stroke="#3829c5"/>
<path d="M1052.3,939.4l13.6,-0.6l10.3,-9.1l-13.5,0.8z" stroke="#392ac8"/>
<path d="M1065.9,938.8l13.5,-1.2l10.3,-9.1l-13.5,1.2z" stroke="#392bcb"/>
<path d="M1079.4,937.6l13.5,-1.6l10.4,-9.1l-13.6,1.6z" stroke="#3a2ccf"/>
<path d="M1092.9,936l13.5,-2l10.4,-9.2l-13.5,2.1z" stroke="#3b2ed3"/>
<path d="M1106.4,934l13.6,-2.4l10.3,-9.3l-13.5,2.5z" stroke="#3c30d8"/>
<path d="M1120,931.6l13.5,-2.8l10.3,-9.3l-13.5,2.8z" stroke="#3c33dc"/>
<path d="M1133.5,928.8l13.5,-3.1l10.4,-9.3l-13.6,3.1z" stroke="#3d35e0"/>
<path d="M1147,925.7l13.6,-3.4l10.3,-9.3l-13.5,3.4z" stroke="#3e38e4"/>
<path d="M1160.6,922.3l13.5,-3.6l10.3,-9.4l-13.5,3.7z" stroke="#3f3ce8"/>
<path d="M1174.1,918.7l13.5,-3.9l10.4,-9.5l-13.6,4z" stroke="#3f3feb"/>
<path d="M1187.6,914.8l13.6,-4.2l10.3,-9.4l-13.5,4.1z" stroke="#4043ef"/>
<path d="M1201.2,910.6l13.5,-4.3l10.3,-9.5l-13.5,4.4z" stroke="#4147f2"/>
<path d="M1214.7,906.3l13.5,-4.5l10.4,-9.4l-13.6,4.4z" stroke="#414bf4"/>
<path d="M1228.2,901.8l13.6,-4.6l10.3,-9.5l-13.5,4.7z" stroke="#414ff7"/>
<path d="M1241.8,897.2l13.5,-4.8l10.3,-9.4l-13.5,4.7z" stroke="#4153f9"/>
<path d="M1255.3,892.4l13.5,-4.8l10.3,-9.3l-13.5,4.7z" stroke="#4157fb"/>
<path d="M1268.8,887.6l13.5,-4.8l10.4,-9.3l-13.6,4.8z" stroke="#405cfc"/>
<path d="M1282.3,882.8l13.6,-4.8l10.3,-9.3l-13.5,4.8z" stroke="#3f60fd"/>
<path d="M1295.9,878l13.5,-4.8l10.3,-9.2l-13.5,4.7z" stroke="#3e65fe"/>
<path d="M1309.4,873.2l13.5,-4.6l10.4,-9.2l-13.6,4.6z" stroke="#3b6aff"/>
<path d="M500.8,794.6l13.5,4.1l10.4,-5.5l-13.6,-4z" stroke="#4147f2"/>
<path d="M514.3,798.7l13.6,4.2l10.3,-5.5l-13.5,-4.2z" stroke="#4046f1"/>
<path d="M527.9,802.9l13.5,4.5l10.3,-5.6l-13.5,-4.4z" stroke="#4045f0"/>
<path d="M541.4,807.4l13.5,4.5l10.3,-5.6l-13.5,-4.5z" stroke="#4044ef"/>
<path d="M554.9,811.9l13.5,4.7l10.4,-5.7l-13.6,-4.6z" stroke="#4042ee"/>
<path d="M568.5,816.6l13.6,4.7l10.3,-5.7l-13.5,-4.7z" stroke="#4041ed"/>
<path d="M582,821.3l13.5,4.7l10.3,-5.6l-13.5,-4.8z" stroke="#3f3feb"/>
<path d="M595.5,826l13.5,4.8l10.4,-5.7l-13.6,-4.7z" stroke="#3f3eea"/>
<path d="M609,830.8l13.6,4.8l10.3,-5.7l-13.5,-4.8z" stroke="#3f3ce8"/>
<path d="M622.6,835.6l13.5,4.8l10.3,-5.7l-13.5,-4.8z" stroke="#3f3be7"/>
<path d="M636.1,840.4l13.5,4.7l10.4,-5.6l-13.6,-4.8z" stroke="#3e39e5"/>
<path d="M649.6,845.1l13.6,4.8l10.3,-5.7l-13.5,-4.7z" stroke="#3e38e3"/>
<path d="M663.2,849.9l13.5,4.7l10.3,-5.7l-13.5,-4.7z" stroke="#3d36e1"/>
<path d="M676.7,854.6l13.5,4.7l10.4,-5.7l-13.6,-4.7z" stroke="#3d35e0"/>
<path d="M690.2,859.3l13.6,4.7l10.3,-5.7l-13.5,-4.7z" stroke="#3d34de"/>
<path d="M703.8,864l13.5,4.6l10.3,-5.7l-13.5,-4.6z" stroke="#3c32db"/>
<path d="M717.3,868.6l13.5,4.6l10.3,-5.7l-13.5,-4.6z" stroke="#3c31d9"/>
<path d="M730.8,873.2l13.5,4.6l10.4,-5.7l-13.6,-4.6z" stroke="#3c30d7"/>
<path d="M744.3,877.8l13.6,4.5l10.3,-5.7l-13.5,-4.5z" stroke="#3b2fd5"/>
<path d="M757.9,882.3l13.5,4.5l10.3,-5.6l-13.5,-4.6z" stroke="#3b2ed2"/>
<path d="M771.4,886.8l13.5,4.6l10.4,-5.7l-13.6,-4.5z" stroke="#3a2dd0"/>
<path d="M784.9,891.4l13.6,4.6l10.3,-5.8l-13.5,-4.5z" stroke="#3a2ccd"/>
<path d="M798.5,896l13.5,4.5l10.3,-5.9l-13.5,-4.4z" stroke="#392bcb"/>
<path d="M812,900.5l13.5,4.4l10.3,-5.9l-13.5,-4.4z" stroke="#392ac8"/>
<path d="M825.5,904.9l13.5,4.4l10.4,-6.1l-13.6,-4.2z" stroke="#3829c6"/>
<path d="M839.1,909.3l13.6,4.1l10.3,-6.1l-13.5,-4.1z" stroke="#3828c3"/>
<path d="M852.6,913.4l13.5,4.1l10.3,-6.2l-13.5,-4z" stroke="#3727c1"/>
<path d="M866.1,917.5l13.5,3.8l10.4,-6.3l-13.6,-3.7z" stroke="#3727bf"/>
<path d="M879.6,921.3l13.6,3.7l10.3,-6.4l-13.5,-3.6z" stroke="#3726bd"/>
<path d="M893.2,925l13.5,3.5l10.3,-6.5l-13.5,-3.4z" stroke="#3626bc"/>
<path d="M906.7,928.5l13.5,3.3l10.4,-6.7l-13.6,-3.1z" stroke="#3625bb"/>
<path d="M920.2,931.8l13.6,3l10.3,-6.8l-13.5,-2.9z" stroke="#3625ba"/>
<path d="M933.8,934.8l13.5,2.7l10.3,-6.8l-13.5,-2.7z" stroke="#3624b9"/>
<path d="M947.3,937.5l13.5,2.5l10.4,-7l-13.6,-2.3z" stroke="#3624b8"/>
<path d="M960.8,940l13.6,2.2l10.3,-7.1l-13.5,-2.1z" stroke="#3624b8"/>
<path d="M974.4,942.2l13.5,1.9l10.3,-7.3l-13.5,-1.7z" stroke="#3624b9"/>
<path d="M987.9,944.1l13.5,1.5l10.3,-7.5l-13.5,-1.3z" stroke="#3625b9"/>
<path d="M1001.4,945.6l13.5,1.2l10.4,-7.8l-13.6,-0.9z" stroke="#3625ba"/>
<path d="M1014.9,946.8l13.6,0.6l10.3,-8l-13.5,-0.4z" stroke="#3626bc"/>
<path d="M1028.5,947.4l13.5,0.2l10.3,-8.2l-13.5,0z" stroke="#3726be"/>
<path d="M1042,947.6l13.5,-0.5l10.4,-8.3l-13.6,0.6z" stroke="#3727c1"/>
<path d="M1055.5,947.1l13.6,-1.1l10.3,-8.4l-13.5,1.2z" stroke="#3829c4"/>
<path d="M1069.1,946l13.5,-1.5l10.3,-8.5l-13.5,1.6z" stroke="#392ac9"/>
<path d="M1082.6,944.5l13.5,-1.9l10.3,-8.6l-13.5,2z" stroke="#3a2ccd"/>
<path d="M1096.1,942.6l13.5,-2.3l10.4,-8.7l-13.6,2.4z" stroke="#3b2ed2"/>
<path d="M1109.6,940.3l13.6,-2.7l10.3,-8.8l-13.5,2.8z" stroke="#3b30d6"/>
<path d="M1123.2,937.6l13.5,-3l10.3,-8.9l-13.5,3.1z" stroke="#3c32db"/>
<path d="M1136.7,934.6l13.5,-3.3l10.4,-9l-13.6,3.4z" stroke="#3d35e0"/>
<path d="M1150.2,931.3l13.6,-3.6l10.3,-9l-13.5,3.6z" stroke="#3e38e4"/>
<path d="M1163.8,927.7l13.5,-3.8l10.3,-9.1l-13.5,3.9z" stroke="#3f3ce8"/>
<path d="M1177.3,923.9l13.5,-4.1l10.4,-9.2l-13.6,4.2z" stroke="#3f3feb"/>
<path d="M1190.8,919.8l13.6,-4.3l10.3,-9.2l-13.5,4.3z" stroke="#4043ef"/>
<path d="M1204.4,915.5l13.5,-4.5l10.3,-9.2l-13.5,4.5z" stroke="#4147f2"/>
<path d="M1217.9,911l13.5,-4.6l10.4,-9.2l-13.6,4.6z" stroke="#414bf4"/>
<path d="M1231.4,906.4l13.6,-4.7l10.3,-9.3l-13.5,4.8z" stroke="#414ff7"/>
<path d="M1245,901.7l13.5,-4.8l10.3,-9.3l-13.5,4.8z" stroke="#4153f9"/>
<path d="M1258.5,896.9l13.5,-4.8l10.3,-9.3l-13.5,4.8z" stroke="#4158fb"/>
<path d="M1272,892.1l13.5,-4.9l10.4,-9.2l-13.6,4.8z" stroke="#405cfc"/>
<path d="M1285.5,887.2l13.6,-4.8l10.3,-9.2l-13.5,4.8z" stroke="#3f61fd"/>
<path d="M1299.1,882.4l13.5,-4.6l10.3,-9.2l-13.5,4.6z" stroke="#3d66fe"/>
<path d="M490.5,801.6l13.5,3.9l10.3,-6.8l-13.5,-4.1z" stroke="#4045f1"/>
<path d="M504,805.5l13.5,4.2l10.4,-6.8l-13.6,-4.2z" stroke="#4044f0"/>
<path d="M517.5,809.7l13.6,4.3l10.3,-6.6l-13.5,-4.5z" stroke="#4043ef"/>
<path d="M531.1,814l13.5,4.5l10.3,-6.6l-13.5,-4.5z" stroke="#4042ed"/>
<path d="M544.6,818.5l13.5,4.6l10.3,-6.5l-13.5,-4.7z" stroke="#4040ec"/>
<path d="M558.1,823.1l13.5,4.6l10.4,-6.4l-13.6,-4.7z" stroke="#3f3feb"/>
<path d="M571.6,827.7l13.6,4.7l10.3,-6.4l-13.5,-4.7z" stroke="#3f3de9"/>
<path d="M585.2,832.4l13.5,4.7l10.3,-6.3l-13.5,-4.8z" stroke="#3f3ce8"/>
<path d="M598.7,837.1l13.5,4.8l10.4,-6.3l-13.6,-4.8z" stroke="#3e3ae6"/>
<path d="M612.2,841.9l13.6,4.7l10.3,-6.2l-13.5,-4.8z" stroke="#3e39e5"/>
<path d="M625.8,846.6l13.5,4.7l10.3,-6.2l-13.5,-4.7z" stroke="#3e37e3"/>
<path d="M639.3,851.3l13.5,4.7l10.4,-6.1l-13.6,-4.8z" stroke="#3d36e1"/>
<path d="M652.8,856l13.6,4.7l10.3,-6.1l-13.5,-4.7z" stroke="#3d35df"/>
<path d="M666.4,860.7l13.5,4.7l10.3,-6.1l-13.5,-4.7z" stroke="#3d33dd"/>
<path d="M679.9,865.4l13.5,4.6l10.4,-6l-13.6,-4.7z" stroke="#3c32db"/>
<path d="M693.4,870l13.6,4.7l10.3,-6.1l-13.5,-4.6z" stroke="#3c31d9"/>
<path d="M707,874.7l13.5,4.6l10.3,-6.1l-13.5,-4.6z" stroke="#3b30d6"/>
<path d="M720.5,879.3l13.5,4.5l10.3,-6l-13.5,-4.6z" stroke="#3b2fd4"/>
<path d="M734,883.8l13.5,4.6l10.4,-6.1l-13.6,-4.5z" stroke="#3b2ed2"/>
<path d="M747.5,888.4l13.6,4.5l10.3,-6.1l-13.5,-4.5z" stroke="#3a2ccf"/>
<path d="M761.1,892.9l13.5,4.6l10.3,-6.1l-13.5,-4.6z" stroke="#3a2bcd"/>
<path d="M774.6,897.5l13.5,4.5l10.4,-6l-13.6,-4.6z" stroke="#392aca"/>
<path d="M788.1,902l13.6,4.5l10.3,-6l-13.5,-4.5z" stroke="#392ac7"/>
<path d="M801.7,906.5l13.5,4.4l10.3,-6l-13.5,-4.4z" stroke="#3829c5"/>
<path d="M815.2,910.9l13.5,4.3l10.3,-5.9l-13.5,-4.4z" stroke="#3828c2"/>
<path d="M828.7,915.2l13.5,4.2l10.4,-6l-13.6,-4.1z" stroke="#3727c0"/>
<path d="M842.2,919.4l13.6,4.1l10.3,-6l-13.5,-4.1z" stroke="#3726be"/>
<path d="M855.8,923.5l13.5,3.9l10.3,-6.1l-13.5,-3.8z" stroke="#3625bb"/>
<path d="M869.3,927.4l13.5,3.7l10.4,-6.1l-13.6,-3.7z" stroke="#3625ba"/>
<path d="M882.8,931.1l13.6,3.5l10.3,-6.1l-13.5,-3.5z" stroke="#3624b8"/>
<path d="M896.4,934.6l13.5,3.3l10.3,-6.1l-13.5,-3.3z" stroke="#3524b7"/>
<path d="M909.9,937.9l1.7,0.4l14.2,1.2l8,-4.7l-13.6,-3z" stroke="none"/><path d="M909.9,937.9L911.6,938.3M925.8,939.5L933.8,934.8M933.8,934.8L920.2,931.8M920.2,931.8L909.9,937.9" fill="none" stroke="#3523b6"/>
<path d="M941.3,941.2l6,-3.7l-13.5,-2.7l-8,4.7z" stroke="none"/><path d="M941.3,941.2L947.3,937.5M947.3,937.5L933.8,934.8M933.8,934.8L925.8,939.5" fill="none" stroke="#3523b5"/>
<path d="M955.8,943.1l5,-3.1l-13.5,-2.5l-6,3.7z" stroke="none"/><path d="M955.8,943.1L960.8,940M960.8,940L947.3,937.5M947.3,937.5L941.3,941.2" fill="none" stroke="#3523b4"/>
<path d="M969.5,945.3l4.9,-3.1l-13.6,-2.2l-5,3.1z" stroke="none"/><path d="M969.5,945.3L974.4,942.2M974.4,942.2L960.8,940M960.8,940L955.8,943.1" fill="none" stroke="#3523b4"/>
<path d="M982.2,947.7l5.7,-3.6l-13.5,-1.9l-4.9,3.1z" stroke="none"/><path d="M982.2,947.7L987.9,944.1M987.9,944.1L974.4,942.2M974.4,942.2L969.5,945.3" fill="none" stroke="#3523b4"/>
<path d="M994,950.4l7.4,-4.8l-13.5,-1.5l-5.7,3.6z" stroke="none"/><path d="M994,950.4L1001.4,945.6M1001.4,945.6L987.9,944.1M987.9,944.1L982.2,947.7" fill="none" stroke="#3523b5"/>
<path d="M1004.8,953.3l10.1,-6.5l-13.5,-1.2l-7.4,4.8z" stroke="none"/><path d="M1004.8,953.3L1014.9,946.8M1014.9,946.8L1001.4,945.6M1001.4,945.6L994,950.4" fill="none" stroke="#3523b6"/>
<path d="M1005.4,953.5l12.7,0.7l10.4,-6.8l-13.6,-0.6l-10.1,6.5z" stroke="none"/><path d="M1005.4,953.5L1018.1,954.2M1018.1,954.2L1028.5,947.4M1028.5,947.4L1014.9,946.8M1014.9,946.8L1004.8,953.3" fill="none" stroke="#3524b7"/>
<path d="M1018.1,954.2l13.6,0.3l10.3,-6.9l-13.5,-0.2z" stroke="#3625b9"/>
<path d="M1031.7,954.5l13.5,-0.3l10.3,-7.1l-13.5,0.5z" stroke="#3625bc"/>
<path d="M1045.2,954.2l13.5,-0.8l10.4,-7.4l-13.6,1.1z" stroke="#3727bf"/>
<path d="M1058.7,953.4l13.6,-1.3l10.3,-7.6l-13.5,1.5z" stroke="#3828c3"/>
<path d="M1072.3,952.1l13.5,-1.7l10.3,-7.8l-13.5,1.9z" stroke="#3929c7"/>
<path d="M1085.8,950.4l13.5,-2.1l10.3,-8l-13.5,2.3z" stroke="#392bcc"/>
<path d="M1099.3,948.3l13.6,-2.5l10.3,-8.2l-13.6,2.7z" stroke="#3a2dd1"/>
<path d="M1112.9,945.8l13.5,-2.8l10.3,-8.4l-13.5,3z" stroke="#3b2fd6"/>
<path d="M1126.4,943l13.5,-3.2l10.3,-8.5l-13.5,3.3z" stroke="#3c32db"/>
<path d="M1139.9,939.8l13.5,-3.5l10.4,-8.6l-13.6,3.6z" stroke="#3d35df"/>
<path d="M1153.4,936.3l13.6,-3.7l10.3,-8.7l-13.5,3.8z" stroke="#3e38e4"/>
<path d="M1167,932.6l13.5,-4l10.3,-8.8l-13.5,4.1z" stroke="#3f3ce8"/>
<path d="M1180.5,928.6l13.5,-4.2l10.4,-8.9l-13.6,4.3z" stroke="#3f3feb"/>
<path d="M1194,924.4l13.6,-4.4l10.3,-9l-13.5,4.5z" stroke="#4043ef"/>
<path d="M1207.6,920l13.5,-4.5l10.3,-9.1l-13.5,4.6z" stroke="#4147f2"/>
<path d="M1221.1,915.5l13.5,-4.6l10.4,-9.2l-13.6,4.7z" stroke="#414bf5"/>
<path d="M1234.6,910.9l13.6,-4.8l10.3,-9.2l-13.5,4.8z" stroke="#414ff7"/>
<path d="M1248.2,906.1l13.5,-4.7l10.3,-9.3l-13.5,4.8z" stroke="#4154f9"/>
<path d="M1261.7,901.4l13.5,-4.8l10.3,-9.4l-13.5,4.9z" stroke="#4158fb"/>
<path d="M1275.2,896.6l13.5,-4.7l10.4,-9.5l-13.6,4.8z" stroke="#405dfd"/>
<path d="M1288.7,891.9l13.6,-4.6l10.3,-9.5l-13.5,4.6z" stroke="#3f61fd"/>
<path d="M480.1,809.3l13.6,3.9l10.3,-7.7l-13.5,-3.9z" stroke="#4043ee"/>
<path d="M493.7,813.2l13.5,4.1l10.3,-7.6l-13.5,-4.2z" stroke="#4042ed"/>
<path d="M507.2,817.3l13.5,4.2l10.4,-7.5l-13.6,-4.3z" stroke="#4040ec"/>
<path d="M520.7,821.5l13.6,4.3l10.3,-7.3l-13.5,-4.5z" stroke="#3f3feb"/>
<path d="M534.3,825.8l13.5,4.5l10.3,-7.2l-13.5,-4.6z" stroke="#3f3eea"/>
<path d="M547.8,830.3l13.5,4.5l10.3,-7.1l-13.5,-4.6z" stroke="#3f3ce9"/>
<path d="M561.3,834.8l13.5,4.6l10.4,-7l-13.6,-4.7z" stroke="#3f3be7"/>
<path d="M574.9,839.4l13.6,4.6l10.3,-6.9l-13.5,-4.7z" stroke="#3e3ae6"/>
<path d="M588.4,844l13.5,4.6l10.3,-6.7l-13.5,-4.8z" stroke="#3e38e4"/>
<path d="M601.9,848.6l13.5,4.7l10.4,-6.7l-13.6,-4.7z" stroke="#3e37e2"/>
<path d="M615.4,853.3l13.6,4.6l10.3,-6.6l-13.5,-4.7z" stroke="#3d35e0"/>
<path d="M629,857.9l13.5,4.7l10.3,-6.6l-13.5,-4.7z" stroke="#3d34de"/>
<path d="M642.5,862.6l13.5,4.6l10.4,-6.5l-13.6,-4.7z" stroke="#3d33dc"/>
<path d="M656,867.2l13.6,4.6l10.3,-6.4l-13.5,-4.7z" stroke="#3c32da"/>
<path d="M669.6,871.8l13.5,4.6l10.3,-6.4l-13.5,-4.6z" stroke="#3c30d8"/>
<path d="M683.1,876.4l13.5,4.6l10.4,-6.3l-13.6,-4.7z" stroke="#3b2fd6"/>
<path d="M696.6,881l13.6,4.6l10.3,-6.3l-13.5,-4.6z" stroke="#3b2ed3"/>
<path d="M710.1,885.6l13.5,4.5l10.3,-6.3l-13.5,-4.5z" stroke="#3a2dd1"/>
<path d="M723.7,890.1l13.5,4.5l10.3,-6.2l-13.5,-4.6z" stroke="#3a2cce"/>
<path d="M737.2,894.6l13.5,4.6l10.4,-6.3l-13.6,-4.5z" stroke="#392bcc"/>
<path d="M750.7,899.2l13.6,4.5l10.3,-6.2l-13.5,-4.6z" stroke="#392ac9"/>
<path d="M764.3,903.7l13.5,4.4l10.3,-6.1l-13.5,-4.5z" stroke="#3829c6"/>
<path d="M777.8,908.1l13.5,4.4l10.4,-6l-13.6,-4.5z" stroke="#3828c4"/>
<path d="M791.3,912.5l13.6,4.4l10.3,-6l-13.5,-4.4z" stroke="#3727c1"/>
<path d="M804.9,916.9l13.5,4.2l10.3,-5.9l-13.5,-4.3z" stroke="#3727bf"/>
<path d="M818.4,921.1l13.5,4.2l10.3,-5.9l-13.5,-4.2z" stroke="#3726bc"/>
<path d="M831.9,925.3l13.5,4l10.4,-5.8l-13.6,-4.1z" stroke="#3625ba"/>
<path d="M845.4,929.3l13.6,3.8l10.3,-5.7l-13.5,-3.9z" stroke="#3624b8"/>
<path d="M859,933.1l11.1,3l3.4,0.2l9.3,-5.2l-13.5,-3.7z" stroke="none"/><path d="M859,933.1L870.1,936.1M873.5,936.3L882.8,931.1M882.8,931.1L869.3,927.4M869.3,927.4L859,933.1" fill="none" stroke="#3524b6"/>
<path d="M891.8,937.1l4.6,-2.5l-13.6,-3.5l-9.3,5.2z" stroke="none"/><path d="M891.8,937.1L896.4,934.6M896.4,934.6L882.8,931.1M882.8,931.1L873.5,936.3" fill="none" stroke="#3523b5"/>
<path d="M909.5,938.1l0.4,-0.2l-13.5,-3.3l-4.6,2.5z" stroke="none"/><path d="M909.5,938.1L909.9,937.9M909.9,937.9L896.4,934.6M896.4,934.6L891.8,937.1" fill="none" stroke="#3523b3"/>
<path d="M911.6,938.3l-1.7,-0.4l-0.4,0.2z" stroke="none"/><path d="M911.6,938.3L909.9,937.9M909.9,937.9L909.5,938.1" fill="none" stroke="#3422b2"/>
<path d="M1013.5,956.8l4.6,-2.6l-12.7,-0.7z" stroke="none"/><path d="M1013.5,956.8L1018.1,954.2M1018.1,954.2L1005.4,953.5" fill="none" stroke="#3522b3"/>
<path d="M1020.4,960.5l0.9,0l10.4,-6l-13.6,-0.3l-4.6,2.6z" stroke="none"/><path d="M1020.4,960.5L1021.3,960.5M1021.3,960.5L1031.7,954.5M1031.7,954.5L1018.1,954.2M1018.1,954.2L1013.5,956.8" fill="none" stroke="#3523b5"/>
<path d="M1021.3,960.5l13.6,0l10.3,-6.3l-13.5,0.3z" stroke="#3624b7"/>
<path d="M1034.9,960.5l13.5,-0.6l10.3,-6.5l-13.5,0.8z" stroke="#3625ba"/>
<path d="M1048.4,959.9l13.5,-1l10.4,-6.8l-13.6,1.3z" stroke="#3726be"/>
<path d="M1061.9,958.9l13.6,-1.4l10.3,-7.1l-13.5,1.7z" stroke="#3828c2"/>
<path d="M1075.5,957.5l13.5,-1.8l10.3,-7.4l-13.5,2.1z" stroke="#3829c6"/>
<path d="M1089,955.7l13.5,-2.3l10.4,-7.6l-13.6,2.5z" stroke="#392bcb"/>
<path d="M1102.5,953.4l13.5,-2.6l10.4,-7.8l-13.5,2.8z" stroke="#3a2dd1"/>
<path d="M1116,950.8l13.6,-3l10.3,-8l-13.5,3.2z" stroke="#3b2fd6"/>
<path d="M1129.6,947.8l13.5,-3.3l10.3,-8.2l-13.5,3.5z" stroke="#3c32db"/>
<path d="M1143.1,944.5l13.5,-3.6l10.4,-8.3l-13.6,3.7z" stroke="#3d35e0"/>
<path d="M1156.6,940.9l13.6,-3.8l10.3,-8.5l-13.5,4z" stroke="#3e38e4"/>
<path d="M1170.2,937.1l13.5,-4.1l10.3,-8.6l-13.5,4.2z" stroke="#3f3ce8"/>
<path d="M1183.7,933l13.5,-4.3l10.4,-8.7l-13.6,4.4z" stroke="#3f40ec"/>
<path d="M1197.2,928.7l13.6,-4.4l10.3,-8.8l-13.5,4.5z" stroke="#4044ef"/>
<path d="M1210.8,924.3l13.5,-4.5l10.3,-8.9l-13.5,4.6z" stroke="#4148f2"/>
<path d="M1224.3,919.8l13.5,-4.6l10.4,-9.1l-13.6,4.8z" stroke="#414cf5"/>
<path d="M1237.8,915.2l13.6,-4.6l10.3,-9.2l-13.5,4.7z" stroke="#4150f7"/>
<path d="M1251.3,910.6l13.5,-4.7l10.3,-9.3l-13.5,4.8z" stroke="#4154fa"/>
<path d="M1264.9,905.9l13.5,-4.6l10.3,-9.4l-13.5,4.7z" stroke="#4158fb"/>
<path d="M1278.4,901.3l13.5,-4.5l10.4,-9.5l-13.6,4.6z" stroke="#405dfd"/>
<path d="M469.8,817.5l13.5,3.9l10.4,-8.2l-13.6,-3.9z" stroke="#4040ec"/>
<path d="M483.3,821.4l13.6,4l10.3,-8.1l-13.5,-4.1z" stroke="#3f3feb"/>
<path d="M496.9,825.4l13.5,4.1l10.3,-8l-13.5,-4.2z" stroke="#3f3eea"/>
<path d="M510.4,829.5l13.5,4.2l10.4,-7.9l-13.6,-4.3z" stroke="#3f3ce9"/>
<path d="M523.9,833.7l13.6,4.3l10.3,-7.7l-13.5,-4.5z" stroke="#3f3be7"/>
<path d="M537.5,838l13.5,4.3l10.3,-7.5l-13.5,-4.5z" stroke="#3e3ae6"/>
<path d="M551,842.3l13.5,4.5l10.3,-7.4l-13.5,-4.6z" stroke="#3e39e4"/>
<path d="M564.5,846.8l13.5,4.4l10.4,-7.2l-13.6,-4.6z" stroke="#3e37e3"/>
<path d="M578,851.2l13.6,4.5l10.3,-7.1l-13.5,-4.6z" stroke="#3d36e1"/>
<path d="M591.6,855.7l13.5,4.6l10.3,-7l-13.5,-4.7z" stroke="#3d35df"/>
<path d="M605.1,860.3l13.5,4.5l10.4,-6.9l-13.6,-4.6z" stroke="#3d33dd"/>
<path d="M618.6,864.8l13.6,4.5l10.3,-6.7l-13.5,-4.7z" stroke="#3c32db"/>
<path d="M632.2,869.3l13.5,4.6l10.3,-6.7l-13.5,-4.6z" stroke="#3c31d9"/>
<path d="M645.7,873.9l13.5,4.5l10.4,-6.6l-13.6,-4.6z" stroke="#3b30d7"/>
<path d="M659.2,878.4l13.6,4.5l10.3,-6.5l-13.5,-4.6z" stroke="#3b2fd4"/>
<path d="M672.8,882.9l13.5,4.5l10.3,-6.4l-13.5,-4.6z" stroke="#3b2ed2"/>
<path d="M686.3,887.4l13.5,4.5l10.4,-6.3l-13.6,-4.6z" stroke="#3a2dcf"/>
<path d="M699.8,891.9l13.6,4.5l10.3,-6.3l-13.5,-4.5z" stroke="#3a2ccd"/>
<path d="M713.4,896.4l13.5,4.5l10.3,-6.3l-13.5,-4.5z" stroke="#392bca"/>
<path d="M726.9,900.9l13.5,4.4l10.3,-6.1l-13.5,-4.6z" stroke="#392ac8"/>
<path d="M740.4,905.3l13.5,4.4l10.4,-6l-13.6,-4.5z" stroke="#3829c5"/>
<path d="M753.9,909.7l13.6,4.4l10.3,-6l-13.5,-4.4z" stroke="#3828c3"/>
<path d="M767.5,914.1l13.5,4.3l10.3,-5.9l-13.5,-4.4z" stroke="#3727c0"/>
<path d="M781,918.4l13.5,4.3l10.4,-5.8l-13.6,-4.4z" stroke="#3726be"/>
<path d="M794.5,922.7l13.6,4.1l10.3,-5.7l-13.5,-4.2z" stroke="#3625bb"/>
<path d="M808.1,926.8l13.5,4l10.3,-5.5l-13.5,-4.2z" stroke="#3625b9"/>
<path d="M821.6,930.8l13.5,3.9l10.3,-5.4l-13.5,-4z" stroke="#3524b7"/>
<path d="M835.1,934.7l2.6,0.8l16.2,0.3l5.1,-2.7l-13.6,-3.8z" stroke="none"/><path d="M835.1,934.7L837.7,935.5M853.9,935.8L859,933.1M859,933.1L845.4,929.3M845.4,929.3L835.1,934.7" fill="none" stroke="#3523b5"/>
<path d="M870.1,936.1l-11.1,-3l-5.1,2.7z" stroke="none"/><path d="M870.1,936.1L859,933.1M859,933.1L853.9,935.8" fill="none" stroke="#3523b3"/>
<path d="M1020.8,960.8l0.5,-0.3l-0.9,0z" stroke="none"/><path d="M1020.8,960.8L1021.3,960.5M1021.3,960.5L1020.4,960.5" fill="none" stroke="#3422b2"/>
<path d="M1025.9,965.3l9,-4.8l-13.6,0l-0.5,0.3z" stroke="none"/><path d="M1025.9,965.3L1034.9,960.5M1034.9,960.5L1021.3,960.5M1021.3,960.5L1020.8,960.8" fill="none" stroke="#3523b4"/>
<path d="M1026.5,966l11.6,-0.2l10.3,-5.9l-13.5,0.6l-9,4.8z" stroke="none"/><path d="M1026.5,966L1038.1,965.8M1038.1,965.8L1048.4,959.9M1048.4,959.9L1034.9,960.5M1034.9,960.5L1025.9,965.3" fill="none" stroke="#3524b7"/>
<path d="M1038.1,965.8l13.5,-0.7l10.3,-6.2l-13.5,1z" stroke="#3625ba"/>
<path d="M1051.6,965.1l13.5,-1.1l10.4,-6.5l-13.6,1.4z" stroke="#3726be"/>
<path d="M1065.1,964l13.6,-1.6l10.3,-6.7l-13.5,1.8z" stroke="#3828c2"/>
<path d="M1078.7,962.4l13.5,-2l10.3,-7l-13.5,2.3z" stroke="#3829c7"/>
<path d="M1092.2,960.4l13.5,-2.3l10.3,-7.3l-13.5,2.6z" stroke="#392bcc"/>
<path d="M1105.7,958.1l13.5,-2.8l10.4,-7.5l-13.6,3z" stroke="#3a2dd1"/>
<path d="M1119.2,955.3l13.6,-3.1l10.3,-7.7l-13.5,3.3z" stroke="#3b30d6"/>
<path d="M1132.8,952.2l13.5,-3.4l10.3,-7.9l-13.5,3.6z" stroke="#3c32db"/>
<path d="M1146.3,948.8l13.5,-3.7l10.4,-8l-13.6,3.8z" stroke="#3d35e0"/>
<path d="M1159.8,945.1l13.6,-3.9l10.3,-8.2l-13.5,4.1z" stroke="#3e39e5"/>
<path d="M1173.4,941.2l13.5,-4.2l10.3,-8.3l-13.5,4.3z" stroke="#3f3ce9"/>
<path d="M1186.9,937l13.5,-4.2l10.4,-8.5l-13.6,4.4z" stroke="#4040ec"/>
<path d="M1200.4,932.8l13.6,-4.4l10.3,-8.6l-13.5,4.5z" stroke="#4044f0"/>
<path d="M1214,928.4l13.5,-4.5l10.3,-8.7l-13.5,4.6z" stroke="#4148f3"/>
<path d="M1227.5,923.9l13.5,-4.5l10.4,-8.8l-13.6,4.6z" stroke="#414cf5"/>
<path d="M1241,919.4l13.6,-4.5l10.3,-9l-13.5,4.7z" stroke="#4150f8"/>
<path d="M1254.6,914.9l13.5,-4.5l10.3,-9.1l-13.5,4.6z" stroke="#4154fa"/>
<path d="M1268.1,910.4l13.5,-4.5l10.3,-9.1l-13.5,4.5z" stroke="#4159fb"/>
<path d="M459.5,826l13.5,3.8l10.3,-8.4l-13.5,-3.9z" stroke="#3f3de9"/>
<path d="M473,829.8l13.5,3.9l10.4,-8.3l-13.6,-4z" stroke="#3f3ce8"/>
<path d="M486.5,833.7l13.6,4l10.3,-8.2l-13.5,-4.1z" stroke="#3f3be7"/>
<path d="M500.1,837.7l13.5,4.1l10.3,-8.1l-13.5,-4.2z" stroke="#3e39e5"/>
<path d="M513.6,841.8l13.5,4.1l10.4,-7.9l-13.6,-4.3z" stroke="#3e38e4"/>
<path d="M527.1,845.9l13.6,4.2l10.3,-7.8l-13.5,-4.3z" stroke="#3e37e3"/>
<path d="M540.7,850.1l13.5,4.3l10.3,-7.6l-13.5,-4.5z" stroke="#3d36e1"/>
<path d="M554.2,854.4l13.5,4.3l10.3,-7.5l-13.5,-4.4z" stroke="#3d35df"/>
<path d="M567.7,858.7l13.5,4.4l10.4,-7.4l-13.6,-4.5z" stroke="#3d34de"/>
<path d="M581.2,863.1l13.6,4.3l10.3,-7.1l-13.5,-4.6z" stroke="#3c32dc"/>
<path d="M594.8,867.4l13.5,4.4l10.3,-7l-13.5,-4.5z" stroke="#3c31da"/>
<path d="M608.3,871.8l13.5,4.4l10.4,-6.9l-13.6,-4.5z" stroke="#3c30d7"/>
<path d="M621.8,876.2l13.6,4.4l10.3,-6.7l-13.5,-4.6z" stroke="#3b2fd5"/>
<path d="M635.4,880.6l13.5,4.5l10.3,-6.7l-13.5,-4.5z" stroke="#3b2ed3"/>
<path d="M648.9,885.1l13.5,4.4l10.4,-6.6l-13.6,-4.5z" stroke="#3a2dd1"/>
<path d="M662.4,889.5l13.6,4.4l10.3,-6.5l-13.5,-4.5z" stroke="#3a2cce"/>
<path d="M676,893.9l13.5,4.4l10.3,-6.4l-13.5,-4.5z" stroke="#392bcc"/>
<path d="M689.5,898.3l13.5,4.4l10.4,-6.3l-13.6,-4.5z" stroke="#392ac9"/>
<path d="M703,902.7l13.6,4.3l10.3,-6.1l-13.5,-4.5z" stroke="#3829c7"/>
<path d="M716.5,907l13.5,4.3l10.3,-6l-13.5,-4.4z" stroke="#3828c4"/>
<path d="M730.1,911.3l13.5,4.3l10.3,-5.9l-13.5,-4.4z" stroke="#3828c1"/>
<path d="M743.6,915.6l13.5,4.3l10.4,-5.8l-13.6,-4.4z" stroke="#3727bf"/>
<path d="M757.1,919.9l13.6,4.2l10.3,-5.7l-13.5,-4.3z" stroke="#3726bd"/>
<path d="M770.7,924.1l13.5,4.1l10.3,-5.5l-13.5,-4.3z" stroke="#3625ba"/>
<path d="M784.2,928.2l13.5,4l10.4,-5.4l-13.6,-4.1z" stroke="#3624b8"/>
<path d="M797.7,932.2l10.8,3.1l4.3,0l8.8,-4.5l-13.5,-4z" stroke="none"/><path d="M797.7,932.2L808.5,935.3M812.8,935.3L821.6,930.8M821.6,930.8L808.1,926.8M808.1,926.8L797.7,932.2" fill="none" stroke="#3523b6"/>
<path d="M833.7,935.4l1.4,-0.7l-13.5,-3.9l-8.8,4.5z" stroke="none"/><path d="M833.7,935.4L835.1,934.7M835.1,934.7L821.6,930.8M821.6,930.8L812.8,935.3" fill="none" stroke="#3523b4"/>
<path d="M837.7,935.5l-2.6,-0.8l-1.4,0.7z" stroke="none"/><path d="M837.7,935.5L835.1,934.7M835.1,934.7L833.7,935.4" fill="none" stroke="#3522b2"/>
<path d="M1029,970.5l9.1,-4.7l-11.6,0.2z" stroke="none"/><path d="M1029,970.5L1038.1,965.8M1038.1,965.8L1026.5,966" fill="none" stroke="#3523b4"/>
<path d="M1029.2,971l12.1,-0.3l10.3,-5.6l-13.5,0.7l-9.1,4.7z" stroke="none"/><path d="M1029.2,971L1041.3,970.7M1041.3,970.7L1051.6,965.1M1051.6,965.1L1038.1,965.8M1038.1,965.8L1029,970.5" fill="none" stroke="#3524b7"/>
<path d="M1041.3,970.7l13.5,-0.8l10.3,-5.9l-13.5,1.1z" stroke="#3625ba"/>
<path d="M1054.8,969.9l13.5,-1.3l10.4,-6.2l-13.6,1.6z" stroke="#3726be"/>
<path d="M1068.3,968.6l13.6,-1.7l10.3,-6.5l-13.5,2z" stroke="#3828c2"/>
<path d="M1081.9,966.9l13.5,-2.1l10.3,-6.7l-13.5,2.3z" stroke="#392ac7"/>
<path d="M1095.4,964.8l13.5,-2.5l10.3,-7l-13.5,2.8z" stroke="#3a2bcc"/>
<path d="M1108.9,962.3l13.5,-2.9l10.4,-7.2l-13.6,3.1z" stroke="#3b2ed2"/>
<path d="M1122.5,959.4l13.6,-3.3l10.3,-7.3l-13.5,3.4z" stroke="#3c30d7"/>
<path d="M1136,956.1l13.5,-3.5l10.3,-7.5l-13.5,3.7z" stroke="#3d33dc"/>
<path d="M1149.5,952.6l13.5,-3.8l10.4,-7.6l-13.6,3.9z" stroke="#3d36e1"/>
<path d="M1163,948.8l13.6,-4l10.3,-7.8l-13.5,4.2z" stroke="#3e39e5"/>
<path d="M1176.6,944.8l13.5,-4.1l10.3,-7.9l-13.5,4.2z" stroke="#3f3de9"/>
<path d="M1190.1,940.7l13.5,-4.3l10.4,-8l-13.6,4.4z" stroke="#4041ed"/>
<path d="M1203.6,936.4l13.6,-4.3l10.3,-8.2l-13.5,4.5z" stroke="#4045f0"/>
<path d="M1217.2,932.1l13.5,-4.4l10.3,-8.3l-13.5,4.5z" stroke="#4149f3"/>
<path d="M1230.7,927.7l13.5,-4.4l10.4,-8.4l-13.6,4.5z" stroke="#414df6"/>
<path d="M1244.2,923.3l13.6,-4.4l10.3,-8.5l-13.5,4.5z" stroke="#4151f8"/>
<path d="M1257.8,918.9l13.5,-4.3l10.3,-8.7l-13.5,4.5z" stroke="#4155fa"/>
<path d="M449.1,834.5l13.5,3.7l10.3,-8.4l-13.5,-3.8z" stroke="#3e39e5"/>
<path d="M462.7,838.2l13.5,3.9l10.3,-8.4l-13.5,-3.9z" stroke="#3e38e4"/>
<path d="M476.2,842.1l13.5,3.8l10.4,-8.2l-13.6,-4z" stroke="#3e37e3"/>
<path d="M489.7,845.9l13.6,4l10.3,-8.1l-13.5,-4.1z" stroke="#3e36e2"/>
<path d="M503.3,849.9l13.5,4l10.3,-8l-13.5,-4.1z" stroke="#3d35e0"/>
<path d="M516.8,853.9l13.5,4.1l10.4,-7.9l-13.6,-4.2z" stroke="#3d34df"/>
<path d="M530.3,858l13.6,4.1l10.3,-7.7l-13.5,-4.3z" stroke="#3d33dd"/>
<path d="M543.9,862.1l13.5,4.1l10.3,-7.5l-13.5,-4.3z" stroke="#3c32db"/>
<path d="M557.4,866.2l13.5,4.2l10.3,-7.3l-13.5,-4.4z" stroke="#3c31da"/>
<path d="M570.9,870.4l13.5,4.2l10.4,-7.2l-13.6,-4.3z" stroke="#3c30d8"/>
<path d="M584.5,874.6l13.6,4.2l10.3,-7l-13.5,-4.4z" stroke="#3b2fd6"/>
<path d="M598,878.8l13.5,4.3l10.3,-6.9l-13.5,-4.4z" stroke="#3b2ed4"/>
<path d="M611.5,883.1l13.5,4.2l10.4,-6.7l-13.6,-4.4z" stroke="#3a2dd1"/>
<path d="M625,887.3l13.6,4.3l10.3,-6.5l-13.5,-4.5z" stroke="#3a2ccf"/>
<path d="M638.6,891.6l13.5,4.3l10.3,-6.4l-13.5,-4.4z" stroke="#3a2ccd"/>
<path d="M652.1,895.9l13.5,4.3l10.4,-6.3l-13.6,-4.4z" stroke="#392bca"/>
<path d="M665.6,900.2l13.6,4.2l10.3,-6.1l-13.5,-4.4z" stroke="#392ac8"/>
<path d="M679.2,904.4l13.5,4.3l10.3,-6l-13.5,-4.4z" stroke="#3829c5"/>
<path d="M692.7,908.7l13.5,4.2l10.4,-5.9l-13.6,-4.3z" stroke="#3828c3"/>
<path d="M706.2,912.9l13.6,4.2l10.3,-5.8l-13.5,-4.3z" stroke="#3727c0"/>
<path d="M719.8,917.1l13.5,4.2l10.3,-5.7l-13.5,-4.3z" stroke="#3726be"/>
<path d="M733.3,921.3l13.5,4l10.3,-5.4l-13.5,-4.3z" stroke="#3626bc"/>
<path d="M746.8,925.3l13.5,4.1l10.4,-5.3l-13.6,-4.2z" stroke="#3625ba"/>
<path d="M760.3,929.4l13.6,3.9l10.3,-5.1l-13.5,-4.1z" stroke="#3624b7"/>
<path d="M773.9,933.3l7.4,2.1l9.8,0l6.6,-3.2l-13.5,-4z" stroke="none"/><path d="M773.9,933.3L781.3,935.4M791.1,935.4L797.7,932.2M797.7,932.2L784.2,928.2M784.2,928.2L773.9,933.3" fill="none" stroke="#3523b5"/>
<path d="M808.5,935.3l-10.8,-3.1l-6.6,3.2z" stroke="none"/><path d="M808.5,935.3L797.7,932.2M797.7,932.2L791.1,935.4" fill="none" stroke="#3523b3"/>
<path d="M1029.5,975.6l1.4,0l10.4,-4.9l-12.1,0.3z" stroke="none"/><path d="M1029.5,975.6L1030.9,975.6M1030.9,975.6L1041.3,970.7M1041.3,970.7L1029.2,971" fill="none" stroke="#3523b4"/>
<path d="M1030.9,975.6l13.6,-0.4l10.3,-5.3l-13.5,0.8z" stroke="#3624b7"/>
<path d="M1044.5,975.2l13.5,-0.9l10.3,-5.7l-13.5,1.3z" stroke="#3625bb"/>
<path d="M1058,974.3l13.5,-1.4l10.4,-6l-13.6,1.7z" stroke="#3727bf"/>
<path d="M1071.5,972.9l13.6,-1.9l10.3,-6.2l-13.5,2.1z" stroke="#3828c3"/>
<path d="M1085.1,971l13.5,-2.3l10.3,-6.4l-13.5,2.5z" stroke="#392ac8"/>
<path d="M1098.6,968.7l13.5,-2.8l10.3,-6.5l-13.5,2.9z" stroke="#3a2cce"/>
<path d="M1112.1,965.9l13.5,-3.1l10.4,-6.7l-13.6,3.3z" stroke="#3b2ed3"/>
<path d="M1125.7,962.8l13.6,-3.4l10.3,-6.8l-13.5,3.5z" stroke="#3c31d9"/>
<path d="M1139.2,959.4l13.5,-3.6l10.3,-7l-13.5,3.8z" stroke="#3d34de"/>
<path d="M1152.7,955.8l13.5,-3.9l10.4,-7.1l-13.6,4z" stroke="#3e37e2"/>
<path d="M1166.2,951.9l13.6,-4l10.3,-7.2l-13.5,4.1z" stroke="#3e3ae7"/>
<path d="M1179.8,947.9l13.5,-4.1l10.3,-7.4l-13.5,4.3z" stroke="#3f3eea"/>
<path d="M1193.3,943.8l13.5,-4.2l10.4,-7.5l-13.6,4.3z" stroke="#4042ee"/>
<path d="M1206.8,939.6l13.6,-4.2l10.3,-7.7l-13.5,4.4z" stroke="#4046f1"/>
<path d="M1220.4,935.4l13.5,-4.3l10.3,-7.8l-13.5,4.4z" stroke="#414af4"/>
<path d="M1233.9,931.1l13.5,-4.2l10.4,-8l-13.6,4.4z" stroke="#414ef6"/>
<path d="M1247.4,926.9l13.6,-4.2l10.3,-8.1l-13.5,4.3z" stroke="#4152f8"/>
<path d="M438.8,842.8l13.6,3.8l10.3,-8.4l-13.5,-3.7z" stroke="#3d36e1"/>
<path d="M452.4,846.6l13.5,3.7l10.3,-8.2l-13.5,-3.9z" stroke="#3d35e0"/>
<path d="M465.9,850.3l13.5,3.8l10.3,-8.2l-13.5,-3.8z" stroke="#3d34df"/>
<path d="M479.4,854.1l13.5,3.8l10.4,-8l-13.6,-4z" stroke="#3d34de"/>
<path d="M492.9,857.9l13.6,3.8l10.3,-7.8l-13.5,-4z" stroke="#3c33dc"/>
<path d="M506.5,861.7l13.5,3.9l10.3,-7.6l-13.5,-4.1z" stroke="#3c32db"/>
<path d="M520,865.6l13.5,4l10.4,-7.5l-13.6,-4.1z" stroke="#3c31d9"/>
<path d="M533.5,869.6l13.6,3.9l10.3,-7.3l-13.5,-4.1z" stroke="#3c30d7"/>
<path d="M547.1,873.5l13.5,4l10.3,-7.1l-13.5,-4.2z" stroke="#3b2fd6"/>
<path d="M560.6,877.5l13.5,4.1l10.3,-7l-13.5,-4.2z" stroke="#3b2ed4"/>
<path d="M574.1,881.6l13.5,4l10.4,-6.8l-13.6,-4.2z" stroke="#3a2dd1"/>
<path d="M587.6,885.6l13.6,4.1l10.3,-6.6l-13.5,-4.3z" stroke="#3a2dcf"/>
<path d="M601.2,889.7l13.5,4.1l10.3,-6.5l-13.5,-4.2z" stroke="#3a2ccd"/>
<path d="M614.7,893.8l13.5,4.1l10.4,-6.3l-13.6,-4.3z" stroke="#392bcb"/>
<path d="M628.2,897.9l13.6,4.2l10.3,-6.2l-13.5,-4.3z" stroke="#392ac9"/>
<path d="M641.8,902.1l13.5,4.1l10.3,-6l-13.5,-4.3z" stroke="#3829c6"/>
<path d="M655.3,906.2l13.5,4.1l10.4,-5.9l-13.6,-4.2z" stroke="#3828c4"/>
<path d="M668.8,910.3l13.6,4.1l10.3,-5.7l-13.5,-4.3z" stroke="#3828c2"/>
<path d="M682.4,914.4l13.5,4.1l10.3,-5.6l-13.5,-4.2z" stroke="#3727bf"/>
<path d="M695.9,918.5l13.5,4l10.4,-5.4l-13.6,-4.2z" stroke="#3726bd"/>
<path d="M709.4,922.5l13.5,4l10.4,-5.2l-13.5,-4.2z" stroke="#3625bb"/>
<path d="M722.9,926.5l13.6,4l10.3,-5.2l-13.5,-4z" stroke="#3625b9"/>
<path d="M736.5,930.5l13.5,3.8l10.3,-4.9l-13.5,-4.1z" stroke="#3524b7"/>
<path d="M750,934.3l5.3,1.5l13.6,-0.2l5,-2.3l-13.6,-3.9z" stroke="none"/><path d="M750,934.3L755.3,935.8M768.9,935.6L773.9,933.3M773.9,933.3L760.3,929.4M760.3,929.4L750,934.3" fill="none" stroke="#3523b5"/>
<path d="M781.3,935.4l-7.4,-2.1l-5,2.3z" stroke="none"/><path d="M781.3,935.4L773.9,933.3M773.9,933.3L768.9,935.6" fill="none" stroke="#3523b3"/>
<path d="M1028.9,976.5l2,-0.9l-1.4,0z" stroke="none"/><path d="M1028.9,976.5L1030.9,975.6M1030.9,975.6L1029.5,975.6" fill="none" stroke="#3522b2"/>
<path d="M1026.5,979.7l7.6,0l10.4,-4.5l-13.6,0.4l-2,0.9z" stroke="none"/><path d="M1026.5,979.7L1034.1,979.7M1034.1,979.7L1044.5,975.2M1044.5,975.2L1030.9,975.6M1030.9,975.6L1028.9,976.5" fill="none" stroke="#3523b5"/>
<path d="M1034.1,979.7l13.6,-0.6l10.3,-4.8l-13.5,0.9z" stroke="#3624b8"/>
<path d="M1047.7,979.1l13.5,-1l10.3,-5.2l-13.5,1.4z" stroke="#3626bc"/>
<path d="M1061.2,978.1l13.5,-1.7l10.4,-5.4l-13.6,1.9z" stroke="#3727c0"/>
<path d="M1074.7,976.4l13.6,-2.1l10.3,-5.6l-13.5,2.3z" stroke="#3829c5"/>
<path d="M1088.3,974.3l13.5,-2.6l10.3,-5.8l-13.5,2.8z" stroke="#392bca"/>
<path d="M1101.8,971.7l13.5,-3l10.3,-5.9l-13.5,3.1z" stroke="#3a2dd0"/>
<path d="M1115.3,968.7l13.6,-3.2l10.3,-6.1l-13.6,3.4z" stroke="#3b2fd5"/>
<path d="M1128.9,965.5l13.5,-3.5l10.3,-6.2l-13.5,3.6z" stroke="#3c32da"/>
<path d="M1142.4,962l13.5,-3.7l10.3,-6.4l-13.5,3.9z" stroke="#3d35df"/>
<path d="M1155.9,958.3l13.5,-3.8l10.4,-6.6l-13.6,4z" stroke="#3e38e4"/>
<path d="M1169.4,954.5l13.6,-4l10.3,-6.7l-13.5,4.1z" stroke="#3f3ce8"/>
<path d="M1183,950.5l13.5,-4l10.3,-6.9l-13.5,4.2z" stroke="#3f3fec"/>
<path d="M1196.5,946.5l13.5,-4.1l10.4,-7l-13.6,4.2z" stroke="#4043ef"/>
<path d="M1210,942.4l13.6,-4.1l10.3,-7.2l-13.5,4.3z" stroke="#4147f2"/>
<path d="M1223.6,938.3l13.5,-4.1l10.3,-7.3l-13.5,4.2z" stroke="#414bf4"/>
<path d="M1237.1,934.2l13.5,-4l10.4,-7.5l-13.6,4.2z" stroke="#414ff7"/>
<path d="M428.5,851l13.5,3.6l10.4,-8l-13.6,-3.8z" stroke="#3d33dd"/>
<path d="M442,854.6l13.6,3.7l10.3,-8l-13.5,-3.7z" stroke="#3c33dc"/>
<path d="M455.5,858.3l13.5,3.6l10.3,-7.8l-13.5,-3.8z" stroke="#3c32db"/>
<path d="M469.1,861.9l13.5,3.7l10.3,-7.7l-13.5,-3.8z" stroke="#3c31d9"/>
<path d="M482.6,865.6l13.5,3.7l10.4,-7.6l-13.6,-3.8z" stroke="#3c30d8"/>
<path d="M496.1,869.3l13.6,3.7l10.3,-7.4l-13.5,-3.9z" stroke="#3b30d6"/>
<path d="M509.7,873l13.5,3.7l10.3,-7.1l-13.5,-4z" stroke="#3b2fd5"/>
<path d="M523.2,876.7l13.5,3.8l10.4,-7l-13.6,-3.9z" stroke="#3b2ed3"/>
<path d="M536.7,880.5l13.6,3.8l10.3,-6.8l-13.5,-4z" stroke="#3a2dd1"/>
<path d="M550.3,884.3l13.5,3.9l10.3,-6.6l-13.5,-4.1z" stroke="#3a2dcf"/>
<path d="M563.8,888.2l13.5,3.9l10.3,-6.5l-13.5,-4z" stroke="#3a2ccd"/>
<path d="M577.3,892.1l13.5,3.9l10.4,-6.3l-13.6,-4.1z" stroke="#392bcb"/>
<path d="M590.9,896l13.6,4l10.3,-6.2l-13.5,-4.1z" stroke="#392ac9"/>
<path d="M604.4,900l13.5,3.9l10.3,-6l-13.5,-4.1z" stroke="#392ac7"/>
<path d="M617.9,903.9l13.5,4l10.4,-5.8l-13.6,-4.2z" stroke="#3829c5"/>
<path d="M631.4,907.9l13.6,4l10.3,-5.7l-13.5,-4.1z" stroke="#3828c3"/>
<path d="M645,911.9l13.5,3.9l10.3,-5.5l-13.5,-4.1z" stroke="#3727c1"/>
<path d="M658.5,915.8l13.5,4l10.4,-5.4l-13.6,-4.1z" stroke="#3727bf"/>
<path d="M672,919.8l13.6,3.9l10.3,-5.2l-13.5,-4.1z" stroke="#3726bd"/>
<path d="M685.6,923.7l13.5,3.9l10.3,-5.1l-13.5,-4z" stroke="#3625bb"/>
<path d="M699.1,927.6l13.5,3.8l10.3,-4.9l-13.5,-4z" stroke="#3624b9"/>
<path d="M712.6,931.4l13.5,3.8l10.4,-4.7l-13.6,-4z" stroke="#3524b7"/>
<path d="M726.1,935.2l4.5,1.2l15.4,-0.3l4,-1.8l-13.5,-3.8z" stroke="none"/><path d="M726.1,935.2L730.6,936.4M746,936.1L750,934.3M750,934.3L736.5,930.5M736.5,930.5L726.1,935.2" fill="none" stroke="#3523b5"/>
<path d="M755.3,935.8l-5.3,-1.5l-4,1.8z" stroke="none"/><path d="M755.3,935.8L750,934.3M750,934.3L746,936.1" fill="none" stroke="#3522b3"/>
<path d="M1017.9,982.9l5.9,0.1l10.3,-3.3l-7.6,0z" stroke="none"/><path d="M1017.9,982.9L1023.8,983M1023.8,983L1034.1,979.7M1034.1,979.7L1026.5,979.7" fill="none" stroke="#3523b4"/>
<path d="M1023.8,983l13.5,-0.1l10.4,-3.8l-13.6,0.6z" stroke="#3524b7"/>
<path d="M1037.3,982.9l13.6,-0.7l10.3,-4.1l-13.5,1z" stroke="#3625ba"/>
<path d="M1050.9,982.2l13.5,-1.5l10.3,-4.3l-13.5,1.7z" stroke="#3726be"/>
<path d="M1064.4,980.7l13.5,-2l10.4,-4.4l-13.6,2.1z" stroke="#3828c2"/>
<path d="M1077.9,978.7l13.6,-2.4l10.3,-4.6l-13.5,2.6z" stroke="#392ac8"/>
<path d="M1091.5,976.3l13.5,-2.7l10.3,-4.9l-13.5,3z" stroke="#3a2ccd"/>
<path d="M1105,973.6l13.5,-3.1l10.4,-5l-13.6,3.2z" stroke="#3b2ed3"/>
<path d="M1118.5,970.5l13.5,-3.2l10.4,-5.3l-13.5,3.5z" stroke="#3c30d8"/>
<path d="M1132,967.3l13.6,-3.5l10.3,-5.5l-13.5,3.7z" stroke="#3d33dd"/>
<path d="M1145.6,963.8l13.5,-3.6l10.3,-5.7l-13.5,3.8z" stroke="#3e36e2"/>
<path d="M1159.1,960.2l13.5,-3.7l10.4,-6l-13.6,4z" stroke="#3e3ae6"/>
<path d="M1172.6,956.5l13.6,-3.9l10.3,-6.1l-13.5,4z" stroke="#3f3dea"/>
<path d="M1186.2,952.6l13.5,-3.8l10.3,-6.4l-13.5,4.1z" stroke="#4041ed"/>
<path d="M1199.7,948.8l13.5,-3.9l10.4,-6.6l-13.6,4.1z" stroke="#4045f0"/>
<path d="M1213.2,944.9l13.6,-4l10.3,-6.7l-13.5,4.1z" stroke="#4148f3"/>
<path d="M1226.8,940.9l13.5,-3.8l10.3,-6.9l-13.5,4z" stroke="#414cf5"/>
<path d="M418.2,858.7l13.5,3.5l10.3,-7.6l-13.5,-3.6z" stroke="#3c31d9"/>
<path d="M431.7,862.2l13.5,3.6l10.4,-7.5l-13.6,-3.7z" stroke="#3c30d7"/>
<path d="M445.2,865.8l13.6,3.5l10.3,-7.4l-13.5,-3.6z" stroke="#3b2fd6"/>
<path d="M458.8,869.3l13.5,3.5l10.3,-7.2l-13.5,-3.7z" stroke="#3b2fd5"/>
<path d="M472.3,872.8l13.5,3.5l10.3,-7l-13.5,-3.7z" stroke="#3b2ed3"/>
<path d="M485.8,876.3l13.5,3.6l10.4,-6.9l-13.6,-3.7z" stroke="#3b2ed2"/>
<path d="M499.3,879.9l13.6,3.5l10.3,-6.7l-13.5,-3.7z" stroke="#3a2dd0"/>
<path d="M512.9,883.4l13.5,3.6l10.3,-6.5l-13.5,-3.8z" stroke="#3a2ccf"/>
<path d="M526.4,887l13.5,3.7l10.4,-6.4l-13.6,-3.8z" stroke="#3a2ccd"/>
<path d="M539.9,890.7l13.6,3.6l10.3,-6.1l-13.5,-3.9z" stroke="#392bcb"/>
<path d="M553.5,894.3l13.5,3.8l10.3,-6l-13.5,-3.9z" stroke="#392aca"/>
<path d="M567,898.1l13.5,3.7l10.3,-5.8l-13.5,-3.9z" stroke="#392ac8"/>
<path d="M580.5,901.8l13.5,3.8l10.4,-5.6l-13.6,-4z" stroke="#3829c6"/>
<path d="M594,905.6l13.6,3.8l10.3,-5.5l-13.5,-3.9z" stroke="#3828c4"/>
<path d="M607.6,909.4l13.5,3.8l10.3,-5.3l-13.5,-4z" stroke="#3828c2"/>
<path d="M621.1,913.2l13.5,3.9l10.4,-5.2l-13.6,-4z" stroke="#3727c0"/>
<path d="M634.6,917.1l13.6,3.8l10.3,-5.1l-13.5,-3.9z" stroke="#3726be"/>
<path d="M648.2,920.9l13.5,3.8l10.3,-4.9l-13.5,-4z" stroke="#3626bc"/>
<path d="M661.7,924.7l13.5,3.8l10.4,-4.8l-13.6,-3.9z" stroke="#3625ba"/>
<path d="M675.2,928.5l13.6,3.7l10.3,-4.6l-13.5,-3.9z" stroke="#3624b8"/>
<path d="M688.8,932.2l13.5,3.6l10.3,-4.4l-13.5,-3.8z" stroke="#3524b6"/>
<path d="M702.3,935.8l5,1.3l15.2,-0.4l3.6,-1.5l-13.5,-3.8z" stroke="none"/><path d="M702.3,935.8L707.3,937.1M722.5,936.7L726.1,935.2M726.1,935.2L712.6,931.4M712.6,931.4L702.3,935.8" fill="none" stroke="#3523b5"/>
<path d="M730.6,936.4l-4.5,-1.2l-3.6,1.5z" stroke="none"/><path d="M730.6,936.4L726.1,935.2M726.1,935.2L722.5,936.7" fill="none" stroke="#3522b3"/>
<path d="M999.8,984.5l0.2,0l0.1,0z" stroke="none"/><path d="M999.8,984.5L1000,984.5M1000,984.5L1000.1,984.5" fill="none" stroke="#3522b2"/>
<path d="M1000,984.5l13.5,0.4l10.3,-1.9l-5.9,-0.1l-17.8,1.6z" stroke="none"/><path d="M1000,984.5L1013.5,984.9M1013.5,984.9L1023.8,983M1023.8,983L1017.9,982.9M1000.1,984.5L1000,984.5" fill="none" stroke="#3523b5"/>
<path d="M1013.5,984.9l13.5,0l10.3,-2l-13.5,0.1z" stroke="#3524b7"/>
<path d="M1027,984.9l13.5,-0.5l10.4,-2.2l-13.6,0.7z" stroke="#3625ba"/>
<path d="M1040.5,984.4l13.6,-1l10.3,-2.7l-13.5,1.5z" stroke="#3726bd"/>
<path d="M1054.1,983.4l13.5,-1.6l10.3,-3.1l-13.5,2z" stroke="#3828c2"/>
<path d="M1067.6,981.8l13.5,-2.1l10.4,-3.4l-13.6,2.4z" stroke="#3829c6"/>
<path d="M1081.1,979.7l13.6,-2.4l10.3,-3.7l-13.5,2.7z" stroke="#392bcc"/>
<path d="M1094.7,977.3l13.5,-2.7l10.3,-4.1l-13.5,3.1z" stroke="#3a2dd1"/>
<path d="M1108.2,974.6l13.5,-2.9l10.3,-4.4l-13.5,3.2z" stroke="#3b30d6"/>
<path d="M1121.7,971.7l13.6,-3.2l10.3,-4.7l-13.6,3.5z" stroke="#3c32db"/>
<path d="M1135.3,968.5l13.5,-3.3l10.3,-5l-13.5,3.6z" stroke="#3d35e0"/>
<path d="M1148.8,965.2l13.5,-3.5l10.3,-5.2l-13.5,3.7z" stroke="#3e38e4"/>
<path d="M1162.3,961.7l13.5,-3.6l10.4,-5.5l-13.6,3.9z" stroke="#3f3ce8"/>
<path d="M1175.8,958.1l13.6,-3.6l10.3,-5.7l-13.5,3.8z" stroke="#3f3feb"/>
<path d="M1189.4,954.5l13.5,-3.7l10.3,-5.9l-13.5,3.9z" stroke="#4043ee"/>
<path d="M1202.9,950.8l13.5,-3.7l10.4,-6.2l-13.6,4z" stroke="#4046f1"/>
<path d="M1216.4,947.1l13.6,-3.7l10.3,-6.3l-13.5,3.8z" stroke="#414af4"/>
<path d="M407.8,865.7l13.6,3.5l10.3,-7l-13.5,-3.5z" stroke="#3b2fd5"/>
<path d="M421.4,869.2l13.5,3.4l10.3,-6.8l-13.5,-3.6z" stroke="#3b2ed3"/>
<path d="M434.9,872.6l13.5,3.4l10.4,-6.7l-13.6,-3.5z" stroke="#3b2ed2"/>
<path d="M448.4,876l13.6,3.3l10.3,-6.5l-13.5,-3.5z" stroke="#3a2dd0"/>
<path d="M462,879.3l13.5,3.4l10.3,-6.4l-13.5,-3.5z" stroke="#3a2dcf"/>
<path d="M475.5,882.7l13.5,3.3l10.3,-6.1l-13.5,-3.6z" stroke="#3a2cce"/>
<path d="M489,886l13.5,3.4l10.4,-6l-13.6,-3.5z" stroke="#3a2bcc"/>
<path d="M502.5,889.4l13.6,3.5l10.3,-5.9l-13.5,-3.6z" stroke="#392bcb"/>
<path d="M516.1,892.9l13.5,3.5l10.3,-5.7l-13.5,-3.7z" stroke="#392ac9"/>
<path d="M529.6,896.4l13.5,3.5l10.4,-5.6l-13.6,-3.6z" stroke="#392ac8"/>
<path d="M543.1,899.9l13.6,3.6l10.3,-5.4l-13.5,-3.8z" stroke="#3829c6"/>
<path d="M556.7,903.5l13.5,3.6l10.3,-5.3l-13.5,-3.7z" stroke="#3829c5"/>
<path d="M570.2,907.1l13.5,3.6l10.3,-5.1l-13.5,-3.8z" stroke="#3828c3"/>
<path d="M583.7,910.7l13.6,3.7l10.3,-5l-13.6,-3.8z" stroke="#3727c1"/>
<path d="M597.3,914.4l13.5,3.7l10.3,-4.9l-13.5,-3.8z" stroke="#3727bf"/>
<path d="M610.8,918.1l13.5,3.7l10.3,-4.7l-13.5,-3.9z" stroke="#3726bd"/>
<path d="M624.3,921.8l13.5,3.7l10.4,-4.6l-13.6,-3.8z" stroke="#3625bc"/>
<path d="M637.8,925.5l13.6,3.6l10.3,-4.4l-13.5,-3.8z" stroke="#3625ba"/>
<path d="M651.4,929.1l13.5,3.6l10.3,-4.2l-13.5,-3.8z" stroke="#3624b8"/>
<path d="M664.9,932.7l13.5,3.6l10.4,-4.1l-13.6,-3.7z" stroke="#3524b6"/>
<path d="M678.4,936.3l7.6,2l11.4,-0.6l4.9,-1.9l-13.5,-3.6z" stroke="none"/><path d="M678.4,936.3L686,938.3M697.4,937.7L702.3,935.8M702.3,935.8L688.8,932.2M688.8,932.2L678.4,936.3" fill="none" stroke="#3523b5"/>
<path d="M707.3,937.1l-5,-1.3l-4.9,1.9z" stroke="none"/><path d="M707.3,937.1L702.3,935.8M702.3,935.8L697.4,937.7" fill="none" stroke="#3523b3"/>
<path d="M971.4,984.5l4.7,0.3l2.3,-0.2z" stroke="none"/><path d="M971.4,984.5L976.1,984.8M976.1,984.8L978.4,984.6" fill="none" stroke="#3522b3"/>
<path d="M976.1,984.8l13.5,0.8l10.4,-1.1l-0.2,0l-21.4,0.1z" stroke="none"/><path d="M976.1,984.8L989.6,985.6M989.6,985.6L1000,984.5M1000,984.5L999.8,984.5M978.4,984.6L976.1,984.8" fill="none" stroke="#3523b4"/>
<path d="M989.6,985.6l13.6,0.5l10.3,-1.2l-13.5,-0.4z" stroke="#3524b6"/>
<path d="M1003.1,986.1l13.5,0.1l10.3,-1.3l-13.5,0z" stroke="#3624b8"/>
<path d="M1016.7,986.2l13.5,-0.3l10.3,-1.5l-13.5,0.5z" stroke="#3625bb"/>
<path d="M1030.2,985.9l13.5,-0.7l10.4,-1.8l-13.6,1z" stroke="#3726be"/>
<path d="M1043.7,985.2l13.6,-1.2l10.3,-2.2l-13.5,1.6z" stroke="#3828c2"/>
<path d="M1057.3,984l13.5,-1.6l10.3,-2.7l-13.5,2.1z" stroke="#3829c7"/>
<path d="M1070.8,982.4l13.5,-2l10.4,-3.1l-13.6,2.4z" stroke="#392bcb"/>
<path d="M1084.3,980.4l13.6,-2.3l10.3,-3.5l-13.5,2.7z" stroke="#3a2dd0"/>
<path d="M1097.9,978.1l13.5,-2.6l10.3,-3.8l-13.5,2.9z" stroke="#3b2fd5"/>
<path d="M1111.4,975.5l13.5,-2.9l10.4,-4.1l-13.6,3.2z" stroke="#3c32da"/>
<path d="M1124.9,972.6l13.6,-3l10.3,-4.4l-13.5,3.3z" stroke="#3d34df"/>
<path d="M1138.5,969.6l13.5,-3.2l10.3,-4.7l-13.5,3.5z" stroke="#3e37e3"/>
<path d="M1152,966.4l13.5,-3.3l10.3,-5l-13.5,3.6z" stroke="#3e3ae6"/>
<path d="M1165.5,963.1l13.5,-3.4l10.4,-5.2l-13.6,3.6z" stroke="#3f3eea"/>
<path d="M1179,959.7l13.6,-3.4l10.3,-5.5l-13.5,3.7z" stroke="#4041ed"/>
<path d="M1192.6,956.3l13.5,-3.5l10.3,-5.7l-13.5,3.7z" stroke="#4045f0"/>
<path d="M1206.1,952.8l13.5,-3.5l10.4,-5.9l-13.6,3.7z" stroke="#4148f2"/>
<path d="M397.5,871.9l13.5,3.4l10.4,-6.1l-13.6,-3.5z" stroke="#3a2dd1"/>
<path d="M411,875.3l13.6,3.2l10.3,-5.9l-13.5,-3.4z" stroke="#3a2dcf"/>
<path d="M424.6,878.5l13.5,3.3l10.3,-5.8l-13.5,-3.4z" stroke="#3a2cce"/>
<path d="M438.1,881.8l13.5,3.2l10.4,-5.7l-13.6,-3.3z" stroke="#3a2ccd"/>
<path d="M451.6,885l13.6,3.2l10.3,-5.5l-13.5,-3.4z" stroke="#392bcc"/>
<path d="M465.2,888.2l13.5,3.2l10.3,-5.4l-13.5,-3.3z" stroke="#392bcb"/>
<path d="M478.7,891.4l13.5,3.3l10.3,-5.3l-13.5,-3.4z" stroke="#392ac9"/>
<path d="M492.2,894.7l13.5,3.3l10.4,-5.1l-13.6,-3.5z" stroke="#392ac8"/>
<path d="M505.7,898l13.6,3.4l10.3,-5l-13.5,-3.5z" stroke="#3829c7"/>
<path d="M519.3,901.4l13.5,3.4l10.3,-4.9l-13.5,-3.5z" stroke="#3829c5"/>
<path d="M532.8,904.8l13.5,3.4l10.4,-4.7l-13.6,-3.6z" stroke="#3828c4"/>
<path d="M546.3,908.2l13.6,3.5l10.3,-4.6l-13.5,-3.6z" stroke="#3828c2"/>
<path d="M559.9,911.7l13.5,3.5l10.3,-4.5l-13.5,-3.6z" stroke="#3727c0"/>
<path d="M573.4,915.2l13.5,3.5l10.4,-4.3l-13.6,-3.7z" stroke="#3727bf"/>
<path d="M586.9,918.7l13.5,3.6l10.4,-4.2l-13.5,-3.7z" stroke="#3726bd"/>
<path d="M600.4,922.3l13.6,3.6l10.3,-4.1l-13.5,-3.7z" stroke="#3625bc"/>
<path d="M614,925.9l13.5,3.5l10.3,-3.9l-13.5,-3.7z" stroke="#3625ba"/>
<path d="M627.5,929.4l13.5,3.6l10.4,-3.9l-13.6,-3.6z" stroke="#3624b8"/>
<path d="M641,933l13.6,3.5l10.3,-3.8l-13.5,-3.6z" stroke="#3524b7"/>
<path d="M654.6,936.5l13.5,3.4l10.3,-3.6l-13.5,-3.6z" stroke="#3523b5"/>
<path d="M668.1,939.9l0,0l17.9,-1.6l-7.6,-2z" stroke="none"/><path d="M668.1,939.9L668.1,939.9M686,938.3L678.4,936.3M678.4,936.3L668.1,939.9" fill="none" stroke="#3523b4"/>
<path d="M938.7,983.8l0,0l0,0z" stroke="none"/><path d="M938.7,983.8L938.7,983.8M938.7,983.8L938.7,983.8" fill="none" stroke="#3522b2"/>
<path d="M938.7,983.8l13.5,1.1l6,-0.6l-19.5,-0.5z" stroke="none"/><path d="M938.7,983.8L952.2,984.9M952.2,984.9L958.2,984.3M938.7,983.8L938.7,983.8" fill="none" stroke="#3523b4"/>
<path d="M952.2,984.9l13.6,1l10.3,-1.1l-4.7,-0.3l-13.2,-0.2z" stroke="none"/><path d="M952.2,984.9L965.8,985.9M965.8,985.9L976.1,984.8M976.1,984.8L971.4,984.5M958.2,984.3L952.2,984.9" fill="none" stroke="#3523b5"/>
<path d="M965.8,985.9l13.5,0.8l10.3,-1.1l-13.5,-0.8z" stroke="#3524b6"/>
<path d="M979.3,986.7l13.5,0.6l10.4,-1.2l-13.6,-0.5z" stroke="#3624b8"/>
<path d="M992.8,987.3l13.6,0.3l10.3,-1.4l-13.5,-0.1z" stroke="#3625ba"/>
<path d="M1006.3,987.6l13.5,-0.2l10.3,-1.5l-13.5,0.3z" stroke="#3726bd"/>
<path d="M1019.9,987.4l13.5,-0.5l10.3,-1.7l-13.5,0.7z" stroke="#3727c0"/>
<path d="M1033.4,986.9l13.5,-0.9l10.4,-2l-13.6,1.2z" stroke="#3828c3"/>
<path d="M1046.9,986l13.6,-1.3l10.3,-2.3l-13.5,1.6z" stroke="#392ac7"/>
<path d="M1060.5,984.7l13.5,-1.6l10.3,-2.7l-13.5,2z" stroke="#392bcc"/>
<path d="M1074,983.1l13.5,-2l10.4,-3l-13.6,2.3z" stroke="#3a2dd0"/>
<path d="M1087.5,981.1l13.6,-2.2l10.3,-3.4l-13.5,2.6z" stroke="#3b2fd5"/>
<path d="M1101.1,978.9l13.5,-2.5l10.3,-3.8l-13.5,2.9z" stroke="#3c31d9"/>
<path d="M1114.6,976.4l13.5,-2.7l10.4,-4.1l-13.6,3z" stroke="#3d34de"/>
<path d="M1128.1,973.7l13.5,-2.8l10.4,-4.5l-13.5,3.2z" stroke="#3e36e2"/>
<path d="M1141.7,970.9l13.6,-3.1l10.3,-4.7l-13.5,3.3z" stroke="#3e39e5"/>
<path d="M1155.2,967.8l13.5,-3.1l10.3,-5l-13.5,3.4z" stroke="#3f3ce9"/>
<path d="M1168.7,964.7l13.5,-3.2l10.4,-5.2l-13.6,3.4z" stroke="#3f40ec"/>
<path d="M1182.2,961.5l13.6,-3.2l10.3,-5.5l-13.5,3.5z" stroke="#4043ef"/>
<path d="M1195.8,958.3l13.5,-3.3l10.3,-5.7l-13.5,3.5z" stroke="#4046f1"/>
<path d="M387.2,876.6l13.5,3.4l10.3,-4.7l-13.5,-3.4z" stroke="#3a2cce"/>
<path d="M400.7,880l13.5,3.2l10.4,-4.7l-13.6,-3.2z" stroke="#3a2ccd"/>
<path d="M414.2,883.2l13.6,3.2l10.3,-4.6l-13.5,-3.3z" stroke="#392bcc"/>
<path d="M427.8,886.4l13.5,3.2l10.3,-4.6l-13.5,-3.2z" stroke="#392bca"/>
<path d="M441.3,889.6l13.5,3.1l10.4,-4.5l-13.6,-3.2z" stroke="#392ac9"/>
<path d="M454.8,892.7l13.5,3.2l10.4,-4.5l-13.5,-3.2z" stroke="#392ac8"/>
<path d="M468.3,895.9l13.6,3.2l10.3,-4.4l-13.5,-3.3z" stroke="#3929c7"/>
<path d="M481.9,899.1l13.5,3.2l10.3,-4.3l-13.5,-3.3z" stroke="#3829c6"/>
<path d="M495.4,902.3l13.5,3.3l10.4,-4.2l-13.6,-3.4z" stroke="#3829c4"/>
<path d="M508.9,905.6l13.6,3.3l10.3,-4.1l-13.5,-3.4z" stroke="#3828c3"/>
<path d="M522.5,908.9l13.5,3.4l10.3,-4.1l-13.5,-3.4z" stroke="#3828c2"/>
<path d="M536,912.3l13.5,3.3l10.4,-3.9l-13.6,-3.5z" stroke="#3727c0"/>
<path d="M549.5,915.6l13.6,3.4l10.3,-3.8l-13.5,-3.5z" stroke="#3727bf"/>
<path d="M563.1,919l13.5,3.5l10.3,-3.8l-13.5,-3.5z" stroke="#3726be"/>
<path d="M576.6,922.5l13.5,3.4l10.3,-3.6l-13.5,-3.6z" stroke="#3626bc"/>
<path d="M590.1,925.9l13.5,3.5l10.4,-3.5l-13.6,-3.6z" stroke="#3625bb"/>
<path d="M603.6,929.4l13.6,3.4l10.3,-3.4l-13.5,-3.5z" stroke="#3625b9"/>
<path d="M617.2,932.8l13.5,3.4l10.3,-3.2l-13.5,-3.6z" stroke="#3624b8"/>
<path d="M630.7,936.2l13.5,3.4l10.4,-3.1l-13.6,-3.5z" stroke="#3523b6"/>
<path d="M644.2,939.6l12.1,3l11.8,-2.7l0,0l-13.5,-3.4z" stroke="none"/><path d="M644.2,939.6L656.3,942.6M668.1,939.9L668.1,939.9M668.1,939.9L654.6,936.5M654.6,936.5L644.2,939.6" fill="none" stroke="#3523b5"/>
<path d="M668.1,939.9l0,0l0,0z" stroke="none"/><path d="M668.1,939.9L668.1,939.9M668.1,939.9L668.1,939.9" fill="none" stroke="#3523b3"/>
<path d="M918.3,985l10.1,0.8l10.3,-2l0,0z" stroke="none"/><path d="M918.3,985L928.4,985.8M928.4,985.8L938.7,983.8M938.7,983.8L938.7,983.8" fill="none" stroke="#3523b4"/>
<path d="M928.4,985.8l13.5,1l10.3,-1.9l-13.5,-1.1z" stroke="#3523b5"/>
<path d="M941.9,986.8l13.5,0.9l10.4,-1.8l-13.6,-1z" stroke="#3524b7"/>
<path d="M955.4,987.7l13.6,0.8l10.3,-1.8l-13.5,-0.8z" stroke="#3624b8"/>
<path d="M969,988.5l13.5,0.5l10.3,-1.7l-13.5,-0.6z" stroke="#3625ba"/>
<path d="M982.5,989l13.5,0.3l10.4,-1.7l-13.6,-0.3z" stroke="#3626bc"/>
<path d="M996,989.3l13.6,0l10.3,-1.9l-13.5,0.2z" stroke="#3726be"/>
<path d="M1009.6,989.3l13.5,-0.4l10.3,-2l-13.5,0.5z" stroke="#3727c1"/>
<path d="M1023.1,988.9l13.5,-0.7l10.3,-2.2l-13.5,0.9z" stroke="#3829c4"/>
<path d="M1036.6,988.2l13.5,-1l10.4,-2.5l-13.6,1.3z" stroke="#392ac8"/>
<path d="M1050.1,987.2l13.6,-1.4l10.3,-2.7l-13.5,1.6z" stroke="#392bcc"/>
<path d="M1063.7,985.8l13.5,-1.6l10.3,-3.1l-13.5,2z" stroke="#3a2dd0"/>
<path d="M1077.2,984.2l13.5,-1.9l10.4,-3.4l-13.6,2.2z" stroke="#3b2fd4"/>
<path d="M1090.7,982.3l13.6,-2.2l10.3,-3.7l-13.5,2.5z" stroke="#3c31d9"/>
<path d="M1104.3,980.1l13.5,-2.4l10.3,-4l-13.5,2.7z" stroke="#3d33dd"/>
<path d="M1117.8,977.7l13.5,-2.5l10.3,-4.3l-13.5,2.8z" stroke="#3d36e1"/>
<path d="M1131.3,975.2l13.6,-2.7l10.3,-4.7l-13.6,3.1z" stroke="#3e38e4"/>
<path d="M1144.9,972.5l13.5,-2.8l10.3,-5l-13.5,3.1z" stroke="#3f3be7"/>
<path d="M1158.4,969.7l13.5,-2.9l10.3,-5.3l-13.5,3.2z" stroke="#3f3eeb"/>
<path d="M1171.9,966.8l13.5,-3l10.4,-5.5l-13.6,3.2z" stroke="#4041ed"/>
<path d="M1185.4,963.8l13.6,-2.9l10.3,-5.9l-13.5,3.3z" stroke="#4045f0"/>
<path d="M376.8,880.4l13.6,3.3l10.3,-3.7l-13.5,-3.4z" stroke="#3a2bcc"/>
<path d="M390.4,883.7l13.5,3.3l10.3,-3.8l-13.5,-3.2z" stroke="#392bcb"/>
<path d="M403.9,887l13.5,3.1l10.4,-3.7l-13.6,-3.2z" stroke="#392bca"/>
<path d="M417.4,890.1l13.6,3.2l10.3,-3.7l-13.5,-3.2z" stroke="#392ac9"/>
<path d="M431,893.3l13.5,3.1l10.3,-3.7l-13.5,-3.1z" stroke="#392ac8"/>
<path d="M444.5,896.4l13.5,3.2l10.3,-3.7l-13.5,-3.2z" stroke="#3929c7"/>
<path d="M458,899.6l13.6,3.1l10.3,-3.6l-13.6,-3.2z" stroke="#3829c6"/>
<path d="M471.6,902.7l13.5,3.2l10.3,-3.6l-13.5,-3.2z" stroke="#3829c4"/>
<path d="M485.1,905.9l13.5,3.2l10.3,-3.5l-13.5,-3.3z" stroke="#3828c3"/>
<path d="M498.6,909.1l13.5,3.3l10.4,-3.5l-13.6,-3.3z" stroke="#3828c2"/>
<path d="M512.1,912.4l13.6,3.3l10.3,-3.4l-13.5,-3.4z" stroke="#3727c1"/>
<path d="M525.7,915.7l13.5,3.2l10.3,-3.3l-13.5,-3.3z" stroke="#3727bf"/>
<path d="M539.2,918.9l13.5,3.4l10.4,-3.3l-13.6,-3.4z" stroke="#3726be"/>
<path d="M552.7,922.3l13.6,3.3l10.3,-3.1l-13.5,-3.5z" stroke="#3726bd"/>
<path d="M566.3,925.6l13.5,3.4l10.3,-3.1l-13.5,-3.4z" stroke="#3625bb"/>
<path d="M579.8,929l13.5,3.3l10.3,-2.9l-13.5,-3.5z" stroke="#3625ba"/>
<path d="M593.3,932.3l13.5,3.4l10.4,-2.9l-13.6,-3.4z" stroke="#3624b9"/>
<path d="M606.9,935.7l13.6,3.3l10.3,-2.8l-13.5,-3.4z" stroke="#3624b7"/>
<path d="M620.4,939l13.5,3.3l10.3,-2.7l-13.5,-3.4z" stroke="#3523b6"/>
<path d="M633.9,942.3l13.5,3.2l6.4,-1.6l2.5,-1.3l-12.1,-3z" stroke="none"/><path d="M633.9,942.3L647.4,945.5M647.4,945.5L653.8,943.9M656.3,942.6L644.2,939.6M644.2,939.6L633.9,942.3" fill="none" stroke="#3523b5"/>
<path d="M647.4,945.5l2.7,0.6l3.7,-2.2z" stroke="none"/><path d="M647.4,945.5L650.1,946.1M653.8,943.9L647.4,945.5" fill="none" stroke="#3523b3"/>
<path d="M903.2,987.1l1.3,0.1l2.7,-0.6z" stroke="none"/><path d="M903.2,987.1L904.5,987.2M904.5,987.2L907.2,986.6" fill="none" stroke="#3523b3"/>
<path d="M904.5,987.2l13.5,1.1l10.4,-2.5l-10.1,-0.8l-11.1,1.6z" stroke="none"/><path d="M904.5,987.2L918,988.3M918,988.3L928.4,985.8M928.4,985.8L918.3,985M907.2,986.6L904.5,987.2" fill="none" stroke="#3523b5"/>
<path d="M918,988.3l13.6,0.9l10.3,-2.4l-13.5,-1z" stroke="#3523b6"/>
<path d="M931.6,989.2l13.5,0.8l10.3,-2.3l-13.5,-0.9z" stroke="#3624b7"/>
<path d="M945.1,990l13.5,0.7l10.4,-2.2l-13.6,-0.8z" stroke="#3625b9"/>
<path d="M958.6,990.7l13.6,0.5l10.3,-2.2l-13.5,-0.5z" stroke="#3625bb"/>
<path d="M972.2,991.2l13.5,0.3l10.3,-2.2l-13.5,-0.3z" stroke="#3726bd"/>
<path d="M985.7,991.5l13.5,0l10.4,-2.2l-13.6,0z" stroke="#3727bf"/>
<path d="M999.2,991.5l13.5,-0.2l10.4,-2.4l-13.5,0.4z" stroke="#3828c2"/>
<path d="M1012.7,991.3l13.6,-0.6l10.3,-2.5l-13.5,0.7z" stroke="#3829c5"/>
<path d="M1026.3,990.7l13.5,-0.8l10.3,-2.7l-13.5,1z" stroke="#392ac8"/>
<path d="M1039.8,989.9l13.5,-1.2l10.4,-2.9l-13.6,1.4z" stroke="#3a2bcc"/>
<path d="M1053.3,988.7l13.6,-1.4l10.3,-3.1l-13.5,1.6z" stroke="#3a2dd0"/>
<path d="M1066.9,987.3l13.5,-1.6l10.3,-3.4l-13.5,1.9z" stroke="#3b2ed4"/>
<path d="M1080.4,985.7l13.5,-1.9l10.4,-3.7l-13.6,2.2z" stroke="#3c30d8"/>
<path d="M1093.9,983.8l13.6,-2l10.3,-4.1l-13.5,2.4z" stroke="#3c33dc"/>
<path d="M1107.5,981.8l13.5,-2.3l10.3,-4.3l-13.5,2.5z" stroke="#3d35e0"/>
<path d="M1121,979.5l13.5,-2.4l10.4,-4.6l-13.6,2.7z" stroke="#3e38e3"/>
<path d="M1134.5,977.1l13.5,-2.5l10.4,-4.9l-13.5,2.8z" stroke="#3e3ae6"/>
<path d="M1148,974.6l13.6,-2.6l10.3,-5.2l-13.5,2.9z" stroke="#3f3de9"/>
<path d="M1161.6,972l13.5,-2.7l10.3,-5.5l-13.5,3z" stroke="#4040ec"/>
<path d="M1175.1,969.3l13.5,-2.7l10.4,-5.7l-13.6,2.9z" stroke="#4043ef"/>
<path d="M366.5,883.6l13.5,3.2l10.4,-3.1l-13.6,-3.3z" stroke="#392bcc"/>
<path d="M380,886.8l13.6,3.2l10.3,-3l-13.5,-3.3z" stroke="#392bcb"/>
<path d="M393.6,890l13.5,3.2l10.3,-3.1l-13.5,-3.1z" stroke="#392aca"/>
<path d="M407.1,893.2l13.5,3.1l10.4,-3l-13.6,-3.2z" stroke="#392ac8"/>
<path d="M420.6,896.3l13.6,3.2l10.3,-3.1l-13.5,-3.1z" stroke="#392ac7"/>
<path d="M434.2,899.5l13.5,3.1l10.3,-3l-13.5,-3.2z" stroke="#3829c6"/>
<path d="M447.7,902.6l13.5,3.1l10.4,-3l-13.6,-3.1z" stroke="#3829c5"/>
<path d="M461.2,905.7l13.5,3.2l10.4,-3l-13.5,-3.2z" stroke="#3828c4"/>
<path d="M474.7,908.9l13.6,3.2l10.3,-3l-13.5,-3.2z" stroke="#3828c3"/>
<path d="M488.3,912.1l13.5,3.2l10.3,-2.9l-13.5,-3.3z" stroke="#3828c2"/>
<path d="M501.8,915.3l13.5,3.2l10.4,-2.8l-13.6,-3.3z" stroke="#3727c1"/>
<path d="M515.3,918.5l13.6,3.2l10.3,-2.8l-13.5,-3.2z" stroke="#3727bf"/>
<path d="M528.9,921.7l13.5,3.3l10.3,-2.7l-13.5,-3.4z" stroke="#3726be"/>
<path d="M542.4,925l13.5,3.2l10.4,-2.6l-13.6,-3.3z" stroke="#3726bd"/>
<path d="M555.9,928.2l13.6,3.3l10.3,-2.5l-13.5,-3.4z" stroke="#3625bc"/>
<path d="M569.5,931.5l13.5,3.3l10.3,-2.5l-13.5,-3.3z" stroke="#3625ba"/>
<path d="M583,934.8l13.5,3.3l10.3,-2.4l-13.5,-3.4z" stroke="#3625b9"/>
<path d="M596.5,938.1l13.6,3.2l10.3,-2.3l-13.6,-3.3z" stroke="#3624b8"/>
<path d="M610.1,941.3l13.5,3.3l10.3,-2.3l-13.5,-3.3z" stroke="#3524b6"/>
<path d="M623.6,944.6l13.5,3.1l10.3,-2.2l-13.5,-3.2z" stroke="#3523b5"/>
<path d="M637.1,947.7l12.3,2.9l0.7,-4.5l-2.7,-0.6z" stroke="none"/><path d="M637.1,947.7L649.4,950.6M650.1,946.1L647.4,945.5M647.4,945.5L637.1,947.7" fill="none" stroke="#3523b4"/>
<path d="M890.5,989.6l3.7,0.4l10.3,-2.8l-1.3,-0.1z" stroke="none"/><path d="M890.5,989.6L894.2,990M894.2,990L904.5,987.2M904.5,987.2L903.2,987.1" fill="none" stroke="#3523b4"/>
<path d="M894.2,990l13.5,1l10.3,-2.7l-13.5,-1.1z" stroke="#3523b5"/>
<path d="M907.7,991l13.5,0.9l10.4,-2.7l-13.6,-0.9z" stroke="#3524b6"/>
<path d="M921.2,991.9l13.6,0.8l10.3,-2.7l-13.5,-0.8z" stroke="#3624b8"/>
<path d="M934.8,992.7l13.5,0.7l10.3,-2.7l-13.5,-0.7z" stroke="#3625b9"/>
<path d="M948.3,993.4l13.5,0.5l10.4,-2.7l-13.6,-0.5z" stroke="#3625bb"/>
<path d="M961.8,993.9l13.6,0.3l10.3,-2.7l-13.5,-0.3z" stroke="#3726bd"/>
<path d="M975.4,994.2l13.5,0l10.3,-2.7l-13.5,0z" stroke="#3727c0"/>
<path d="M988.9,994.2l13.5,-0.2l10.3,-2.7l-13.5,0.2z" stroke="#3828c2"/>
<path d="M1002.4,994l13.6,-0.5l10.3,-2.8l-13.6,0.6z" stroke="#3829c5"/>
<path d="M1016,993.5l13.5,-0.7l10.3,-2.9l-13.5,0.8z" stroke="#392ac9"/>
<path d="M1029.5,992.8l13.5,-0.9l10.3,-3.2l-13.5,1.2z" stroke="#3a2bcc"/>
<path d="M1043,991.9l13.5,-1.2l10.4,-3.4l-13.6,1.4z" stroke="#3a2dd0"/>
<path d="M1056.5,990.7l13.6,-1.4l10.3,-3.6l-13.5,1.6z" stroke="#3b2ed4"/>
<path d="M1070.1,989.3l13.5,-1.7l10.3,-3.8l-13.5,1.9z" stroke="#3c30d7"/>
<path d="M1083.6,987.6l13.5,-1.8l10.4,-4l-13.6,2z" stroke="#3c32db"/>
<path d="M1097.1,985.8l13.6,-1.9l10.3,-4.4l-13.5,2.3z" stroke="#3d34df"/>
<path d="M1110.7,983.9l13.5,-2.2l10.3,-4.6l-13.5,2.4z" stroke="#3e37e2"/>
<path d="M1124.2,981.7l13.5,-2.2l10.3,-4.9l-13.5,2.5z" stroke="#3e39e5"/>
<path d="M1137.7,979.5l13.5,-2.3l10.4,-5.2l-13.6,2.6z" stroke="#3f3ce8"/>
<path d="M1151.2,977.2l13.6,-2.4l10.3,-5.5l-13.5,2.7z" stroke="#3f3feb"/>
<path d="M1164.8,974.8l13.5,-2.5l10.3,-5.7l-13.5,2.7z" stroke="#4041ed"/>
<path d="M356.2,886.3l13.5,3.2l10.3,-2.7l-13.5,-3.2z" stroke="#392bcc"/>
<path d="M369.7,889.5l13.5,3.1l10.4,-2.6l-13.6,-3.2z" stroke="#392bcb"/>
<path d="M383.2,892.6l13.6,3.1l10.3,-2.5l-13.5,-3.2z" stroke="#392aca"/>
<path d="M396.8,895.7l13.5,3.2l10.3,-2.6l-13.5,-3.1z" stroke="#392ac9"/>
<path d="M410.3,898.9l13.5,3.1l10.4,-2.5l-13.6,-3.2z" stroke="#392ac7"/>
<path d="M423.8,902l13.6,3.1l10.3,-2.5l-13.5,-3.1z" stroke="#3829c6"/>
<path d="M437.4,905.1l13.5,3.1l10.3,-2.5l-13.5,-3.1z" stroke="#3829c5"/>
<path d="M450.9,908.2l13.5,3.2l10.3,-2.5l-13.5,-3.2z" stroke="#3829c4"/>
<path d="M464.4,911.4l13.6,3.1l10.3,-2.4l-13.6,-3.2z" stroke="#3828c3"/>
<path d="M478,914.5l13.5,3.2l10.3,-2.4l-13.5,-3.2z" stroke="#3828c2"/>
<path d="M491.5,917.7l13.5,3.2l10.3,-2.4l-13.5,-3.2z" stroke="#3727c1"/>
<path d="M505,920.9l13.5,3.2l10.4,-2.4l-13.6,-3.2z" stroke="#3727c0"/>
<path d="M518.5,924.1l13.6,3.2l10.3,-2.3l-13.5,-3.3z" stroke="#3727be"/>
<path d="M532.1,927.3l13.5,3.2l10.3,-2.3l-13.5,-3.2z" stroke="#3726bd"/>
<path d="M545.6,930.5l13.5,3.2l10.4,-2.2l-13.6,-3.3z" stroke="#3626bc"/>
<path d="M559.1,933.7l13.6,3.2l10.3,-2.1l-13.5,-3.3z" stroke="#3625bb"/>
<path d="M572.7,936.9l13.5,3.3l10.3,-2.1l-13.5,-3.3z" stroke="#3625ba"/>
<path d="M586.2,940.2l13.5,3.2l10.4,-2.1l-13.6,-3.2z" stroke="#3624b8"/>
<path d="M599.7,943.4l13.5,3.2l10.4,-2l-13.5,-3.3z" stroke="#3624b7"/>
<path d="M613.2,946.6l13.6,3.1l10.3,-2l-13.5,-3.1z" stroke="#3524b6"/>
<path d="M626.8,949.7l13.5,3.1l9.4,-1.7l-0.3,-0.5l-12.3,-2.9z" stroke="none"/><path d="M626.8,949.7L640.3,952.8M640.3,952.8L649.7,951.1M649.4,950.6L637.1,947.7M637.1,947.7L626.8,949.7" fill="none" stroke="#3523b5"/>
<path d="M640.3,952.8l13,3l-3.6,-4.7z" stroke="none"/><path d="M640.3,952.8L653.3,955.8M649.7,951.1L640.3,952.8" fill="none" stroke="#3523b4"/>
<path d="M879,992.3l4.9,0.5l10.3,-2.8l-3.7,-0.4z" stroke="none"/><path d="M879,992.3L883.9,992.8M883.9,992.8L894.2,990M894.2,990L890.5,989.6" fill="none" stroke="#3523b4"/>
<path d="M883.9,992.8l13.5,1l10.3,-2.8l-13.5,-1z" stroke="#3523b5"/>
<path d="M897.4,993.8l13.5,1l10.3,-2.9l-13.5,-0.9z" stroke="#3524b6"/>
<path d="M910.9,994.8l13.5,0.8l10.4,-2.9l-13.6,-0.8z" stroke="#3624b8"/>
<path d="M924.4,995.6l13.6,0.7l10.3,-2.9l-13.5,-0.7z" stroke="#3625ba"/>
<path d="M938,996.3l13.5,0.5l10.3,-2.9l-13.5,-0.5z" stroke="#3625bb"/>
<path d="M951.5,996.8l13.5,0.3l10.4,-2.9l-13.6,-0.3z" stroke="#3726be"/>
<path d="M965,997.1l13.6,0l10.3,-2.9l-13.5,0z" stroke="#3727c0"/>
<path d="M978.6,997.1l13.5,-0.1l10.3,-3l-13.5,0.2z" stroke="#3828c2"/>
<path d="M992.1,997l13.5,-0.4l10.4,-3.1l-13.6,0.5z" stroke="#3829c5"/>
<path d="M1005.6,996.6l13.6,-0.6l10.3,-3.2l-13.5,0.7z" stroke="#392ac8"/>
<path d="M1019.2,996l13.5,-0.8l10.3,-3.3l-13.5,0.9z" stroke="#392bcc"/>
<path d="M1032.7,995.2l13.5,-1l10.3,-3.5l-13.5,1.2z" stroke="#3a2dcf"/>
<path d="M1046.2,994.2l13.5,-1.2l10.4,-3.7l-13.6,1.4z" stroke="#3b2ed3"/>
<path d="M1059.7,993l13.6,-1.5l10.3,-3.9l-13.5,1.7z" stroke="#3b30d7"/>
<path d="M1073.3,991.5l13.5,-1.5l10.3,-4.2l-13.5,1.8z" stroke="#3c32da"/>
<path d="M1086.8,990l13.5,-1.8l10.4,-4.3l-13.6,1.9z" stroke="#3d34de"/>
<path d="M1100.3,988.2l13.6,-1.9l10.3,-4.6l-13.5,2.2z" stroke="#3d36e1"/>
<path d="M1113.9,986.3l13.5,-2l10.3,-4.8l-13.5,2.2z" stroke="#3e38e4"/>
<path d="M1127.4,984.3l13.5,-2l10.3,-5.1l-13.5,2.3z" stroke="#3f3be7"/>
<path d="M1140.9,982.3l13.5,-2.2l10.4,-5.3l-13.6,2.4z" stroke="#3f3de9"/>
<path d="M1154.5,980.1l13.6,-2.3l10.3,-5.5l-13.5,2.5z" stroke="#4040ec"/>
<path d="M345.8,888.7l13.6,3.1l10.3,-2.3l-13.5,-3.2z" stroke="#3a2bcc"/>
<path d="M359.4,891.8l13.5,3.1l10.3,-2.3l-13.5,-3.1z" stroke="#392bcb"/>
<path d="M372.9,894.9l13.5,3.1l10.4,-2.3l-13.6,-3.1z" stroke="#392bca"/>
<path d="M386.4,898l13.6,3.1l10.3,-2.2l-13.5,-3.2z" stroke="#392ac9"/>
<path d="M400,901.1l13.5,3.1l10.3,-2.2l-13.5,-3.1z" stroke="#392ac8"/>
<path d="M413.5,904.2l13.5,3.1l10.4,-2.2l-13.6,-3.1z" stroke="#3929c7"/>
<path d="M427,907.3l13.6,3.1l10.3,-2.2l-13.5,-3.1z" stroke="#3829c6"/>
<path d="M440.6,910.4l13.5,3.1l10.3,-2.1l-13.5,-3.2z" stroke="#3829c5"/>
<path d="M454.1,913.5l13.5,3.1l10.4,-2.1l-13.6,-3.1z" stroke="#3828c4"/>
<path d="M467.6,916.6l13.6,3.2l10.3,-2.1l-13.5,-3.2z" stroke="#3828c3"/>
<path d="M481.1,919.8l13.5,3.1l10.3,-2l-13.5,-3.2z" stroke="#3828c2"/>
<path d="M494.7,922.9l13.5,3.2l10.3,-2l-13.5,-3.2z" stroke="#3727c0"/>
<path d="M508.2,926.1l13.5,3.2l10.4,-2l-13.6,-3.2z" stroke="#3727bf"/>
<path d="M521.7,929.3l13.6,3.1l10.3,-1.9l-13.5,-3.2z" stroke="#3726be"/>
<path d="M535.3,932.4l13.5,3.2l10.3,-1.9l-13.5,-3.2z" stroke="#3726bd"/>
<path d="M548.8,935.6l13.5,3.2l10.4,-1.9l-13.6,-3.2z" stroke="#3626bc"/>
<path d="M562.3,938.8l13.6,3.2l10.3,-1.8l-13.5,-3.3z" stroke="#3625bb"/>
<path d="M575.9,942l13.5,3.2l10.3,-1.8l-13.5,-3.2z" stroke="#3625ba"/>
<path d="M589.4,945.2l13.5,3.1l10.3,-1.7l-13.5,-3.2z" stroke="#3624b8"/>
<path d="M602.9,948.3l13.5,3.2l10.4,-1.8l-13.6,-3.1z" stroke="#3624b7"/>
<path d="M616.4,951.5l13.6,3.1l10.3,-1.8l-13.5,-3.1z" stroke="#3524b6"/>
<path d="M630,954.6l13.5,3.1l10,-1.7l-0.2,-0.2l-13,-3z" stroke="none"/><path d="M630,954.6L643.5,957.7M643.5,957.7L653.5,956M653.3,955.8L640.3,952.8M640.3,952.8L630,954.6" fill="none" stroke="#3523b5"/>
<path d="M643.5,957.7l13.5,3.1l1.9,-0.4l-5.4,-4.4z" stroke="none"/><path d="M643.5,957.7L657,960.8M657,960.8L658.9,960.4M653.5,956L643.5,957.7" fill="none" stroke="#3523b4"/>
<path d="M657,960.8l3.3,0.7l-1.4,-1.1z" stroke="none"/><path d="M657,960.8L660.3,961.5M658.9,960.4L657,960.8" fill="none" stroke="#3523b3"/>
<path d="M868,995.1l5.5,0.5l10.4,-2.8l-4.9,-0.5z" stroke="none"/><path d="M868,995.1L873.5,995.6M873.5,995.6L883.9,992.8M883.9,992.8L879,992.3" fill="none" stroke="#3523b4"/>
<path d="M873.5,995.6l13.5,1.1l10.4,-2.9l-13.5,-1z" stroke="#3523b5"/>
<path d="M887.1,996.7l13.6,1l10.3,-2.9l-13.5,-1z" stroke="#3524b6"/>
<path d="M900.6,997.7l13.5,0.8l10.3,-2.9l-13.5,-0.8z" stroke="#3624b8"/>
<path d="M914.1,998.5l13.5,0.7l10.4,-2.9l-13.6,-0.7z" stroke="#3625ba"/>
<path d="M927.6,999.2l13.6,0.6l10.3,-3l-13.5,-0.5z" stroke="#3625bb"/>
<path d="M941.2,999.8l13.5,0.3l10.3,-3l-13.5,-0.3z" stroke="#3726bd"/>
<path d="M954.7,1000.1l13.5,0.1l10.4,-3.1l-13.6,0z" stroke="#3727c0"/>
<path d="M968.2,1000.2l13.6,0l10.3,-3.2l-13.5,0.1z" stroke="#3828c2"/>
<path d="M981.8,1000.2l13.5,-0.3l10.3,-3.3l-13.5,0.4z" stroke="#3829c5"/>
<path d="M995.3,999.9l13.5,-0.5l10.4,-3.4l-13.6,0.6z" stroke="#392ac8"/>
<path d="M1008.8,999.4l13.6,-0.7l10.3,-3.5l-13.5,0.8z" stroke="#392bcb"/>
<path d="M1022.4,998.7l13.5,-0.9l10.3,-3.6l-13.5,1z" stroke="#3a2ccf"/>
<path d="M1035.9,997.8l13.5,-1.1l10.3,-3.7l-13.5,1.2z" stroke="#3b2ed2"/>
<path d="M1049.4,996.7l13.5,-1.2l10.4,-4l-13.6,1.5z" stroke="#3b2fd6"/>
<path d="M1062.9,995.5l13.6,-1.4l10.3,-4.1l-13.5,1.5z" stroke="#3c31d9"/>
<path d="M1076.5,994.1l13.5,-1.5l10.3,-4.4l-13.5,1.8z" stroke="#3d33dc"/>
<path d="M1090,992.6l13.5,-1.7l10.4,-4.6l-13.6,1.9z" stroke="#3d35e0"/>
<path d="M1103.5,990.9l13.6,-1.8l10.3,-4.8l-13.5,2z" stroke="#3e37e2"/>
<path d="M1117.1,989.1l13.5,-1.9l10.3,-4.9l-13.5,2z" stroke="#3e39e5"/>
<path d="M1130.6,987.2l13.5,-1.9l10.3,-5.2l-13.5,2.2z" stroke="#3f3ce8"/>
<path d="M1144.1,985.3l13.5,-2.1l10.4,-5.4l-13.6,2.3z" stroke="#3f3eeb"/>
<path d="M335.5,891l13.5,3l10.4,-2.2l-13.6,-3.1z" stroke="#3a2ccd"/>
<path d="M349,894l13.6,3l10.3,-2.1l-13.5,-3.1z" stroke="#392bcc"/>
<path d="M362.6,897l13.5,3l10.3,-2l-13.5,-3.1z" stroke="#392bcb"/>
<path d="M376.1,900l13.5,3.1l10.4,-2l-13.6,-3.1z" stroke="#392bca"/>
<path d="M389.6,903.1l13.6,3.1l10.3,-2l-13.5,-3.1z" stroke="#392ac9"/>
<path d="M403.2,906.2l13.5,3l10.3,-1.9l-13.5,-3.1z" stroke="#392ac8"/>
<path d="M416.7,909.2l13.5,3.1l10.4,-1.9l-13.6,-3.1z" stroke="#3929c7"/>
<path d="M430.2,912.3l13.6,3.1l10.3,-1.9l-13.5,-3.1z" stroke="#3829c6"/>
<path d="M443.8,915.4l13.5,3.1l10.3,-1.9l-13.5,-3.1z" stroke="#3829c5"/>
<path d="M457.3,918.5l13.5,3.2l10.4,-1.9l-13.6,-3.2z" stroke="#3828c4"/>
<path d="M470.8,921.7l13.6,3.1l10.3,-1.9l-13.5,-3.1z" stroke="#3828c3"/>
<path d="M484.3,924.8l13.5,3.1l10.3,-1.8l-13.5,-3.2z" stroke="#3828c2"/>
<path d="M497.9,927.9l13.5,3.2l10.3,-1.8l-13.5,-3.2z" stroke="#3727c0"/>
<path d="M511.4,931.1l13.5,3.1l10.4,-1.8l-13.6,-3.1z" stroke="#3727bf"/>
<path d="M524.9,934.2l13.6,3.2l10.3,-1.8l-13.5,-3.2z" stroke="#3726be"/>
<path d="M538.5,937.4l13.5,3.1l10.3,-1.7l-13.5,-3.2z" stroke="#3726bd"/>
<path d="M552,940.5l13.5,3.2l10.4,-1.7l-13.6,-3.2z" stroke="#3626bc"/>
<path d="M565.5,943.7l13.6,3.1l10.3,-1.6l-13.5,-3.2z" stroke="#3625bb"/>
<path d="M579.1,946.8l13.5,3.2l10.3,-1.7l-13.5,-3.1z" stroke="#3625ba"/>
<path d="M592.6,950l13.5,3.2l10.3,-1.7l-13.5,-3.2z" stroke="#3624b9"/>
<path d="M606.1,953.2l13.5,3.1l10.4,-1.7l-13.6,-3.1z" stroke="#3624b8"/>
<path d="M619.6,956.3l13.6,3.1l10.3,-1.7l-13.5,-3.1z" stroke="#3524b6"/>
<path d="M633.2,959.4l13.5,3.1l10.3,-1.7l-13.5,-3.1z" stroke="#3523b5"/>
<path d="M646.7,962.5l13.5,3.1l4.4,-0.8l-4.3,-3.3l-3.3,-0.7z" stroke="none"/><path d="M646.7,962.5L660.2,965.6M660.2,965.6L664.6,964.8M660.3,961.5L657,960.8M657,960.8L646.7,962.5" fill="none" stroke="#3523b4"/>
<path d="M660.2,965.6l7.5,1.6l-3.1,-2.4z" stroke="none"/><path d="M660.2,965.6L667.7,967.2M664.6,964.8L660.2,965.6" fill="none" stroke="#3523b3"/>
<path d="M856.8,997.9l6.4,0.6l10.3,-2.9l-5.5,-0.5z" stroke="none"/><path d="M856.8,997.9L863.2,998.5M863.2,998.5L873.5,995.6M873.5,995.6L868,995.1" fill="none" stroke="#3523b4"/>
<path d="M863.2,998.5l13.5,1.1l10.3,-2.9l-13.5,-1.1z" stroke="#3523b5"/>
<path d="M876.7,999.6l13.6,1l10.3,-2.9l-13.6,-1z" stroke="#3524b6"/>
<path d="M890.3,1000.6l13.5,0.9l10.3,-3l-13.5,-0.8z" stroke="#3624b8"/>
<path d="M903.8,1001.5l13.5,0.7l10.3,-3l-13.5,-0.7z" stroke="#3625ba"/>
<path d="M917.3,1002.2l13.5,0.5l10.4,-2.9l-13.6,-0.6z" stroke="#3625bb"/>
<path d="M930.8,1002.7l13.6,0.5l10.3,-3.1l-13.5,-0.3z" stroke="#3726bd"/>
<path d="M944.4,1003.2l13.5,0.2l10.3,-3.2l-13.5,-0.1z" stroke="#3727bf"/>
<path d="M957.9,1003.4l13.5,-0.1l10.4,-3.1l-13.6,0z" stroke="#3828c2"/>
<path d="M971.4,1003.3l13.6,-0.2l10.3,-3.2l-13.5,0.3z" stroke="#3829c5"/>
<path d="M985,1003.1l13.5,-0.4l10.3,-3.3l-13.5,0.5z" stroke="#392ac8"/>
<path d="M998.5,1002.7l13.5,-0.6l10.4,-3.4l-13.6,0.7z" stroke="#392bcb"/>
<path d="M1012,1002.1l13.6,-0.7l10.3,-3.6l-13.5,0.9z" stroke="#3a2cce"/>
<path d="M1025.6,1001.4l13.5,-0.9l10.3,-3.8l-13.5,1.1z" stroke="#3a2dd1"/>
<path d="M1039.1,1000.5l13.5,-1.1l10.3,-3.9l-13.5,1.2z" stroke="#3b2fd5"/>
<path d="M1052.6,999.4l13.5,-1.2l10.4,-4.1l-13.6,1.4z" stroke="#3c30d8"/>
<path d="M1066.1,998.2l13.6,-1.3l10.3,-4.3l-13.5,1.5z" stroke="#3c32db"/>
<path d="M1079.7,996.9l13.5,-1.5l10.3,-4.5l-13.5,1.7z" stroke="#3d34de"/>
<path d="M1093.2,995.4l13.5,-1.6l10.4,-4.7l-13.6,1.8z" stroke="#3d36e1"/>
<path d="M1106.7,993.8l13.6,-1.7l10.3,-4.9l-13.5,1.9z" stroke="#3e38e4"/>
<path d="M1120.3,992.1l13.5,-1.7l10.3,-5.1l-13.5,1.9z" stroke="#3f3be7"/>
<path d="M1133.8,990.4l13.5,-1.9l10.3,-5.3l-13.5,2.1z" stroke="#3f3de9"/>
<path d="M325.2,893.2l13.5,2.9l10.3,-2.1l-13.5,-3z" stroke="#3a2cce"/>
<path d="M338.7,896.1l13.5,3l10.4,-2.1l-13.6,-3z" stroke="#3a2ccd"/>
<path d="M352.2,899.1l13.6,2.9l10.3,-2l-13.5,-3z" stroke="#392bcc"/>
<path d="M365.8,902l13.5,3.1l10.3,-2l-13.5,-3.1z" stroke="#392bcb"/>
<path d="M379.3,905.1l13.5,3l10.4,-1.9l-13.6,-3.1z" stroke="#392bca"/>
<path d="M392.8,908.1l13.6,3.1l10.3,-2l-13.5,-3z" stroke="#392ac9"/>
<path d="M406.4,911.2l13.5,3l10.3,-1.9l-13.5,-3.1z" stroke="#392ac8"/>
<path d="M419.9,914.2l13.5,3.1l10.4,-1.9l-13.6,-3.1z" stroke="#3929c7"/>
<path d="M433.4,917.3l13.6,3.1l10.3,-1.9l-13.5,-3.1z" stroke="#3829c6"/>
<path d="M447,920.4l13.5,3.1l10.3,-1.8l-13.5,-3.2z" stroke="#3829c5"/>
<path d="M460.5,923.5l13.5,3.1l10.4,-1.8l-13.6,-3.1z" stroke="#3828c4"/>
<path d="M474,926.6l13.6,3.1l10.3,-1.8l-13.5,-3.1z" stroke="#3828c3"/>
<path d="M487.6,929.7l13.5,3.1l10.3,-1.7l-13.5,-3.2z" stroke="#3828c2"/>
<path d="M501.1,932.8l13.5,3.1l10.3,-1.7l-13.5,-3.1z" stroke="#3727c1"/>
<path d="M514.6,935.9l13.5,3.2l10.4,-1.7l-13.6,-3.2z" stroke="#3727c0"/>
<path d="M528.1,939.1l13.6,3.1l10.3,-1.7l-13.5,-3.1z" stroke="#3726be"/>
<path d="M541.7,942.2l13.5,3.1l10.3,-1.6l-13.5,-3.2z" stroke="#3726bd"/>
<path d="M555.2,945.3l13.5,3.2l10.4,-1.7l-13.6,-3.1z" stroke="#3726bc"/>
<path d="M568.7,948.5l13.6,3.1l10.3,-1.6l-13.5,-3.2z" stroke="#3625bb"/>
<path d="M582.3,951.6l13.5,3.2l10.3,-1.6l-13.5,-3.2z" stroke="#3625ba"/>
<path d="M595.8,954.8l13.5,3.2l10.3,-1.7l-13.5,-3.1z" stroke="#3625b9"/>
<path d="M609.3,958l13.5,3.1l10.4,-1.7l-13.6,-3.1z" stroke="#3624b8"/>
<path d="M622.8,961.1l13.6,3.2l10.3,-1.8l-13.5,-3.1z" stroke="#3524b7"/>
<path d="M636.4,964.3l13.5,3.1l10.3,-1.8l-13.5,-3.1z" stroke="#3523b6"/>
<path d="M649.9,967.4l13.5,3.1l6.5,-1.2l-2.2,-2.1l-7.5,-1.6z" stroke="none"/><path d="M649.9,967.4L663.4,970.5M663.4,970.5L669.9,969.3M667.7,967.2L660.2,965.6M660.2,965.6L649.9,967.4" fill="none" stroke="#3523b5"/>
<path d="M663.4,970.5l9.8,2.2l-3.3,-3.4z" stroke="none"/><path d="M663.4,970.5L673.2,972.7M669.9,969.3L663.4,970.5" fill="none" stroke="#3523b4"/>
<path d="M844.9,1000.5l8,0.7l10.3,-2.7l-6.4,-0.6z" stroke="none"/><path d="M844.9,1000.5L852.9,1001.2M852.9,1001.2L863.2,998.5M863.2,998.5L856.8,997.9" fill="none" stroke="#3523b4"/>
<path d="M852.9,1001.2l13.5,1.2l10.3,-2.8l-13.5,-1.1z" stroke="#3523b5"/>
<path d="M866.4,1002.4l13.5,1l10.4,-2.8l-13.6,-1z" stroke="#3524b7"/>
<path d="M879.9,1003.4l13.5,0.9l10.4,-2.8l-13.5,-0.9z" stroke="#3624b8"/>
<path d="M893.5,1004.3l13.6,0.7l10.3,-2.8l-13.5,-0.7z" stroke="#3625ba"/>
<path d="M907,1005l13.5,0.6l10.3,-2.9l-13.5,-0.5z" stroke="#3625bb"/>
<path d="M920.5,1005.6l13.5,0.4l10.4,-2.8l-13.6,-0.5z" stroke="#3726bd"/>
<path d="M934,1006l13.6,0.3l10.3,-2.9l-13.5,-0.2z" stroke="#3727bf"/>
<path d="M947.6,1006.3l13.5,0.1l10.3,-3.1l-13.5,0.1z" stroke="#3828c2"/>
<path d="M961.1,1006.4l13.5,-0.1l10.4,-3.2l-13.6,0.2z" stroke="#3829c4"/>
<path d="M974.6,1006.3l13.6,-0.3l10.3,-3.3l-13.5,0.4z" stroke="#392ac7"/>
<path d="M988.2,1006l13.5,-0.5l10.3,-3.4l-13.5,0.6z" stroke="#392bca"/>
<path d="M1001.7,1005.5l13.5,-0.6l10.4,-3.5l-13.6,0.7z" stroke="#3a2ccd"/>
<path d="M1015.2,1004.9l13.6,-0.7l10.3,-3.7l-13.5,0.9z" stroke="#3a2dd0"/>
<path d="M1028.8,1004.2l13.5,-0.9l10.3,-3.9l-13.5,1.1z" stroke="#3b2ed4"/>
<path d="M1042.3,1003.3l13.5,-1.1l10.3,-4l-13.5,1.2z" stroke="#3c30d7"/>
<path d="M1055.8,1002.2l13.5,-1.1l10.4,-4.2l-13.6,1.3z" stroke="#3c32da"/>
<path d="M1069.3,1001.1l13.6,-1.3l10.3,-4.4l-13.5,1.5z" stroke="#3d33dd"/>
<path d="M1082.9,999.8l13.5,-1.4l10.3,-4.6l-13.5,1.6z" stroke="#3d35e0"/>
<path d="M1096.4,998.4l13.5,-1.5l10.4,-4.8l-13.6,1.7z" stroke="#3e37e3"/>
<path d="M1109.9,996.9l13.6,-1.6l10.3,-4.9l-13.5,1.7z" stroke="#3e39e5"/>
<path d="M1123.5,995.3l13.5,-1.7l10.3,-5.1l-13.5,1.9z" stroke="#3f3ce8"/>
<path d="M314.9,895.5l13.5,2.8l10.3,-2.2l-13.5,-2.9z" stroke="#3a2cce"/>
<path d="M328.4,898.3l13.5,2.9l10.3,-2.1l-13.5,-3z" stroke="#3a2cce"/>
<path d="M341.9,901.2l13.5,2.9l10.4,-2.1l-13.6,-2.9z" stroke="#3a2ccd"/>
<path d="M355.4,904.1l13.6,3l10.3,-2l-13.5,-3.1z" stroke="#392bcc"/>
<path d="M369,907.1l13.5,3.1l10.3,-2.1l-13.5,-3z" stroke="#392bcb"/>
<path d="M382.5,910.2l13.5,3l10.4,-2l-13.6,-3.1z" stroke="#392bca"/>
<path d="M396,913.2l13.6,3.1l10.3,-2.1l-13.5,-3z" stroke="#392ac9"/>
<path d="M409.6,916.3l13.5,3l10.3,-2l-13.5,-3.1z" stroke="#392ac8"/>
<path d="M423.1,919.3l13.5,3.1l10.4,-2l-13.6,-3.1z" stroke="#3929c7"/>
<path d="M436.6,922.4l13.6,3.1l10.3,-2l-13.5,-3.1z" stroke="#3829c6"/>
<path d="M450.2,925.5l13.5,3.1l10.3,-2l-13.5,-3.1z" stroke="#3829c5"/>
<path d="M463.7,928.6l13.5,3l10.4,-1.9l-13.6,-3.1z" stroke="#3828c4"/>
<path d="M477.2,931.6l13.6,3.1l10.3,-1.9l-13.5,-3.1z" stroke="#3828c3"/>
<path d="M490.8,934.7l13.5,3.1l10.3,-1.9l-13.5,-3.1z" stroke="#3828c2"/>
<path d="M504.3,937.8l13.5,3l10.3,-1.7l-13.5,-3.2z" stroke="#3727c1"/>
<path d="M517.8,940.8l13.5,3.1l10.4,-1.7l-13.6,-3.1z" stroke="#3727c0"/>
<path d="M531.3,943.9l13.6,3.1l10.3,-1.7l-13.5,-3.1z" stroke="#3727bf"/>
<path d="M544.9,947l13.5,3.1l10.3,-1.6l-13.5,-3.2z" stroke="#3726be"/>
<path d="M558.4,950.1l13.5,3.2l10.4,-1.7l-13.6,-3.1z" stroke="#3726bd"/>
<path d="M571.9,953.3l13.6,3.1l10.3,-1.6l-13.5,-3.2z" stroke="#3625bb"/>
<path d="M585.5,956.4l13.5,3.2l10.3,-1.6l-13.5,-3.2z" stroke="#3625ba"/>
<path d="M599,959.6l13.5,3.3l10.3,-1.8l-13.5,-3.1z" stroke="#3625b9"/>
<path d="M612.5,962.9l13.6,3.2l10.3,-1.8l-13.6,-3.2z" stroke="#3624b8"/>
<path d="M626.1,966.1l13.5,3.2l10.3,-1.9l-13.5,-3.1z" stroke="#3524b7"/>
<path d="M639.6,969.3l13.5,3.2l10.3,-2l-13.5,-3.1z" stroke="#3523b6"/>
<path d="M653.1,972.5l13.5,3.1l7.4,-1.4l-0.8,-1.5l-9.8,-2.2z" stroke="none"/><path d="M653.1,972.5L666.6,975.6M666.6,975.6L674,974.2M673.2,972.7L663.4,970.5M663.4,970.5L653.1,972.5" fill="none" stroke="#3523b5"/>
<path d="M666.6,975.6l9.1,2.1l-1.7,-3.5z" stroke="none"/><path d="M666.6,975.6L675.7,977.7M674,974.2L666.6,975.6" fill="none" stroke="#3523b4"/>
<path d="M832,1003l10.5,0.9l10.4,-2.7l-8,-0.7z" stroke="none"/><path d="M832,1003L842.5,1003.9M842.5,1003.9L852.9,1001.2M852.9,1001.2L844.9,1000.5" fill="none" stroke="#3523b4"/>
<path d="M842.5,1003.9l13.6,1.2l10.3,-2.7l-13.5,-1.2z" stroke="#3523b5"/>
<path d="M856.1,1005.1l13.5,1l10.3,-2.7l-13.5,-1z" stroke="#3524b7"/>
<path d="M869.6,1006.1l13.5,0.9l10.3,-2.7l-13.5,-0.9z" stroke="#3624b8"/>
<path d="M883.1,1007l13.6,0.7l10.3,-2.7l-13.6,-0.7z" stroke="#3625ba"/>
<path d="M896.7,1007.7l13.5,0.7l10.3,-2.8l-13.5,-0.6z" stroke="#3625bb"/>
<path d="M910.2,1008.4l13.5,0.4l10.3,-2.8l-13.5,-0.4z" stroke="#3726bd"/>
<path d="M923.7,1008.8l13.5,0.4l10.4,-2.9l-13.6,-0.3z" stroke="#3727bf"/>
<path d="M937.2,1009.2l13.6,0.1l10.3,-2.9l-13.5,-0.1z" stroke="#3828c2"/>
<path d="M950.8,1009.3l13.5,0l10.3,-3l-13.5,0.1z" stroke="#3828c4"/>
<path d="M964.3,1009.3l13.5,-0.1l10.4,-3.2l-13.6,0.3z" stroke="#3929c7"/>
<path d="M977.8,1009.2l13.6,-0.3l10.3,-3.4l-13.5,0.5z" stroke="#392aca"/>
<path d="M991.4,1008.9l13.5,-0.5l10.3,-3.5l-13.5,0.6z" stroke="#3a2ccd"/>
<path d="M1004.9,1008.4l13.5,-0.6l10.4,-3.6l-13.6,0.7z" stroke="#3a2dd0"/>
<path d="M1018.4,1007.8l13.6,-0.7l10.3,-3.8l-13.5,0.9z" stroke="#3b2ed3"/>
<path d="M1032,1007.1l13.5,-0.9l10.3,-4l-13.5,1.1z" stroke="#3b2fd6"/>
<path d="M1045.5,1006.2l13.5,-1l10.3,-4.1l-13.5,1.1z" stroke="#3c31d9"/>
<path d="M1059,1005.2l13.5,-1.1l10.4,-4.3l-13.6,1.3z" stroke="#3c33dc"/>
<path d="M1072.5,1004.1l13.6,-1.2l10.3,-4.5l-13.5,1.4z" stroke="#3d34df"/>
<path d="M1086.1,1002.9l13.5,-1.3l10.3,-4.7l-13.5,1.5z" stroke="#3e36e1"/>
<path d="M1099.6,1001.6l13.5,-1.5l10.4,-4.8l-13.6,1.6z" stroke="#3e38e4"/>
<path d="M1113.1,1000.1l13.6,-1.5l10.3,-5l-13.5,1.7z" stroke="#3f3be7"/>
<path d="M304.5,897.9l13.6,2.8l10.3,-2.4l-13.5,-2.8z" stroke="#3a2ccf"/>
<path d="M318.1,900.7l13.5,2.9l10.3,-2.4l-13.5,-2.9z" stroke="#3a2cce"/>
<path d="M331.6,903.6l13.5,2.9l10.3,-2.4l-13.5,-2.9z" stroke="#3a2ccd"/>
<path d="M345.1,906.5l13.6,3l10.3,-2.4l-13.6,-3z" stroke="#3a2ccd"/>
<path d="M358.7,909.5l13.5,3l10.3,-2.3l-13.5,-3.1z" stroke="#392bcc"/>
<path d="M372.2,912.5l13.5,3l10.3,-2.3l-13.5,-3z" stroke="#392bcb"/>
<path d="M385.7,915.5l13.5,3l10.4,-2.2l-13.6,-3.1z" stroke="#392aca"/>
<path d="M399.2,918.5l13.6,3.1l10.3,-2.3l-13.5,-3z" stroke="#392ac9"/>
<path d="M412.8,921.6l13.5,3l10.3,-2.2l-13.5,-3.1z" stroke="#392ac8"/>
<path d="M426.3,924.6l13.5,3.1l10.4,-2.2l-13.6,-3.1z" stroke="#3929c7"/>
<path d="M439.8,927.7l13.6,3l10.3,-2.1l-13.5,-3.1z" stroke="#3829c6"/>
<path d="M453.4,930.7l13.5,3l10.3,-2.1l-13.5,-3z" stroke="#3829c5"/>
<path d="M466.9,933.7l13.5,3.1l10.4,-2.1l-13.6,-3.1z" stroke="#3828c4"/>
<path d="M480.4,936.8l13.6,3l10.3,-2l-13.5,-3.1z" stroke="#3828c3"/>
<path d="M494,939.8l13.5,3l10.3,-2l-13.5,-3z" stroke="#3828c2"/>
<path d="M507.5,942.8l13.5,3.1l10.3,-2l-13.5,-3.1z" stroke="#3727c1"/>
<path d="M521,945.9l13.5,3l10.4,-1.9l-13.6,-3.1z" stroke="#3727c0"/>
<path d="M534.5,948.9l13.6,3.1l10.3,-1.9l-13.5,-3.1z" stroke="#3727bf"/>
<path d="M548.1,952l13.5,3.1l10.3,-1.8l-13.5,-3.2z" stroke="#3726be"/>
<path d="M561.6,955.1l13.5,3.1l10.4,-1.8l-13.6,-3.1z" stroke="#3726bd"/>
<path d="M575.1,958.2l13.6,3.3l10.3,-1.9l-13.5,-3.2z" stroke="#3625bc"/>
<path d="M588.7,961.5l13.5,3.3l10.3,-1.9l-13.5,-3.3z" stroke="#3625ba"/>
<path d="M602.2,964.8l13.5,3.3l10.4,-2l-13.6,-3.2z" stroke="#3625b9"/>
<path d="M615.7,968.1l13.6,3.3l10.3,-2.1l-13.5,-3.2z" stroke="#3624b8"/>
<path d="M629.3,971.4l13.5,3.2l10.3,-2.1l-13.5,-3.2z" stroke="#3524b7"/>
<path d="M642.8,974.6l13.5,3.2l10.3,-2.2l-13.5,-3.1z" stroke="#3523b6"/>
<path d="M656.3,977.8l13.5,3.1l5.6,-1.2l0.3,-2l-9.1,-2.1z" stroke="none"/><path d="M656.3,977.8L669.8,980.9M669.8,980.9L675.4,979.7M675.7,977.7L666.6,975.6M666.6,975.6L656.3,977.8" fill="none" stroke="#3523b5"/>
<path d="M669.8,980.9l5.4,1.3l0.2,-2.5z" stroke="none"/><path d="M669.8,980.9L675.2,982.2M675.4,979.7L669.8,980.9" fill="none" stroke="#3523b4"/>
<path d="M818.1,1005.3l0.6,0l1.6,-0.4z" stroke="none"/><path d="M818.1,1005.3L818.7,1005.3M818.7,1005.3L820.3,1004.9" fill="none" stroke="#3523b3"/>
<path d="M818.7,1005.3l13.5,1.3l10.3,-2.7l-10.5,-0.9l-11.7,1.9z" stroke="none"/><path d="M818.7,1005.3L832.2,1006.6M832.2,1006.6L842.5,1003.9M842.5,1003.9L832,1003M820.3,1004.9L818.7,1005.3" fill="none" stroke="#3523b5"/>
<path d="M832.2,1006.6l13.5,1.1l10.4,-2.6l-13.6,-1.2z" stroke="#3523b6"/>
<path d="M845.7,1007.7l13.6,1l10.3,-2.6l-13.5,-1z" stroke="#3524b7"/>
<path d="M859.3,1008.7l13.5,0.9l10.3,-2.6l-13.5,-0.9z" stroke="#3624b8"/>
<path d="M872.8,1009.6l13.5,0.8l10.4,-2.7l-13.6,-0.7z" stroke="#3625ba"/>
<path d="M886.3,1010.4l13.5,0.7l10.4,-2.7l-13.5,-0.7z" stroke="#3625bc"/>
<path d="M899.9,1011.1l13.6,0.5l10.3,-2.8l-13.5,-0.4z" stroke="#3726bd"/>
<path d="M913.4,1011.6l13.5,0.4l10.3,-2.8l-13.5,-0.4z" stroke="#3727bf"/>
<path d="M926.9,1012l13.5,0.3l10.4,-3l-13.6,-0.1z" stroke="#3828c2"/>
<path d="M940.4,1012.3l13.6,0.1l10.3,-3.1l-13.5,0z" stroke="#3828c4"/>
<path d="M954,1012.4l13.5,-0.1l10.3,-3.1l-13.5,0.1z" stroke="#3829c7"/>
<path d="M967.5,1012.3l13.5,-0.1l10.4,-3.3l-13.6,0.3z" stroke="#392ac9"/>
<path d="M981,1012.2l13.6,-0.4l10.3,-3.4l-13.5,0.5z" stroke="#3a2bcc"/>
<path d="M994.6,1011.8l13.5,-0.4l10.3,-3.6l-13.5,0.6z" stroke="#3a2ccf"/>
<path d="M1008.1,1011.4l13.5,-0.6l10.4,-3.7l-13.6,0.7z" stroke="#3b2ed2"/>
<path d="M1021.6,1010.8l13.6,-0.7l10.3,-3.9l-13.5,0.9z" stroke="#3b2fd5"/>
<path d="M1035.2,1010.1l13.5,-0.9l10.3,-4l-13.5,1z" stroke="#3c30d8"/>
<path d="M1048.7,1009.2l13.5,-0.9l10.3,-4.2l-13.5,1.1z" stroke="#3c32db"/>
<path d="M1062.2,1008.3l13.5,-1.1l10.4,-4.3l-13.6,1.2z" stroke="#3d34de"/>
<path d="M1075.7,1007.2l13.6,-1.1l10.3,-4.5l-13.5,1.3z" stroke="#3d35e0"/>
<path d="M1089.3,1006.1l13.5,-1.3l10.3,-4.7l-13.5,1.5z" stroke="#3e37e3"/>
<path d="M1102.8,1004.8l13.5,-1.4l10.4,-4.8l-13.6,1.5z" stroke="#3e39e5"/>
<path d="M294.2,900.8l13.5,2.7l10.4,-2.8l-13.6,-2.8z" stroke="#3a2dcf"/>
<path d="M307.7,903.5l13.6,2.9l10.3,-2.8l-13.5,-2.9z" stroke="#3a2ccf"/>
<path d="M321.3,906.4l13.5,2.9l10.3,-2.8l-13.5,-2.9z" stroke="#3a2cce"/>
<path d="M334.8,909.3l13.5,2.9l10.4,-2.7l-13.6,-3z" stroke="#3a2ccd"/>
<path d="M348.3,912.2l13.5,3l10.4,-2.7l-13.5,-3z" stroke="#3a2bcc"/>
<path d="M361.9,915.2l13.6,3l10.3,-2.7l-13.5,-3z" stroke="#392bcb"/>
<path d="M375.4,918.2l13.5,3l10.3,-2.7l-13.5,-3z" stroke="#392bca"/>
<path d="M388.9,921.2l13.5,3l10.4,-2.6l-13.6,-3.1z" stroke="#392ac9"/>
<path d="M402.4,924.2l13.6,3l10.3,-2.6l-13.5,-3z" stroke="#392ac8"/>
<path d="M416,927.2l13.5,3l10.3,-2.5l-13.5,-3.1z" stroke="#392ac8"/>
<path d="M429.5,930.2l13.5,3l10.4,-2.5l-13.6,-3z" stroke="#3829c7"/>
<path d="M443,933.2l13.6,3l10.3,-2.5l-13.5,-3z" stroke="#3829c6"/>
<path d="M456.6,936.2l13.5,3l10.3,-2.4l-13.5,-3.1z" stroke="#3829c5"/>
<path d="M470.1,939.2l13.5,3l10.4,-2.4l-13.6,-3z" stroke="#3828c4"/>
<path d="M483.6,942.2l13.6,3l10.3,-2.4l-13.5,-3z" stroke="#3828c3"/>
<path d="M497.1,945.2l13.5,3l10.3,-2.3l-13.5,-3.1z" stroke="#3828c2"/>
<path d="M510.7,948.2l13.5,3l10.3,-2.3l-13.5,-3z" stroke="#3727c1"/>
<path d="M524.2,951.2l13.5,3l10.4,-2.2l-13.6,-3.1z" stroke="#3727c0"/>
<path d="M537.7,954.2l13.6,3l10.3,-2.1l-13.5,-3.1z" stroke="#3727bf"/>
<path d="M551.3,957.2l13.5,3.2l10.3,-2.2l-13.5,-3.1z" stroke="#3726be"/>
<path d="M564.8,960.4l13.5,3.2l10.4,-2.1l-13.6,-3.3z" stroke="#3726bd"/>
<path d="M578.3,963.6l13.6,3.4l10.3,-2.2l-13.5,-3.3z" stroke="#3625bb"/>
<path d="M591.9,967l13.5,3.3l10.3,-2.2l-13.5,-3.3z" stroke="#3625ba"/>
<path d="M605.4,970.3l13.5,3.3l10.4,-2.2l-13.6,-3.3z" stroke="#3624b9"/>
<path d="M618.9,973.6l13.5,3.3l10.4,-2.3l-13.5,-3.2z" stroke="#3624b8"/>
<path d="M632.5,976.9l13.6,3.2l10.3,-2.3l-13.5,-3.2z" stroke="#3524b6"/>
<path d="M646,980.1l13.5,3.2l10.3,-2.4l-13.5,-3.1z" stroke="#3523b5"/>
<path d="M659.5,983.3l13.3,3l2.4,-4.1l-5.4,-1.3z" stroke="none"/><path d="M659.5,983.3L672.8,986.3M675.2,982.2L669.8,980.9M669.8,980.9L659.5,983.3" fill="none" stroke="#3523b4"/>
<path d="M803,1007.4l5.3,0.5l10.4,-2.6l-0.6,0z" stroke="none"/><path d="M803,1007.4L808.3,1007.9M808.3,1007.9L818.7,1005.3M818.7,1005.3L818.1,1005.3" fill="none" stroke="#3523b4"/>
<path d="M808.3,1007.9l13.6,1.2l10.3,-2.5l-13.5,-1.3z" stroke="#3523b5"/>
<path d="M821.9,1009.1l13.5,1.1l10.3,-2.5l-13.5,-1.1z" stroke="#3523b6"/>
<path d="M835.4,1010.2l13.5,1.1l10.4,-2.6l-13.6,-1z" stroke="#3624b7"/>
<path d="M848.9,1011.3l13.6,0.9l10.3,-2.6l-13.5,-0.9z" stroke="#3624b9"/>
<path d="M862.5,1012.2l13.5,0.9l10.3,-2.7l-13.5,-0.8z" stroke="#3625ba"/>
<path d="M876,1013.1l13.5,0.7l10.3,-2.7l-13.5,-0.7z" stroke="#3626bc"/>
<path d="M889.5,1013.8l13.5,0.6l10.4,-2.8l-13.6,-0.5z" stroke="#3726be"/>
<path d="M903,1014.4l13.6,0.5l10.3,-2.9l-13.5,-0.4z" stroke="#3727c0"/>
<path d="M916.6,1014.9l13.5,0.3l10.3,-2.9l-13.5,-0.3z" stroke="#3828c2"/>
<path d="M930.1,1015.2l13.5,0.2l10.4,-3l-13.6,-0.1z" stroke="#3828c4"/>
<path d="M943.6,1015.4l13.6,0.1l10.3,-3.2l-13.5,0.1z" stroke="#3829c6"/>
<path d="M957.2,1015.5l13.5,-0.1l10.3,-3.2l-13.5,0.1z" stroke="#392ac9"/>
<path d="M970.7,1015.4l13.5,-0.2l10.4,-3.4l-13.6,0.4z" stroke="#392bcc"/>
<path d="M984.2,1015.2l13.6,-0.3l10.3,-3.5l-13.5,0.4z" stroke="#3a2cce"/>
<path d="M997.8,1014.9l13.5,-0.5l10.3,-3.6l-13.5,0.6z" stroke="#3a2dd1"/>
<path d="M1011.3,1014.4l13.5,-0.5l10.4,-3.8l-13.6,0.7z" stroke="#3b2fd4"/>
<path d="M1024.8,1013.9l13.6,-0.7l10.3,-4l-13.5,0.9z" stroke="#3c30d7"/>
<path d="M1038.4,1013.2l13.5,-0.8l10.3,-4.1l-13.5,0.9z" stroke="#3c31da"/>
<path d="M1051.9,1012.4l13.5,-0.9l10.3,-4.3l-13.5,1.1z" stroke="#3d33dd"/>
<path d="M1065.4,1011.5l13.5,-1l10.4,-4.4l-13.6,1.1z" stroke="#3d35df"/>
<path d="M1078.9,1010.5l13.6,-1.2l10.3,-4.5l-13.5,1.3z" stroke="#3e36e2"/>
<path d="M1092.5,1009.3l13.5,-1.2l10.3,-4.7l-13.5,1.4z" stroke="#3e38e4"/>
</g>
<g stroke="#000" stroke-width="5.4" fill="none">
<path d="M668.1,942.4v-27.5"/><path stroke-width="2.4" d="M646.1,940.4h44"/><path stroke-width="4" d="M668.1,940.9L650.4,922.3 M668.1,940.9L685.8,922.3"/>
<path d="M938.7,986.3v-27.5"/><path stroke-width="2.4" d="M916.7,984.3h44"/><path stroke-width="4" d="M938.7,984.8L921,966.1 M938.7,984.8L956.4,966.1"/>
<path d="M1351.9,870.7v-27.5"/><path stroke-width="2.4" d="M1329.9,868.7h44"/><path stroke-width="4" d="M1351.9,869.2L1334.2,850.5 M1351.9,869.2L1369.6,850.5"/>
<path d="M1357,869v-27.5"/><path stroke-width="2.4" d="M1335,867h44"/><path stroke-width="4" d="M1357,867.5L1339.3,848.8 M1357,867.5L1374.7,848.8"/>
</g>
<g fill="#000">
<circle cx="1620" cy="475" r="6.3"/>
<circle cx="1724.5" cy="277" r="6.3"/>
<circle cx="1520" cy="650" r="6.3"/>
<circle cx="1413.5" cy="775" r="6.3"/>
<circle cx="1420" cy="776" r="6.3"/>
<circle cx="1312.5" cy="876" r="6.3"/>
<circle cx="1207" cy="953.5" r="6.3"/>
<path d="M1174.2,551.3A6.6,6.6 0 1 1 1186.8,551.3Z"/>
<path d="M1180.7,551.3A6.6,6.6 0 1 1 1193.3,551.3Z"/>
<path d="M1348.3,533.3A6.6,6.6 0 1 1 1357.3,524.3Z"/>
<path d="M1073.8,705.3A6.6,6.6 0 1 1 1082.8,696.3Z"/>
<path d="M1243.8,731.3A6.6,6.6 0 1 1 1252.8,722.3Z"/>
<path d="M1141.8,854.8A6.6,6.6 0 1 1 1150.8,845.8Z"/>
<circle cx="776" cy="888" r="3.2"/><circle cx="1044.5" cy="952.5" r="4"/>
</g>
<g fill="none" stroke-width="2.2" stroke-linecap="round">
<path d="M1168,977.8L1178.3,972.3" stroke="#4041ed"/>
<path d="M1178.3,972.3L1188.6,966.6" stroke="#4043ee"/>
<path d="M1188.6,966.6L1199,960.9" stroke="#4044f0"/>
<path d="M1199,960.9L1209.3,955" stroke="#4046f1"/>
<path d="M1209.3,955L1219.6,949.3" stroke="#4148f2"/>
<path d="M1219.6,949.3L1230,943.4" stroke="#414af4"/>
<path d="M1230,943.4L1240.3,937.1" stroke="#414cf5"/>
<path d="M1240.3,937.1L1250.6,930.2" stroke="#414ef6"/>
<path d="M1250.6,930.2L1261,922.7" stroke="#4151f8"/>
<path d="M1261,922.7L1271.3,914.6" stroke="#4154f9"/>
<path d="M1271.3,914.6L1281.6,905.9" stroke="#4157fb"/>
<path d="M1281.6,905.9L1291.9,896.8" stroke="#415bfc"/>
<path d="M1291.9,896.8L1302.3,887.3" stroke="#405ffd"/>
<path d="M1302.3,887.3L1312.6,877.8" stroke="#3f63fe"/>
<path d="M1312.6,877.8L1322.9,868.6" stroke="#3c68fe"/>
<path d="M1322.9,868.6L1333.3,859.4" stroke="#3a6cff"/>
<path d="M1333.3,859.4L1343.6,849.9" stroke="#3671fe"/>
<path d="M1343.6,849.9L1353.9,840.3" stroke="#3276fd"/>
<path d="M1353.9,840.3L1364.2,830.3" stroke="#307bfb"/>
<path d="M1364.2,830.3L1374.6,820" stroke="#2e80f9"/>
<path d="M1374.6,820L1384.9,809.4" stroke="#2d85f7"/>
<path d="M1384.9,809.4L1395.2,798.5" stroke="#2d8bf4"/>
<path d="M1395.2,798.5L1405.6,787.4" stroke="#2c8ff0"/>
<path d="M1405.6,787.4L1415.9,776.3" stroke="#2a93ed"/>
<path d="M1415.9,776.3L1426.2,765.3" stroke="#2798ea"/>
<path d="M1426.2,765.3L1436.6,754.3" stroke="#259ce7"/>
<path d="M1436.6,754.3L1446.9,743" stroke="#23a0e5"/>
<path d="M1446.9,743L1457.2,731.3" stroke="#21a4e3"/>
<path d="M1457.2,731.3L1467.5,719.2" stroke="#1da8e0"/>
<path d="M1467.5,719.2L1477.9,706.6" stroke="#1aacdd"/>
<path d="M1477.9,706.6L1488.2,693.5" stroke="#14b0d8"/>
<path d="M1488.2,693.5L1498.5,679.9" stroke="#0ab4d1"/>
<path d="M1498.5,679.9L1508.9,665.6" stroke="#01b7ca"/>
<path d="M1508.9,665.6L1519.2,650.7" stroke="#03bbc2"/>
<path d="M1519.2,650.7L1529.5,634.9" stroke="#11beba"/>
<path d="M1529.5,634.9L1539.9,618.5" stroke="#21c1b0"/>
<path d="M1539.9,618.5L1550.2,601.7" stroke="#2dc4a6"/>
<path d="M1550.2,601.7L1560.5,584.5" stroke="#35c79a"/>
<path d="M1560.5,584.5L1570.8,567.1" stroke="#40ca8d"/>
<path d="M1570.8,567.1L1581.2,549.5" stroke="#52cc7e"/>
<path d="M1581.2,549.5L1591.5,531.7" stroke="#65cd6e"/>
<path d="M1591.5,531.7L1601.8,513.8" stroke="#7bcc5d"/>
<path d="M1601.8,513.8L1612.2,495.6" stroke="#92ca4b"/>
<path d="M1612.2,495.6L1622.5,476.6" stroke="#a9c73b"/>
<path d="M1622.5,476.6L1632.8,456.1" stroke="#bfc32d"/>
<path d="M1632.8,456.1L1643.2,435" stroke="#d5be28"/>
<path d="M1643.2,435L1653.5,413.8" stroke="#e9bb2f"/>
<path d="M1653.5,413.8L1663.8,392.8" stroke="#f9ba3d"/>
<path d="M1663.8,392.8L1674.2,372.1" stroke="#fec338"/>
<path d="M1674.2,372.1L1684.5,351.9" stroke="#fdce31"/>
<path d="M1684.5,351.9L1694.8,332.3" stroke="#f8d92b"/>
<path d="M1694.8,332.3L1705.1,313.3" stroke="#f5e427"/>
<path d="M1705.1,313.3L1715.5,295.2" stroke="#f5ee21"/>
<path d="M1715.5,295.2L1725.8,278.4" stroke="#f8f719"/>
</g>
<g stroke="#000" stroke-width="5.4" fill="none">
<path d="M294.2,900v50 M269.2,925h50"/><path stroke-width="4" d="M276.5,907.3l35.4,35.4 M276.5,942.7l35.4,-35.4"/>
<path d="M564.8,943.8v50 M539.8,968.8h50"/><path stroke-width="4" d="M547.1,951.2l35.4,35.4 M547.1,986.5l35.4,-35.4"/>
<path d="M835.4,987.7v50 M810.4,1012.7h50"/><path stroke-width="4" d="M817.7,995l35.4,35.4 M817.7,1030.3l35.4,-35.4"/>
<path d="M1106,1031.5v50 M1081,1056.5h50"/><path stroke-width="4" d="M1088.3,1038.8l35.4,35.4 M1088.3,1074.2l35.4,-35.4"/>
<path d="M1209.3,1002.6v50 M1184.3,1027.6h50"/><path stroke-width="4" d="M1191.6,1009.9l35.4,35.4 M1191.6,1045.3l35.4,-35.4"/>
<path d="M1312.6,973.7v50 M1287.6,998.7h50"/><path stroke-width="4" d="M1294.9,981l35.4,35.4 M1294.9,1016.4l35.4,-35.4"/>
<path d="M1415.9,944.8v50 M1390.9,969.8h50"/><path stroke-width="4" d="M1398.2,952.1l35.4,35.4 M1398.2,987.5l35.4,-35.4"/>
<path d="M1519.2,915.9v50 M1494.2,940.9h50"/><path stroke-width="4" d="M1501.5,923.2l35.4,35.4 M1501.5,958.6l35.4,-35.4"/>
<path d="M1522.5,915.5v50 M1497.5,940.5h50"/><path stroke-width="4" d="M1504.8,922.8l35.4,35.4 M1504.8,958.2l35.4,-35.4"/>
</g><g stroke="#000" stroke-width="4.2" fill="none">
<path d="M1617.5,885.8v50 M1592.5,910.8h50"/><path stroke-width="4" d="M1599.8,893.1l35.4,35.4 M1599.8,928.5l35.4,-35.4"/>
</g>
<g stroke="#262626" fill="none" stroke-linecap="butt">
<path d="M285,197V1048" stroke-width="4.4"/><path d="M283,1046.2L1108.4,1177.7L1732,1002.2" stroke-width="3.5" stroke-linejoin="miter"/>
</g><g stroke="#262626" stroke-width="3.5" fill="none">
<path d="M285,1046.5l-23.7,-3.8"/>
<path d="M285,925.6l-23.7,-3.8"/>
<path d="M285,804.6l-23.7,-3.8"/>
<path d="M285,683.7l-23.7,-3.8"/>
<path d="M285,562.8l-23.7,-3.8"/>
<path d="M285,441.9l-23.7,-3.8"/>
<path d="M285,320.9l-23.7,-3.8"/>
<path d="M285,200l-23.7,-3.8"/>
<path d="M293.9,1047.9l-25.2,7.1"/>
<path d="M564.7,1091.1l-25.2,7.1"/>
<path d="M835.5,1134.2l-25.2,7.1"/>
<path d="M1106.3,1177.4l-25.2,7.1"/>
<path d="M1110.4,1177.1l25.4,4.2"/>
<path d="M1316.7,1119.4l25.4,4.2"/>
<path d="M1523,1061.8l25.4,4.2"/>
<path d="M1729.3,1004.1l25.4,4.2"/>
</g>
<text x="249.5" y="1065.7" text-anchor="end">-5</text>
<text x="249.5" y="944.8" text-anchor="end">0</text>
<text x="249.5" y="823.8" text-anchor="end">5</text>
<text x="249.5" y="702.9" text-anchor="end">10</text>
<text x="249.5" y="582" text-anchor="end">15</text>
<text x="249.5" y="461.1" text-anchor="end">20</text>
<text x="249.5" y="340.1" text-anchor="end">25</text>
<text x="249.5" y="219.2" text-anchor="end">30</text>
<text x="239.7" y="1116.7" text-anchor="middle">3</text>
<text x="511.7" y="1159.7" text-anchor="middle">4</text>
<text x="782" y="1204.9" text-anchor="middle">5</text>
<text x="1053.3" y="1247.9" text-anchor="middle">6</text>
<text x="1161.7" y="1244.4" text-anchor="middle">2</text>
<text x="1369.3" y="1186.5" text-anchor="middle">4</text>
<text x="1575.9" y="1129.2" text-anchor="middle">6</text>
<text x="1782.8" y="1070.4" text-anchor="middle">8</text>
<text x="696.9" y="1309.3" text-anchor="middle">Destination node number</text>
<text x="1615" y="1298" text-anchor="middle">Session number</text>
<text transform="translate(84.6,622) rotate(-90)" text-anchor="middle" style="font-size:66.5px">Amount of out-degree violation</text>
<text transform="translate(161.2,624) rotate(-90)" text-anchor="middle" style="font-size:66.5px">relative to the constraint level</text>
<rect x="377.5" y="157.5" width="953.8" height="176.5" fill="#fff" stroke="#262626" stroke-width="3.8"/>
<rect x="401.6" y="178.8" width="251.6" height="56.8" fill="#fff" stroke="#4468ff" stroke-width="3.4"/>
<rect x="399.8" y="255" width="255.2" height="60.2" fill="#3e28b6"/>
<text x="670.6" y="229.7" style="fill:#000">Sequential optimization</text>
<text x="670.6" y="309.4" style="fill:#000">One-off optimization</text>
</svg></body></html>
